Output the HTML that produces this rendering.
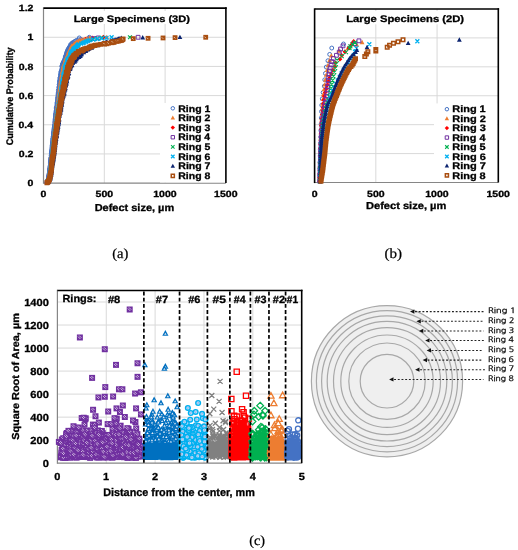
<!DOCTYPE html>
<html><head><meta charset="utf-8"><title>Large Specimens defect distributions</title>
<style>html,body{margin:0;padding:0;background:#fff;}svg{display:block;filter:blur(0.3px);}.p8{fill:#7030A0}.w8{fill:none;stroke:#fff;stroke-width:.75;opacity:.9}.p7{fill:#0070C0}.w7{fill:#e4ecf8}.p6{fill:#b8e6fa;stroke:#00B0F0;stroke-width:1.4}.w6{fill:none;stroke:#7070d8;stroke-width:.45}.p8a{fill:#A94E10}.w8a{fill:none;stroke:#fff;stroke-width:.7;opacity:.9}text{white-space:pre;text-rendering:geometricPrecision;}</style>
</head><body>
<svg width="518" height="550" viewBox="0 0 518 550"><line x1="43.5" y1="153.93" x2="225.9" y2="153.93" stroke="#d9d9d9" stroke-width="1"/>
<line x1="43.5" y1="124.77" x2="225.9" y2="124.77" stroke="#d9d9d9" stroke-width="1"/>
<line x1="43.5" y1="95.6" x2="225.9" y2="95.6" stroke="#d9d9d9" stroke-width="1"/>
<line x1="43.5" y1="66.43" x2="225.9" y2="66.43" stroke="#d9d9d9" stroke-width="1"/>
<line x1="43.5" y1="37.27" x2="225.9" y2="37.27" stroke="#d9d9d9" stroke-width="1"/>
<line x1="104.3" y1="183.1" x2="104.3" y2="8.1" stroke="#d9d9d9" stroke-width="1"/>
<line x1="165.1" y1="183.1" x2="165.1" y2="8.1" stroke="#d9d9d9" stroke-width="1"/>
<line x1="314.6" y1="153.58" x2="498.3" y2="153.58" stroke="#d9d9d9" stroke-width="1"/>
<line x1="314.6" y1="124.67" x2="498.3" y2="124.67" stroke="#d9d9d9" stroke-width="1"/>
<line x1="314.6" y1="95.75" x2="498.3" y2="95.75" stroke="#d9d9d9" stroke-width="1"/>
<line x1="314.6" y1="66.83" x2="498.3" y2="66.83" stroke="#d9d9d9" stroke-width="1"/>
<line x1="314.6" y1="37.92" x2="498.3" y2="37.92" stroke="#d9d9d9" stroke-width="1"/>
<line x1="375.83" y1="182.5" x2="375.83" y2="9" stroke="#d9d9d9" stroke-width="1"/>
<line x1="437.07" y1="182.5" x2="437.07" y2="9" stroke="#d9d9d9" stroke-width="1"/>
<line x1="57.4" y1="440.17" x2="301.7" y2="440.17" stroke="#d9d9d9" stroke-width="1"/>
<line x1="57.4" y1="417.15" x2="301.7" y2="417.15" stroke="#d9d9d9" stroke-width="1"/>
<line x1="57.4" y1="394.12" x2="301.7" y2="394.12" stroke="#d9d9d9" stroke-width="1"/>
<line x1="57.4" y1="371.09" x2="301.7" y2="371.09" stroke="#d9d9d9" stroke-width="1"/>
<line x1="57.4" y1="348.07" x2="301.7" y2="348.07" stroke="#d9d9d9" stroke-width="1"/>
<line x1="57.4" y1="325.04" x2="301.7" y2="325.04" stroke="#d9d9d9" stroke-width="1"/>
<line x1="57.4" y1="302.01" x2="301.7" y2="302.01" stroke="#d9d9d9" stroke-width="1"/>
<line x1="106.26" y1="463.2" x2="106.26" y2="290.5" stroke="#d9d9d9" stroke-width="1"/>
<line x1="155.12" y1="463.2" x2="155.12" y2="290.5" stroke="#d9d9d9" stroke-width="1"/>
<line x1="203.98" y1="463.2" x2="203.98" y2="290.5" stroke="#d9d9d9" stroke-width="1"/>
<line x1="252.84" y1="463.2" x2="252.84" y2="290.5" stroke="#d9d9d9" stroke-width="1"/>
<line x1="43.5" y1="183.1" x2="225.9" y2="183.1" stroke="#868686" stroke-width="1.2"/>
<line x1="43.5" y1="7.45" x2="43.5" y2="183.7" stroke="#868686" stroke-width="1.2"/>
<line x1="314.6" y1="182.5" x2="498.3" y2="182.5" stroke="#868686" stroke-width="1.2"/>
<line x1="314.6" y1="8.35" x2="314.6" y2="183.1" stroke="#000" stroke-width="1.6"/>
<line x1="57.4" y1="463.2" x2="301.7" y2="463.2" stroke="#868686" stroke-width="1.2"/>
<line x1="57.4" y1="289.85" x2="57.4" y2="463.8" stroke="#868686" stroke-width="1.2"/>
<path d="M47.11 180.04l2.4 2.4l-2.4 2.4l-2.4 -2.4ZM47.84 179.38l2.4 2.4l-2.4 2.4l-2.4 -2.4ZM47.94 178.72l2.4 2.4l-2.4 2.4l-2.4 -2.4ZM48.39 178.06l2.4 2.4l-2.4 2.4l-2.4 -2.4ZM48.43 177.4l2.4 2.4l-2.4 2.4l-2.4 -2.4ZM48.71 176.74l2.4 2.4l-2.4 2.4l-2.4 -2.4ZM49.03 176.08l2.4 2.4l-2.4 2.4l-2.4 -2.4ZM48.97 175.42l2.4 2.4l-2.4 2.4l-2.4 -2.4ZM49.1 174.76l2.4 2.4l-2.4 2.4l-2.4 -2.4ZM49.01 174.1l2.4 2.4l-2.4 2.4l-2.4 -2.4ZM49.35 173.44l2.4 2.4l-2.4 2.4l-2.4 -2.4ZM49.36 172.78l2.4 2.4l-2.4 2.4l-2.4 -2.4ZM49.37 172.12l2.4 2.4l-2.4 2.4l-2.4 -2.4ZM49.63 171.46l2.4 2.4l-2.4 2.4l-2.4 -2.4ZM49.55 170.8l2.4 2.4l-2.4 2.4l-2.4 -2.4ZM49.69 170.14l2.4 2.4l-2.4 2.4l-2.4 -2.4ZM49.67 169.48l2.4 2.4l-2.4 2.4l-2.4 -2.4ZM49.86 168.82l2.4 2.4l-2.4 2.4l-2.4 -2.4ZM49.88 168.16l2.4 2.4l-2.4 2.4l-2.4 -2.4ZM50 167.5l2.4 2.4l-2.4 2.4l-2.4 -2.4ZM50.3 166.84l2.4 2.4l-2.4 2.4l-2.4 -2.4ZM50.21 166.18l2.4 2.4l-2.4 2.4l-2.4 -2.4ZM50.36 165.52l2.4 2.4l-2.4 2.4l-2.4 -2.4ZM50.64 164.86l2.4 2.4l-2.4 2.4l-2.4 -2.4ZM50.7 164.2l2.4 2.4l-2.4 2.4l-2.4 -2.4ZM50.67 163.54l2.4 2.4l-2.4 2.4l-2.4 -2.4ZM50.66 162.88l2.4 2.4l-2.4 2.4l-2.4 -2.4ZM50.62 162.22l2.4 2.4l-2.4 2.4l-2.4 -2.4ZM50.64 161.56l2.4 2.4l-2.4 2.4l-2.4 -2.4ZM51.07 160.9l2.4 2.4l-2.4 2.4l-2.4 -2.4ZM50.94 160.24l2.4 2.4l-2.4 2.4l-2.4 -2.4ZM50.84 159.58l2.4 2.4l-2.4 2.4l-2.4 -2.4ZM51.14 158.92l2.4 2.4l-2.4 2.4l-2.4 -2.4ZM51.29 158.26l2.4 2.4l-2.4 2.4l-2.4 -2.4ZM51.29 157.6l2.4 2.4l-2.4 2.4l-2.4 -2.4ZM51.52 156.94l2.4 2.4l-2.4 2.4l-2.4 -2.4ZM51.18 156.28l2.4 2.4l-2.4 2.4l-2.4 -2.4ZM51.49 155.62l2.4 2.4l-2.4 2.4l-2.4 -2.4ZM51.54 154.96l2.4 2.4l-2.4 2.4l-2.4 -2.4ZM51.43 154.3l2.4 2.4l-2.4 2.4l-2.4 -2.4ZM51.79 153.64l2.4 2.4l-2.4 2.4l-2.4 -2.4ZM51.98 152.99l2.4 2.4l-2.4 2.4l-2.4 -2.4ZM51.93 152.33l2.4 2.4l-2.4 2.4l-2.4 -2.4ZM51.85 151.67l2.4 2.4l-2.4 2.4l-2.4 -2.4ZM52.21 151.01l2.4 2.4l-2.4 2.4l-2.4 -2.4ZM52.1 150.35l2.4 2.4l-2.4 2.4l-2.4 -2.4ZM52.17 149.69l2.4 2.4l-2.4 2.4l-2.4 -2.4ZM52.36 149.03l2.4 2.4l-2.4 2.4l-2.4 -2.4ZM52.11 148.37l2.4 2.4l-2.4 2.4l-2.4 -2.4ZM52.53 147.71l2.4 2.4l-2.4 2.4l-2.4 -2.4ZM52.53 147.05l2.4 2.4l-2.4 2.4l-2.4 -2.4ZM52.65 146.39l2.4 2.4l-2.4 2.4l-2.4 -2.4ZM52.4 145.73l2.4 2.4l-2.4 2.4l-2.4 -2.4ZM52.8 145.07l2.4 2.4l-2.4 2.4l-2.4 -2.4ZM52.53 144.41l2.4 2.4l-2.4 2.4l-2.4 -2.4ZM52.54 143.75l2.4 2.4l-2.4 2.4l-2.4 -2.4ZM53.04 143.09l2.4 2.4l-2.4 2.4l-2.4 -2.4ZM53.12 142.43l2.4 2.4l-2.4 2.4l-2.4 -2.4ZM53.2 141.77l2.4 2.4l-2.4 2.4l-2.4 -2.4ZM53.04 141.11l2.4 2.4l-2.4 2.4l-2.4 -2.4ZM53 140.45l2.4 2.4l-2.4 2.4l-2.4 -2.4ZM52.92 139.79l2.4 2.4l-2.4 2.4l-2.4 -2.4ZM53.36 139.13l2.4 2.4l-2.4 2.4l-2.4 -2.4ZM53.48 138.47l2.4 2.4l-2.4 2.4l-2.4 -2.4ZM53.62 137.81l2.4 2.4l-2.4 2.4l-2.4 -2.4ZM53.37 137.15l2.4 2.4l-2.4 2.4l-2.4 -2.4ZM53.4 136.49l2.4 2.4l-2.4 2.4l-2.4 -2.4ZM53.73 135.83l2.4 2.4l-2.4 2.4l-2.4 -2.4ZM53.91 135.17l2.4 2.4l-2.4 2.4l-2.4 -2.4ZM54.09 134.51l2.4 2.4l-2.4 2.4l-2.4 -2.4ZM53.67 133.85l2.4 2.4l-2.4 2.4l-2.4 -2.4ZM53.95 133.19l2.4 2.4l-2.4 2.4l-2.4 -2.4ZM54.29 132.53l2.4 2.4l-2.4 2.4l-2.4 -2.4ZM54.07 131.87l2.4 2.4l-2.4 2.4l-2.4 -2.4ZM54.26 131.21l2.4 2.4l-2.4 2.4l-2.4 -2.4ZM53.98 130.55l2.4 2.4l-2.4 2.4l-2.4 -2.4ZM54.48 129.89l2.4 2.4l-2.4 2.4l-2.4 -2.4ZM54.72 129.23l2.4 2.4l-2.4 2.4l-2.4 -2.4ZM54.75 128.57l2.4 2.4l-2.4 2.4l-2.4 -2.4ZM54.87 127.91l2.4 2.4l-2.4 2.4l-2.4 -2.4ZM54.8 127.25l2.4 2.4l-2.4 2.4l-2.4 -2.4ZM54.61 126.59l2.4 2.4l-2.4 2.4l-2.4 -2.4ZM55.05 125.93l2.4 2.4l-2.4 2.4l-2.4 -2.4ZM54.76 125.27l2.4 2.4l-2.4 2.4l-2.4 -2.4ZM55.27 124.61l2.4 2.4l-2.4 2.4l-2.4 -2.4ZM54.82 123.95l2.4 2.4l-2.4 2.4l-2.4 -2.4ZM55.44 123.29l2.4 2.4l-2.4 2.4l-2.4 -2.4ZM55.07 122.63l2.4 2.4l-2.4 2.4l-2.4 -2.4ZM55.29 121.97l2.4 2.4l-2.4 2.4l-2.4 -2.4ZM55.32 121.31l2.4 2.4l-2.4 2.4l-2.4 -2.4ZM55.66 120.65l2.4 2.4l-2.4 2.4l-2.4 -2.4ZM55.37 119.99l2.4 2.4l-2.4 2.4l-2.4 -2.4ZM55.6 119.33l2.4 2.4l-2.4 2.4l-2.4 -2.4ZM55.39 118.67l2.4 2.4l-2.4 2.4l-2.4 -2.4ZM55.65 118.01l2.4 2.4l-2.4 2.4l-2.4 -2.4ZM55.84 117.35l2.4 2.4l-2.4 2.4l-2.4 -2.4ZM55.69 116.69l2.4 2.4l-2.4 2.4l-2.4 -2.4ZM56.16 116.03l2.4 2.4l-2.4 2.4l-2.4 -2.4ZM56.04 115.37l2.4 2.4l-2.4 2.4l-2.4 -2.4ZM56.39 114.71l2.4 2.4l-2.4 2.4l-2.4 -2.4ZM56.41 114.05l2.4 2.4l-2.4 2.4l-2.4 -2.4ZM56.32 113.39l2.4 2.4l-2.4 2.4l-2.4 -2.4ZM56.74 112.73l2.4 2.4l-2.4 2.4l-2.4 -2.4ZM56.64 112.07l2.4 2.4l-2.4 2.4l-2.4 -2.4ZM56.86 111.41l2.4 2.4l-2.4 2.4l-2.4 -2.4ZM56.57 110.75l2.4 2.4l-2.4 2.4l-2.4 -2.4ZM56.81 110.09l2.4 2.4l-2.4 2.4l-2.4 -2.4ZM56.62 109.43l2.4 2.4l-2.4 2.4l-2.4 -2.4ZM57.35 108.77l2.4 2.4l-2.4 2.4l-2.4 -2.4ZM56.82 108.11l2.4 2.4l-2.4 2.4l-2.4 -2.4ZM56.91 107.45l2.4 2.4l-2.4 2.4l-2.4 -2.4ZM56.85 106.79l2.4 2.4l-2.4 2.4l-2.4 -2.4ZM57.08 106.13l2.4 2.4l-2.4 2.4l-2.4 -2.4ZM57.59 105.47l2.4 2.4l-2.4 2.4l-2.4 -2.4ZM57.62 104.81l2.4 2.4l-2.4 2.4l-2.4 -2.4ZM57.23 104.15l2.4 2.4l-2.4 2.4l-2.4 -2.4ZM57.52 103.49l2.4 2.4l-2.4 2.4l-2.4 -2.4ZM57.65 102.83l2.4 2.4l-2.4 2.4l-2.4 -2.4ZM57.94 102.17l2.4 2.4l-2.4 2.4l-2.4 -2.4ZM57.85 101.51l2.4 2.4l-2.4 2.4l-2.4 -2.4ZM58.06 100.85l2.4 2.4l-2.4 2.4l-2.4 -2.4ZM58.37 100.19l2.4 2.4l-2.4 2.4l-2.4 -2.4ZM58.36 99.53l2.4 2.4l-2.4 2.4l-2.4 -2.4ZM58.13 98.87l2.4 2.4l-2.4 2.4l-2.4 -2.4ZM58.3 98.22l2.4 2.4l-2.4 2.4l-2.4 -2.4ZM58.31 97.56l2.4 2.4l-2.4 2.4l-2.4 -2.4ZM58.16 96.9l2.4 2.4l-2.4 2.4l-2.4 -2.4ZM58.32 96.24l2.4 2.4l-2.4 2.4l-2.4 -2.4ZM58.47 95.58l2.4 2.4l-2.4 2.4l-2.4 -2.4ZM58.58 94.92l2.4 2.4l-2.4 2.4l-2.4 -2.4ZM58.66 94.26l2.4 2.4l-2.4 2.4l-2.4 -2.4ZM58.98 93.6l2.4 2.4l-2.4 2.4l-2.4 -2.4ZM59.44 92.94l2.4 2.4l-2.4 2.4l-2.4 -2.4ZM59.33 92.28l2.4 2.4l-2.4 2.4l-2.4 -2.4ZM59.43 91.62l2.4 2.4l-2.4 2.4l-2.4 -2.4ZM59.49 90.96l2.4 2.4l-2.4 2.4l-2.4 -2.4ZM59.42 90.3l2.4 2.4l-2.4 2.4l-2.4 -2.4ZM59.81 89.64l2.4 2.4l-2.4 2.4l-2.4 -2.4ZM59.68 88.98l2.4 2.4l-2.4 2.4l-2.4 -2.4ZM59.58 88.32l2.4 2.4l-2.4 2.4l-2.4 -2.4ZM59.26 87.66l2.4 2.4l-2.4 2.4l-2.4 -2.4ZM59.74 87l2.4 2.4l-2.4 2.4l-2.4 -2.4ZM59.56 86.34l2.4 2.4l-2.4 2.4l-2.4 -2.4ZM59.57 85.68l2.4 2.4l-2.4 2.4l-2.4 -2.4ZM60.02 85.02l2.4 2.4l-2.4 2.4l-2.4 -2.4ZM60.39 84.36l2.4 2.4l-2.4 2.4l-2.4 -2.4ZM59.98 83.7l2.4 2.4l-2.4 2.4l-2.4 -2.4ZM60.55 83.04l2.4 2.4l-2.4 2.4l-2.4 -2.4ZM60.39 82.38l2.4 2.4l-2.4 2.4l-2.4 -2.4ZM60.1 81.72l2.4 2.4l-2.4 2.4l-2.4 -2.4ZM61.03 81.06l2.4 2.4l-2.4 2.4l-2.4 -2.4ZM60.54 80.4l2.4 2.4l-2.4 2.4l-2.4 -2.4ZM60.52 79.74l2.4 2.4l-2.4 2.4l-2.4 -2.4ZM61.18 79.08l2.4 2.4l-2.4 2.4l-2.4 -2.4ZM60.52 78.42l2.4 2.4l-2.4 2.4l-2.4 -2.4ZM61.25 77.76l2.4 2.4l-2.4 2.4l-2.4 -2.4ZM60.77 77.1l2.4 2.4l-2.4 2.4l-2.4 -2.4ZM61.08 76.44l2.4 2.4l-2.4 2.4l-2.4 -2.4ZM61.01 75.78l2.4 2.4l-2.4 2.4l-2.4 -2.4ZM61.76 75.12l2.4 2.4l-2.4 2.4l-2.4 -2.4ZM61.37 74.46l2.4 2.4l-2.4 2.4l-2.4 -2.4ZM62.1 73.8l2.4 2.4l-2.4 2.4l-2.4 -2.4ZM61.82 73.14l2.4 2.4l-2.4 2.4l-2.4 -2.4ZM61.99 72.48l2.4 2.4l-2.4 2.4l-2.4 -2.4ZM61.9 71.82l2.4 2.4l-2.4 2.4l-2.4 -2.4ZM61.77 71.16l2.4 2.4l-2.4 2.4l-2.4 -2.4ZM61.96 70.5l2.4 2.4l-2.4 2.4l-2.4 -2.4ZM62.68 69.84l2.4 2.4l-2.4 2.4l-2.4 -2.4ZM61.94 69.18l2.4 2.4l-2.4 2.4l-2.4 -2.4ZM62.94 68.52l2.4 2.4l-2.4 2.4l-2.4 -2.4ZM62.78 67.86l2.4 2.4l-2.4 2.4l-2.4 -2.4ZM62.42 67.2l2.4 2.4l-2.4 2.4l-2.4 -2.4ZM62.85 66.54l2.4 2.4l-2.4 2.4l-2.4 -2.4ZM62.65 65.88l2.4 2.4l-2.4 2.4l-2.4 -2.4ZM62.76 65.22l2.4 2.4l-2.4 2.4l-2.4 -2.4ZM63 64.56l2.4 2.4l-2.4 2.4l-2.4 -2.4ZM62.66 63.9l2.4 2.4l-2.4 2.4l-2.4 -2.4ZM63.44 63.24l2.4 2.4l-2.4 2.4l-2.4 -2.4ZM64.25 62.58l2.4 2.4l-2.4 2.4l-2.4 -2.4ZM63.64 61.92l2.4 2.4l-2.4 2.4l-2.4 -2.4ZM64.44 61.26l2.4 2.4l-2.4 2.4l-2.4 -2.4ZM64.29 60.6l2.4 2.4l-2.4 2.4l-2.4 -2.4ZM64.23 59.94l2.4 2.4l-2.4 2.4l-2.4 -2.4ZM65.36 59.28l2.4 2.4l-2.4 2.4l-2.4 -2.4ZM64.46 58.62l2.4 2.4l-2.4 2.4l-2.4 -2.4ZM65.06 57.96l2.4 2.4l-2.4 2.4l-2.4 -2.4ZM66.24 57.3l2.4 2.4l-2.4 2.4l-2.4 -2.4ZM65.51 56.64l2.4 2.4l-2.4 2.4l-2.4 -2.4ZM66.58 55.98l2.4 2.4l-2.4 2.4l-2.4 -2.4ZM66.51 55.32l2.4 2.4l-2.4 2.4l-2.4 -2.4ZM67.07 54.66l2.4 2.4l-2.4 2.4l-2.4 -2.4ZM67.1 54l2.4 2.4l-2.4 2.4l-2.4 -2.4ZM67 53.34l2.4 2.4l-2.4 2.4l-2.4 -2.4ZM67.86 52.68l2.4 2.4l-2.4 2.4l-2.4 -2.4ZM67.09 52.02l2.4 2.4l-2.4 2.4l-2.4 -2.4ZM67.98 51.36l2.4 2.4l-2.4 2.4l-2.4 -2.4ZM68.13 50.7l2.4 2.4l-2.4 2.4l-2.4 -2.4ZM68.53 50.04l2.4 2.4l-2.4 2.4l-2.4 -2.4ZM68.25 49.38l2.4 2.4l-2.4 2.4l-2.4 -2.4ZM68.63 48.72l2.4 2.4l-2.4 2.4l-2.4 -2.4ZM69.4 48.06l2.4 2.4l-2.4 2.4l-2.4 -2.4ZM69.39 47.4l2.4 2.4l-2.4 2.4l-2.4 -2.4ZM70.28 46.74l2.4 2.4l-2.4 2.4l-2.4 -2.4ZM70.24 46.08l2.4 2.4l-2.4 2.4l-2.4 -2.4ZM70.93 45.42l2.4 2.4l-2.4 2.4l-2.4 -2.4ZM70.98 44.76l2.4 2.4l-2.4 2.4l-2.4 -2.4ZM71.43 44.1l2.4 2.4l-2.4 2.4l-2.4 -2.4ZM71.79 43.45l2.4 2.4l-2.4 2.4l-2.4 -2.4ZM73.58 42.79l2.4 2.4l-2.4 2.4l-2.4 -2.4ZM73.58 42.13l2.4 2.4l-2.4 2.4l-2.4 -2.4ZM74.23 41.47l2.4 2.4l-2.4 2.4l-2.4 -2.4ZM76.95 40.81l2.4 2.4l-2.4 2.4l-2.4 -2.4ZM77.17 40.15l2.4 2.4l-2.4 2.4l-2.4 -2.4ZM78.75 39.49l2.4 2.4l-2.4 2.4l-2.4 -2.4ZM79.29 38.83l2.4 2.4l-2.4 2.4l-2.4 -2.4ZM80.82 38.17l2.4 2.4l-2.4 2.4l-2.4 -2.4ZM83 37.51l2.4 2.4l-2.4 2.4l-2.4 -2.4ZM85.46 36.85l2.4 2.4l-2.4 2.4l-2.4 -2.4ZM88.68 36.19l2.4 2.4l-2.4 2.4l-2.4 -2.4ZM92.14 35.53l2.4 2.4l-2.4 2.4l-2.4 -2.4ZM103.33 34.87l2.4 2.4l-2.4 2.4l-2.4 -2.4Z" fill="#FF0000" stroke="none" stroke-width="1"/>
<path d="M45.18 180.54h3.8v3.8h-3.8ZM46 179.88h3.8v3.8h-3.8ZM46.1 179.22h3.8v3.8h-3.8ZM46.43 178.56h3.8v3.8h-3.8ZM46.55 177.9h3.8v3.8h-3.8ZM46.98 177.24h3.8v3.8h-3.8ZM47.02 176.58h3.8v3.8h-3.8ZM47.06 175.92h3.8v3.8h-3.8ZM47.11 175.26h3.8v3.8h-3.8ZM47.24 174.6h3.8v3.8h-3.8ZM47.33 173.94h3.8v3.8h-3.8ZM47.54 173.28h3.8v3.8h-3.8ZM47.6 172.62h3.8v3.8h-3.8ZM47.88 171.96h3.8v3.8h-3.8ZM47.98 171.3h3.8v3.8h-3.8ZM48.01 170.64h3.8v3.8h-3.8ZM48.06 169.98h3.8v3.8h-3.8ZM48.23 169.32h3.8v3.8h-3.8ZM48.37 168.66h3.8v3.8h-3.8ZM48.1 168h3.8v3.8h-3.8ZM48.24 167.34h3.8v3.8h-3.8ZM48.44 166.68h3.8v3.8h-3.8ZM48.4 166.02h3.8v3.8h-3.8ZM48.68 165.36h3.8v3.8h-3.8ZM48.6 164.7h3.8v3.8h-3.8ZM48.68 164.04h3.8v3.8h-3.8ZM48.76 163.38h3.8v3.8h-3.8ZM48.75 162.72h3.8v3.8h-3.8ZM49.1 162.06h3.8v3.8h-3.8ZM49.14 161.4h3.8v3.8h-3.8ZM49.19 160.74h3.8v3.8h-3.8ZM49.01 160.08h3.8v3.8h-3.8ZM49.26 159.42h3.8v3.8h-3.8ZM49.46 158.76h3.8v3.8h-3.8ZM49.29 158.1h3.8v3.8h-3.8ZM49.47 157.44h3.8v3.8h-3.8ZM49.38 156.78h3.8v3.8h-3.8ZM49.49 156.12h3.8v3.8h-3.8ZM49.63 155.46h3.8v3.8h-3.8ZM49.81 154.8h3.8v3.8h-3.8ZM49.92 154.14h3.8v3.8h-3.8ZM50.21 153.49h3.8v3.8h-3.8ZM50.01 152.83h3.8v3.8h-3.8ZM49.94 152.17h3.8v3.8h-3.8ZM50.42 151.51h3.8v3.8h-3.8ZM50.09 150.85h3.8v3.8h-3.8ZM50.17 150.19h3.8v3.8h-3.8ZM50.7 149.53h3.8v3.8h-3.8ZM50.65 148.87h3.8v3.8h-3.8ZM50.5 148.21h3.8v3.8h-3.8ZM50.46 147.55h3.8v3.8h-3.8ZM50.66 146.89h3.8v3.8h-3.8ZM50.7 146.23h3.8v3.8h-3.8ZM51.07 145.57h3.8v3.8h-3.8ZM50.89 144.91h3.8v3.8h-3.8ZM50.77 144.25h3.8v3.8h-3.8ZM51.32 143.59h3.8v3.8h-3.8ZM51.21 142.93h3.8v3.8h-3.8ZM51 142.27h3.8v3.8h-3.8ZM51.07 141.61h3.8v3.8h-3.8ZM51.34 140.95h3.8v3.8h-3.8ZM51.2 140.29h3.8v3.8h-3.8ZM51.59 139.63h3.8v3.8h-3.8ZM51.66 138.97h3.8v3.8h-3.8ZM51.38 138.31h3.8v3.8h-3.8ZM51.93 137.65h3.8v3.8h-3.8ZM51.99 136.99h3.8v3.8h-3.8ZM52.15 136.33h3.8v3.8h-3.8ZM52.08 135.67h3.8v3.8h-3.8ZM52.17 135.01h3.8v3.8h-3.8ZM51.92 134.35h3.8v3.8h-3.8ZM51.91 133.69h3.8v3.8h-3.8ZM52.01 133.03h3.8v3.8h-3.8ZM52.67 132.37h3.8v3.8h-3.8ZM52.55 131.71h3.8v3.8h-3.8ZM52.83 131.05h3.8v3.8h-3.8ZM52.52 130.39h3.8v3.8h-3.8ZM52.87 129.73h3.8v3.8h-3.8ZM52.5 129.07h3.8v3.8h-3.8ZM52.65 128.41h3.8v3.8h-3.8ZM52.8 127.75h3.8v3.8h-3.8ZM53.07 127.09h3.8v3.8h-3.8ZM53.17 126.43h3.8v3.8h-3.8ZM53.21 125.77h3.8v3.8h-3.8ZM53.25 125.11h3.8v3.8h-3.8ZM53.44 124.45h3.8v3.8h-3.8ZM53.82 123.79h3.8v3.8h-3.8ZM53.54 123.13h3.8v3.8h-3.8ZM53.89 122.47h3.8v3.8h-3.8ZM53.4 121.81h3.8v3.8h-3.8ZM53.71 121.15h3.8v3.8h-3.8ZM53.92 120.49h3.8v3.8h-3.8ZM54.04 119.83h3.8v3.8h-3.8ZM53.84 119.17h3.8v3.8h-3.8ZM54.03 118.51h3.8v3.8h-3.8ZM54.52 117.85h3.8v3.8h-3.8ZM54.37 117.19h3.8v3.8h-3.8ZM54.4 116.53h3.8v3.8h-3.8ZM54.08 115.87h3.8v3.8h-3.8ZM54.15 115.21h3.8v3.8h-3.8ZM54.35 114.55h3.8v3.8h-3.8ZM54.37 113.89h3.8v3.8h-3.8ZM55.12 113.23h3.8v3.8h-3.8ZM54.43 112.57h3.8v3.8h-3.8ZM54.79 111.91h3.8v3.8h-3.8ZM54.63 111.25h3.8v3.8h-3.8ZM55.18 110.59h3.8v3.8h-3.8ZM54.79 109.93h3.8v3.8h-3.8ZM54.89 109.27h3.8v3.8h-3.8ZM54.98 108.61h3.8v3.8h-3.8ZM55.22 107.95h3.8v3.8h-3.8ZM55.55 107.29h3.8v3.8h-3.8ZM55.83 106.63h3.8v3.8h-3.8ZM55.47 105.97h3.8v3.8h-3.8ZM55.57 105.31h3.8v3.8h-3.8ZM56.12 104.65h3.8v3.8h-3.8ZM56.14 103.99h3.8v3.8h-3.8ZM55.7 103.33h3.8v3.8h-3.8ZM56.38 102.67h3.8v3.8h-3.8ZM56.49 102.01h3.8v3.8h-3.8ZM56.01 101.35h3.8v3.8h-3.8ZM56.49 100.69h3.8v3.8h-3.8ZM56.2 100.03h3.8v3.8h-3.8ZM56.33 99.37h3.8v3.8h-3.8ZM56.65 98.72h3.8v3.8h-3.8ZM56.76 98.06h3.8v3.8h-3.8ZM56.8 97.4h3.8v3.8h-3.8ZM56.94 96.74h3.8v3.8h-3.8ZM56.72 96.08h3.8v3.8h-3.8ZM57.33 95.42h3.8v3.8h-3.8ZM56.94 94.76h3.8v3.8h-3.8ZM57.62 94.1h3.8v3.8h-3.8ZM57.33 93.44h3.8v3.8h-3.8ZM57.21 92.78h3.8v3.8h-3.8ZM57.17 92.12h3.8v3.8h-3.8ZM57.55 91.46h3.8v3.8h-3.8ZM57.53 90.8h3.8v3.8h-3.8ZM57.86 90.14h3.8v3.8h-3.8ZM57.82 89.48h3.8v3.8h-3.8ZM57.46 88.82h3.8v3.8h-3.8ZM58.33 88.16h3.8v3.8h-3.8ZM57.64 87.5h3.8v3.8h-3.8ZM58.5 86.84h3.8v3.8h-3.8ZM58.57 86.18h3.8v3.8h-3.8ZM58.78 85.52h3.8v3.8h-3.8ZM58.6 84.86h3.8v3.8h-3.8ZM58.18 84.2h3.8v3.8h-3.8ZM58.56 83.54h3.8v3.8h-3.8ZM58.64 82.88h3.8v3.8h-3.8ZM58.93 82.22h3.8v3.8h-3.8ZM58.76 81.56h3.8v3.8h-3.8ZM59.16 80.9h3.8v3.8h-3.8ZM58.76 80.24h3.8v3.8h-3.8ZM59.01 79.58h3.8v3.8h-3.8ZM59.31 78.92h3.8v3.8h-3.8ZM59.28 78.26h3.8v3.8h-3.8ZM59.05 77.6h3.8v3.8h-3.8ZM60.06 76.94h3.8v3.8h-3.8ZM59.85 76.28h3.8v3.8h-3.8ZM60.11 75.62h3.8v3.8h-3.8ZM59.69 74.96h3.8v3.8h-3.8ZM60.44 74.3h3.8v3.8h-3.8ZM60.39 73.64h3.8v3.8h-3.8ZM60.68 72.98h3.8v3.8h-3.8ZM59.9 72.32h3.8v3.8h-3.8ZM60.31 71.66h3.8v3.8h-3.8ZM60.31 71h3.8v3.8h-3.8ZM60.67 70.34h3.8v3.8h-3.8ZM60.36 69.68h3.8v3.8h-3.8ZM60.29 69.02h3.8v3.8h-3.8ZM60.82 68.36h3.8v3.8h-3.8ZM61.12 67.7h3.8v3.8h-3.8ZM60.92 67.04h3.8v3.8h-3.8ZM61.75 66.38h3.8v3.8h-3.8ZM61.16 65.72h3.8v3.8h-3.8ZM61.14 65.06h3.8v3.8h-3.8ZM61.98 64.4h3.8v3.8h-3.8ZM61.79 63.74h3.8v3.8h-3.8ZM61.78 63.08h3.8v3.8h-3.8ZM62.02 62.42h3.8v3.8h-3.8ZM63.09 61.76h3.8v3.8h-3.8ZM63.35 61.1h3.8v3.8h-3.8ZM63.18 60.44h3.8v3.8h-3.8ZM62.95 59.78h3.8v3.8h-3.8ZM63.76 59.12h3.8v3.8h-3.8ZM63.36 58.46h3.8v3.8h-3.8ZM63.74 57.8h3.8v3.8h-3.8ZM64.3 57.14h3.8v3.8h-3.8ZM64.38 56.48h3.8v3.8h-3.8ZM64.59 55.82h3.8v3.8h-3.8ZM65.75 55.16h3.8v3.8h-3.8ZM64.89 54.5h3.8v3.8h-3.8ZM65.8 53.84h3.8v3.8h-3.8ZM65.26 53.18h3.8v3.8h-3.8ZM65.62 52.52h3.8v3.8h-3.8ZM66.08 51.86h3.8v3.8h-3.8ZM67.52 51.2h3.8v3.8h-3.8ZM67.36 50.54h3.8v3.8h-3.8ZM67.84 49.88h3.8v3.8h-3.8ZM66.83 49.22h3.8v3.8h-3.8ZM68.06 48.56h3.8v3.8h-3.8ZM67.94 47.9h3.8v3.8h-3.8ZM68.16 47.24h3.8v3.8h-3.8ZM68.89 46.58h3.8v3.8h-3.8ZM68.51 45.92h3.8v3.8h-3.8ZM69.11 45.26h3.8v3.8h-3.8ZM69.51 44.6h3.8v3.8h-3.8ZM70.89 43.95h3.8v3.8h-3.8ZM72.36 43.29h3.8v3.8h-3.8ZM72.92 42.63h3.8v3.8h-3.8ZM74.45 41.97h3.8v3.8h-3.8ZM76.11 41.31h3.8v3.8h-3.8ZM77.65 40.65h3.8v3.8h-3.8ZM79.89 39.99h3.8v3.8h-3.8ZM80.76 39.33h3.8v3.8h-3.8ZM82.77 38.67h3.8v3.8h-3.8ZM85.5 38.01h3.8v3.8h-3.8ZM88.52 37.35h3.8v3.8h-3.8ZM92.27 36.69h3.8v3.8h-3.8ZM96.32 36.03h3.8v3.8h-3.8ZM136.2 35.37h3.8v3.8h-3.8Z" fill="none" stroke="#7030A0" stroke-width="1"/>
<path d="M45.16 180.49l3.9 3.9M49.06 180.49l-3.9 3.9M45.89 179.83l3.9 3.9M49.79 179.83l-3.9 3.9M46.21 179.17l3.9 3.9M50.11 179.17l-3.9 3.9M46.31 178.51l3.9 3.9M50.21 178.51l-3.9 3.9M46.72 177.85l3.9 3.9M50.62 177.85l-3.9 3.9M46.93 177.19l3.9 3.9M50.83 177.19l-3.9 3.9M47.07 176.53l3.9 3.9M50.97 176.53l-3.9 3.9M47.33 175.87l3.9 3.9M51.23 175.87l-3.9 3.9M47.39 175.21l3.9 3.9M51.29 175.21l-3.9 3.9M47.26 174.55l3.9 3.9M51.16 174.55l-3.9 3.9M47.33 173.89l3.9 3.9M51.23 173.89l-3.9 3.9M47.69 173.23l3.9 3.9M51.59 173.23l-3.9 3.9M47.5 172.57l3.9 3.9M51.4 172.57l-3.9 3.9M47.81 171.91l3.9 3.9M51.71 171.91l-3.9 3.9M47.74 171.25l3.9 3.9M51.64 171.25l-3.9 3.9M47.85 170.59l3.9 3.9M51.75 170.59l-3.9 3.9M48.02 169.93l3.9 3.9M51.92 169.93l-3.9 3.9M48.27 169.27l3.9 3.9M52.17 169.27l-3.9 3.9M48.01 168.61l3.9 3.9M51.91 168.61l-3.9 3.9M48.17 167.95l3.9 3.9M52.07 167.95l-3.9 3.9M48.5 167.29l3.9 3.9M52.4 167.29l-3.9 3.9M48.47 166.63l3.9 3.9M52.37 166.63l-3.9 3.9M48.49 165.97l3.9 3.9M52.39 165.97l-3.9 3.9M48.85 165.31l3.9 3.9M52.75 165.31l-3.9 3.9M48.62 164.65l3.9 3.9M52.52 164.65l-3.9 3.9M48.89 163.99l3.9 3.9M52.79 163.99l-3.9 3.9M49.07 163.33l3.9 3.9M52.97 163.33l-3.9 3.9M49.06 162.67l3.9 3.9M52.96 162.67l-3.9 3.9M49.11 162.01l3.9 3.9M53.01 162.01l-3.9 3.9M49.19 161.35l3.9 3.9M53.09 161.35l-3.9 3.9M49.3 160.69l3.9 3.9M53.2 160.69l-3.9 3.9M49.14 160.03l3.9 3.9M53.04 160.03l-3.9 3.9M49.38 159.37l3.9 3.9M53.28 159.37l-3.9 3.9M49.54 158.71l3.9 3.9M53.44 158.71l-3.9 3.9M49.66 158.05l3.9 3.9M53.56 158.05l-3.9 3.9M49.75 157.39l3.9 3.9M53.65 157.39l-3.9 3.9M49.83 156.73l3.9 3.9M53.73 156.73l-3.9 3.9M49.52 156.07l3.9 3.9M53.42 156.07l-3.9 3.9M49.74 155.41l3.9 3.9M53.64 155.41l-3.9 3.9M49.86 154.75l3.9 3.9M53.76 154.75l-3.9 3.9M50.16 154.09l3.9 3.9M54.06 154.09l-3.9 3.9M50.01 153.44l3.9 3.9M53.91 153.44l-3.9 3.9M50.01 152.78l3.9 3.9M53.91 152.78l-3.9 3.9M49.97 152.12l3.9 3.9M53.87 152.12l-3.9 3.9M50.17 151.46l3.9 3.9M54.07 151.46l-3.9 3.9M50.5 150.8l3.9 3.9M54.4 150.8l-3.9 3.9M50.16 150.14l3.9 3.9M54.06 150.14l-3.9 3.9M50.31 149.48l3.9 3.9M54.21 149.48l-3.9 3.9M50.45 148.82l3.9 3.9M54.35 148.82l-3.9 3.9M50.64 148.16l3.9 3.9M54.54 148.16l-3.9 3.9M50.61 147.5l3.9 3.9M54.51 147.5l-3.9 3.9M50.97 146.84l3.9 3.9M54.87 146.84l-3.9 3.9M50.67 146.18l3.9 3.9M54.57 146.18l-3.9 3.9M50.93 145.52l3.9 3.9M54.83 145.52l-3.9 3.9M51.13 144.86l3.9 3.9M55.03 144.86l-3.9 3.9M51.29 144.2l3.9 3.9M55.19 144.2l-3.9 3.9M51.33 143.54l3.9 3.9M55.23 143.54l-3.9 3.9M50.98 142.88l3.9 3.9M54.88 142.88l-3.9 3.9M51.43 142.22l3.9 3.9M55.33 142.22l-3.9 3.9M51.43 141.56l3.9 3.9M55.33 141.56l-3.9 3.9M51.36 140.9l3.9 3.9M55.26 140.9l-3.9 3.9M51.2 140.24l3.9 3.9M55.1 140.24l-3.9 3.9M51.36 139.58l3.9 3.9M55.26 139.58l-3.9 3.9M51.78 138.92l3.9 3.9M55.68 138.92l-3.9 3.9M51.46 138.26l3.9 3.9M55.36 138.26l-3.9 3.9M51.67 137.6l3.9 3.9M55.57 137.6l-3.9 3.9M51.71 136.94l3.9 3.9M55.61 136.94l-3.9 3.9M52.09 136.28l3.9 3.9M55.99 136.28l-3.9 3.9M51.93 135.62l3.9 3.9M55.83 135.62l-3.9 3.9M51.84 134.96l3.9 3.9M55.74 134.96l-3.9 3.9M52.09 134.3l3.9 3.9M55.99 134.3l-3.9 3.9M52.15 133.64l3.9 3.9M56.05 133.64l-3.9 3.9M52.48 132.98l3.9 3.9M56.38 132.98l-3.9 3.9M52.3 132.32l3.9 3.9M56.2 132.32l-3.9 3.9M52.63 131.66l3.9 3.9M56.53 131.66l-3.9 3.9M52.61 131l3.9 3.9M56.51 131l-3.9 3.9M52.93 130.34l3.9 3.9M56.83 130.34l-3.9 3.9M52.91 129.68l3.9 3.9M56.81 129.68l-3.9 3.9M52.78 129.02l3.9 3.9M56.68 129.02l-3.9 3.9M52.91 128.36l3.9 3.9M56.81 128.36l-3.9 3.9M52.99 127.7l3.9 3.9M56.89 127.7l-3.9 3.9M53.36 127.04l3.9 3.9M57.26 127.04l-3.9 3.9M52.93 126.38l3.9 3.9M56.83 126.38l-3.9 3.9M53.22 125.72l3.9 3.9M57.12 125.72l-3.9 3.9M53.39 125.06l3.9 3.9M57.29 125.06l-3.9 3.9M53.41 124.4l3.9 3.9M57.31 124.4l-3.9 3.9M53.61 123.74l3.9 3.9M57.51 123.74l-3.9 3.9M53.63 123.08l3.9 3.9M57.53 123.08l-3.9 3.9M53.64 122.42l3.9 3.9M57.54 122.42l-3.9 3.9M53.92 121.76l3.9 3.9M57.82 121.76l-3.9 3.9M53.73 121.1l3.9 3.9M57.63 121.1l-3.9 3.9M54.02 120.44l3.9 3.9M57.92 120.44l-3.9 3.9M54.18 119.78l3.9 3.9M58.08 119.78l-3.9 3.9M53.82 119.12l3.9 3.9M57.72 119.12l-3.9 3.9M54.04 118.46l3.9 3.9M57.94 118.46l-3.9 3.9M54.59 117.8l3.9 3.9M58.49 117.8l-3.9 3.9M54.69 117.14l3.9 3.9M58.59 117.14l-3.9 3.9M54.79 116.48l3.9 3.9M58.69 116.48l-3.9 3.9M54.13 115.82l3.9 3.9M58.03 115.82l-3.9 3.9M54.82 115.16l3.9 3.9M58.72 115.16l-3.9 3.9M54.99 114.5l3.9 3.9M58.89 114.5l-3.9 3.9M55.05 113.84l3.9 3.9M58.95 113.84l-3.9 3.9M54.98 113.18l3.9 3.9M58.88 113.18l-3.9 3.9M55.03 112.52l3.9 3.9M58.93 112.52l-3.9 3.9M55.15 111.86l3.9 3.9M59.05 111.86l-3.9 3.9M55.12 111.2l3.9 3.9M59.02 111.2l-3.9 3.9M55.38 110.54l3.9 3.9M59.28 110.54l-3.9 3.9M55.23 109.88l3.9 3.9M59.13 109.88l-3.9 3.9M55.09 109.22l3.9 3.9M58.99 109.22l-3.9 3.9M55.06 108.56l3.9 3.9M58.96 108.56l-3.9 3.9M55.83 107.9l3.9 3.9M59.73 107.9l-3.9 3.9M55.79 107.24l3.9 3.9M59.69 107.24l-3.9 3.9M55.39 106.58l3.9 3.9M59.29 106.58l-3.9 3.9M56.02 105.92l3.9 3.9M59.92 105.92l-3.9 3.9M55.66 105.26l3.9 3.9M59.56 105.26l-3.9 3.9M56.04 104.6l3.9 3.9M59.94 104.6l-3.9 3.9M55.89 103.94l3.9 3.9M59.79 103.94l-3.9 3.9M55.85 103.28l3.9 3.9M59.75 103.28l-3.9 3.9M55.91 102.62l3.9 3.9M59.81 102.62l-3.9 3.9M55.91 101.96l3.9 3.9M59.81 101.96l-3.9 3.9M56 101.3l3.9 3.9M59.9 101.3l-3.9 3.9M56.09 100.64l3.9 3.9M59.99 100.64l-3.9 3.9M56.19 99.98l3.9 3.9M60.09 99.98l-3.9 3.9M56.96 99.32l3.9 3.9M60.86 99.32l-3.9 3.9M56.76 98.67l3.9 3.9M60.66 98.67l-3.9 3.9M56.5 98.01l3.9 3.9M60.4 98.01l-3.9 3.9M56.94 97.35l3.9 3.9M60.84 97.35l-3.9 3.9M57.04 96.69l3.9 3.9M60.94 96.69l-3.9 3.9M57.07 96.03l3.9 3.9M60.97 96.03l-3.9 3.9M56.89 95.37l3.9 3.9M60.79 95.37l-3.9 3.9M57.18 94.71l3.9 3.9M61.08 94.71l-3.9 3.9M57.68 94.05l3.9 3.9M61.58 94.05l-3.9 3.9M57.3 93.39l3.9 3.9M61.2 93.39l-3.9 3.9M57.5 92.73l3.9 3.9M61.4 92.73l-3.9 3.9M58 92.07l3.9 3.9M61.9 92.07l-3.9 3.9M57.41 91.41l3.9 3.9M61.31 91.41l-3.9 3.9M57.97 90.75l3.9 3.9M61.87 90.75l-3.9 3.9M57.82 90.09l3.9 3.9M61.72 90.09l-3.9 3.9M58.21 89.43l3.9 3.9M62.11 89.43l-3.9 3.9M57.87 88.77l3.9 3.9M61.77 88.77l-3.9 3.9M58.14 88.11l3.9 3.9M62.04 88.11l-3.9 3.9M58.06 87.45l3.9 3.9M61.96 87.45l-3.9 3.9M58.65 86.79l3.9 3.9M62.55 86.79l-3.9 3.9M58.79 86.13l3.9 3.9M62.69 86.13l-3.9 3.9M58.59 85.47l3.9 3.9M62.49 85.47l-3.9 3.9M59.04 84.81l3.9 3.9M62.94 84.81l-3.9 3.9M58.87 84.15l3.9 3.9M62.77 84.15l-3.9 3.9M59.07 83.49l3.9 3.9M62.97 83.49l-3.9 3.9M59.23 82.83l3.9 3.9M63.13 82.83l-3.9 3.9M58.67 82.17l3.9 3.9M62.57 82.17l-3.9 3.9M59.52 81.51l3.9 3.9M63.42 81.51l-3.9 3.9M58.98 80.85l3.9 3.9M62.88 80.85l-3.9 3.9M59.18 80.19l3.9 3.9M63.08 80.19l-3.9 3.9M58.94 79.53l3.9 3.9M62.84 79.53l-3.9 3.9M59.72 78.87l3.9 3.9M63.62 78.87l-3.9 3.9M59.3 78.21l3.9 3.9M63.2 78.21l-3.9 3.9M59.77 77.55l3.9 3.9M63.67 77.55l-3.9 3.9M59.36 76.89l3.9 3.9M63.26 76.89l-3.9 3.9M59.6 76.23l3.9 3.9M63.5 76.23l-3.9 3.9M59.74 75.57l3.9 3.9M63.64 75.57l-3.9 3.9M59.67 74.91l3.9 3.9M63.57 74.91l-3.9 3.9M59.55 74.25l3.9 3.9M63.45 74.25l-3.9 3.9M60.46 73.59l3.9 3.9M64.36 73.59l-3.9 3.9M60.77 72.93l3.9 3.9M64.67 72.93l-3.9 3.9M60.06 72.27l3.9 3.9M63.96 72.27l-3.9 3.9M60.09 71.61l3.9 3.9M63.99 71.61l-3.9 3.9M60.39 70.95l3.9 3.9M64.29 70.95l-3.9 3.9M60.2 70.29l3.9 3.9M64.1 70.29l-3.9 3.9M60.95 69.63l3.9 3.9M64.85 69.63l-3.9 3.9M60.72 68.97l3.9 3.9M64.62 68.97l-3.9 3.9M61.05 68.31l3.9 3.9M64.95 68.31l-3.9 3.9M61.57 67.65l3.9 3.9M65.47 67.65l-3.9 3.9M61.62 66.99l3.9 3.9M65.52 66.99l-3.9 3.9M61.8 66.33l3.9 3.9M65.7 66.33l-3.9 3.9M61.93 65.67l3.9 3.9M65.83 65.67l-3.9 3.9M61.62 65.01l3.9 3.9M65.52 65.01l-3.9 3.9M61.74 64.35l3.9 3.9M65.64 64.35l-3.9 3.9M61.41 63.69l3.9 3.9M65.31 63.69l-3.9 3.9M61.71 63.03l3.9 3.9M65.61 63.03l-3.9 3.9M62.46 62.37l3.9 3.9M66.36 62.37l-3.9 3.9M63.12 61.71l3.9 3.9M67.02 61.71l-3.9 3.9M62.82 61.05l3.9 3.9M66.72 61.05l-3.9 3.9M62.51 60.39l3.9 3.9M66.41 60.39l-3.9 3.9M63.02 59.73l3.9 3.9M66.92 59.73l-3.9 3.9M63.98 59.07l3.9 3.9M67.88 59.07l-3.9 3.9M63.43 58.41l3.9 3.9M67.33 58.41l-3.9 3.9M63.73 57.75l3.9 3.9M67.63 57.75l-3.9 3.9M64.12 57.09l3.9 3.9M68.02 57.09l-3.9 3.9M64.83 56.43l3.9 3.9M68.73 56.43l-3.9 3.9M65.44 55.77l3.9 3.9M69.34 55.77l-3.9 3.9M64.84 55.11l3.9 3.9M68.74 55.11l-3.9 3.9M65.67 54.45l3.9 3.9M69.57 54.45l-3.9 3.9M65.85 53.79l3.9 3.9M69.75 53.79l-3.9 3.9M66.02 53.13l3.9 3.9M69.92 53.13l-3.9 3.9M66.52 52.47l3.9 3.9M70.42 52.47l-3.9 3.9M67.17 51.81l3.9 3.9M71.07 51.81l-3.9 3.9M66.53 51.15l3.9 3.9M70.43 51.15l-3.9 3.9M67.2 50.49l3.9 3.9M71.1 50.49l-3.9 3.9M66.84 49.83l3.9 3.9M70.74 49.83l-3.9 3.9M67.73 49.17l3.9 3.9M71.63 49.17l-3.9 3.9M68.43 48.51l3.9 3.9M72.33 48.51l-3.9 3.9M69.04 47.85l3.9 3.9M72.94 47.85l-3.9 3.9M68.45 47.19l3.9 3.9M72.35 47.19l-3.9 3.9M68.43 46.53l3.9 3.9M72.33 46.53l-3.9 3.9M69.15 45.87l3.9 3.9M73.05 45.87l-3.9 3.9M69.08 45.21l3.9 3.9M72.98 45.21l-3.9 3.9M69.51 44.55l3.9 3.9M73.41 44.55l-3.9 3.9M71.46 43.9l3.9 3.9M75.36 43.9l-3.9 3.9M73.29 43.24l3.9 3.9M77.19 43.24l-3.9 3.9M74.86 42.58l3.9 3.9M78.76 42.58l-3.9 3.9M76.49 41.92l3.9 3.9M80.39 41.92l-3.9 3.9M76.71 41.26l3.9 3.9M80.61 41.26l-3.9 3.9M77.99 40.6l3.9 3.9M81.89 40.6l-3.9 3.9M79.27 39.94l3.9 3.9M83.17 39.94l-3.9 3.9M81.85 39.28l3.9 3.9M85.75 39.28l-3.9 3.9M84.13 38.62l3.9 3.9M88.03 38.62l-3.9 3.9M87.4 37.96l3.9 3.9M91.3 37.96l-3.9 3.9M91 37.3l3.9 3.9M94.9 37.3l-3.9 3.9M95.28 36.64l3.9 3.9M99.18 36.64l-3.9 3.9M99.92 35.98l3.9 3.9M103.82 35.98l-3.9 3.9M128.01 35.32l3.9 3.9M131.91 35.32l-3.9 3.9" fill="none" stroke="#00B050" stroke-width="1.1"/>
<path d="M45 182.44a1.95 1.95 0 1 0 3.9 0a1.95 1.95 0 1 0 -3.9 0M45.63 181.79a1.95 1.95 0 1 0 3.9 0a1.95 1.95 0 1 0 -3.9 0M45.96 181.13a1.95 1.95 0 1 0 3.9 0a1.95 1.95 0 1 0 -3.9 0M45.97 180.47a1.95 1.95 0 1 0 3.9 0a1.95 1.95 0 1 0 -3.9 0M46.37 179.82a1.95 1.95 0 1 0 3.9 0a1.95 1.95 0 1 0 -3.9 0M46.59 179.16a1.95 1.95 0 1 0 3.9 0a1.95 1.95 0 1 0 -3.9 0M46.61 178.5a1.95 1.95 0 1 0 3.9 0a1.95 1.95 0 1 0 -3.9 0M46.7 177.84a1.95 1.95 0 1 0 3.9 0a1.95 1.95 0 1 0 -3.9 0M46.99 177.19a1.95 1.95 0 1 0 3.9 0a1.95 1.95 0 1 0 -3.9 0M46.88 176.53a1.95 1.95 0 1 0 3.9 0a1.95 1.95 0 1 0 -3.9 0M46.94 175.87a1.95 1.95 0 1 0 3.9 0a1.95 1.95 0 1 0 -3.9 0M47.16 175.22a1.95 1.95 0 1 0 3.9 0a1.95 1.95 0 1 0 -3.9 0M47.05 174.56a1.95 1.95 0 1 0 3.9 0a1.95 1.95 0 1 0 -3.9 0M47.26 173.9a1.95 1.95 0 1 0 3.9 0a1.95 1.95 0 1 0 -3.9 0M47.3 173.25a1.95 1.95 0 1 0 3.9 0a1.95 1.95 0 1 0 -3.9 0M47.45 172.59a1.95 1.95 0 1 0 3.9 0a1.95 1.95 0 1 0 -3.9 0M47.56 171.93a1.95 1.95 0 1 0 3.9 0a1.95 1.95 0 1 0 -3.9 0M47.67 171.28a1.95 1.95 0 1 0 3.9 0a1.95 1.95 0 1 0 -3.9 0M47.68 170.62a1.95 1.95 0 1 0 3.9 0a1.95 1.95 0 1 0 -3.9 0M47.95 169.96a1.95 1.95 0 1 0 3.9 0a1.95 1.95 0 1 0 -3.9 0M48.03 169.3a1.95 1.95 0 1 0 3.9 0a1.95 1.95 0 1 0 -3.9 0M48.16 168.65a1.95 1.95 0 1 0 3.9 0a1.95 1.95 0 1 0 -3.9 0M48.04 167.99a1.95 1.95 0 1 0 3.9 0a1.95 1.95 0 1 0 -3.9 0M48.22 167.33a1.95 1.95 0 1 0 3.9 0a1.95 1.95 0 1 0 -3.9 0M48.16 166.68a1.95 1.95 0 1 0 3.9 0a1.95 1.95 0 1 0 -3.9 0M48.17 166.02a1.95 1.95 0 1 0 3.9 0a1.95 1.95 0 1 0 -3.9 0M48.39 165.36a1.95 1.95 0 1 0 3.9 0a1.95 1.95 0 1 0 -3.9 0M48.58 164.71a1.95 1.95 0 1 0 3.9 0a1.95 1.95 0 1 0 -3.9 0M48.59 164.05a1.95 1.95 0 1 0 3.9 0a1.95 1.95 0 1 0 -3.9 0M48.44 163.39a1.95 1.95 0 1 0 3.9 0a1.95 1.95 0 1 0 -3.9 0M48.49 162.74a1.95 1.95 0 1 0 3.9 0a1.95 1.95 0 1 0 -3.9 0M48.79 162.08a1.95 1.95 0 1 0 3.9 0a1.95 1.95 0 1 0 -3.9 0M48.83 161.42a1.95 1.95 0 1 0 3.9 0a1.95 1.95 0 1 0 -3.9 0M48.97 160.77a1.95 1.95 0 1 0 3.9 0a1.95 1.95 0 1 0 -3.9 0M48.73 160.11a1.95 1.95 0 1 0 3.9 0a1.95 1.95 0 1 0 -3.9 0M49.12 159.45a1.95 1.95 0 1 0 3.9 0a1.95 1.95 0 1 0 -3.9 0M49 158.79a1.95 1.95 0 1 0 3.9 0a1.95 1.95 0 1 0 -3.9 0M49.01 158.14a1.95 1.95 0 1 0 3.9 0a1.95 1.95 0 1 0 -3.9 0M49.11 157.48a1.95 1.95 0 1 0 3.9 0a1.95 1.95 0 1 0 -3.9 0M49.49 156.82a1.95 1.95 0 1 0 3.9 0a1.95 1.95 0 1 0 -3.9 0M49.56 156.17a1.95 1.95 0 1 0 3.9 0a1.95 1.95 0 1 0 -3.9 0M49.22 155.51a1.95 1.95 0 1 0 3.9 0a1.95 1.95 0 1 0 -3.9 0M49.41 154.85a1.95 1.95 0 1 0 3.9 0a1.95 1.95 0 1 0 -3.9 0M49.68 154.2a1.95 1.95 0 1 0 3.9 0a1.95 1.95 0 1 0 -3.9 0M49.41 153.54a1.95 1.95 0 1 0 3.9 0a1.95 1.95 0 1 0 -3.9 0M49.47 152.88a1.95 1.95 0 1 0 3.9 0a1.95 1.95 0 1 0 -3.9 0M49.54 152.23a1.95 1.95 0 1 0 3.9 0a1.95 1.95 0 1 0 -3.9 0M50.01 151.57a1.95 1.95 0 1 0 3.9 0a1.95 1.95 0 1 0 -3.9 0M49.8 150.91a1.95 1.95 0 1 0 3.9 0a1.95 1.95 0 1 0 -3.9 0M49.86 150.25a1.95 1.95 0 1 0 3.9 0a1.95 1.95 0 1 0 -3.9 0M50.16 149.6a1.95 1.95 0 1 0 3.9 0a1.95 1.95 0 1 0 -3.9 0M49.98 148.94a1.95 1.95 0 1 0 3.9 0a1.95 1.95 0 1 0 -3.9 0M50.26 148.28a1.95 1.95 0 1 0 3.9 0a1.95 1.95 0 1 0 -3.9 0M50.14 147.63a1.95 1.95 0 1 0 3.9 0a1.95 1.95 0 1 0 -3.9 0M50.17 146.97a1.95 1.95 0 1 0 3.9 0a1.95 1.95 0 1 0 -3.9 0M50.28 146.31a1.95 1.95 0 1 0 3.9 0a1.95 1.95 0 1 0 -3.9 0M50.23 145.66a1.95 1.95 0 1 0 3.9 0a1.95 1.95 0 1 0 -3.9 0M50.25 145a1.95 1.95 0 1 0 3.9 0a1.95 1.95 0 1 0 -3.9 0M50.74 144.34a1.95 1.95 0 1 0 3.9 0a1.95 1.95 0 1 0 -3.9 0M50.81 143.69a1.95 1.95 0 1 0 3.9 0a1.95 1.95 0 1 0 -3.9 0M50.65 143.03a1.95 1.95 0 1 0 3.9 0a1.95 1.95 0 1 0 -3.9 0M50.85 142.37a1.95 1.95 0 1 0 3.9 0a1.95 1.95 0 1 0 -3.9 0M51.02 141.71a1.95 1.95 0 1 0 3.9 0a1.95 1.95 0 1 0 -3.9 0M50.82 141.06a1.95 1.95 0 1 0 3.9 0a1.95 1.95 0 1 0 -3.9 0M51.07 140.4a1.95 1.95 0 1 0 3.9 0a1.95 1.95 0 1 0 -3.9 0M51.17 139.74a1.95 1.95 0 1 0 3.9 0a1.95 1.95 0 1 0 -3.9 0M50.86 139.09a1.95 1.95 0 1 0 3.9 0a1.95 1.95 0 1 0 -3.9 0M50.96 138.43a1.95 1.95 0 1 0 3.9 0a1.95 1.95 0 1 0 -3.9 0M51.39 137.77a1.95 1.95 0 1 0 3.9 0a1.95 1.95 0 1 0 -3.9 0M51.44 137.12a1.95 1.95 0 1 0 3.9 0a1.95 1.95 0 1 0 -3.9 0M51.21 136.46a1.95 1.95 0 1 0 3.9 0a1.95 1.95 0 1 0 -3.9 0M51.66 135.8a1.95 1.95 0 1 0 3.9 0a1.95 1.95 0 1 0 -3.9 0M51.72 135.15a1.95 1.95 0 1 0 3.9 0a1.95 1.95 0 1 0 -3.9 0M51.51 134.49a1.95 1.95 0 1 0 3.9 0a1.95 1.95 0 1 0 -3.9 0M51.59 133.83a1.95 1.95 0 1 0 3.9 0a1.95 1.95 0 1 0 -3.9 0M51.53 133.18a1.95 1.95 0 1 0 3.9 0a1.95 1.95 0 1 0 -3.9 0M51.81 132.52a1.95 1.95 0 1 0 3.9 0a1.95 1.95 0 1 0 -3.9 0M51.68 131.86a1.95 1.95 0 1 0 3.9 0a1.95 1.95 0 1 0 -3.9 0M52.03 131.2a1.95 1.95 0 1 0 3.9 0a1.95 1.95 0 1 0 -3.9 0M52.16 130.55a1.95 1.95 0 1 0 3.9 0a1.95 1.95 0 1 0 -3.9 0M52.21 129.89a1.95 1.95 0 1 0 3.9 0a1.95 1.95 0 1 0 -3.9 0M51.97 129.23a1.95 1.95 0 1 0 3.9 0a1.95 1.95 0 1 0 -3.9 0M52.4 128.58a1.95 1.95 0 1 0 3.9 0a1.95 1.95 0 1 0 -3.9 0M52.57 127.92a1.95 1.95 0 1 0 3.9 0a1.95 1.95 0 1 0 -3.9 0M52.25 127.26a1.95 1.95 0 1 0 3.9 0a1.95 1.95 0 1 0 -3.9 0M52.63 126.61a1.95 1.95 0 1 0 3.9 0a1.95 1.95 0 1 0 -3.9 0M52.87 125.95a1.95 1.95 0 1 0 3.9 0a1.95 1.95 0 1 0 -3.9 0M52.53 125.29a1.95 1.95 0 1 0 3.9 0a1.95 1.95 0 1 0 -3.9 0M53.09 124.64a1.95 1.95 0 1 0 3.9 0a1.95 1.95 0 1 0 -3.9 0M53.2 123.98a1.95 1.95 0 1 0 3.9 0a1.95 1.95 0 1 0 -3.9 0M53.09 123.32a1.95 1.95 0 1 0 3.9 0a1.95 1.95 0 1 0 -3.9 0M53.28 122.66a1.95 1.95 0 1 0 3.9 0a1.95 1.95 0 1 0 -3.9 0M52.93 122.01a1.95 1.95 0 1 0 3.9 0a1.95 1.95 0 1 0 -3.9 0M53.28 121.35a1.95 1.95 0 1 0 3.9 0a1.95 1.95 0 1 0 -3.9 0M53.54 120.69a1.95 1.95 0 1 0 3.9 0a1.95 1.95 0 1 0 -3.9 0M52.99 120.04a1.95 1.95 0 1 0 3.9 0a1.95 1.95 0 1 0 -3.9 0M53.61 119.38a1.95 1.95 0 1 0 3.9 0a1.95 1.95 0 1 0 -3.9 0M53.27 118.72a1.95 1.95 0 1 0 3.9 0a1.95 1.95 0 1 0 -3.9 0M53.74 118.07a1.95 1.95 0 1 0 3.9 0a1.95 1.95 0 1 0 -3.9 0M53.7 117.41a1.95 1.95 0 1 0 3.9 0a1.95 1.95 0 1 0 -3.9 0M53.9 116.75a1.95 1.95 0 1 0 3.9 0a1.95 1.95 0 1 0 -3.9 0M53.68 116.1a1.95 1.95 0 1 0 3.9 0a1.95 1.95 0 1 0 -3.9 0M53.79 115.44a1.95 1.95 0 1 0 3.9 0a1.95 1.95 0 1 0 -3.9 0M54.22 114.78a1.95 1.95 0 1 0 3.9 0a1.95 1.95 0 1 0 -3.9 0M53.66 114.12a1.95 1.95 0 1 0 3.9 0a1.95 1.95 0 1 0 -3.9 0M53.8 113.47a1.95 1.95 0 1 0 3.9 0a1.95 1.95 0 1 0 -3.9 0M54.5 112.81a1.95 1.95 0 1 0 3.9 0a1.95 1.95 0 1 0 -3.9 0M54.53 112.15a1.95 1.95 0 1 0 3.9 0a1.95 1.95 0 1 0 -3.9 0M54.03 111.5a1.95 1.95 0 1 0 3.9 0a1.95 1.95 0 1 0 -3.9 0M54.74 110.84a1.95 1.95 0 1 0 3.9 0a1.95 1.95 0 1 0 -3.9 0M54.27 110.18a1.95 1.95 0 1 0 3.9 0a1.95 1.95 0 1 0 -3.9 0M54.84 109.53a1.95 1.95 0 1 0 3.9 0a1.95 1.95 0 1 0 -3.9 0M54.93 108.87a1.95 1.95 0 1 0 3.9 0a1.95 1.95 0 1 0 -3.9 0M54.32 108.21a1.95 1.95 0 1 0 3.9 0a1.95 1.95 0 1 0 -3.9 0M54.39 107.56a1.95 1.95 0 1 0 3.9 0a1.95 1.95 0 1 0 -3.9 0M54.72 106.9a1.95 1.95 0 1 0 3.9 0a1.95 1.95 0 1 0 -3.9 0M55.29 106.24a1.95 1.95 0 1 0 3.9 0a1.95 1.95 0 1 0 -3.9 0M55.26 105.58a1.95 1.95 0 1 0 3.9 0a1.95 1.95 0 1 0 -3.9 0M55.02 104.93a1.95 1.95 0 1 0 3.9 0a1.95 1.95 0 1 0 -3.9 0M55.49 104.27a1.95 1.95 0 1 0 3.9 0a1.95 1.95 0 1 0 -3.9 0M55.12 103.61a1.95 1.95 0 1 0 3.9 0a1.95 1.95 0 1 0 -3.9 0M55.24 102.96a1.95 1.95 0 1 0 3.9 0a1.95 1.95 0 1 0 -3.9 0M55.19 102.3a1.95 1.95 0 1 0 3.9 0a1.95 1.95 0 1 0 -3.9 0M55.92 101.64a1.95 1.95 0 1 0 3.9 0a1.95 1.95 0 1 0 -3.9 0M55.88 100.99a1.95 1.95 0 1 0 3.9 0a1.95 1.95 0 1 0 -3.9 0M55.67 100.33a1.95 1.95 0 1 0 3.9 0a1.95 1.95 0 1 0 -3.9 0M55.58 99.67a1.95 1.95 0 1 0 3.9 0a1.95 1.95 0 1 0 -3.9 0M56.26 99.02a1.95 1.95 0 1 0 3.9 0a1.95 1.95 0 1 0 -3.9 0M55.84 98.36a1.95 1.95 0 1 0 3.9 0a1.95 1.95 0 1 0 -3.9 0M55.76 97.7a1.95 1.95 0 1 0 3.9 0a1.95 1.95 0 1 0 -3.9 0M56.02 97.05a1.95 1.95 0 1 0 3.9 0a1.95 1.95 0 1 0 -3.9 0M56.35 96.39a1.95 1.95 0 1 0 3.9 0a1.95 1.95 0 1 0 -3.9 0M56.48 95.73a1.95 1.95 0 1 0 3.9 0a1.95 1.95 0 1 0 -3.9 0M55.97 95.07a1.95 1.95 0 1 0 3.9 0a1.95 1.95 0 1 0 -3.9 0M56.79 94.42a1.95 1.95 0 1 0 3.9 0a1.95 1.95 0 1 0 -3.9 0M56.63 93.76a1.95 1.95 0 1 0 3.9 0a1.95 1.95 0 1 0 -3.9 0M56.16 93.1a1.95 1.95 0 1 0 3.9 0a1.95 1.95 0 1 0 -3.9 0M56.94 92.45a1.95 1.95 0 1 0 3.9 0a1.95 1.95 0 1 0 -3.9 0M57.15 91.79a1.95 1.95 0 1 0 3.9 0a1.95 1.95 0 1 0 -3.9 0M57.1 91.13a1.95 1.95 0 1 0 3.9 0a1.95 1.95 0 1 0 -3.9 0M56.43 90.48a1.95 1.95 0 1 0 3.9 0a1.95 1.95 0 1 0 -3.9 0M56.93 89.82a1.95 1.95 0 1 0 3.9 0a1.95 1.95 0 1 0 -3.9 0M57.12 89.16a1.95 1.95 0 1 0 3.9 0a1.95 1.95 0 1 0 -3.9 0M57.48 88.51a1.95 1.95 0 1 0 3.9 0a1.95 1.95 0 1 0 -3.9 0M57.2 87.85a1.95 1.95 0 1 0 3.9 0a1.95 1.95 0 1 0 -3.9 0M56.89 87.19a1.95 1.95 0 1 0 3.9 0a1.95 1.95 0 1 0 -3.9 0M57.78 86.53a1.95 1.95 0 1 0 3.9 0a1.95 1.95 0 1 0 -3.9 0M57.89 85.88a1.95 1.95 0 1 0 3.9 0a1.95 1.95 0 1 0 -3.9 0M57.52 85.22a1.95 1.95 0 1 0 3.9 0a1.95 1.95 0 1 0 -3.9 0M57.2 84.56a1.95 1.95 0 1 0 3.9 0a1.95 1.95 0 1 0 -3.9 0M58.04 83.91a1.95 1.95 0 1 0 3.9 0a1.95 1.95 0 1 0 -3.9 0M58.03 83.25a1.95 1.95 0 1 0 3.9 0a1.95 1.95 0 1 0 -3.9 0M58.35 82.59a1.95 1.95 0 1 0 3.9 0a1.95 1.95 0 1 0 -3.9 0M57.49 81.94a1.95 1.95 0 1 0 3.9 0a1.95 1.95 0 1 0 -3.9 0M57.99 81.28a1.95 1.95 0 1 0 3.9 0a1.95 1.95 0 1 0 -3.9 0M57.93 80.62a1.95 1.95 0 1 0 3.9 0a1.95 1.95 0 1 0 -3.9 0M57.85 79.97a1.95 1.95 0 1 0 3.9 0a1.95 1.95 0 1 0 -3.9 0M58.56 79.31a1.95 1.95 0 1 0 3.9 0a1.95 1.95 0 1 0 -3.9 0M58.25 78.65a1.95 1.95 0 1 0 3.9 0a1.95 1.95 0 1 0 -3.9 0M58.04 77.99a1.95 1.95 0 1 0 3.9 0a1.95 1.95 0 1 0 -3.9 0M58.23 77.34a1.95 1.95 0 1 0 3.9 0a1.95 1.95 0 1 0 -3.9 0M59.01 76.68a1.95 1.95 0 1 0 3.9 0a1.95 1.95 0 1 0 -3.9 0M58.89 76.02a1.95 1.95 0 1 0 3.9 0a1.95 1.95 0 1 0 -3.9 0M58.58 75.37a1.95 1.95 0 1 0 3.9 0a1.95 1.95 0 1 0 -3.9 0M59.18 74.71a1.95 1.95 0 1 0 3.9 0a1.95 1.95 0 1 0 -3.9 0M58.68 74.05a1.95 1.95 0 1 0 3.9 0a1.95 1.95 0 1 0 -3.9 0M59.34 73.4a1.95 1.95 0 1 0 3.9 0a1.95 1.95 0 1 0 -3.9 0M59.42 72.74a1.95 1.95 0 1 0 3.9 0a1.95 1.95 0 1 0 -3.9 0M58.83 72.08a1.95 1.95 0 1 0 3.9 0a1.95 1.95 0 1 0 -3.9 0M59.46 71.43a1.95 1.95 0 1 0 3.9 0a1.95 1.95 0 1 0 -3.9 0M59.79 70.77a1.95 1.95 0 1 0 3.9 0a1.95 1.95 0 1 0 -3.9 0M59.92 70.11a1.95 1.95 0 1 0 3.9 0a1.95 1.95 0 1 0 -3.9 0M59.96 69.46a1.95 1.95 0 1 0 3.9 0a1.95 1.95 0 1 0 -3.9 0M60.26 68.8a1.95 1.95 0 1 0 3.9 0a1.95 1.95 0 1 0 -3.9 0M60.22 68.14a1.95 1.95 0 1 0 3.9 0a1.95 1.95 0 1 0 -3.9 0M60.51 67.48a1.95 1.95 0 1 0 3.9 0a1.95 1.95 0 1 0 -3.9 0M60.15 66.83a1.95 1.95 0 1 0 3.9 0a1.95 1.95 0 1 0 -3.9 0M59.93 66.17a1.95 1.95 0 1 0 3.9 0a1.95 1.95 0 1 0 -3.9 0M60.3 65.51a1.95 1.95 0 1 0 3.9 0a1.95 1.95 0 1 0 -3.9 0M60.64 64.86a1.95 1.95 0 1 0 3.9 0a1.95 1.95 0 1 0 -3.9 0M60.57 64.2a1.95 1.95 0 1 0 3.9 0a1.95 1.95 0 1 0 -3.9 0M60.86 63.54a1.95 1.95 0 1 0 3.9 0a1.95 1.95 0 1 0 -3.9 0M61.57 62.89a1.95 1.95 0 1 0 3.9 0a1.95 1.95 0 1 0 -3.9 0M61.47 62.23a1.95 1.95 0 1 0 3.9 0a1.95 1.95 0 1 0 -3.9 0M61.74 61.57a1.95 1.95 0 1 0 3.9 0a1.95 1.95 0 1 0 -3.9 0M62.53 60.92a1.95 1.95 0 1 0 3.9 0a1.95 1.95 0 1 0 -3.9 0M62.92 60.26a1.95 1.95 0 1 0 3.9 0a1.95 1.95 0 1 0 -3.9 0M63.18 59.6a1.95 1.95 0 1 0 3.9 0a1.95 1.95 0 1 0 -3.9 0M62.8 58.94a1.95 1.95 0 1 0 3.9 0a1.95 1.95 0 1 0 -3.9 0M63.5 58.29a1.95 1.95 0 1 0 3.9 0a1.95 1.95 0 1 0 -3.9 0M63.95 57.63a1.95 1.95 0 1 0 3.9 0a1.95 1.95 0 1 0 -3.9 0M63.29 56.97a1.95 1.95 0 1 0 3.9 0a1.95 1.95 0 1 0 -3.9 0M63.61 56.32a1.95 1.95 0 1 0 3.9 0a1.95 1.95 0 1 0 -3.9 0M64.49 55.66a1.95 1.95 0 1 0 3.9 0a1.95 1.95 0 1 0 -3.9 0M64.23 55a1.95 1.95 0 1 0 3.9 0a1.95 1.95 0 1 0 -3.9 0M64.41 54.35a1.95 1.95 0 1 0 3.9 0a1.95 1.95 0 1 0 -3.9 0M64.89 53.69a1.95 1.95 0 1 0 3.9 0a1.95 1.95 0 1 0 -3.9 0M64.62 53.03a1.95 1.95 0 1 0 3.9 0a1.95 1.95 0 1 0 -3.9 0M65.45 52.38a1.95 1.95 0 1 0 3.9 0a1.95 1.95 0 1 0 -3.9 0M65.12 51.72a1.95 1.95 0 1 0 3.9 0a1.95 1.95 0 1 0 -3.9 0M65.64 51.06a1.95 1.95 0 1 0 3.9 0a1.95 1.95 0 1 0 -3.9 0M65.84 50.4a1.95 1.95 0 1 0 3.9 0a1.95 1.95 0 1 0 -3.9 0M66.24 49.75a1.95 1.95 0 1 0 3.9 0a1.95 1.95 0 1 0 -3.9 0M66.18 49.09a1.95 1.95 0 1 0 3.9 0a1.95 1.95 0 1 0 -3.9 0M66.94 48.43a1.95 1.95 0 1 0 3.9 0a1.95 1.95 0 1 0 -3.9 0M67.53 47.78a1.95 1.95 0 1 0 3.9 0a1.95 1.95 0 1 0 -3.9 0M67.37 47.12a1.95 1.95 0 1 0 3.9 0a1.95 1.95 0 1 0 -3.9 0M68.77 46.46a1.95 1.95 0 1 0 3.9 0a1.95 1.95 0 1 0 -3.9 0M69.15 45.81a1.95 1.95 0 1 0 3.9 0a1.95 1.95 0 1 0 -3.9 0M68.72 45.15a1.95 1.95 0 1 0 3.9 0a1.95 1.95 0 1 0 -3.9 0M68.76 44.49a1.95 1.95 0 1 0 3.9 0a1.95 1.95 0 1 0 -3.9 0M70.48 43.84a1.95 1.95 0 1 0 3.9 0a1.95 1.95 0 1 0 -3.9 0M70.08 43.18a1.95 1.95 0 1 0 3.9 0a1.95 1.95 0 1 0 -3.9 0M70.99 42.52a1.95 1.95 0 1 0 3.9 0a1.95 1.95 0 1 0 -3.9 0M72.38 41.87a1.95 1.95 0 1 0 3.9 0a1.95 1.95 0 1 0 -3.9 0M73.21 41.21a1.95 1.95 0 1 0 3.9 0a1.95 1.95 0 1 0 -3.9 0M74.29 40.55a1.95 1.95 0 1 0 3.9 0a1.95 1.95 0 1 0 -3.9 0M76.21 39.89a1.95 1.95 0 1 0 3.9 0a1.95 1.95 0 1 0 -3.9 0M78.8 39.24a1.95 1.95 0 1 0 3.9 0a1.95 1.95 0 1 0 -3.9 0M87.39 38.58a1.95 1.95 0 1 0 3.9 0a1.95 1.95 0 1 0 -3.9 0M77.3 37.92a1.95 1.95 0 1 0 3.9 0a1.95 1.95 0 1 0 -3.9 0M87.39 37.27a1.95 1.95 0 1 0 3.9 0a1.95 1.95 0 1 0 -3.9 0" fill="none" stroke="#4472C4" stroke-width="1"/>
<path d="M47.1 179.85L49.5 184.17L44.7 184.17ZM47.78 179.19L50.18 183.51L45.38 183.51ZM48.08 178.53L50.48 182.85L45.68 182.85ZM48.33 177.87L50.73 182.19L45.93 182.19ZM48.46 177.21L50.86 181.53L46.06 181.53ZM48.71 176.55L51.11 180.87L46.31 180.87ZM49.08 175.89L51.48 180.21L46.68 180.21ZM49.13 175.23L51.53 179.55L46.73 179.55ZM49.21 174.57L51.61 178.89L46.81 178.89ZM49.33 173.91L51.73 178.23L46.93 178.23ZM49.42 173.25L51.82 177.57L47.02 177.57ZM49.38 172.59L51.78 176.91L46.98 176.91ZM49.55 171.93L51.95 176.25L47.15 176.25ZM49.62 171.27L52.02 175.59L47.22 175.59ZM49.69 170.61L52.09 174.93L47.29 174.93ZM49.81 169.95L52.21 174.27L47.41 174.27ZM49.82 169.29L52.22 173.61L47.42 173.61ZM50.06 168.63L52.46 172.95L47.66 172.95ZM50.04 167.97L52.44 172.29L47.64 172.29ZM50.07 167.31L52.47 171.63L47.67 171.63ZM50.13 166.65L52.53 170.97L47.73 170.97ZM50.4 165.99L52.8 170.31L48 170.31ZM50.36 165.33L52.76 169.65L47.96 169.65ZM50.63 164.67L53.03 168.99L48.23 168.99ZM50.49 164.01L52.89 168.33L48.09 168.33ZM50.59 163.35L52.99 167.67L48.19 167.67ZM50.86 162.69L53.26 167.01L48.46 167.01ZM50.79 162.03L53.19 166.35L48.39 166.35ZM50.99 161.37L53.39 165.69L48.59 165.69ZM51.02 160.71L53.42 165.03L48.62 165.03ZM50.89 160.05L53.29 164.37L48.49 164.37ZM51 159.39L53.4 163.71L48.6 163.71ZM51.12 158.73L53.52 163.05L48.72 163.05ZM51.35 158.07L53.75 162.39L48.95 162.39ZM51.26 157.41L53.66 161.73L48.86 161.73ZM51.38 156.75L53.78 161.07L48.98 161.07ZM51.46 156.09L53.86 160.41L49.06 160.41ZM51.49 155.43L53.89 159.75L49.09 159.75ZM51.73 154.77L54.13 159.09L49.33 159.09ZM51.57 154.11L53.97 158.43L49.17 158.43ZM51.7 153.45L54.1 157.77L49.3 157.77ZM51.99 152.79L54.39 157.11L49.59 157.11ZM52 152.13L54.4 156.45L49.6 156.45ZM52.05 151.47L54.45 155.79L49.65 155.79ZM52.07 150.81L54.47 155.13L49.67 155.13ZM52.05 150.15L54.45 154.47L49.65 154.47ZM52.23 149.49L54.63 153.81L49.83 153.81ZM52.48 148.83L54.88 153.15L50.08 153.15ZM52.41 148.17L54.81 152.49L50.01 152.49ZM52.47 147.51L54.87 151.83L50.07 151.83ZM52.69 146.85L55.09 151.17L50.29 151.17ZM52.72 146.19L55.12 150.51L50.32 150.51ZM52.83 145.53L55.23 149.85L50.43 149.85ZM52.89 144.87L55.29 149.19L50.49 149.19ZM52.85 144.21L55.25 148.53L50.45 148.53ZM52.79 143.55L55.19 147.87L50.39 147.87ZM52.98 142.89L55.38 147.21L50.58 147.21ZM52.94 142.23L55.34 146.55L50.54 146.55ZM53.19 141.58L55.59 145.9L50.79 145.9ZM53.01 140.92L55.41 145.24L50.61 145.24ZM53.2 140.26L55.6 144.58L50.8 144.58ZM53.43 139.6L55.83 143.92L51.03 143.92ZM53.35 138.94L55.75 143.26L50.95 143.26ZM53.48 138.28L55.88 142.6L51.08 142.6ZM53.36 137.62L55.76 141.94L50.96 141.94ZM53.5 136.96L55.9 141.28L51.1 141.28ZM53.85 136.3L56.25 140.62L51.45 140.62ZM53.81 135.64L56.21 139.96L51.41 139.96ZM53.77 134.98L56.17 139.3L51.37 139.3ZM53.91 134.32L56.31 138.64L51.51 138.64ZM54.1 133.66L56.5 137.98L51.7 137.98ZM54.18 133L56.58 137.32L51.78 137.32ZM54.28 132.34L56.68 136.66L51.88 136.66ZM54.13 131.68L56.53 136L51.73 136ZM54.19 131.02L56.59 135.34L51.79 135.34ZM54.44 130.36L56.84 134.68L52.04 134.68ZM54.48 129.7L56.88 134.02L52.08 134.02ZM54.58 129.04L56.98 133.36L52.18 133.36ZM54.51 128.38L56.91 132.7L52.11 132.7ZM54.64 127.72L57.04 132.04L52.24 132.04ZM54.92 127.06L57.32 131.38L52.52 131.38ZM54.82 126.4L57.22 130.72L52.42 130.72ZM55.09 125.74L57.49 130.06L52.69 130.06ZM54.85 125.08L57.25 129.4L52.45 129.4ZM55.36 124.42L57.76 128.74L52.96 128.74ZM55.1 123.76L57.5 128.08L52.7 128.08ZM55.31 123.1L57.71 127.42L52.91 127.42ZM55.62 122.44L58.02 126.76L53.22 126.76ZM55.37 121.78L57.77 126.1L52.97 126.1ZM55.43 121.12L57.83 125.44L53.03 125.44ZM55.88 120.46L58.28 124.78L53.48 124.78ZM55.91 119.8L58.31 124.12L53.51 124.12ZM55.81 119.14L58.21 123.46L53.41 123.46ZM55.65 118.48L58.05 122.8L53.25 122.8ZM55.99 117.82L58.39 122.14L53.59 122.14ZM55.9 117.16L58.3 121.48L53.5 121.48ZM55.95 116.5L58.35 120.82L53.55 120.82ZM56.4 115.84L58.8 120.16L54 120.16ZM56.32 115.18L58.72 119.5L53.92 119.5ZM56.31 114.52L58.71 118.84L53.91 118.84ZM56.19 113.86L58.59 118.18L53.79 118.18ZM56.43 113.2L58.83 117.52L54.03 117.52ZM56.77 112.54L59.17 116.86L54.37 116.86ZM56.55 111.88L58.95 116.2L54.15 116.2ZM56.64 111.22L59.04 115.54L54.24 115.54ZM56.88 110.56L59.28 114.88L54.48 114.88ZM56.77 109.9L59.17 114.22L54.37 114.22ZM57.02 109.24L59.42 113.56L54.62 113.56ZM57.22 108.58L59.62 112.9L54.82 112.9ZM57.04 107.92L59.44 112.24L54.64 112.24ZM57.22 107.26L59.62 111.58L54.82 111.58ZM57.37 106.6L59.77 110.92L54.97 110.92ZM57.34 105.94L59.74 110.26L54.94 110.26ZM57.34 105.28L59.74 109.6L54.94 109.6ZM57.37 104.62L59.77 108.94L54.97 108.94ZM57.71 103.96L60.11 108.28L55.31 108.28ZM58.01 103.3L60.41 107.62L55.61 107.62ZM57.58 102.64L59.98 106.96L55.18 106.96ZM58.15 101.98L60.55 106.3L55.75 106.3ZM58.3 101.32L60.7 105.64L55.9 105.64ZM58.14 100.66L60.54 104.98L55.74 104.98ZM58.49 100L60.89 104.32L56.09 104.32ZM58.42 99.34L60.82 103.66L56.02 103.66ZM58.42 98.68L60.82 103L56.02 103ZM58.46 98.02L60.86 102.34L56.06 102.34ZM58.55 97.36L60.95 101.68L56.15 101.68ZM58.76 96.7L61.16 101.02L56.36 101.02ZM58.57 96.04L60.97 100.36L56.17 100.36ZM58.94 95.38L61.34 99.7L56.54 99.7ZM58.89 94.72L61.29 99.04L56.49 99.04ZM59.08 94.06L61.48 98.38L56.68 98.38ZM59.33 93.4L61.73 97.72L56.93 97.72ZM58.97 92.74L61.37 97.06L56.57 97.06ZM59.16 92.08L61.56 96.4L56.76 96.4ZM59.17 91.42L61.57 95.74L56.77 95.74ZM59.11 90.76L61.51 95.08L56.71 95.08ZM59.55 90.1L61.95 94.42L57.15 94.42ZM59.64 89.44L62.04 93.76L57.24 93.76ZM59.97 88.78L62.37 93.1L57.57 93.1ZM59.8 88.12L62.2 92.44L57.4 92.44ZM59.75 87.47L62.15 91.79L57.35 91.79ZM60.17 86.81L62.57 91.13L57.77 91.13ZM59.68 86.15L62.08 90.47L57.28 90.47ZM59.95 85.49L62.35 89.81L57.55 89.81ZM60.34 84.83L62.74 89.15L57.94 89.15ZM60.03 84.17L62.43 88.49L57.63 88.49ZM60.25 83.51L62.65 87.83L57.85 87.83ZM60.67 82.85L63.07 87.17L58.27 87.17ZM60.42 82.19L62.82 86.51L58.02 86.51ZM60.44 81.53L62.84 85.85L58.04 85.85ZM60.98 80.87L63.38 85.19L58.58 85.19ZM60.51 80.21L62.91 84.53L58.11 84.53ZM61.14 79.55L63.54 83.87L58.74 83.87ZM60.85 78.89L63.25 83.21L58.45 83.21ZM60.87 78.23L63.27 82.55L58.47 82.55ZM61.16 77.57L63.56 81.89L58.76 81.89ZM61.26 76.91L63.66 81.23L58.86 81.23ZM61.7 76.25L64.1 80.57L59.3 80.57ZM61.64 75.59L64.04 79.91L59.24 79.91ZM61.53 74.93L63.93 79.25L59.13 79.25ZM61.7 74.27L64.1 78.59L59.3 78.59ZM61.62 73.61L64.02 77.93L59.22 77.93ZM62.21 72.95L64.61 77.27L59.81 77.27ZM61.87 72.29L64.27 76.61L59.47 76.61ZM62.34 71.63L64.74 75.95L59.94 75.95ZM62.27 70.97L64.67 75.29L59.87 75.29ZM62.57 70.31L64.97 74.63L60.17 74.63ZM62.24 69.65L64.64 73.97L59.84 73.97ZM62.39 68.99L64.79 73.31L59.99 73.31ZM62.46 68.33L64.86 72.65L60.06 72.65ZM62.91 67.67L65.31 71.99L60.51 71.99ZM63.12 67.01L65.52 71.33L60.72 71.33ZM63.12 66.35L65.52 70.67L60.72 70.67ZM62.94 65.69L65.34 70.01L60.54 70.01ZM63.34 65.03L65.74 69.35L60.94 69.35ZM63.37 64.37L65.77 68.69L60.97 68.69ZM63.42 63.71L65.82 68.03L61.02 68.03ZM63.38 63.05L65.78 67.37L60.98 67.37ZM63.65 62.39L66.05 66.71L61.25 66.71ZM64.26 61.73L66.66 66.05L61.86 66.05ZM64.07 61.07L66.47 65.39L61.67 65.39ZM64.61 60.41L67.01 64.73L62.21 64.73ZM65.06 59.75L67.46 64.07L62.66 64.07ZM65.17 59.09L67.57 63.41L62.77 63.41ZM65.38 58.43L67.78 62.75L62.98 62.75ZM65.31 57.77L67.71 62.09L62.91 62.09ZM65.44 57.11L67.84 61.43L63.04 61.43ZM65.63 56.45L68.03 60.77L63.23 60.77ZM65.9 55.79L68.3 60.11L63.5 60.11ZM66.34 55.13L68.74 59.45L63.94 59.45ZM66.92 54.47L69.32 58.79L64.52 58.79ZM67.07 53.81L69.47 58.13L64.67 58.13ZM67.14 53.15L69.54 57.47L64.74 57.47ZM67.52 52.49L69.92 56.81L65.12 56.81ZM67.96 51.83L70.36 56.15L65.56 56.15ZM68.59 51.17L70.99 55.49L66.19 55.49ZM68.71 50.51L71.11 54.83L66.31 54.83ZM68.34 49.85L70.74 54.17L65.94 54.17ZM69.03 49.19L71.43 53.51L66.63 53.51ZM68.98 48.53L71.38 52.85L66.58 52.85ZM69.92 47.87L72.32 52.19L67.52 52.19ZM70.22 47.21L72.62 51.53L67.82 51.53ZM70.12 46.55L72.52 50.87L67.72 50.87ZM70.58 45.89L72.98 50.21L68.18 50.21ZM70.79 45.23L73.19 49.55L68.39 49.55ZM71.21 44.57L73.61 48.89L68.81 48.89ZM71.19 43.91L73.59 48.23L68.79 48.23ZM71.89 43.25L74.29 47.57L69.49 47.57ZM73.28 42.59L75.68 46.91L70.88 46.91ZM74.36 41.93L76.76 46.25L71.96 46.25ZM74.3 41.27L76.7 45.59L71.9 45.59ZM75.57 40.61L77.97 44.93L73.17 44.93ZM76.42 39.95L78.82 44.27L74.02 44.27ZM77.1 39.29L79.5 43.61L74.7 43.61ZM78.2 38.63L80.6 42.95L75.8 42.95ZM79.6 37.97L82 42.29L77.2 42.29ZM81.79 37.31L84.19 41.63L79.39 41.63ZM84.15 36.65L86.55 40.97L81.75 40.97ZM86.84 35.99L89.24 40.31L84.44 40.31ZM89.71 35.33L92.11 39.65L87.31 39.65ZM106.73 34.67L109.13 38.99L104.33 38.99Z" fill="#ED7D31" stroke="none" stroke-width="1"/>
<path d="M45.25 180.57l3.9 3.9M49.15 180.57l-3.9 3.9M45.58 179.98l3.9 3.9M49.48 179.98l-3.9 3.9M45.72 179.4l3.9 3.9M49.62 179.4l-3.9 3.9M46.11 178.82l3.9 3.9M50.01 178.82l-3.9 3.9M46.33 178.23l3.9 3.9M50.23 178.23l-3.9 3.9M46.7 177.65l3.9 3.9M50.6 177.65l-3.9 3.9M47.24 177.07l3.9 3.9M51.14 177.07l-3.9 3.9M47.52 176.48l3.9 3.9M51.42 176.48l-3.9 3.9M47.54 175.9l3.9 3.9M51.44 175.9l-3.9 3.9M47.6 175.32l3.9 3.9M51.5 175.32l-3.9 3.9M47.74 174.73l3.9 3.9M51.64 174.73l-3.9 3.9M47.87 174.15l3.9 3.9M51.77 174.15l-3.9 3.9M47.95 173.57l3.9 3.9M51.85 173.57l-3.9 3.9M47.99 172.98l3.9 3.9M51.89 172.98l-3.9 3.9M47.95 172.4l3.9 3.9M51.85 172.4l-3.9 3.9M48.14 171.82l3.9 3.9M52.04 171.82l-3.9 3.9M48.05 171.23l3.9 3.9M51.95 171.23l-3.9 3.9M48.36 170.65l3.9 3.9M52.26 170.65l-3.9 3.9M48.23 170.07l3.9 3.9M52.13 170.07l-3.9 3.9M48.56 169.48l3.9 3.9M52.46 169.48l-3.9 3.9M48.41 168.9l3.9 3.9M52.31 168.9l-3.9 3.9M48.49 168.32l3.9 3.9M52.39 168.32l-3.9 3.9M48.6 167.73l3.9 3.9M52.5 167.73l-3.9 3.9M48.75 167.15l3.9 3.9M52.65 167.15l-3.9 3.9M48.74 166.57l3.9 3.9M52.64 166.57l-3.9 3.9M48.82 165.98l3.9 3.9M52.72 165.98l-3.9 3.9M49.11 165.4l3.9 3.9M53.01 165.4l-3.9 3.9M49.2 164.82l3.9 3.9M53.1 164.82l-3.9 3.9M48.97 164.23l3.9 3.9M52.87 164.23l-3.9 3.9M49.14 163.65l3.9 3.9M53.04 163.65l-3.9 3.9M49.19 163.07l3.9 3.9M53.09 163.07l-3.9 3.9M49.42 162.48l3.9 3.9M53.32 162.48l-3.9 3.9M49.42 161.9l3.9 3.9M53.32 161.9l-3.9 3.9M49.38 161.32l3.9 3.9M53.28 161.32l-3.9 3.9M49.6 160.73l3.9 3.9M53.5 160.73l-3.9 3.9M49.59 160.15l3.9 3.9M53.49 160.15l-3.9 3.9M49.5 159.57l3.9 3.9M53.4 159.57l-3.9 3.9M49.81 158.98l3.9 3.9M53.71 158.98l-3.9 3.9M49.74 158.4l3.9 3.9M53.64 158.4l-3.9 3.9M49.99 157.82l3.9 3.9M53.89 157.82l-3.9 3.9M49.96 157.23l3.9 3.9M53.86 157.23l-3.9 3.9M49.82 156.65l3.9 3.9M53.72 156.65l-3.9 3.9M50.14 156.07l3.9 3.9M54.04 156.07l-3.9 3.9M50.14 155.48l3.9 3.9M54.04 155.48l-3.9 3.9M50.2 154.9l3.9 3.9M54.1 154.9l-3.9 3.9M50.22 154.32l3.9 3.9M54.12 154.32l-3.9 3.9M50.4 153.73l3.9 3.9M54.3 153.73l-3.9 3.9M50.21 153.15l3.9 3.9M54.11 153.15l-3.9 3.9M50.47 152.57l3.9 3.9M54.37 152.57l-3.9 3.9M50.75 151.98l3.9 3.9M54.65 151.98l-3.9 3.9M50.48 151.4l3.9 3.9M54.38 151.4l-3.9 3.9M50.5 150.82l3.9 3.9M54.4 150.82l-3.9 3.9M50.69 150.23l3.9 3.9M54.59 150.23l-3.9 3.9M50.8 149.65l3.9 3.9M54.7 149.65l-3.9 3.9M50.79 149.07l3.9 3.9M54.69 149.07l-3.9 3.9M50.91 148.48l3.9 3.9M54.81 148.48l-3.9 3.9M51.06 147.9l3.9 3.9M54.96 147.9l-3.9 3.9M51.18 147.32l3.9 3.9M55.08 147.32l-3.9 3.9M50.89 146.73l3.9 3.9M54.79 146.73l-3.9 3.9M51.11 146.15l3.9 3.9M55.01 146.15l-3.9 3.9M51.29 145.57l3.9 3.9M55.19 145.57l-3.9 3.9M51.06 144.98l3.9 3.9M54.96 144.98l-3.9 3.9M51.58 144.4l3.9 3.9M55.48 144.4l-3.9 3.9M51.49 143.82l3.9 3.9M55.39 143.82l-3.9 3.9M51.48 143.23l3.9 3.9M55.38 143.23l-3.9 3.9M51.53 142.65l3.9 3.9M55.43 142.65l-3.9 3.9M51.44 142.07l3.9 3.9M55.34 142.07l-3.9 3.9M51.47 141.48l3.9 3.9M55.37 141.48l-3.9 3.9M51.85 140.9l3.9 3.9M55.75 140.9l-3.9 3.9M52.04 140.32l3.9 3.9M55.94 140.32l-3.9 3.9M52.04 139.73l3.9 3.9M55.94 139.73l-3.9 3.9M51.71 139.15l3.9 3.9M55.61 139.15l-3.9 3.9M51.79 138.57l3.9 3.9M55.69 138.57l-3.9 3.9M52.1 137.98l3.9 3.9M56 137.98l-3.9 3.9M52.21 137.4l3.9 3.9M56.11 137.4l-3.9 3.9M52.29 136.82l3.9 3.9M56.19 136.82l-3.9 3.9M52.51 136.23l3.9 3.9M56.41 136.23l-3.9 3.9M52.6 135.65l3.9 3.9M56.5 135.65l-3.9 3.9M52.72 135.07l3.9 3.9M56.62 135.07l-3.9 3.9M52.43 134.48l3.9 3.9M56.33 134.48l-3.9 3.9M52.58 133.9l3.9 3.9M56.48 133.9l-3.9 3.9M52.95 133.32l3.9 3.9M56.85 133.32l-3.9 3.9M52.86 132.73l3.9 3.9M56.76 132.73l-3.9 3.9M52.57 132.15l3.9 3.9M56.47 132.15l-3.9 3.9M53.13 131.57l3.9 3.9M57.03 131.57l-3.9 3.9M53.03 130.98l3.9 3.9M56.93 130.98l-3.9 3.9M52.87 130.4l3.9 3.9M56.77 130.4l-3.9 3.9M53.03 129.82l3.9 3.9M56.93 129.82l-3.9 3.9M53.24 129.23l3.9 3.9M57.14 129.23l-3.9 3.9M53.36 128.65l3.9 3.9M57.26 128.65l-3.9 3.9M53.3 128.07l3.9 3.9M57.2 128.07l-3.9 3.9M53.58 127.48l3.9 3.9M57.48 127.48l-3.9 3.9M53.53 126.9l3.9 3.9M57.43 126.9l-3.9 3.9M53.88 126.32l3.9 3.9M57.78 126.32l-3.9 3.9M53.88 125.73l3.9 3.9M57.78 125.73l-3.9 3.9M53.54 125.15l3.9 3.9M57.44 125.15l-3.9 3.9M53.59 124.57l3.9 3.9M57.49 124.57l-3.9 3.9M54.13 123.98l3.9 3.9M58.03 123.98l-3.9 3.9M54.06 123.4l3.9 3.9M57.96 123.4l-3.9 3.9M54.38 122.82l3.9 3.9M58.28 122.82l-3.9 3.9M54.11 122.23l3.9 3.9M58.01 122.23l-3.9 3.9M54.03 121.65l3.9 3.9M57.93 121.65l-3.9 3.9M54.02 121.07l3.9 3.9M57.92 121.07l-3.9 3.9M54.56 120.48l3.9 3.9M58.46 120.48l-3.9 3.9M54.2 119.9l3.9 3.9M58.1 119.9l-3.9 3.9M54.64 119.32l3.9 3.9M58.54 119.32l-3.9 3.9M54.67 118.73l3.9 3.9M58.57 118.73l-3.9 3.9M54.86 118.15l3.9 3.9M58.76 118.15l-3.9 3.9M55.08 117.57l3.9 3.9M58.98 117.57l-3.9 3.9M54.69 116.98l3.9 3.9M58.59 116.98l-3.9 3.9M54.94 116.4l3.9 3.9M58.84 116.4l-3.9 3.9M55.2 115.82l3.9 3.9M59.1 115.82l-3.9 3.9M54.91 115.23l3.9 3.9M58.81 115.23l-3.9 3.9M54.92 114.65l3.9 3.9M58.82 114.65l-3.9 3.9M55.04 114.07l3.9 3.9M58.94 114.07l-3.9 3.9M55.67 113.48l3.9 3.9M59.57 113.48l-3.9 3.9M55.66 112.9l3.9 3.9M59.56 112.9l-3.9 3.9M55.33 112.32l3.9 3.9M59.23 112.32l-3.9 3.9M55.29 111.73l3.9 3.9M59.19 111.73l-3.9 3.9M55.81 111.15l3.9 3.9M59.71 111.15l-3.9 3.9M55.67 110.57l3.9 3.9M59.57 110.57l-3.9 3.9M55.69 109.98l3.9 3.9M59.59 109.98l-3.9 3.9M55.76 109.4l3.9 3.9M59.66 109.4l-3.9 3.9M56.04 108.82l3.9 3.9M59.94 108.82l-3.9 3.9M56.04 108.23l3.9 3.9M59.94 108.23l-3.9 3.9M56.57 107.65l3.9 3.9M60.47 107.65l-3.9 3.9M56.38 107.07l3.9 3.9M60.28 107.07l-3.9 3.9M56.72 106.48l3.9 3.9M60.62 106.48l-3.9 3.9M56.84 105.9l3.9 3.9M60.74 105.9l-3.9 3.9M56.91 105.32l3.9 3.9M60.81 105.32l-3.9 3.9M56.7 104.73l3.9 3.9M60.6 104.73l-3.9 3.9M56.86 104.15l3.9 3.9M60.76 104.15l-3.9 3.9M56.91 103.57l3.9 3.9M60.81 103.57l-3.9 3.9M56.62 102.98l3.9 3.9M60.52 102.98l-3.9 3.9M57.43 102.4l3.9 3.9M61.33 102.4l-3.9 3.9M56.9 101.82l3.9 3.9M60.8 101.82l-3.9 3.9M57.31 101.23l3.9 3.9M61.21 101.23l-3.9 3.9M57.51 100.65l3.9 3.9M61.41 100.65l-3.9 3.9M57.69 100.07l3.9 3.9M61.59 100.07l-3.9 3.9M57.59 99.48l3.9 3.9M61.49 99.48l-3.9 3.9M57.77 98.9l3.9 3.9M61.67 98.9l-3.9 3.9M58.03 98.32l3.9 3.9M61.93 98.32l-3.9 3.9M57.98 97.73l3.9 3.9M61.88 97.73l-3.9 3.9M58.1 97.15l3.9 3.9M62 97.15l-3.9 3.9M58.35 96.57l3.9 3.9M62.25 96.57l-3.9 3.9M57.81 95.98l3.9 3.9M61.71 95.98l-3.9 3.9M58.28 95.4l3.9 3.9M62.18 95.4l-3.9 3.9M57.97 94.82l3.9 3.9M61.87 94.82l-3.9 3.9M58.18 94.23l3.9 3.9M62.08 94.23l-3.9 3.9M58.18 93.65l3.9 3.9M62.08 93.65l-3.9 3.9M58.98 93.07l3.9 3.9M62.88 93.07l-3.9 3.9M58.6 92.48l3.9 3.9M62.5 92.48l-3.9 3.9M58.85 91.9l3.9 3.9M62.75 91.9l-3.9 3.9M59.17 91.32l3.9 3.9M63.07 91.32l-3.9 3.9M59.17 90.73l3.9 3.9M63.07 90.73l-3.9 3.9M59.47 90.15l3.9 3.9M63.37 90.15l-3.9 3.9M59.17 89.57l3.9 3.9M63.07 89.57l-3.9 3.9M59.45 88.98l3.9 3.9M63.35 88.98l-3.9 3.9M59.69 88.4l3.9 3.9M63.59 88.4l-3.9 3.9M59.1 87.82l3.9 3.9M63 87.82l-3.9 3.9M59.51 87.23l3.9 3.9M63.41 87.23l-3.9 3.9M59.26 86.65l3.9 3.9M63.16 86.65l-3.9 3.9M59.78 86.07l3.9 3.9M63.68 86.07l-3.9 3.9M59.65 85.48l3.9 3.9M63.55 85.48l-3.9 3.9M60.22 84.9l3.9 3.9M64.12 84.9l-3.9 3.9M59.97 84.32l3.9 3.9M63.87 84.32l-3.9 3.9M59.78 83.73l3.9 3.9M63.68 83.73l-3.9 3.9M60.54 83.15l3.9 3.9M64.44 83.15l-3.9 3.9M60.21 82.57l3.9 3.9M64.11 82.57l-3.9 3.9M59.93 81.98l3.9 3.9M63.83 81.98l-3.9 3.9M60.25 81.4l3.9 3.9M64.15 81.4l-3.9 3.9M60.45 80.82l3.9 3.9M64.35 80.82l-3.9 3.9M60.21 80.23l3.9 3.9M64.11 80.23l-3.9 3.9M60.41 79.65l3.9 3.9M64.31 79.65l-3.9 3.9M60.66 79.07l3.9 3.9M64.56 79.07l-3.9 3.9M60.79 78.48l3.9 3.9M64.69 78.48l-3.9 3.9M60.99 77.9l3.9 3.9M64.89 77.9l-3.9 3.9M60.95 77.32l3.9 3.9M64.85 77.32l-3.9 3.9M61.07 76.73l3.9 3.9M64.97 76.73l-3.9 3.9M61.31 76.15l3.9 3.9M65.21 76.15l-3.9 3.9M61.3 75.57l3.9 3.9M65.2 75.57l-3.9 3.9M61.8 74.98l3.9 3.9M65.7 74.98l-3.9 3.9M61.93 74.4l3.9 3.9M65.83 74.4l-3.9 3.9M61.27 73.82l3.9 3.9M65.17 73.82l-3.9 3.9M61.51 73.23l3.9 3.9M65.41 73.23l-3.9 3.9M61.55 72.65l3.9 3.9M65.45 72.65l-3.9 3.9M61.9 72.07l3.9 3.9M65.8 72.07l-3.9 3.9M62.01 71.48l3.9 3.9M65.91 71.48l-3.9 3.9M62.52 70.9l3.9 3.9M66.42 70.9l-3.9 3.9M62.61 70.32l3.9 3.9M66.51 70.32l-3.9 3.9M62.87 69.73l3.9 3.9M66.77 69.73l-3.9 3.9M62.77 69.15l3.9 3.9M66.67 69.15l-3.9 3.9M62.78 68.57l3.9 3.9M66.68 68.57l-3.9 3.9M63.32 67.98l3.9 3.9M67.22 67.98l-3.9 3.9M63.05 67.4l3.9 3.9M66.95 67.4l-3.9 3.9M62.88 66.82l3.9 3.9M66.78 66.82l-3.9 3.9M62.9 66.23l3.9 3.9M66.8 66.23l-3.9 3.9M62.72 65.65l3.9 3.9M66.62 65.65l-3.9 3.9M63.82 65.07l3.9 3.9M67.72 65.07l-3.9 3.9M63.72 64.48l3.9 3.9M67.62 64.48l-3.9 3.9M63.53 63.9l3.9 3.9M67.43 63.9l-3.9 3.9M64.31 63.32l3.9 3.9M68.21 63.32l-3.9 3.9M64.41 62.73l3.9 3.9M68.31 62.73l-3.9 3.9M64.31 62.15l3.9 3.9M68.21 62.15l-3.9 3.9M65.11 61.57l3.9 3.9M69.01 61.57l-3.9 3.9M65.27 60.98l3.9 3.9M69.17 60.98l-3.9 3.9M64.99 60.4l3.9 3.9M68.89 60.4l-3.9 3.9M65.2 59.82l3.9 3.9M69.1 59.82l-3.9 3.9M65.12 59.23l3.9 3.9M69.02 59.23l-3.9 3.9M65.3 58.65l3.9 3.9M69.2 58.65l-3.9 3.9M65.85 58.07l3.9 3.9M69.75 58.07l-3.9 3.9M65.92 57.48l3.9 3.9M69.82 57.48l-3.9 3.9M65.99 56.9l3.9 3.9M69.89 56.9l-3.9 3.9M67.08 56.32l3.9 3.9M70.98 56.32l-3.9 3.9M67.63 55.73l3.9 3.9M71.53 55.73l-3.9 3.9M67.54 55.15l3.9 3.9M71.44 55.15l-3.9 3.9M68.1 54.57l3.9 3.9M72 54.57l-3.9 3.9M68.32 53.98l3.9 3.9M72.22 53.98l-3.9 3.9M68.29 53.4l3.9 3.9M72.19 53.4l-3.9 3.9M68.4 52.82l3.9 3.9M72.3 52.82l-3.9 3.9M68.45 52.23l3.9 3.9M72.35 52.23l-3.9 3.9M68.91 51.65l3.9 3.9M72.81 51.65l-3.9 3.9M68.95 51.07l3.9 3.9M72.85 51.07l-3.9 3.9M69.02 50.48l3.9 3.9M72.92 50.48l-3.9 3.9M69.75 49.9l3.9 3.9M73.65 49.9l-3.9 3.9M70.5 49.32l3.9 3.9M74.4 49.32l-3.9 3.9M70.91 48.73l3.9 3.9M74.81 48.73l-3.9 3.9M71.67 48.15l3.9 3.9M75.57 48.15l-3.9 3.9M71.6 47.57l3.9 3.9M75.5 47.57l-3.9 3.9M71.63 46.98l3.9 3.9M75.53 46.98l-3.9 3.9M72.5 46.4l3.9 3.9M76.4 46.4l-3.9 3.9M73.18 45.82l3.9 3.9M77.08 45.82l-3.9 3.9M74.18 45.23l3.9 3.9M78.08 45.23l-3.9 3.9M74.5 44.65l3.9 3.9M78.4 44.65l-3.9 3.9M75.54 44.07l3.9 3.9M79.44 44.07l-3.9 3.9M75.41 43.48l3.9 3.9M79.31 43.48l-3.9 3.9M76.44 42.9l3.9 3.9M80.34 42.9l-3.9 3.9M76.57 42.32l3.9 3.9M80.47 42.32l-3.9 3.9M79.12 41.73l3.9 3.9M83.02 41.73l-3.9 3.9M80.85 41.15l3.9 3.9M84.75 41.15l-3.9 3.9M82.28 40.57l3.9 3.9M86.18 40.57l-3.9 3.9M83.81 39.98l3.9 3.9M87.71 39.98l-3.9 3.9M84.54 39.4l3.9 3.9M88.44 39.4l-3.9 3.9M86.12 38.82l3.9 3.9M90.02 38.82l-3.9 3.9M87.76 38.23l3.9 3.9M91.66 38.23l-3.9 3.9M91.48 37.65l3.9 3.9M95.38 37.65l-3.9 3.9M95.51 37.07l3.9 3.9M99.41 37.07l-3.9 3.9M99.86 36.48l3.9 3.9M103.76 36.48l-3.9 3.9M104.56 35.9l3.9 3.9M108.46 35.9l-3.9 3.9M109.65 35.32l3.9 3.9M113.55 35.32l-3.9 3.9" fill="none" stroke="#00B0F0" stroke-width="1.3"/>
<path d="M47.61 180.09L50.01 184.41L45.21 184.41ZM47.98 179.68L50.38 184L45.58 184ZM48.38 179.27L50.78 183.59L45.98 183.59ZM48.56 178.85L50.96 183.17L46.16 183.17ZM48.99 178.44L51.39 182.76L46.59 182.76ZM48.87 178.02L51.27 182.34L46.47 182.34ZM49.37 177.61L51.77 181.93L46.97 181.93ZM49.34 177.19L51.74 181.51L46.94 181.51ZM49.55 176.78L51.95 181.1L47.15 181.1ZM50.16 176.37L52.56 180.69L47.76 180.69ZM50.34 175.95L52.74 180.27L47.94 180.27ZM50.32 175.54L52.72 179.86L47.92 179.86ZM50.14 175.12L52.54 179.44L47.74 179.44ZM50.36 174.71L52.76 179.03L47.96 179.03ZM50.38 174.29L52.78 178.61L47.98 178.61ZM50.35 173.88L52.75 178.2L47.95 178.2ZM50.5 173.46L52.9 177.78L48.1 177.78ZM50.5 173.05L52.9 177.37L48.1 177.37ZM51.13 172.64L53.53 176.96L48.73 176.96ZM50.79 172.22L53.19 176.54L48.39 176.54ZM50.97 171.81L53.37 176.13L48.57 176.13ZM50.94 171.39L53.34 175.71L48.54 175.71ZM51.23 170.98L53.63 175.3L48.83 175.3ZM51.23 170.56L53.63 174.88L48.83 174.88ZM51.41 170.15L53.81 174.47L49.01 174.47ZM50.99 169.74L53.39 174.06L48.59 174.06ZM51.16 169.32L53.56 173.64L48.76 173.64ZM51.46 168.91L53.86 173.23L49.06 173.23ZM51.5 168.49L53.9 172.81L49.1 172.81ZM51.71 168.08L54.11 172.4L49.31 172.4ZM51.29 167.66L53.69 171.98L48.89 171.98ZM51.52 167.25L53.92 171.57L49.12 171.57ZM51.6 166.84L54 171.16L49.2 171.16ZM51.72 166.42L54.12 170.74L49.32 170.74ZM51.67 166.01L54.07 170.33L49.27 170.33ZM51.98 165.59L54.38 169.91L49.58 169.91ZM51.62 165.18L54.02 169.5L49.22 169.5ZM51.65 164.76L54.05 169.08L49.25 169.08ZM51.87 164.35L54.27 168.67L49.47 168.67ZM51.77 163.94L54.17 168.26L49.37 168.26ZM52.03 163.52L54.43 167.84L49.63 167.84ZM52.22 163.11L54.62 167.43L49.82 167.43ZM51.94 162.69L54.34 167.01L49.54 167.01ZM52.26 162.28L54.66 166.6L49.86 166.6ZM52.38 161.86L54.78 166.18L49.98 166.18ZM52.45 161.45L54.85 165.77L50.05 165.77ZM52.13 161.04L54.53 165.36L49.73 165.36ZM52.72 160.62L55.12 164.94L50.32 164.94ZM52.75 160.21L55.15 164.53L50.35 164.53ZM52.5 159.79L54.9 164.11L50.1 164.11ZM52.68 159.38L55.08 163.7L50.28 163.7ZM52.95 158.96L55.35 163.28L50.55 163.28ZM53.08 158.55L55.48 162.87L50.68 162.87ZM52.71 158.14L55.11 162.46L50.31 162.46ZM53.16 157.72L55.56 162.04L50.76 162.04ZM52.96 157.31L55.36 161.63L50.56 161.63ZM53.44 156.89L55.84 161.21L51.04 161.21ZM53.45 156.48L55.85 160.8L51.05 160.8ZM53.1 156.06L55.5 160.38L50.7 160.38ZM53.17 155.65L55.57 159.97L50.77 159.97ZM53.33 155.24L55.73 159.56L50.93 159.56ZM53.78 154.82L56.18 159.14L51.38 159.14ZM53.2 154.41L55.6 158.73L50.8 158.73ZM53.58 153.99L55.98 158.31L51.18 158.31ZM53.73 153.58L56.13 157.9L51.33 157.9ZM53.86 153.16L56.26 157.48L51.46 157.48ZM53.4 152.75L55.8 157.07L51 157.07ZM53.9 152.34L56.3 156.66L51.5 156.66ZM53.85 151.92L56.25 156.24L51.45 156.24ZM53.82 151.51L56.22 155.83L51.42 155.83ZM54.41 151.09L56.81 155.41L52.01 155.41ZM53.73 150.68L56.13 155L51.33 155ZM54.28 150.26L56.68 154.58L51.88 154.58ZM53.9 149.85L56.3 154.17L51.5 154.17ZM54.59 149.44L56.99 153.76L52.19 153.76ZM54.25 149.02L56.65 153.34L51.85 153.34ZM54.25 148.61L56.65 152.93L51.85 152.93ZM54.13 148.19L56.53 152.51L51.73 152.51ZM54.42 147.78L56.82 152.1L52.02 152.1ZM54.76 147.36L57.16 151.68L52.36 151.68ZM54.12 146.95L56.52 151.27L51.72 151.27ZM54.68 146.54L57.08 150.86L52.28 150.86ZM54.28 146.12L56.68 150.44L51.88 150.44ZM54.4 145.71L56.8 150.03L52 150.03ZM55.01 145.29L57.41 149.61L52.61 149.61ZM54.36 144.88L56.76 149.2L51.96 149.2ZM55 144.46L57.4 148.78L52.6 148.78ZM54.45 144.05L56.85 148.37L52.05 148.37ZM54.9 143.64L57.3 147.96L52.5 147.96ZM55.06 143.22L57.46 147.54L52.66 147.54ZM54.68 142.81L57.08 147.13L52.28 147.13ZM55.33 142.39L57.73 146.71L52.93 146.71ZM54.85 141.98L57.25 146.3L52.45 146.3ZM55.13 141.56L57.53 145.88L52.73 145.88ZM54.97 141.15L57.37 145.47L52.57 145.47ZM55.51 140.74L57.91 145.06L53.11 145.06ZM55.08 140.32L57.48 144.64L52.68 144.64ZM55.14 139.91L57.54 144.23L52.74 144.23ZM54.97 139.49L57.37 143.81L52.57 143.81ZM55.87 139.08L58.27 143.4L53.47 143.4ZM55.09 138.66L57.49 142.98L52.69 142.98ZM55.41 138.25L57.81 142.57L53.01 142.57ZM55.78 137.84L58.18 142.16L53.38 142.16ZM55.53 137.42L57.93 141.74L53.13 141.74ZM55.85 137.01L58.25 141.33L53.45 141.33ZM55.67 136.59L58.07 140.91L53.27 140.91ZM56.24 136.18L58.64 140.5L53.84 140.5ZM55.58 135.76L57.98 140.08L53.18 140.08ZM55.5 135.35L57.9 139.67L53.1 139.67ZM55.63 134.94L58.03 139.26L53.23 139.26ZM56.11 134.52L58.51 138.84L53.71 138.84ZM56.24 134.11L58.64 138.43L53.84 138.43ZM56.54 133.69L58.94 138.01L54.14 138.01ZM56.73 133.28L59.13 137.6L54.33 137.6ZM56.22 132.86L58.62 137.18L53.82 137.18ZM56.71 132.45L59.11 136.77L54.31 136.77ZM56.33 132.03L58.73 136.35L53.93 136.35ZM56.36 131.62L58.76 135.94L53.96 135.94ZM56.17 131.21L58.57 135.53L53.77 135.53ZM57 130.79L59.4 135.11L54.6 135.11ZM56.5 130.38L58.9 134.7L54.1 134.7ZM56.88 129.96L59.28 134.28L54.48 134.28ZM56.81 129.55L59.21 133.87L54.41 133.87ZM57.39 129.13L59.79 133.45L54.99 133.45ZM56.65 128.72L59.05 133.04L54.25 133.04ZM57.02 128.31L59.42 132.63L54.62 132.63ZM57.35 127.89L59.75 132.21L54.95 132.21ZM56.76 127.48L59.16 131.8L54.36 131.8ZM57.51 127.06L59.91 131.38L55.11 131.38ZM57.28 126.65L59.68 130.97L54.88 130.97ZM56.85 126.23L59.25 130.55L54.45 130.55ZM57.87 125.82L60.27 130.14L55.47 130.14ZM57.3 125.41L59.7 129.73L54.9 129.73ZM57.44 124.99L59.84 129.31L55.04 129.31ZM57.85 124.58L60.25 128.9L55.45 128.9ZM58.13 124.16L60.53 128.48L55.73 128.48ZM57.37 123.75L59.77 128.07L54.97 128.07ZM57.31 123.33L59.71 127.65L54.91 127.65ZM58.07 122.92L60.47 127.24L55.67 127.24ZM58.05 122.51L60.45 126.83L55.65 126.83ZM57.85 122.09L60.25 126.41L55.45 126.41ZM58.15 121.68L60.55 126L55.75 126ZM58.56 121.26L60.96 125.58L56.16 125.58ZM58.51 120.85L60.91 125.17L56.11 125.17ZM58.24 120.43L60.64 124.75L55.84 124.75ZM58.72 120.02L61.12 124.34L56.32 124.34ZM58.79 119.61L61.19 123.93L56.39 123.93ZM58.68 119.19L61.08 123.51L56.28 123.51ZM57.97 118.78L60.37 123.1L55.57 123.1ZM58.56 118.36L60.96 122.68L56.16 122.68ZM58.68 117.95L61.08 122.27L56.28 122.27ZM59.08 117.53L61.48 121.85L56.68 121.85ZM58.7 117.12L61.1 121.44L56.3 121.44ZM58.89 116.71L61.29 121.03L56.49 121.03ZM59.08 116.29L61.48 120.61L56.68 120.61ZM58.38 115.88L60.78 120.2L55.98 120.2ZM58.41 115.46L60.81 119.78L56.01 119.78ZM58.45 115.05L60.85 119.37L56.05 119.37ZM58.6 114.63L61 118.95L56.2 118.95ZM58.85 114.22L61.25 118.54L56.45 118.54ZM58.66 113.81L61.06 118.13L56.26 118.13ZM59.41 113.39L61.81 117.71L57.01 117.71ZM59.45 112.98L61.85 117.3L57.05 117.3ZM59.37 112.56L61.77 116.88L56.97 116.88ZM58.88 112.15L61.28 116.47L56.48 116.47ZM59.59 111.73L61.99 116.05L57.19 116.05ZM59.16 111.32L61.56 115.64L56.76 115.64ZM59.08 110.91L61.48 115.23L56.68 115.23ZM60.17 110.49L62.57 114.81L57.77 114.81ZM60.39 110.08L62.79 114.4L57.99 114.4ZM59.37 109.66L61.77 113.98L56.97 113.98ZM60.2 109.25L62.6 113.57L57.8 113.57ZM59.48 108.83L61.88 113.15L57.08 113.15ZM60.25 108.42L62.65 112.74L57.85 112.74ZM60.37 108.01L62.77 112.33L57.97 112.33ZM60.4 107.59L62.8 111.91L58 111.91ZM61.03 107.18L63.43 111.5L58.63 111.5ZM60.58 106.76L62.98 111.08L58.18 111.08ZM60.05 106.35L62.45 110.67L57.65 110.67ZM61.18 105.93L63.58 110.25L58.78 110.25ZM60.38 105.52L62.78 109.84L57.98 109.84ZM60.78 105.11L63.18 109.43L58.38 109.43ZM60.71 104.69L63.11 109.01L58.31 109.01ZM61.31 104.28L63.71 108.6L58.91 108.6ZM60.38 103.86L62.78 108.18L57.98 108.18ZM60.84 103.45L63.24 107.77L58.44 107.77ZM61.02 103.03L63.42 107.35L58.62 107.35ZM61.32 102.62L63.72 106.94L58.92 106.94ZM61.85 102.21L64.25 106.53L59.45 106.53ZM61.05 101.79L63.45 106.11L58.65 106.11ZM61.19 101.38L63.59 105.7L58.79 105.7ZM61.74 100.96L64.14 105.28L59.34 105.28ZM61.15 100.55L63.55 104.87L58.75 104.87ZM61.66 100.13L64.06 104.45L59.26 104.45ZM61.47 99.72L63.87 104.04L59.07 104.04ZM61.99 99.31L64.39 103.63L59.59 103.63ZM62.01 98.89L64.41 103.21L59.61 103.21ZM62.24 98.48L64.64 102.8L59.84 102.8ZM61.94 98.06L64.34 102.38L59.54 102.38ZM61.74 97.65L64.14 101.97L59.34 101.97ZM61.5 97.23L63.9 101.55L59.1 101.55ZM62.44 96.82L64.84 101.14L60.04 101.14ZM61.96 96.41L64.36 100.73L59.56 100.73ZM61.72 95.99L64.12 100.31L59.32 100.31ZM62.35 95.58L64.75 99.9L59.95 99.9ZM62.28 95.16L64.68 99.48L59.88 99.48ZM62.99 94.75L65.39 99.07L60.59 99.07ZM62.48 94.33L64.88 98.65L60.08 98.65ZM62.67 93.92L65.07 98.24L60.27 98.24ZM63.31 93.51L65.71 97.83L60.91 97.83ZM63.31 93.09L65.71 97.41L60.91 97.41ZM62.6 92.68L65 97L60.2 97ZM63.35 92.26L65.75 96.58L60.95 96.58ZM63.99 91.85L66.39 96.17L61.59 96.17ZM64.04 91.43L66.44 95.75L61.64 95.75ZM64.03 91.02L66.43 95.34L61.63 95.34ZM63.2 90.61L65.6 94.93L60.8 94.93ZM64.39 90.19L66.79 94.51L61.99 94.51ZM63.24 89.78L65.64 94.1L60.84 94.1ZM63.65 89.36L66.05 93.68L61.25 93.68ZM63.28 88.95L65.68 93.27L60.88 93.27ZM64.09 88.53L66.49 92.85L61.69 92.85ZM64.44 88.12L66.84 92.44L62.04 92.44ZM64.47 87.7L66.87 92.02L62.07 92.02ZM63.45 87.29L65.85 91.61L61.05 91.61ZM65.16 86.88L67.56 91.2L62.76 91.2ZM64.11 86.46L66.51 90.78L61.71 90.78ZM64.93 86.05L67.33 90.37L62.53 90.37ZM65.34 85.63L67.74 89.95L62.94 89.95ZM65.18 85.22L67.58 89.54L62.78 89.54ZM64.83 84.8L67.23 89.12L62.43 89.12ZM64.95 84.39L67.35 88.71L62.55 88.71ZM64.37 83.98L66.77 88.3L61.97 88.3ZM64.86 83.56L67.26 87.88L62.46 87.88ZM65.72 83.15L68.12 87.47L63.32 87.47ZM65.57 82.73L67.97 87.05L63.17 87.05ZM65.63 82.32L68.03 86.64L63.23 86.64ZM65.76 81.9L68.16 86.22L63.36 86.22ZM65.27 81.49L67.67 85.81L62.87 85.81ZM66.49 81.08L68.89 85.4L64.09 85.4ZM65.43 80.66L67.83 84.98L63.03 84.98ZM65.27 80.25L67.67 84.57L62.87 84.57ZM66.22 79.83L68.62 84.15L63.82 84.15ZM65.42 79.42L67.82 83.74L63.02 83.74ZM66.98 79L69.38 83.32L64.58 83.32ZM66.34 78.59L68.74 82.91L63.94 82.91ZM65.62 78.18L68.02 82.5L63.22 82.5ZM65.54 77.76L67.94 82.08L63.14 82.08ZM66.68 77.35L69.08 81.67L64.28 81.67ZM65.76 76.93L68.16 81.25L63.36 81.25ZM65.88 76.52L68.28 80.84L63.48 80.84ZM66.63 76.1L69.03 80.42L64.23 80.42ZM66.8 75.69L69.2 80.01L64.4 80.01ZM67.62 75.28L70.02 79.6L65.22 79.6ZM66.41 74.86L68.81 79.18L64.01 79.18ZM67.91 74.45L70.31 78.77L65.51 78.77ZM67.12 74.03L69.52 78.35L64.72 78.35ZM68.09 73.62L70.49 77.94L65.69 77.94ZM66.84 73.2L69.24 77.52L64.44 77.52ZM66.75 72.79L69.15 77.11L64.35 77.11ZM67.59 72.38L69.99 76.7L65.19 76.7ZM67.27 71.96L69.67 76.28L64.87 76.28ZM67.88 71.55L70.28 75.87L65.48 75.87ZM68.66 71.13L71.06 75.45L66.26 75.45ZM68.9 70.72L71.3 75.04L66.5 75.04ZM67.43 70.3L69.83 74.62L65.03 74.62ZM67.86 69.89L70.26 74.21L65.46 74.21ZM68.06 69.48L70.46 73.8L65.66 73.8ZM67.91 69.06L70.31 73.38L65.51 73.38ZM68.6 68.65L71 72.97L66.2 72.97ZM67.88 68.23L70.28 72.55L65.48 72.55ZM68.27 67.82L70.67 72.14L65.87 72.14ZM68.12 67.4L70.52 71.72L65.72 71.72ZM69.01 66.99L71.41 71.31L66.61 71.31ZM70.13 66.58L72.53 70.9L67.73 70.9ZM68.61 66.16L71.01 70.48L66.21 70.48ZM70.25 65.75L72.65 70.07L67.85 70.07ZM69.16 65.33L71.56 69.65L66.76 69.65ZM70.18 64.92L72.58 69.24L67.78 69.24ZM70.5 64.5L72.9 68.82L68.1 68.82ZM70.29 64.09L72.69 68.41L67.89 68.41ZM70.84 63.68L73.24 68L68.44 68ZM70.95 63.26L73.35 67.58L68.55 67.58ZM71.94 62.85L74.34 67.17L69.54 67.17ZM71.91 62.43L74.31 66.75L69.51 66.75ZM71.42 62.02L73.82 66.34L69.02 66.34ZM71.44 61.6L73.84 65.92L69.04 65.92ZM71.46 61.19L73.86 65.51L69.06 65.51ZM72.59 60.78L74.99 65.1L70.19 65.1ZM72.26 60.36L74.66 64.68L69.86 64.68ZM72.6 59.95L75 64.27L70.2 64.27ZM74.49 59.53L76.89 63.85L72.09 63.85ZM74.38 59.12L76.78 63.44L71.98 63.44ZM74.33 58.7L76.73 63.02L71.93 63.02ZM75.45 58.29L77.85 62.61L73.05 62.61ZM75 57.88L77.4 62.2L72.6 62.2ZM75.02 57.46L77.42 61.78L72.62 61.78ZM76.13 57.05L78.53 61.37L73.73 61.37ZM76.3 56.63L78.7 60.95L73.9 60.95ZM75.62 56.22L78.02 60.54L73.22 60.54ZM76.27 55.8L78.67 60.12L73.87 60.12ZM77.29 55.39L79.69 59.71L74.89 59.71ZM76.75 54.98L79.15 59.3L74.35 59.3ZM79.06 54.56L81.46 58.88L76.66 58.88ZM77.03 54.15L79.43 58.47L74.63 58.47ZM79.75 53.73L82.15 58.05L77.35 58.05ZM80.46 53.32L82.86 57.64L78.06 57.64ZM79.8 52.9L82.2 57.22L77.4 57.22ZM79.05 52.49L81.45 56.81L76.65 56.81ZM81.21 52.08L83.61 56.4L78.81 56.4ZM80.53 51.66L82.93 55.98L78.13 55.98ZM81.77 51.25L84.17 55.57L79.37 55.57ZM81.01 50.83L83.41 55.15L78.61 55.15ZM81.13 50.42L83.53 54.74L78.73 54.74ZM83.85 50L86.25 54.32L81.45 54.32ZM81.72 49.59L84.12 53.91L79.32 53.91ZM82.28 49.18L84.68 53.5L79.88 53.5ZM85.25 48.76L87.65 53.08L82.85 53.08ZM85.9 48.35L88.3 52.67L83.5 52.67ZM85.01 47.93L87.41 52.25L82.61 52.25ZM85.89 47.52L88.29 51.84L83.49 51.84ZM87.66 47.1L90.06 51.42L85.26 51.42ZM88.06 46.69L90.46 51.01L85.66 51.01ZM88.95 46.28L91.35 50.6L86.55 50.6ZM88.9 45.86L91.3 50.18L86.5 50.18ZM91.69 45.45L94.09 49.77L89.29 49.77ZM89.31 45.03L91.71 49.35L86.91 49.35ZM91.88 44.62L94.28 48.94L89.48 48.94ZM91.01 44.2L93.41 48.52L88.61 48.52ZM92.77 43.79L95.17 48.11L90.37 48.11ZM93.92 43.37L96.32 47.69L91.52 47.69ZM97.48 42.96L99.88 47.28L95.08 47.28ZM97.83 42.55L100.23 46.87L95.43 46.87ZM98.16 42.13L100.56 46.45L95.76 46.45ZM100.53 41.72L102.93 46.04L98.13 46.04ZM101.69 41.3L104.09 45.62L99.29 45.62ZM103.4 40.89L105.8 45.21L101 45.21ZM103.28 40.47L105.68 44.79L100.88 44.79ZM105.31 40.06L107.71 44.38L102.91 44.38ZM107.14 39.65L109.54 43.97L104.74 43.97ZM106.66 39.23L109.06 43.55L104.26 43.55ZM110.16 38.82L112.56 43.14L107.76 43.14ZM111.51 38.4L113.91 42.72L109.11 42.72ZM112.89 37.99L115.29 42.31L110.49 42.31ZM114.3 37.57L116.7 41.89L111.9 41.89ZM115.73 37.16L118.13 41.48L113.33 41.48ZM117.14 36.75L119.54 41.07L114.74 41.07ZM118.51 36.33L120.91 40.65L116.11 40.65ZM119.9 35.92L122.3 40.24L117.5 40.24ZM121.32 35.5L123.72 39.82L118.92 39.82ZM142.73 35.09L145.13 39.41L140.33 39.41ZM179.94 34.67L182.34 38.99L177.54 38.99Z" fill="#0C2470" stroke="none" stroke-width="1"/>
<path d="M44.51 180.36h4.8v4.8h-4.8ZM44.82 180.01h4.8v4.8h-4.8ZM45.16 179.67h4.8v4.8h-4.8ZM45.81 179.33h4.8v4.8h-4.8ZM45.78 178.98h4.8v4.8h-4.8ZM45.85 178.64h4.8v4.8h-4.8ZM46.33 178.3h4.8v4.8h-4.8ZM46.19 177.95h4.8v4.8h-4.8ZM46.61 177.61h4.8v4.8h-4.8ZM46.76 177.27h4.8v4.8h-4.8ZM46.97 176.93h4.8v4.8h-4.8ZM47.19 176.58h4.8v4.8h-4.8ZM47.05 176.24h4.8v4.8h-4.8ZM47.06 175.9h4.8v4.8h-4.8ZM47.32 175.55h4.8v4.8h-4.8ZM47.4 175.21h4.8v4.8h-4.8ZM47.37 174.87h4.8v4.8h-4.8ZM47.74 174.52h4.8v4.8h-4.8ZM47.45 174.18h4.8v4.8h-4.8ZM47.73 173.84h4.8v4.8h-4.8ZM47.83 173.49h4.8v4.8h-4.8ZM47.63 173.15h4.8v4.8h-4.8ZM48.15 172.81h4.8v4.8h-4.8ZM47.98 172.46h4.8v4.8h-4.8ZM48.11 172.12h4.8v4.8h-4.8ZM48 171.78h4.8v4.8h-4.8ZM48.17 171.44h4.8v4.8h-4.8ZM48.24 171.09h4.8v4.8h-4.8ZM48.37 170.75h4.8v4.8h-4.8ZM48.09 170.41h4.8v4.8h-4.8ZM48.35 170.06h4.8v4.8h-4.8ZM48.43 169.72h4.8v4.8h-4.8ZM48.75 169.38h4.8v4.8h-4.8ZM48.58 169.03h4.8v4.8h-4.8ZM48.68 168.69h4.8v4.8h-4.8ZM48.58 168.35h4.8v4.8h-4.8ZM48.65 168h4.8v4.8h-4.8ZM49 167.66h4.8v4.8h-4.8ZM48.7 167.32h4.8v4.8h-4.8ZM49.1 166.97h4.8v4.8h-4.8ZM48.9 166.63h4.8v4.8h-4.8ZM49.15 166.29h4.8v4.8h-4.8ZM48.96 165.95h4.8v4.8h-4.8ZM49.15 165.6h4.8v4.8h-4.8ZM49.18 165.26h4.8v4.8h-4.8ZM48.94 164.92h4.8v4.8h-4.8ZM48.94 164.57h4.8v4.8h-4.8ZM49.36 164.23h4.8v4.8h-4.8ZM49 163.89h4.8v4.8h-4.8ZM49.33 163.54h4.8v4.8h-4.8ZM48.97 163.2h4.8v4.8h-4.8ZM49.2 162.86h4.8v4.8h-4.8ZM49.16 162.51h4.8v4.8h-4.8ZM49.13 162.17h4.8v4.8h-4.8ZM49.14 161.83h4.8v4.8h-4.8ZM49.66 161.48h4.8v4.8h-4.8ZM49.49 161.14h4.8v4.8h-4.8ZM49.39 160.8h4.8v4.8h-4.8ZM49.5 160.45h4.8v4.8h-4.8ZM49.72 160.11h4.8v4.8h-4.8ZM49.64 159.77h4.8v4.8h-4.8ZM49.3 159.43h4.8v4.8h-4.8ZM49.39 159.08h4.8v4.8h-4.8ZM49.89 158.74h4.8v4.8h-4.8ZM49.7 158.4h4.8v4.8h-4.8ZM49.75 158.05h4.8v4.8h-4.8ZM49.5 157.71h4.8v4.8h-4.8ZM49.53 157.37h4.8v4.8h-4.8ZM49.65 157.02h4.8v4.8h-4.8ZM49.78 156.68h4.8v4.8h-4.8ZM50.01 156.34h4.8v4.8h-4.8ZM49.94 155.99h4.8v4.8h-4.8ZM50.23 155.65h4.8v4.8h-4.8ZM50.11 155.31h4.8v4.8h-4.8ZM50.24 154.96h4.8v4.8h-4.8ZM50.63 154.62h4.8v4.8h-4.8ZM50.02 154.28h4.8v4.8h-4.8ZM50.52 153.94h4.8v4.8h-4.8ZM50.67 153.59h4.8v4.8h-4.8ZM50.32 153.25h4.8v4.8h-4.8ZM50.9 152.91h4.8v4.8h-4.8ZM50.41 152.56h4.8v4.8h-4.8ZM51 152.22h4.8v4.8h-4.8ZM50.59 151.88h4.8v4.8h-4.8ZM50.81 151.53h4.8v4.8h-4.8ZM50.82 151.19h4.8v4.8h-4.8ZM51 150.85h4.8v4.8h-4.8ZM51.08 150.5h4.8v4.8h-4.8ZM50.66 150.16h4.8v4.8h-4.8ZM51.31 149.82h4.8v4.8h-4.8ZM51.11 149.47h4.8v4.8h-4.8ZM51.47 149.13h4.8v4.8h-4.8ZM50.9 148.79h4.8v4.8h-4.8ZM51.16 148.45h4.8v4.8h-4.8ZM51.62 148.1h4.8v4.8h-4.8ZM51.39 147.76h4.8v4.8h-4.8ZM51.33 147.42h4.8v4.8h-4.8ZM51.33 147.07h4.8v4.8h-4.8ZM51.74 146.73h4.8v4.8h-4.8ZM51.04 146.39h4.8v4.8h-4.8ZM51.89 146.04h4.8v4.8h-4.8ZM51.49 145.7h4.8v4.8h-4.8ZM51.83 145.36h4.8v4.8h-4.8ZM51.58 145.01h4.8v4.8h-4.8ZM51.91 144.67h4.8v4.8h-4.8ZM51.34 144.33h4.8v4.8h-4.8ZM51.65 143.98h4.8v4.8h-4.8ZM51.99 143.64h4.8v4.8h-4.8ZM52.23 143.3h4.8v4.8h-4.8ZM51.85 142.95h4.8v4.8h-4.8ZM51.52 142.61h4.8v4.8h-4.8ZM52.13 142.27h4.8v4.8h-4.8ZM52.09 141.93h4.8v4.8h-4.8ZM51.7 141.58h4.8v4.8h-4.8ZM51.79 141.24h4.8v4.8h-4.8ZM52.08 140.9h4.8v4.8h-4.8ZM51.83 140.55h4.8v4.8h-4.8ZM52.54 140.21h4.8v4.8h-4.8ZM52.65 139.87h4.8v4.8h-4.8ZM52.48 139.52h4.8v4.8h-4.8ZM52.61 139.18h4.8v4.8h-4.8ZM52.18 138.84h4.8v4.8h-4.8ZM52.03 138.49h4.8v4.8h-4.8ZM52.63 138.15h4.8v4.8h-4.8ZM52.73 137.81h4.8v4.8h-4.8ZM52.69 137.46h4.8v4.8h-4.8ZM52.26 137.12h4.8v4.8h-4.8ZM52.17 136.78h4.8v4.8h-4.8ZM52.69 136.44h4.8v4.8h-4.8ZM52.36 136.09h4.8v4.8h-4.8ZM52.54 135.75h4.8v4.8h-4.8ZM52.75 135.41h4.8v4.8h-4.8ZM52.58 135.06h4.8v4.8h-4.8ZM53.27 134.72h4.8v4.8h-4.8ZM52.74 134.38h4.8v4.8h-4.8ZM53.01 134.03h4.8v4.8h-4.8ZM53.45 133.69h4.8v4.8h-4.8ZM53.2 133.35h4.8v4.8h-4.8ZM52.97 133h4.8v4.8h-4.8ZM53.37 132.66h4.8v4.8h-4.8ZM52.88 132.32h4.8v4.8h-4.8ZM52.84 131.97h4.8v4.8h-4.8ZM52.83 131.63h4.8v4.8h-4.8ZM53.48 131.29h4.8v4.8h-4.8ZM53.52 130.95h4.8v4.8h-4.8ZM53.58 130.6h4.8v4.8h-4.8ZM53.62 130.26h4.8v4.8h-4.8ZM53.58 129.92h4.8v4.8h-4.8ZM53.99 129.57h4.8v4.8h-4.8ZM53.55 129.23h4.8v4.8h-4.8ZM53.27 128.89h4.8v4.8h-4.8ZM53.44 128.54h4.8v4.8h-4.8ZM53.64 128.2h4.8v4.8h-4.8ZM53.9 127.86h4.8v4.8h-4.8ZM53.69 127.51h4.8v4.8h-4.8ZM53.82 127.17h4.8v4.8h-4.8ZM53.72 126.83h4.8v4.8h-4.8ZM54.22 126.48h4.8v4.8h-4.8ZM54.39 126.14h4.8v4.8h-4.8ZM53.91 125.8h4.8v4.8h-4.8ZM54.44 125.45h4.8v4.8h-4.8ZM53.86 125.11h4.8v4.8h-4.8ZM54.73 124.77h4.8v4.8h-4.8ZM54.12 124.43h4.8v4.8h-4.8ZM54.5 124.08h4.8v4.8h-4.8ZM54.48 123.74h4.8v4.8h-4.8ZM53.99 123.4h4.8v4.8h-4.8ZM54.57 123.05h4.8v4.8h-4.8ZM54.05 122.71h4.8v4.8h-4.8ZM54.56 122.37h4.8v4.8h-4.8ZM54.67 122.02h4.8v4.8h-4.8ZM55.17 121.68h4.8v4.8h-4.8ZM54.38 121.34h4.8v4.8h-4.8ZM54.29 120.99h4.8v4.8h-4.8ZM54.97 120.65h4.8v4.8h-4.8ZM54.67 120.31h4.8v4.8h-4.8ZM54.98 119.96h4.8v4.8h-4.8ZM54.71 119.62h4.8v4.8h-4.8ZM55.24 119.28h4.8v4.8h-4.8ZM54.67 118.94h4.8v4.8h-4.8ZM55.15 118.59h4.8v4.8h-4.8ZM55.49 118.25h4.8v4.8h-4.8ZM55.69 117.91h4.8v4.8h-4.8ZM55.1 117.56h4.8v4.8h-4.8ZM55.4 117.22h4.8v4.8h-4.8ZM55.92 116.88h4.8v4.8h-4.8ZM55.04 116.53h4.8v4.8h-4.8ZM55.89 116.19h4.8v4.8h-4.8ZM55.83 115.85h4.8v4.8h-4.8ZM56.16 115.5h4.8v4.8h-4.8ZM55.65 115.16h4.8v4.8h-4.8ZM55.66 114.82h4.8v4.8h-4.8ZM55.82 114.47h4.8v4.8h-4.8ZM55.66 114.13h4.8v4.8h-4.8ZM55.37 113.79h4.8v4.8h-4.8ZM56.01 113.45h4.8v4.8h-4.8ZM55.86 113.1h4.8v4.8h-4.8ZM56.05 112.76h4.8v4.8h-4.8ZM56.34 112.42h4.8v4.8h-4.8ZM56.03 112.07h4.8v4.8h-4.8ZM55.81 111.73h4.8v4.8h-4.8ZM56.67 111.39h4.8v4.8h-4.8ZM56.87 111.04h4.8v4.8h-4.8ZM56.06 110.7h4.8v4.8h-4.8ZM56.57 110.36h4.8v4.8h-4.8ZM56.34 110.01h4.8v4.8h-4.8ZM56.8 109.67h4.8v4.8h-4.8ZM56.06 109.33h4.8v4.8h-4.8ZM57.19 108.98h4.8v4.8h-4.8ZM57.17 108.64h4.8v4.8h-4.8ZM56.33 108.3h4.8v4.8h-4.8ZM57.01 107.95h4.8v4.8h-4.8ZM56.68 107.61h4.8v4.8h-4.8ZM56.59 107.27h4.8v4.8h-4.8ZM57.46 106.93h4.8v4.8h-4.8ZM57.4 106.58h4.8v4.8h-4.8ZM57.23 106.24h4.8v4.8h-4.8ZM57.34 105.9h4.8v4.8h-4.8ZM57.73 105.55h4.8v4.8h-4.8ZM57.1 105.21h4.8v4.8h-4.8ZM57.36 104.87h4.8v4.8h-4.8ZM57.08 104.52h4.8v4.8h-4.8ZM57.43 104.18h4.8v4.8h-4.8ZM57.12 103.84h4.8v4.8h-4.8ZM57.41 103.49h4.8v4.8h-4.8ZM57.86 103.15h4.8v4.8h-4.8ZM57.44 102.81h4.8v4.8h-4.8ZM58 102.46h4.8v4.8h-4.8ZM58.26 102.12h4.8v4.8h-4.8ZM58.09 101.78h4.8v4.8h-4.8ZM57.94 101.44h4.8v4.8h-4.8ZM57.89 101.09h4.8v4.8h-4.8ZM57.53 100.75h4.8v4.8h-4.8ZM58.53 100.41h4.8v4.8h-4.8ZM58.87 100.06h4.8v4.8h-4.8ZM57.94 99.72h4.8v4.8h-4.8ZM58.63 99.38h4.8v4.8h-4.8ZM58.56 99.03h4.8v4.8h-4.8ZM58.93 98.69h4.8v4.8h-4.8ZM58.81 98.35h4.8v4.8h-4.8ZM58.19 98h4.8v4.8h-4.8ZM58.17 97.66h4.8v4.8h-4.8ZM58.51 97.32h4.8v4.8h-4.8ZM58.37 96.97h4.8v4.8h-4.8ZM59.02 96.63h4.8v4.8h-4.8ZM58.36 96.29h4.8v4.8h-4.8ZM59.26 95.95h4.8v4.8h-4.8ZM59.49 95.6h4.8v4.8h-4.8ZM58.49 95.26h4.8v4.8h-4.8ZM59.78 94.92h4.8v4.8h-4.8ZM59.74 94.57h4.8v4.8h-4.8ZM58.68 94.23h4.8v4.8h-4.8ZM59.48 93.89h4.8v4.8h-4.8ZM58.79 93.54h4.8v4.8h-4.8ZM59.5 93.2h4.8v4.8h-4.8ZM58.99 92.86h4.8v4.8h-4.8ZM59.78 92.51h4.8v4.8h-4.8ZM59.12 92.17h4.8v4.8h-4.8ZM59.2 91.83h4.8v4.8h-4.8ZM60.59 91.48h4.8v4.8h-4.8ZM60.41 91.14h4.8v4.8h-4.8ZM60.27 90.8h4.8v4.8h-4.8ZM60.52 90.45h4.8v4.8h-4.8ZM59.71 90.11h4.8v4.8h-4.8ZM59.62 89.77h4.8v4.8h-4.8ZM60.01 89.43h4.8v4.8h-4.8ZM60.76 89.08h4.8v4.8h-4.8ZM60.82 88.74h4.8v4.8h-4.8ZM60.83 88.4h4.8v4.8h-4.8ZM60.43 88.05h4.8v4.8h-4.8ZM60.65 87.71h4.8v4.8h-4.8ZM61.08 87.37h4.8v4.8h-4.8ZM60.91 87.02h4.8v4.8h-4.8ZM60.41 86.68h4.8v4.8h-4.8ZM60.87 86.34h4.8v4.8h-4.8ZM61.69 85.99h4.8v4.8h-4.8ZM61.81 85.65h4.8v4.8h-4.8ZM60.46 85.31h4.8v4.8h-4.8ZM60.6 84.96h4.8v4.8h-4.8ZM60.57 84.62h4.8v4.8h-4.8ZM61.36 84.28h4.8v4.8h-4.8ZM62.08 83.94h4.8v4.8h-4.8ZM61.52 83.59h4.8v4.8h-4.8ZM61.3 83.25h4.8v4.8h-4.8ZM62.28 82.91h4.8v4.8h-4.8ZM61.29 82.56h4.8v4.8h-4.8ZM61.87 82.22h4.8v4.8h-4.8ZM62.52 81.88h4.8v4.8h-4.8ZM62.57 81.53h4.8v4.8h-4.8ZM61.41 81.19h4.8v4.8h-4.8ZM61.77 80.85h4.8v4.8h-4.8ZM62.01 80.5h4.8v4.8h-4.8ZM62.71 80.16h4.8v4.8h-4.8ZM62.64 79.82h4.8v4.8h-4.8ZM62.46 79.47h4.8v4.8h-4.8ZM62.26 79.13h4.8v4.8h-4.8ZM62.19 78.79h4.8v4.8h-4.8ZM62.77 78.45h4.8v4.8h-4.8ZM63.24 78.1h4.8v4.8h-4.8ZM62.53 77.76h4.8v4.8h-4.8ZM62.49 77.42h4.8v4.8h-4.8ZM62.1 77.07h4.8v4.8h-4.8ZM62.35 76.73h4.8v4.8h-4.8ZM62.46 76.39h4.8v4.8h-4.8ZM63.06 76.04h4.8v4.8h-4.8ZM63.75 75.7h4.8v4.8h-4.8ZM63.17 75.36h4.8v4.8h-4.8ZM62.79 75.01h4.8v4.8h-4.8ZM62.91 74.67h4.8v4.8h-4.8ZM64.41 74.33h4.8v4.8h-4.8ZM63.88 73.98h4.8v4.8h-4.8ZM63.37 73.64h4.8v4.8h-4.8ZM64.46 73.3h4.8v4.8h-4.8ZM64.74 72.95h4.8v4.8h-4.8ZM64.07 72.61h4.8v4.8h-4.8ZM63.98 72.27h4.8v4.8h-4.8ZM63.94 71.93h4.8v4.8h-4.8ZM64.01 71.58h4.8v4.8h-4.8ZM65 71.24h4.8v4.8h-4.8ZM64.8 70.9h4.8v4.8h-4.8ZM65.27 70.55h4.8v4.8h-4.8ZM63.71 70.21h4.8v4.8h-4.8ZM63.97 69.87h4.8v4.8h-4.8ZM64.79 69.52h4.8v4.8h-4.8ZM64.99 69.18h4.8v4.8h-4.8ZM64.78 68.84h4.8v4.8h-4.8ZM65.03 68.49h4.8v4.8h-4.8ZM65.87 68.15h4.8v4.8h-4.8ZM65.29 67.81h4.8v4.8h-4.8ZM64.8 67.46h4.8v4.8h-4.8ZM65.34 67.12h4.8v4.8h-4.8ZM65.04 66.78h4.8v4.8h-4.8ZM65.78 66.44h4.8v4.8h-4.8ZM65.78 66.09h4.8v4.8h-4.8ZM66.11 65.75h4.8v4.8h-4.8ZM66.74 65.41h4.8v4.8h-4.8ZM65.92 65.06h4.8v4.8h-4.8ZM65.16 64.72h4.8v4.8h-4.8ZM66.19 64.38h4.8v4.8h-4.8ZM66.36 64.03h4.8v4.8h-4.8ZM67.09 63.69h4.8v4.8h-4.8ZM67.52 63.35h4.8v4.8h-4.8ZM66.09 63h4.8v4.8h-4.8ZM67.73 62.66h4.8v4.8h-4.8ZM66.39 62.32h4.8v4.8h-4.8ZM67.4 61.97h4.8v4.8h-4.8ZM66.34 61.63h4.8v4.8h-4.8ZM68.25 61.29h4.8v4.8h-4.8ZM67.47 60.95h4.8v4.8h-4.8ZM67.21 60.6h4.8v4.8h-4.8ZM68.93 60.26h4.8v4.8h-4.8ZM67.23 59.92h4.8v4.8h-4.8ZM67.94 59.57h4.8v4.8h-4.8ZM68.34 59.23h4.8v4.8h-4.8ZM68.05 58.89h4.8v4.8h-4.8ZM68.41 58.54h4.8v4.8h-4.8ZM69.65 58.2h4.8v4.8h-4.8ZM68.36 57.86h4.8v4.8h-4.8ZM69.32 57.51h4.8v4.8h-4.8ZM68.71 57.17h4.8v4.8h-4.8ZM69.78 56.83h4.8v4.8h-4.8ZM69.1 56.48h4.8v4.8h-4.8ZM69.52 56.14h4.8v4.8h-4.8ZM70.3 55.8h4.8v4.8h-4.8ZM69.94 55.45h4.8v4.8h-4.8ZM71.36 55.11h4.8v4.8h-4.8ZM70.45 54.77h4.8v4.8h-4.8ZM72.23 54.43h4.8v4.8h-4.8ZM72.2 54.08h4.8v4.8h-4.8ZM71.1 53.74h4.8v4.8h-4.8ZM72.36 53.4h4.8v4.8h-4.8ZM71.55 53.05h4.8v4.8h-4.8ZM72.11 52.71h4.8v4.8h-4.8ZM72.77 52.37h4.8v4.8h-4.8ZM74.11 52.02h4.8v4.8h-4.8ZM74.2 51.68h4.8v4.8h-4.8ZM74.3 51.34h4.8v4.8h-4.8ZM73.7 50.99h4.8v4.8h-4.8ZM74.49 50.65h4.8v4.8h-4.8ZM76.06 50.31h4.8v4.8h-4.8ZM76.02 49.96h4.8v4.8h-4.8ZM76.07 49.62h4.8v4.8h-4.8ZM75.87 49.28h4.8v4.8h-4.8ZM76.32 48.94h4.8v4.8h-4.8ZM79.44 48.59h4.8v4.8h-4.8ZM78.46 48.25h4.8v4.8h-4.8ZM80.49 47.91h4.8v4.8h-4.8ZM79.2 47.56h4.8v4.8h-4.8ZM81.08 47.22h4.8v4.8h-4.8ZM80.81 46.88h4.8v4.8h-4.8ZM83.71 46.53h4.8v4.8h-4.8ZM82.34 46.19h4.8v4.8h-4.8ZM84.28 45.85h4.8v4.8h-4.8ZM86.67 45.5h4.8v4.8h-4.8ZM86.72 45.16h4.8v4.8h-4.8ZM87.2 44.82h4.8v4.8h-4.8ZM87.68 44.47h4.8v4.8h-4.8ZM89.52 44.13h4.8v4.8h-4.8ZM88.73 43.79h4.8v4.8h-4.8ZM90.46 43.45h4.8v4.8h-4.8ZM92.34 43.1h4.8v4.8h-4.8ZM93.03 42.76h4.8v4.8h-4.8ZM95.58 42.42h4.8v4.8h-4.8ZM98.22 42.07h4.8v4.8h-4.8ZM102.21 41.73h4.8v4.8h-4.8Z" fill="#A94E10" stroke="none" stroke-width="1"/>
<path class="p8a" d="M104.53 41.39h4.8v4.8h-4.8z"/><path class="w8a" d="M105.73 43.19l1.4 1.4"/>
<path class="p8a" d="M102.01 41.04h4.8v4.8h-4.8z"/><path class="w8a" d="M103.21 42.84l1.4 1.4"/>
<path class="p8a" d="M106.2 40.7h4.8v4.8h-4.8z"/><path class="w8a" d="M107.4 42.5l1.4 1.4"/>
<path class="p8a" d="M109.49 40.36h4.8v4.8h-4.8z"/><path class="w8a" d="M110.69 42.16l1.4 1.4"/>
<path class="p8a" d="M111.67 40.01h4.8v4.8h-4.8z"/><path class="w8a" d="M112.87 41.81l1.4 1.4"/>
<path class="p8a" d="M109.78 39.67h4.8v4.8h-4.8z"/><path class="w8a" d="M110.98 41.47l1.4 1.4"/>
<path class="p8a" d="M110.35 39.33h4.8v4.8h-4.8z"/><path class="w8a" d="M111.55 41.13l1.4 1.4"/>
<path class="p8a" d="M114.61 38.98h4.8v4.8h-4.8z"/><path class="w8a" d="M115.81 40.78l1.4 1.4"/>
<path class="p8a" d="M116.13 38.64h4.8v4.8h-4.8z"/><path class="w8a" d="M117.33 40.44l1.4 1.4"/>
<path class="p8a" d="M117.67 38.3h4.8v4.8h-4.8z"/><path class="w8a" d="M118.87 40.1l1.4 1.4"/>
<path class="p8a" d="M119.01 37.95h4.8v4.8h-4.8z"/><path class="w8a" d="M120.21 39.75l1.4 1.4"/>
<path class="p8a" d="M119.44 37.61h4.8v4.8h-4.8z"/><path class="w8a" d="M120.64 39.41l1.4 1.4"/>
<path class="p8a" d="M119.87 37.27h4.8v4.8h-4.8z"/><path class="w8a" d="M121.07 39.07l1.4 1.4"/>
<path class="p8a" d="M120.31 36.93h4.8v4.8h-4.8z"/><path class="w8a" d="M121.51 38.73l1.4 1.4"/>
<path class="p8a" d="M120.75 36.58h4.8v4.8h-4.8z"/><path class="w8a" d="M121.95 38.38l1.4 1.4"/>
<path class="p8a" d="M130.84 36.24h4.8v4.8h-4.8z"/><path class="w8a" d="M132.04 38.04l1.4 1.4"/>
<path class="p8a" d="M145.68 35.9h4.8v4.8h-4.8z"/><path class="w8a" d="M146.88 37.7l1.4 1.4"/>
<path class="p8a" d="M160.63 35.55h4.8v4.8h-4.8z"/><path class="w8a" d="M161.83 37.35l1.4 1.4"/>
<path class="p8a" d="M172.67 35.21h4.8v4.8h-4.8z"/><path class="w8a" d="M173.87 37.01l1.4 1.4"/>
<path class="p8a" d="M203.31 34.87h4.8v4.8h-4.8z"/><path class="w8a" d="M204.51 36.67l1.4 1.4"/>
<rect x="160" y="103" width="65.5" height="79.5" fill="#fff"/>
<path d="M171.05 108.3a1.75 1.75 0 1 0 3.5 0a1.75 1.75 0 1 0 -3.5 0" fill="none" stroke="#4472C4" stroke-width="1"/>
<text transform="translate(178.3 111.5) scale(1.1081 1.0000)" style="font-family:'Liberation Sans', Arial, sans-serif;font-weight:bold;font-size:9.45px" fill="#000" stroke="#000" stroke-width="0.3">Ring 1</text>
<path d="M172.8 115.57L175 119.53L170.6 119.53Z" fill="#ED7D31" stroke="none" stroke-width="1"/>
<text transform="translate(178.3 121.15) scale(1.1127 1.0000)" style="font-family:'Liberation Sans', Arial, sans-serif;font-weight:bold;font-size:9.45px" fill="#000" stroke="#000" stroke-width="0.3">Ring 2</text>
<path d="M172.8 125.4l2.2 2.2l-2.2 2.2l-2.2 -2.2Z" fill="#FF0000" stroke="none" stroke-width="1"/>
<text transform="translate(178.3 130.8) scale(1.1112 1.0000)" style="font-family:'Liberation Sans', Arial, sans-serif;font-weight:bold;font-size:9.45px" fill="#000" stroke="#000" stroke-width="0.3">Ring 3</text>
<path d="M171.1 135.55h3.4v3.4h-3.4Z" fill="none" stroke="#7030A0" stroke-width="1"/>
<text transform="translate(178.3 140.45) scale(1.0996 1.0000)" style="font-family:'Liberation Sans', Arial, sans-serif;font-weight:bold;font-size:9.45px" fill="#000" stroke="#000" stroke-width="0.3">Ring 4</text>
<path d="M171.05 145.15l3.5 3.5M174.55 145.15l-3.5 3.5" fill="none" stroke="#00B050" stroke-width="1.1"/>
<text transform="translate(178.3 150.1) scale(1.1081 1.0000)" style="font-family:'Liberation Sans', Arial, sans-serif;font-weight:bold;font-size:9.45px" fill="#000" stroke="#000" stroke-width="0.3">Ring 5</text>
<path d="M171.05 154.8l3.5 3.5M174.55 154.8l-3.5 3.5" fill="none" stroke="#00B0F0" stroke-width="1.3"/>
<text transform="translate(178.3 159.75) scale(1.1112 1.0000)" style="font-family:'Liberation Sans', Arial, sans-serif;font-weight:bold;font-size:9.45px" fill="#000" stroke="#000" stroke-width="0.3">Ring 6</text>
<path d="M172.8 163.82L175 167.78L170.6 167.78Z" fill="#0C2470" stroke="none" stroke-width="1"/>
<text transform="translate(178.29 169.4) scale(1.1142 1.0000)" style="font-family:'Liberation Sans', Arial, sans-serif;font-weight:bold;font-size:9.45px" fill="#000" stroke="#000" stroke-width="0.3">Ring 7</text>
<path d="M171.25 174.3h3.1v3.1h-3.1Z" fill="none" stroke="#A94E10" stroke-width="1.5"/>
<text transform="translate(178.3 179.05) scale(1.1093 1.0000)" style="font-family:'Liberation Sans', Arial, sans-serif;font-weight:bold;font-size:9.45px" fill="#000" stroke="#000" stroke-width="0.3">Ring 8</text>
<path d="M317.58 181.34a1.95 1.95 0 1 0 3.9 0a1.95 1.95 0 1 0 -3.9 0M317.74 175a1.95 1.95 0 1 0 3.9 0a1.95 1.95 0 1 0 -3.9 0M317.9 168.65a1.95 1.95 0 1 0 3.9 0a1.95 1.95 0 1 0 -3.9 0M318.06 162.3a1.95 1.95 0 1 0 3.9 0a1.95 1.95 0 1 0 -3.9 0M318.22 155.95a1.95 1.95 0 1 0 3.9 0a1.95 1.95 0 1 0 -3.9 0M318.39 149.6a1.95 1.95 0 1 0 3.9 0a1.95 1.95 0 1 0 -3.9 0M318.58 143.26a1.95 1.95 0 1 0 3.9 0a1.95 1.95 0 1 0 -3.9 0M318.76 136.91a1.95 1.95 0 1 0 3.9 0a1.95 1.95 0 1 0 -3.9 0M318.96 130.56a1.95 1.95 0 1 0 3.9 0a1.95 1.95 0 1 0 -3.9 0M319.15 124.21a1.95 1.95 0 1 0 3.9 0a1.95 1.95 0 1 0 -3.9 0M319.36 117.86a1.95 1.95 0 1 0 3.9 0a1.95 1.95 0 1 0 -3.9 0M319.56 111.52a1.95 1.95 0 1 0 3.9 0a1.95 1.95 0 1 0 -3.9 0M319.81 105.17a1.95 1.95 0 1 0 3.9 0a1.95 1.95 0 1 0 -3.9 0M320.34 98.82a1.95 1.95 0 1 0 3.9 0a1.95 1.95 0 1 0 -3.9 0M321.17 92.47a1.95 1.95 0 1 0 3.9 0a1.95 1.95 0 1 0 -3.9 0M322.34 86.12a1.95 1.95 0 1 0 3.9 0a1.95 1.95 0 1 0 -3.9 0M322.82 79.78a1.95 1.95 0 1 0 3.9 0a1.95 1.95 0 1 0 -3.9 0M323.49 73.43a1.95 1.95 0 1 0 3.9 0a1.95 1.95 0 1 0 -3.9 0M324.33 67.08a1.95 1.95 0 1 0 3.9 0a1.95 1.95 0 1 0 -3.9 0M326.01 60.73a1.95 1.95 0 1 0 3.9 0a1.95 1.95 0 1 0 -3.9 0M327.74 54.39a1.95 1.95 0 1 0 3.9 0a1.95 1.95 0 1 0 -3.9 0M329.8 48.04a1.95 1.95 0 1 0 3.9 0a1.95 1.95 0 1 0 -3.9 0M341.55 43.99a1.95 1.95 0 1 0 3.9 0a1.95 1.95 0 1 0 -3.9 0" fill="none" stroke="#4472C4" stroke-width="1"/>
<path d="M319.53 178.75L321.93 183.07L317.13 183.07ZM319.64 173.92L322.04 178.24L317.24 178.24ZM319.76 169.09L322.16 173.41L317.36 173.41ZM319.88 164.26L322.28 168.58L317.48 168.58ZM320.01 159.43L322.41 163.75L317.61 163.75ZM320.14 154.6L322.54 158.92L317.74 158.92ZM320.27 149.77L322.67 154.09L317.87 154.09ZM320.43 144.94L322.83 149.26L318.03 149.26ZM320.58 140.11L322.98 144.43L318.18 144.43ZM320.75 135.28L323.15 139.6L318.35 139.6ZM320.91 130.45L323.31 134.77L318.51 134.77ZM321.08 125.62L323.48 129.94L318.68 129.94ZM321.29 120.79L323.69 125.11L318.89 125.11ZM321.59 115.96L323.99 120.28L319.19 120.28ZM321.9 111.13L324.3 115.45L319.5 115.45ZM322.22 106.3L324.62 110.62L319.82 110.62ZM322.56 101.47L324.96 105.79L320.16 105.79ZM322.91 96.64L325.31 100.96L320.51 100.96ZM323.34 91.81L325.74 96.13L320.94 96.13ZM323.99 86.98L326.39 91.3L321.59 91.3ZM324.68 82.15L327.08 86.47L322.28 86.47ZM325.42 77.32L327.82 81.64L323.02 81.64ZM326.22 72.49L328.62 76.81L323.82 76.81ZM327.08 67.66L329.48 71.98L324.68 71.98ZM328.03 62.83L330.43 67.15L325.63 67.15ZM329.57 58L331.97 62.32L327.17 62.32ZM331.29 53.17L333.69 57.49L328.89 57.49ZM339.09 48.34L341.49 52.66L336.69 52.66ZM348.03 45.59L350.43 49.91L345.63 49.91ZM356.85 42.55L359.25 46.87L354.45 46.87ZM362.12 39.81L364.52 44.13L359.72 44.13Z" fill="#ED7D31" stroke="none" stroke-width="1"/>
<path d="M319.65 178.94l2.4 2.4l-2.4 2.4l-2.4 -2.4ZM319.74 175.24l2.4 2.4l-2.4 2.4l-2.4 -2.4ZM319.83 171.54l2.4 2.4l-2.4 2.4l-2.4 -2.4ZM319.92 167.83l2.4 2.4l-2.4 2.4l-2.4 -2.4ZM320.01 164.13l2.4 2.4l-2.4 2.4l-2.4 -2.4ZM320.11 160.43l2.4 2.4l-2.4 2.4l-2.4 -2.4ZM320.21 156.73l2.4 2.4l-2.4 2.4l-2.4 -2.4ZM320.31 153.02l2.4 2.4l-2.4 2.4l-2.4 -2.4ZM320.41 149.32l2.4 2.4l-2.4 2.4l-2.4 -2.4ZM320.53 145.62l2.4 2.4l-2.4 2.4l-2.4 -2.4ZM320.65 141.91l2.4 2.4l-2.4 2.4l-2.4 -2.4ZM320.78 138.21l2.4 2.4l-2.4 2.4l-2.4 -2.4ZM320.9 134.51l2.4 2.4l-2.4 2.4l-2.4 -2.4ZM321.03 130.81l2.4 2.4l-2.4 2.4l-2.4 -2.4ZM321.16 127.1l2.4 2.4l-2.4 2.4l-2.4 -2.4ZM321.29 123.4l2.4 2.4l-2.4 2.4l-2.4 -2.4ZM321.56 119.7l2.4 2.4l-2.4 2.4l-2.4 -2.4ZM321.91 115.99l2.4 2.4l-2.4 2.4l-2.4 -2.4ZM322.27 112.29l2.4 2.4l-2.4 2.4l-2.4 -2.4ZM322.64 108.59l2.4 2.4l-2.4 2.4l-2.4 -2.4ZM323.04 104.88l2.4 2.4l-2.4 2.4l-2.4 -2.4ZM323.45 101.18l2.4 2.4l-2.4 2.4l-2.4 -2.4ZM323.89 97.48l2.4 2.4l-2.4 2.4l-2.4 -2.4ZM324.34 93.78l2.4 2.4l-2.4 2.4l-2.4 -2.4ZM325.22 90.07l2.4 2.4l-2.4 2.4l-2.4 -2.4ZM326.24 86.37l2.4 2.4l-2.4 2.4l-2.4 -2.4ZM327.35 82.67l2.4 2.4l-2.4 2.4l-2.4 -2.4ZM328.57 78.96l2.4 2.4l-2.4 2.4l-2.4 -2.4ZM329.91 75.26l2.4 2.4l-2.4 2.4l-2.4 -2.4ZM331.37 71.56l2.4 2.4l-2.4 2.4l-2.4 -2.4ZM332.97 67.86l2.4 2.4l-2.4 2.4l-2.4 -2.4ZM334.73 64.15l2.4 2.4l-2.4 2.4l-2.4 -2.4ZM335.27 60.45l2.4 2.4l-2.4 2.4l-2.4 -2.4ZM339.94 56.75l2.4 2.4l-2.4 2.4l-2.4 -2.4ZM341.67 53.04l2.4 2.4l-2.4 2.4l-2.4 -2.4ZM344.98 49.34l2.4 2.4l-2.4 2.4l-2.4 -2.4ZM348.89 45.64l2.4 2.4l-2.4 2.4l-2.4 -2.4ZM351.34 42.75l2.4 2.4l-2.4 2.4l-2.4 -2.4ZM352.69 40.58l2.4 2.4l-2.4 2.4l-2.4 -2.4ZM353.67 38.99l2.4 2.4l-2.4 2.4l-2.4 -2.4Z" fill="#FF0000" stroke="none" stroke-width="1"/>
<path d="M317.88 179.44h3.8v3.8h-3.8ZM317.96 176.29h3.8v3.8h-3.8ZM318.05 173.14h3.8v3.8h-3.8ZM318.14 169.99h3.8v3.8h-3.8ZM318.24 166.84h3.8v3.8h-3.8ZM318.33 163.69h3.8v3.8h-3.8ZM318.42 160.54h3.8v3.8h-3.8ZM318.52 157.39h3.8v3.8h-3.8ZM318.62 154.24h3.8v3.8h-3.8ZM318.73 151.09h3.8v3.8h-3.8ZM318.89 147.94h3.8v3.8h-3.8ZM319.05 144.79h3.8v3.8h-3.8ZM319.21 141.64h3.8v3.8h-3.8ZM319.38 138.49h3.8v3.8h-3.8ZM319.55 135.34h3.8v3.8h-3.8ZM319.73 132.18h3.8v3.8h-3.8ZM319.92 129.03h3.8v3.8h-3.8ZM320.1 125.88h3.8v3.8h-3.8ZM320.3 122.73h3.8v3.8h-3.8ZM320.68 119.58h3.8v3.8h-3.8ZM321.08 116.43h3.8v3.8h-3.8ZM321.5 113.28h3.8v3.8h-3.8ZM321.94 110.13h3.8v3.8h-3.8ZM322.4 106.98h3.8v3.8h-3.8ZM322.89 103.83h3.8v3.8h-3.8ZM323.46 100.68h3.8v3.8h-3.8ZM324.07 97.53h3.8v3.8h-3.8ZM324.71 94.38h3.8v3.8h-3.8ZM325.09 91.23h3.8v3.8h-3.8ZM325.41 88.08h3.8v3.8h-3.8ZM325.74 84.93h3.8v3.8h-3.8ZM326.08 81.78h3.8v3.8h-3.8ZM326.43 78.63h3.8v3.8h-3.8ZM326.79 75.47h3.8v3.8h-3.8ZM327.15 72.32h3.8v3.8h-3.8ZM327.54 69.17h3.8v3.8h-3.8ZM328.24 66.02h3.8v3.8h-3.8ZM329.2 62.87h3.8v3.8h-3.8ZM329.85 59.72h3.8v3.8h-3.8ZM331.44 56.57h3.8v3.8h-3.8ZM334.53 53.42h3.8v3.8h-3.8ZM337.3 50.27h3.8v3.8h-3.8ZM338.68 47.12h3.8v3.8h-3.8ZM341.11 43.97h3.8v3.8h-3.8ZM352.99 41.8h3.8v3.8h-3.8ZM357.03 38.91h3.8v3.8h-3.8Z" fill="none" stroke="#7030A0" stroke-width="1"/>
<path d="M317.95 179.39l3.9 3.9M321.85 179.39l-3.9 3.9M318.08 175.35l3.9 3.9M321.98 175.35l-3.9 3.9M318.21 171.31l3.9 3.9M322.11 171.31l-3.9 3.9M318.35 167.27l3.9 3.9M322.25 167.27l-3.9 3.9M318.48 163.24l3.9 3.9M322.38 163.24l-3.9 3.9M318.62 159.2l3.9 3.9M322.52 159.2l-3.9 3.9M318.77 155.16l3.9 3.9M322.67 155.16l-3.9 3.9M318.93 151.12l3.9 3.9M322.83 151.12l-3.9 3.9M319.19 147.08l3.9 3.9M323.09 147.08l-3.9 3.9M319.45 143.04l3.9 3.9M323.35 143.04l-3.9 3.9M319.73 139l3.9 3.9M323.63 139l-3.9 3.9M320.02 134.96l3.9 3.9M323.92 134.96l-3.9 3.9M320.33 130.92l3.9 3.9M324.23 130.92l-3.9 3.9M320.64 126.88l3.9 3.9M324.54 126.88l-3.9 3.9M320.97 122.84l3.9 3.9M324.87 122.84l-3.9 3.9M321.62 118.8l3.9 3.9M325.52 118.8l-3.9 3.9M322.33 114.76l3.9 3.9M326.23 114.76l-3.9 3.9M323.1 110.72l3.9 3.9M327 110.72l-3.9 3.9M323.93 106.68l3.9 3.9M327.83 106.68l-3.9 3.9M324.9 102.64l3.9 3.9M328.8 102.64l-3.9 3.9M326.17 98.6l3.9 3.9M330.07 98.6l-3.9 3.9M327.56 94.56l3.9 3.9M331.46 94.56l-3.9 3.9M328.4 90.52l3.9 3.9M332.3 90.52l-3.9 3.9M329.11 86.48l3.9 3.9M333.01 86.48l-3.9 3.9M329.86 82.44l3.9 3.9M333.76 82.44l-3.9 3.9M330.65 78.4l3.9 3.9M334.55 78.4l-3.9 3.9M331.47 74.36l3.9 3.9M335.37 74.36l-3.9 3.9M332.33 70.32l3.9 3.9M336.23 70.32l-3.9 3.9M333.23 66.29l3.9 3.9M337.13 66.29l-3.9 3.9M333.97 62.25l3.9 3.9M337.87 62.25l-3.9 3.9M335.16 58.21l3.9 3.9M339.06 58.21l-3.9 3.9M339.76 54.17l3.9 3.9M343.66 54.17l-3.9 3.9M344.06 50.13l3.9 3.9M347.96 50.13l-3.9 3.9M347.55 46.09l3.9 3.9M351.45 46.09l-3.9 3.9M348.41 44.35l3.9 3.9M352.31 44.35l-3.9 3.9M350.61 42.47l3.9 3.9M354.51 42.47l-3.9 3.9M353.06 40.59l3.9 3.9M356.96 40.59l-3.9 3.9" fill="none" stroke="#00B050" stroke-width="1.1"/>
<path d="M318.19 179.39l3.9 3.9M322.09 179.39l-3.9 3.9M318.29 175.79l3.9 3.9M322.19 175.79l-3.9 3.9M318.4 172.19l3.9 3.9M322.3 172.19l-3.9 3.9M318.5 168.58l3.9 3.9M322.4 168.58l-3.9 3.9M318.61 164.98l3.9 3.9M322.51 164.98l-3.9 3.9M318.72 161.38l3.9 3.9M322.62 161.38l-3.9 3.9M318.83 157.78l3.9 3.9M322.73 157.78l-3.9 3.9M318.94 154.17l3.9 3.9M322.84 154.17l-3.9 3.9M319.09 150.57l3.9 3.9M322.99 150.57l-3.9 3.9M319.36 146.97l3.9 3.9M323.26 146.97l-3.9 3.9M319.64 143.36l3.9 3.9M323.54 143.36l-3.9 3.9M319.93 139.76l3.9 3.9M323.83 139.76l-3.9 3.9M320.23 136.16l3.9 3.9M324.13 136.16l-3.9 3.9M320.54 132.56l3.9 3.9M324.44 132.56l-3.9 3.9M320.87 128.95l3.9 3.9M324.77 128.95l-3.9 3.9M321.21 125.35l3.9 3.9M325.11 125.35l-3.9 3.9M321.66 121.75l3.9 3.9M325.56 121.75l-3.9 3.9M322.39 118.14l3.9 3.9M326.29 118.14l-3.9 3.9M323.18 114.54l3.9 3.9M327.08 114.54l-3.9 3.9M324.04 110.94l3.9 3.9M327.94 110.94l-3.9 3.9M324.97 107.34l3.9 3.9M328.87 107.34l-3.9 3.9M325.97 103.73l3.9 3.9M329.87 103.73l-3.9 3.9M327.06 100.13l3.9 3.9M330.96 100.13l-3.9 3.9M328.23 96.53l3.9 3.9M332.13 96.53l-3.9 3.9M329.51 92.92l3.9 3.9M333.41 92.92l-3.9 3.9M330.91 89.32l3.9 3.9M334.81 89.32l-3.9 3.9M332.44 85.72l3.9 3.9M336.34 85.72l-3.9 3.9M334.09 82.12l3.9 3.9M337.99 82.12l-3.9 3.9M335.87 78.51l3.9 3.9M339.77 78.51l-3.9 3.9M337.8 74.91l3.9 3.9M341.7 74.91l-3.9 3.9M339.74 71.31l3.9 3.9M343.64 71.31l-3.9 3.9M341.82 67.7l3.9 3.9M345.72 67.7l-3.9 3.9M344.05 64.1l3.9 3.9M347.95 64.1l-3.9 3.9M346.47 60.5l3.9 3.9M350.37 60.5l-3.9 3.9M349.06 56.9l3.9 3.9M352.96 56.9l-3.9 3.9M351.85 53.29l3.9 3.9M355.75 53.29l-3.9 3.9M353.05 49.69l3.9 3.9M356.95 49.69l-3.9 3.9M354.29 46.09l3.9 3.9M358.19 46.09l-3.9 3.9M367.39 42.33l3.9 3.9M371.29 42.33l-3.9 3.9M415.4 39.29l3.9 3.9M419.3 39.29l-3.9 3.9" fill="none" stroke="#00B0F0" stroke-width="1.3"/>
<path d="M320.14 178.75L322.54 183.07L317.74 183.07ZM320.2 176.67L322.6 180.99L317.8 180.99ZM320.26 174.59L322.66 178.91L317.86 178.91ZM320.32 172.51L322.72 176.83L317.92 176.83ZM320.38 170.43L322.78 174.75L317.98 174.75ZM320.44 168.34L322.84 172.66L318.04 172.66ZM320.5 166.26L322.9 170.58L318.1 170.58ZM320.56 164.18L322.96 168.5L318.16 168.5ZM320.62 162.1L323.02 166.42L318.22 166.42ZM320.69 160.02L323.09 164.34L318.29 164.34ZM320.75 157.94L323.15 162.26L318.35 162.26ZM320.82 155.85L323.22 160.17L318.42 160.17ZM320.88 153.77L323.28 158.09L318.48 158.09ZM320.95 151.69L323.35 156.01L318.55 156.01ZM321.03 149.61L323.43 153.93L318.63 153.93ZM321.13 147.53L323.53 151.85L318.73 151.85ZM321.22 145.45L323.62 149.77L318.82 149.77ZM321.32 143.37L323.72 147.69L318.92 147.69ZM321.42 141.28L323.82 145.6L319.02 145.6ZM321.52 139.2L323.92 143.52L319.12 143.52ZM321.67 137.12L324.07 141.44L319.27 141.44ZM321.91 135.04L324.31 139.36L319.51 139.36ZM322.15 132.96L324.55 137.28L319.75 137.28ZM322.4 130.88L324.8 135.2L320 135.2ZM322.65 128.79L325.05 133.11L320.25 133.11ZM322.92 126.71L325.32 131.03L320.52 131.03ZM323.19 124.63L325.59 128.95L320.79 128.95ZM323.47 122.55L325.87 126.87L321.07 126.87ZM323.8 120.47L326.2 124.79L321.4 124.79ZM324.15 118.39L326.55 122.71L321.75 122.71ZM324.52 116.31L326.92 120.63L322.12 120.63ZM324.89 114.22L327.29 118.54L322.49 118.54ZM325.29 112.14L327.69 116.46L322.89 116.46ZM325.69 110.06L328.09 114.38L323.29 114.38ZM326.12 107.98L328.52 112.3L323.72 112.3ZM326.55 105.9L328.95 110.22L324.15 110.22ZM327.01 103.82L329.41 108.14L324.61 108.14ZM327.5 101.73L329.9 106.05L325.1 106.05ZM328.5 99.65L330.9 103.97L326.1 103.97ZM329.57 97.57L331.97 101.89L327.17 101.89ZM330.72 95.49L333.12 99.81L328.32 99.81ZM331.96 93.41L334.36 97.73L329.56 97.73ZM332.7 91.33L335.1 95.65L330.3 95.65ZM333.4 89.25L335.8 93.57L331 93.57ZM334.12 87.16L336.52 91.48L331.72 91.48ZM334.87 85.08L337.27 89.4L332.47 89.4ZM335.64 83L338.04 87.32L333.24 87.32ZM336.45 80.92L338.85 85.24L334.05 85.24ZM337.29 78.84L339.69 83.16L334.89 83.16ZM338.16 76.76L340.56 81.08L335.76 81.08ZM339.07 74.67L341.47 78.99L336.67 78.99ZM340 72.59L342.4 76.91L337.6 76.91ZM340.98 70.51L343.38 74.83L338.58 74.83ZM341.99 68.43L344.39 72.75L339.59 72.75ZM343.04 66.35L345.44 70.67L340.64 70.67ZM344.16 64.27L346.56 68.59L341.76 68.59ZM345.51 62.19L347.91 66.51L343.11 66.51ZM346.92 60.1L349.32 64.42L344.52 64.42ZM348.22 58.02L350.62 62.34L345.82 62.34ZM349.56 55.94L351.96 60.26L347.16 60.26ZM351.34 53.86L353.74 58.18L348.94 58.18ZM353.41 51.78L355.81 56.1L351.01 56.1ZM355.56 49.7L357.96 54.02L353.16 54.02ZM356.85 47.61L359.25 51.93L354.45 51.93ZM367.02 44.87L369.42 49.19L364.62 49.19ZM408.16 40.67L410.56 44.99L405.76 44.99ZM459.36 37.35L461.76 41.67L456.96 41.67Z" fill="#0C2470" stroke="none" stroke-width="1"/>
<path d="M319.13 179.59h3.5v3.5h-3.5ZM319.36 178.06h3.5v3.5h-3.5ZM319.58 176.53h3.5v3.5h-3.5ZM319.82 175h3.5v3.5h-3.5ZM320.06 173.47h3.5v3.5h-3.5ZM320.32 171.93h3.5v3.5h-3.5ZM320.58 170.4h3.5v3.5h-3.5ZM320.85 168.87h3.5v3.5h-3.5ZM321.1 167.34h3.5v3.5h-3.5ZM321.27 165.81h3.5v3.5h-3.5ZM321.45 164.27h3.5v3.5h-3.5ZM321.63 162.74h3.5v3.5h-3.5ZM321.81 161.21h3.5v3.5h-3.5ZM322 159.68h3.5v3.5h-3.5ZM322.19 158.15h3.5v3.5h-3.5ZM322.38 156.62h3.5v3.5h-3.5ZM322.58 155.08h3.5v3.5h-3.5ZM322.78 153.55h3.5v3.5h-3.5ZM322.99 152.02h3.5v3.5h-3.5ZM323.13 150.49h3.5v3.5h-3.5ZM323.27 148.96h3.5v3.5h-3.5ZM323.41 147.42h3.5v3.5h-3.5ZM323.56 145.89h3.5v3.5h-3.5ZM323.7 144.36h3.5v3.5h-3.5ZM323.85 142.83h3.5v3.5h-3.5ZM324 141.3h3.5v3.5h-3.5ZM324.15 139.77h3.5v3.5h-3.5ZM324.31 138.23h3.5v3.5h-3.5ZM324.51 136.7h3.5v3.5h-3.5ZM324.71 135.17h3.5v3.5h-3.5ZM324.92 133.64h3.5v3.5h-3.5ZM325.12 132.11h3.5v3.5h-3.5ZM325.33 130.57h3.5v3.5h-3.5ZM325.55 129.04h3.5v3.5h-3.5ZM325.77 127.51h3.5v3.5h-3.5ZM325.99 125.98h3.5v3.5h-3.5ZM326.21 124.45h3.5v3.5h-3.5ZM326.44 122.91h3.5v3.5h-3.5ZM326.76 121.38h3.5v3.5h-3.5ZM327.08 119.85h3.5v3.5h-3.5ZM327.41 118.32h3.5v3.5h-3.5ZM327.74 116.79h3.5v3.5h-3.5ZM328.08 115.26h3.5v3.5h-3.5ZM328.44 113.72h3.5v3.5h-3.5ZM328.8 112.19h3.5v3.5h-3.5ZM329.16 110.66h3.5v3.5h-3.5ZM329.54 109.13h3.5v3.5h-3.5ZM329.92 107.6h3.5v3.5h-3.5ZM330.32 106.06h3.5v3.5h-3.5ZM330.72 104.53h3.5v3.5h-3.5ZM331.13 103h3.5v3.5h-3.5ZM331.66 101.47h3.5v3.5h-3.5ZM332.24 99.94h3.5v3.5h-3.5ZM332.83 98.41h3.5v3.5h-3.5ZM333.45 96.87h3.5v3.5h-3.5ZM334.08 95.34h3.5v3.5h-3.5ZM334.72 93.81h3.5v3.5h-3.5ZM335.29 92.28h3.5v3.5h-3.5ZM335.88 90.75h3.5v3.5h-3.5ZM336.48 89.21h3.5v3.5h-3.5ZM337.09 87.68h3.5v3.5h-3.5ZM337.73 86.15h3.5v3.5h-3.5ZM338.38 84.62h3.5v3.5h-3.5ZM339.04 83.09h3.5v3.5h-3.5ZM339.73 81.55h3.5v3.5h-3.5ZM340.43 80.02h3.5v3.5h-3.5ZM341.15 78.49h3.5v3.5h-3.5ZM341.89 76.96h3.5v3.5h-3.5ZM342.65 75.43h3.5v3.5h-3.5ZM343.43 73.9h3.5v3.5h-3.5ZM344.22 72.36h3.5v3.5h-3.5ZM345.04 70.83h3.5v3.5h-3.5ZM345.88 69.3h3.5v3.5h-3.5ZM346.75 67.77h3.5v3.5h-3.5ZM347.63 66.24h3.5v3.5h-3.5ZM349.16 64.7h3.5v3.5h-3.5ZM350.43 63.17h3.5v3.5h-3.5ZM351.41 61.64h3.5v3.5h-3.5ZM352.21 60.11h3.5v3.5h-3.5ZM353.02 58.58h3.5v3.5h-3.5ZM353.75 56.99h3.5v3.5h-3.5ZM363.06 54.67h3.5v3.5h-3.5ZM364.65 52.36h3.5v3.5h-3.5ZM366.12 49.9h3.5v3.5h-3.5ZM374.08 49.18h3.5v3.5h-3.5ZM374.08 47.73h3.5v3.5h-3.5ZM385.47 45.42h3.5v3.5h-3.5ZM387.8 43.4h3.5v3.5h-3.5ZM391.72 41.52h3.5v3.5h-3.5ZM396.25 39.93h3.5v3.5h-3.5ZM401.27 37.9h3.5v3.5h-3.5Z" fill="none" stroke="#A94E10" stroke-width="1.5"/>
<rect x="434" y="103.4" width="63.6" height="78.6" fill="#fff"/>
<path d="M445.15 109.2a1.75 1.75 0 1 0 3.5 0a1.75 1.75 0 1 0 -3.5 0" fill="none" stroke="#4472C4" stroke-width="1"/>
<text transform="translate(452.27 112.4) scale(1.1582 1.0000)" style="font-family:'Liberation Sans', Arial, sans-serif;font-weight:bold;font-size:9.45px" fill="#000" stroke="#000" stroke-width="0.3">Ring 1</text>
<path d="M446.9 116.27L449.1 120.23L444.7 120.23Z" fill="#ED7D31" stroke="none" stroke-width="1"/>
<text transform="translate(452.26 121.85) scale(1.1629 1.0000)" style="font-family:'Liberation Sans', Arial, sans-serif;font-weight:bold;font-size:9.45px" fill="#000" stroke="#000" stroke-width="0.3">Ring 2</text>
<path d="M446.9 125.9l2.2 2.2l-2.2 2.2l-2.2 -2.2Z" fill="#FF0000" stroke="none" stroke-width="1"/>
<text transform="translate(452.26 131.3) scale(1.1613 1.0000)" style="font-family:'Liberation Sans', Arial, sans-serif;font-weight:bold;font-size:9.45px" fill="#000" stroke="#000" stroke-width="0.3">Ring 3</text>
<path d="M445.2 135.85h3.4v3.4h-3.4Z" fill="none" stroke="#7030A0" stroke-width="1"/>
<text transform="translate(452.27 140.75) scale(1.1493 1.0000)" style="font-family:'Liberation Sans', Arial, sans-serif;font-weight:bold;font-size:9.45px" fill="#000" stroke="#000" stroke-width="0.3">Ring 4</text>
<path d="M445.15 145.25l3.5 3.5M448.65 145.25l-3.5 3.5" fill="none" stroke="#00B050" stroke-width="1.1"/>
<text transform="translate(452.27 150.2) scale(1.1582 1.0000)" style="font-family:'Liberation Sans', Arial, sans-serif;font-weight:bold;font-size:9.45px" fill="#000" stroke="#000" stroke-width="0.3">Ring 5</text>
<path d="M445.15 154.7l3.5 3.5M448.65 154.7l-3.5 3.5" fill="none" stroke="#00B0F0" stroke-width="1.3"/>
<text transform="translate(452.26 159.65) scale(1.1613 1.0000)" style="font-family:'Liberation Sans', Arial, sans-serif;font-weight:bold;font-size:9.45px" fill="#000" stroke="#000" stroke-width="0.3">Ring 6</text>
<path d="M446.9 163.52L449.1 167.48L444.7 167.48Z" fill="#0C2470" stroke="none" stroke-width="1"/>
<text transform="translate(452.26 169.1) scale(1.1645 1.0000)" style="font-family:'Liberation Sans', Arial, sans-serif;font-weight:bold;font-size:9.45px" fill="#000" stroke="#000" stroke-width="0.3">Ring 7</text>
<path d="M445.35 173.8h3.1v3.1h-3.1Z" fill="none" stroke="#A94E10" stroke-width="1.5"/>
<text transform="translate(452.27 178.55) scale(1.1594 1.0000)" style="font-family:'Liberation Sans', Arial, sans-serif;font-weight:bold;font-size:9.45px" fill="#000" stroke="#000" stroke-width="0.3">Ring 8</text>
<path d="" fill="#7030A0" stroke="none" stroke-width="1"/>
<path class="p8" d="M95.73 440.84h6v6h-6z"/><path class="w8" d="M96.83 442.94l2.4 2.4M98.03 441.94l2.2 2.2"/>
<path class="p8" d="M129.06 443.86h6v6h-6z"/><path class="w8" d="M130.16 445.96l2.4 2.4M131.36 444.96l2.2 2.2"/>
<path class="p8" d="M95.7 444.72h6v6h-6z"/><path class="w8" d="M96.8 446.82l2.4 2.4M98 445.82l2.2 2.2"/>
<path class="p8" d="M104.24 445.47h6v6h-6z"/><path class="w8" d="M105.34 447.57l2.4 2.4M106.54 446.57l2.2 2.2"/>
<path class="p8" d="M71.73 427.01h6v6h-6z"/><path class="w8" d="M72.83 429.11l2.4 2.4M74.03 428.11l2.2 2.2"/>
<path class="p8" d="M124.79 453.89h6v6h-6z"/><path class="w8" d="M125.89 455.99l2.4 2.4M127.09 454.99l2.2 2.2"/>
<path class="p8" d="M94.79 454.16h6v6h-6z"/><path class="w8" d="M95.89 456.26l2.4 2.4M97.09 455.26l2.2 2.2"/>
<path class="p8" d="M110.1 443.81h6v6h-6z"/><path class="w8" d="M111.2 445.91l2.4 2.4M112.4 444.91l2.2 2.2"/>
<path class="p8" d="M132.82 454.39h6v6h-6z"/><path class="w8" d="M133.92 456.49l2.4 2.4M135.12 455.49l2.2 2.2"/>
<path class="p8" d="M68.52 454.25h6v6h-6z"/><path class="w8" d="M69.62 456.35l2.4 2.4M70.82 455.35l2.2 2.2"/>
<path class="p8" d="M110.1 393.54h6v6h-6z"/><path class="w8" d="M111.2 395.64l2.4 2.4M112.4 394.64l2.2 2.2"/>
<path class="p8" d="M115.65 442.86h6v6h-6z"/><path class="w8" d="M116.75 444.96l2.4 2.4M117.95 443.96l2.2 2.2"/>
<path class="p8" d="M58.84 451.42h6v6h-6z"/><path class="w8" d="M59.94 453.52l2.4 2.4M61.14 452.52l2.2 2.2"/>
<path class="p8" d="M62.22 441.51h6v6h-6z"/><path class="w8" d="M63.32 443.61l2.4 2.4M64.52 442.61l2.2 2.2"/>
<path class="p8" d="M104.99 443.23h6v6h-6z"/><path class="w8" d="M106.09 445.33l2.4 2.4M107.29 444.33l2.2 2.2"/>
<path class="p8" d="M134.53 373.85h6v6h-6z"/><path class="w8" d="M135.63 375.95l2.4 2.4M136.83 374.95l2.2 2.2"/>
<path class="p8" d="M138.51 448.66h6v6h-6z"/><path class="w8" d="M139.61 450.76l2.4 2.4M140.81 449.76l2.2 2.2"/>
<path class="p8" d="M122.81 445.92h6v6h-6z"/><path class="w8" d="M123.91 448.02l2.4 2.4M125.11 447.02l2.2 2.2"/>
<path class="p8" d="M105.8 454h6v6h-6z"/><path class="w8" d="M106.9 456.1l2.4 2.4M108.1 455.1l2.2 2.2"/>
<path class="p8" d="M121.12 454.23h6v6h-6z"/><path class="w8" d="M122.22 456.33l2.4 2.4M123.42 455.33l2.2 2.2"/>
<path class="p8" d="M65.06 450.23h6v6h-6z"/><path class="w8" d="M66.16 452.33l2.4 2.4M67.36 451.33l2.2 2.2"/>
<path class="p8" d="M115.9 450.71h6v6h-6z"/><path class="w8" d="M117 452.81l2.4 2.4M118.2 451.81l2.2 2.2"/>
<path class="p8" d="M118.04 446.99h6v6h-6z"/><path class="w8" d="M119.14 449.09l2.4 2.4M120.34 448.09l2.2 2.2"/>
<path class="p8" d="M104.2 450.21h6v6h-6z"/><path class="w8" d="M105.3 452.31l2.4 2.4M106.5 451.31l2.2 2.2"/>
<path class="p8" d="M112.55 445.4h6v6h-6z"/><path class="w8" d="M113.65 447.5l2.4 2.4M114.85 446.5l2.2 2.2"/>
<path class="p8" d="M82.1 445.04h6v6h-6z"/><path class="w8" d="M83.2 447.14l2.4 2.4M84.4 446.14l2.2 2.2"/>
<path class="p8" d="M94.1 438.37h6v6h-6z"/><path class="w8" d="M95.2 440.47l2.4 2.4M96.4 439.47l2.2 2.2"/>
<path class="p8" d="M103.71 439.73h6v6h-6z"/><path class="w8" d="M104.81 441.83l2.4 2.4M106.01 440.83l2.2 2.2"/>
<path class="p8" d="M137.95 446.16h6v6h-6z"/><path class="w8" d="M139.05 448.26l2.4 2.4M140.25 447.26l2.2 2.2"/>
<path class="p8" d="M133.52 452.64h6v6h-6z"/><path class="w8" d="M134.62 454.74l2.4 2.4M135.82 453.74l2.2 2.2"/>
<path class="p8" d="M75.08 449.61h6v6h-6z"/><path class="w8" d="M76.18 451.71l2.4 2.4M77.38 450.71l2.2 2.2"/>
<path class="p8" d="M139.15 443.16h6v6h-6z"/><path class="w8" d="M140.25 445.26l2.4 2.4M141.45 444.26l2.2 2.2"/>
<path class="p8" d="M68.87 446.2h6v6h-6z"/><path class="w8" d="M69.97 448.3l2.4 2.4M71.17 447.3l2.2 2.2"/>
<path class="p8" d="M116.26 447.67h6v6h-6z"/><path class="w8" d="M117.36 449.77l2.4 2.4M118.56 448.77l2.2 2.2"/>
<path class="p8" d="M75.15 454.05h6v6h-6z"/><path class="w8" d="M76.25 456.15l2.4 2.4M77.45 455.15l2.2 2.2"/>
<path class="p8" d="M129.29 445.99h6v6h-6z"/><path class="w8" d="M130.39 448.09l2.4 2.4M131.59 447.09l2.2 2.2"/>
<path class="p8" d="M116.94 408.97h6v6h-6z"/><path class="w8" d="M118.04 411.07l2.4 2.4M119.24 410.07l2.2 2.2"/>
<path class="p8" d="M99.77 430.18h6v6h-6z"/><path class="w8" d="M100.87 432.28l2.4 2.4M102.07 431.28l2.2 2.2"/>
<path class="p8" d="M124.28 448.06h6v6h-6z"/><path class="w8" d="M125.38 450.16l2.4 2.4M126.58 449.16l2.2 2.2"/>
<path class="p8" d="M118.17 447.71h6v6h-6z"/><path class="w8" d="M119.27 449.81l2.4 2.4M120.47 448.81l2.2 2.2"/>
<path class="p8" d="M105.16 443.81h6v6h-6z"/><path class="w8" d="M106.26 445.91l2.4 2.4M107.46 444.91l2.2 2.2"/>
<path class="p8" d="M97.75 444.89h6v6h-6z"/><path class="w8" d="M98.85 446.99l2.4 2.4M100.05 445.99l2.2 2.2"/>
<path class="p8" d="M110.84 434.7h6v6h-6z"/><path class="w8" d="M111.94 436.8l2.4 2.4M113.14 435.8l2.2 2.2"/>
<path class="p8" d="M132.57 447.34h6v6h-6z"/><path class="w8" d="M133.67 449.44l2.4 2.4M134.87 448.44l2.2 2.2"/>
<path class="p8" d="M95.44 394.46h6v6h-6z"/><path class="w8" d="M96.54 396.56l2.4 2.4M97.74 395.56l2.2 2.2"/>
<path class="p8" d="M62.69 451.61h6v6h-6z"/><path class="w8" d="M63.79 453.71l2.4 2.4M64.99 452.71l2.2 2.2"/>
<path class="p8" d="M120.77 433.53h6v6h-6z"/><path class="w8" d="M121.87 435.63l2.4 2.4M123.07 434.63l2.2 2.2"/>
<path class="p8" d="M78.26 445.15h6v6h-6z"/><path class="w8" d="M79.36 447.25l2.4 2.4M80.56 446.25l2.2 2.2"/>
<path class="p8" d="M95.7 454.41h6v6h-6z"/><path class="w8" d="M96.8 456.51l2.4 2.4M98 455.51l2.2 2.2"/>
<path class="p8" d="M58.81 436.47h6v6h-6z"/><path class="w8" d="M59.91 438.57l2.4 2.4M61.11 437.57l2.2 2.2"/>
<path class="p8" d="M116.58 452.93h6v6h-6z"/><path class="w8" d="M117.68 455.03l2.4 2.4M118.88 454.03l2.2 2.2"/>
<path class="p8" d="M104.05 448.04h6v6h-6z"/><path class="w8" d="M105.15 450.14l2.4 2.4M106.35 449.14l2.2 2.2"/>
<path class="p8" d="M132.51 454.63h6v6h-6z"/><path class="w8" d="M133.61 456.73l2.4 2.4M134.81 455.73l2.2 2.2"/>
<path class="p8" d="M101.73 434.41h6v6h-6z"/><path class="w8" d="M102.83 436.51l2.4 2.4M104.03 435.51l2.2 2.2"/>
<path class="p8" d="M92.77 451.2h6v6h-6z"/><path class="w8" d="M93.87 453.3l2.4 2.4M95.07 452.3l2.2 2.2"/>
<path class="p8" d="M136.78 444.85h6v6h-6z"/><path class="w8" d="M137.88 446.95l2.4 2.4M139.08 445.95l2.2 2.2"/>
<path class="p8" d="M79.33 442.69h6v6h-6z"/><path class="w8" d="M80.43 444.79l2.4 2.4M81.63 443.79l2.2 2.2"/>
<path class="p8" d="M83.25 448.6h6v6h-6z"/><path class="w8" d="M84.35 450.7l2.4 2.4M85.55 449.7l2.2 2.2"/>
<path class="p8" d="M100.52 452.43h6v6h-6z"/><path class="w8" d="M101.62 454.53l2.4 2.4M102.82 453.53l2.2 2.2"/>
<path class="p8" d="M121.06 446.51h6v6h-6z"/><path class="w8" d="M122.16 448.61l2.4 2.4M123.36 447.61l2.2 2.2"/>
<path class="p8" d="M114.37 440.74h6v6h-6z"/><path class="w8" d="M115.47 442.84l2.4 2.4M116.67 441.84l2.2 2.2"/>
<path class="p8" d="M73.72 437.33h6v6h-6z"/><path class="w8" d="M74.82 439.43l2.4 2.4M76.02 438.43l2.2 2.2"/>
<path class="p8" d="M82.38 416.27h6v6h-6z"/><path class="w8" d="M83.48 418.37l2.4 2.4M84.68 417.37l2.2 2.2"/>
<path class="p8" d="M118.82 451.79h6v6h-6z"/><path class="w8" d="M119.92 453.89l2.4 2.4M121.12 452.89l2.2 2.2"/>
<path class="p8" d="M126.86 452.93h6v6h-6z"/><path class="w8" d="M127.96 455.03l2.4 2.4M129.16 454.03l2.2 2.2"/>
<path class="p8" d="M102.43 450.57h6v6h-6z"/><path class="w8" d="M103.53 452.67l2.4 2.4M104.73 451.67l2.2 2.2"/>
<path class="p8" d="M78.7 415.05h6v6h-6z"/><path class="w8" d="M79.8 417.15l2.4 2.4M81 416.15l2.2 2.2"/>
<path class="p8" d="M80.36 430.09h6v6h-6z"/><path class="w8" d="M81.46 432.19l2.4 2.4M82.66 431.19l2.2 2.2"/>
<path class="p8" d="M120.16 440.36h6v6h-6z"/><path class="w8" d="M121.26 442.46l2.4 2.4M122.46 441.46l2.2 2.2"/>
<path class="p8" d="M101.64 446.42h6v6h-6z"/><path class="w8" d="M102.74 448.52l2.4 2.4M103.94 447.52l2.2 2.2"/>
<path class="p8" d="M125.31 446.67h6v6h-6z"/><path class="w8" d="M126.41 448.77l2.4 2.4M127.61 447.77l2.2 2.2"/>
<path class="p8" d="M62.83 452.62h6v6h-6z"/><path class="w8" d="M63.93 454.72l2.4 2.4M65.13 453.72l2.2 2.2"/>
<path class="p8" d="M115.96 386.28h6v6h-6z"/><path class="w8" d="M117.06 388.38l2.4 2.4M118.26 387.38l2.2 2.2"/>
<path class="p8" d="M99.55 448.61h6v6h-6z"/><path class="w8" d="M100.65 450.71l2.4 2.4M101.85 449.71l2.2 2.2"/>
<path class="p8" d="M61.39 443.56h6v6h-6z"/><path class="w8" d="M62.49 445.66l2.4 2.4M63.69 444.66l2.2 2.2"/>
<path class="p8" d="M135.17 442.91h6v6h-6z"/><path class="w8" d="M136.27 445.01l2.4 2.4M137.47 444.01l2.2 2.2"/>
<path class="p8" d="M63.92 447.25h6v6h-6z"/><path class="w8" d="M65.02 449.35l2.4 2.4M66.22 448.35l2.2 2.2"/>
<path class="p8" d="M82.14 446.25h6v6h-6z"/><path class="w8" d="M83.24 448.35l2.4 2.4M84.44 447.35l2.2 2.2"/>
<path class="p8" d="M61.17 448.3h6v6h-6z"/><path class="w8" d="M62.27 450.4l2.4 2.4M63.47 449.4l2.2 2.2"/>
<path class="p8" d="M59.69 437.3h6v6h-6z"/><path class="w8" d="M60.79 439.4l2.4 2.4M61.99 438.4l2.2 2.2"/>
<path class="p8" d="M120.42 448.34h6v6h-6z"/><path class="w8" d="M121.52 450.44l2.4 2.4M122.72 449.44l2.2 2.2"/>
<path class="p8" d="M136.01 441.82h6v6h-6z"/><path class="w8" d="M137.11 443.92l2.4 2.4M138.31 442.92l2.2 2.2"/>
<path class="p8" d="M115.92 454.05h6v6h-6z"/><path class="w8" d="M117.02 456.15l2.4 2.4M118.22 455.15l2.2 2.2"/>
<path class="p8" d="M60.06 454.21h6v6h-6z"/><path class="w8" d="M61.16 456.31l2.4 2.4M62.36 455.31l2.2 2.2"/>
<path class="p8" d="M99.81 452.74h6v6h-6z"/><path class="w8" d="M100.91 454.84l2.4 2.4M102.11 453.84l2.2 2.2"/>
<path class="p8" d="M61.62 450.06h6v6h-6z"/><path class="w8" d="M62.72 452.16l2.4 2.4M63.92 451.16l2.2 2.2"/>
<path class="p8" d="M70.75 444.76h6v6h-6z"/><path class="w8" d="M71.85 446.86l2.4 2.4M73.05 445.86l2.2 2.2"/>
<path class="p8" d="M117.78 450h6v6h-6z"/><path class="w8" d="M118.88 452.1l2.4 2.4M120.08 451.1l2.2 2.2"/>
<path class="p8" d="M106.53 448.26h6v6h-6z"/><path class="w8" d="M107.63 450.36l2.4 2.4M108.83 449.36l2.2 2.2"/>
<path class="p8" d="M75.2 446.33h6v6h-6z"/><path class="w8" d="M76.3 448.43l2.4 2.4M77.5 447.43l2.2 2.2"/>
<path class="p8" d="M133.06 405.4h6v6h-6z"/><path class="w8" d="M134.16 407.5l2.4 2.4M135.36 406.5l2.2 2.2"/>
<path class="p8" d="M72.67 445.15h6v6h-6z"/><path class="w8" d="M73.77 447.25l2.4 2.4M74.97 446.25l2.2 2.2"/>
<path class="p8" d="M119.87 402.52h6v6h-6z"/><path class="w8" d="M120.97 404.62l2.4 2.4M122.17 403.62l2.2 2.2"/>
<path class="p8" d="M133.13 446.64h6v6h-6z"/><path class="w8" d="M134.23 448.74l2.4 2.4M135.43 447.74l2.2 2.2"/>
<path class="p8" d="M79.47 450.01h6v6h-6z"/><path class="w8" d="M80.57 452.11l2.4 2.4M81.77 451.11l2.2 2.2"/>
<path class="p8" d="M117.55 442.77h6v6h-6z"/><path class="w8" d="M118.65 444.87l2.4 2.4M119.85 443.87l2.2 2.2"/>
<path class="p8" d="M121.83 414.03h6v6h-6z"/><path class="w8" d="M122.93 416.13l2.4 2.4M124.13 415.13l2.2 2.2"/>
<path class="p8" d="M129.49 448.06h6v6h-6z"/><path class="w8" d="M130.59 450.16l2.4 2.4M131.79 449.16l2.2 2.2"/>
<path class="p8" d="M124.44 450.67h6v6h-6z"/><path class="w8" d="M125.54 452.77l2.4 2.4M126.74 451.77l2.2 2.2"/>
<path class="p8" d="M101.86 449.94h6v6h-6z"/><path class="w8" d="M102.96 452.04l2.4 2.4M104.16 451.04l2.2 2.2"/>
<path class="p8" d="M73.77 443.95h6v6h-6z"/><path class="w8" d="M74.87 446.05l2.4 2.4M76.07 445.05l2.2 2.2"/>
<path class="p8" d="M117.1 447.73h6v6h-6z"/><path class="w8" d="M118.2 449.83l2.4 2.4M119.4 448.83l2.2 2.2"/>
<path class="p8" d="M63.02 439.39h6v6h-6z"/><path class="w8" d="M64.12 441.49l2.4 2.4M65.32 440.49l2.2 2.2"/>
<path class="p8" d="M111.43 448.19h6v6h-6z"/><path class="w8" d="M112.53 450.29l2.4 2.4M113.73 449.29l2.2 2.2"/>
<path class="p8" d="M78.43 438.89h6v6h-6z"/><path class="w8" d="M79.53 440.99l2.4 2.4M80.73 439.99l2.2 2.2"/>
<path class="p8" d="M111.77 442.27h6v6h-6z"/><path class="w8" d="M112.87 444.37l2.4 2.4M114.07 443.37l2.2 2.2"/>
<path class="p8" d="M127.07 444.88h6v6h-6z"/><path class="w8" d="M128.17 446.98l2.4 2.4M129.37 445.98l2.2 2.2"/>
<path class="p8" d="M134.53 360.26h6v6h-6z"/><path class="w8" d="M135.63 362.36l2.4 2.4M136.83 361.36l2.2 2.2"/>
<path class="p8" d="M116.48 453.65h6v6h-6z"/><path class="w8" d="M117.58 455.75l2.4 2.4M118.78 454.75l2.2 2.2"/>
<path class="p8" d="M128.89 451.16h6v6h-6z"/><path class="w8" d="M129.99 453.26l2.4 2.4M131.19 452.26l2.2 2.2"/>
<path class="p8" d="M135.49 447.69h6v6h-6z"/><path class="w8" d="M136.59 449.79l2.4 2.4M137.79 448.79l2.2 2.2"/>
<path class="p8" d="M63.57 433.36h6v6h-6z"/><path class="w8" d="M64.67 435.46l2.4 2.4M65.87 434.46l2.2 2.2"/>
<path class="p8" d="M59.1 446.29h6v6h-6z"/><path class="w8" d="M60.2 448.39l2.4 2.4M61.4 447.39l2.2 2.2"/>
<path class="p8" d="M106.41 450.27h6v6h-6z"/><path class="w8" d="M107.51 452.37l2.4 2.4M108.71 451.37l2.2 2.2"/>
<path class="p8" d="M131.98 437.77h6v6h-6z"/><path class="w8" d="M133.08 439.87l2.4 2.4M134.28 438.87l2.2 2.2"/>
<path class="p8" d="M59.74 454.04h6v6h-6z"/><path class="w8" d="M60.84 456.14l2.4 2.4M62.04 455.14l2.2 2.2"/>
<path class="p8" d="M119.2 439.76h6v6h-6z"/><path class="w8" d="M120.3 441.86l2.4 2.4M121.5 440.86l2.2 2.2"/>
<path class="p8" d="M85.72 449.59h6v6h-6z"/><path class="w8" d="M86.82 451.69l2.4 2.4M88.02 450.69l2.2 2.2"/>
<path class="p8" d="M112.08 428.16h6v6h-6z"/><path class="w8" d="M113.18 430.26l2.4 2.4M114.38 429.26l2.2 2.2"/>
<path class="p8" d="M132.33 438.53h6v6h-6z"/><path class="w8" d="M133.43 440.63l2.4 2.4M134.63 439.63l2.2 2.2"/>
<path class="p8" d="M60.82 447.66h6v6h-6z"/><path class="w8" d="M61.92 449.76l2.4 2.4M63.12 448.76l2.2 2.2"/>
<path class="p8" d="M115.4 443.88h6v6h-6z"/><path class="w8" d="M116.5 445.98l2.4 2.4M117.7 444.98l2.2 2.2"/>
<path class="p8" d="M71.16 442.87h6v6h-6z"/><path class="w8" d="M72.26 444.97l2.4 2.4M73.46 443.97l2.2 2.2"/>
<path class="p8" d="M78.26 447.35h6v6h-6z"/><path class="w8" d="M79.36 449.45l2.4 2.4M80.56 448.45l2.2 2.2"/>
<path class="p8" d="M114.22 449.66h6v6h-6z"/><path class="w8" d="M115.32 451.76l2.4 2.4M116.52 450.76l2.2 2.2"/>
<path class="p8" d="M113.77 426.88h6v6h-6z"/><path class="w8" d="M114.87 428.98l2.4 2.4M116.07 427.98l2.2 2.2"/>
<path class="p8" d="M108.35 446.78h6v6h-6z"/><path class="w8" d="M109.45 448.88l2.4 2.4M110.65 447.88l2.2 2.2"/>
<path class="p8" d="M99.82 446.96h6v6h-6z"/><path class="w8" d="M100.92 449.06l2.4 2.4M102.12 448.06l2.2 2.2"/>
<path class="p8" d="M113.35 448.97h6v6h-6z"/><path class="w8" d="M114.45 451.07l2.4 2.4M115.65 450.07l2.2 2.2"/>
<path class="p8" d="M88.53 438.34h6v6h-6z"/><path class="w8" d="M89.63 440.44l2.4 2.4M90.83 439.44l2.2 2.2"/>
<path class="p8" d="M96.34 443.02h6v6h-6z"/><path class="w8" d="M97.44 445.12l2.4 2.4M98.64 444.12l2.2 2.2"/>
<path class="p8" d="M73.33 424.76h6v6h-6z"/><path class="w8" d="M74.43 426.86l2.4 2.4M75.63 425.86l2.2 2.2"/>
<path class="p8" d="M80.65 445.66h6v6h-6z"/><path class="w8" d="M81.75 447.76l2.4 2.4M82.95 446.76l2.2 2.2"/>
<path class="p8" d="M116.84 431.06h6v6h-6z"/><path class="w8" d="M117.94 433.16l2.4 2.4M119.14 432.16l2.2 2.2"/>
<path class="p8" d="M64.25 450.69h6v6h-6z"/><path class="w8" d="M65.35 452.79l2.4 2.4M66.55 451.79l2.2 2.2"/>
<path class="p8" d="M101.91 453.39h6v6h-6z"/><path class="w8" d="M103.01 455.49l2.4 2.4M104.21 454.49l2.2 2.2"/>
<path class="p8" d="M72.89 436.28h6v6h-6z"/><path class="w8" d="M73.99 438.38l2.4 2.4M75.19 437.38l2.2 2.2"/>
<path class="p8" d="M96.79 433.12h6v6h-6z"/><path class="w8" d="M97.89 435.22l2.4 2.4M99.09 434.22l2.2 2.2"/>
<path class="p8" d="M97.52 446.09h6v6h-6z"/><path class="w8" d="M98.62 448.19l2.4 2.4M99.82 447.19l2.2 2.2"/>
<path class="p8" d="M104.58 448.61h6v6h-6z"/><path class="w8" d="M105.68 450.71l2.4 2.4M106.88 449.71l2.2 2.2"/>
<path class="p8" d="M124.51 452.38h6v6h-6z"/><path class="w8" d="M125.61 454.48l2.4 2.4M126.81 453.48l2.2 2.2"/>
<path class="p8" d="M119.49 433h6v6h-6z"/><path class="w8" d="M120.59 435.1l2.4 2.4M121.79 434.1l2.2 2.2"/>
<path class="p8" d="M63.1 448.22h6v6h-6z"/><path class="w8" d="M64.2 450.32l2.4 2.4M65.4 449.32l2.2 2.2"/>
<path class="p8" d="M88.53 446.03h6v6h-6z"/><path class="w8" d="M89.63 448.13l2.4 2.4M90.83 447.13l2.2 2.2"/>
<path class="p8" d="M100.7 450.01h6v6h-6z"/><path class="w8" d="M101.8 452.11l2.4 2.4M103 451.11l2.2 2.2"/>
<path class="p8" d="M82.65 415.24h6v6h-6z"/><path class="w8" d="M83.75 417.34l2.4 2.4M84.95 416.34l2.2 2.2"/>
<path class="p8" d="M118.99 449.75h6v6h-6z"/><path class="w8" d="M120.09 451.85l2.4 2.4M121.29 450.85l2.2 2.2"/>
<path class="p8" d="M63.68 430.61h6v6h-6z"/><path class="w8" d="M64.78 432.71l2.4 2.4M65.98 431.71l2.2 2.2"/>
<path class="p8" d="M95.06 436.31h6v6h-6z"/><path class="w8" d="M96.16 438.41l2.4 2.4M97.36 437.41l2.2 2.2"/>
<path class="p8" d="M104.5 431.93h6v6h-6z"/><path class="w8" d="M105.6 434.03l2.4 2.4M106.8 433.03l2.2 2.2"/>
<path class="p8" d="M124.47 454.9h6v6h-6z"/><path class="w8" d="M125.57 457l2.4 2.4M126.77 456l2.2 2.2"/>
<path class="p8" d="M123.62 446.31h6v6h-6z"/><path class="w8" d="M124.72 448.41l2.4 2.4M125.92 447.41l2.2 2.2"/>
<path class="p8" d="M109.01 432.74h6v6h-6z"/><path class="w8" d="M110.11 434.84l2.4 2.4M111.31 433.84l2.2 2.2"/>
<path class="p8" d="M107.66 453.06h6v6h-6z"/><path class="w8" d="M108.76 455.16l2.4 2.4M109.96 454.16l2.2 2.2"/>
<path class="p8" d="M60.39 453.65h6v6h-6z"/><path class="w8" d="M61.49 455.75l2.4 2.4M62.69 454.75l2.2 2.2"/>
<path class="p8" d="M125.56 444.74h6v6h-6z"/><path class="w8" d="M126.66 446.84l2.4 2.4M127.86 445.84l2.2 2.2"/>
<path class="p8" d="M100.23 442.99h6v6h-6z"/><path class="w8" d="M101.33 445.09l2.4 2.4M102.53 444.09l2.2 2.2"/>
<path class="p8" d="M135.15 453.41h6v6h-6z"/><path class="w8" d="M136.25 455.51l2.4 2.4M137.45 454.51l2.2 2.2"/>
<path class="p8" d="M73.19 443.69h6v6h-6z"/><path class="w8" d="M74.29 445.79l2.4 2.4M75.49 444.79l2.2 2.2"/>
<path class="p8" d="M132.41 419.03h6v6h-6z"/><path class="w8" d="M133.51 421.13l2.4 2.4M134.71 420.13l2.2 2.2"/>
<path class="p8" d="M84.57 440.4h6v6h-6z"/><path class="w8" d="M85.67 442.5l2.4 2.4M86.87 441.5l2.2 2.2"/>
<path class="p8" d="M85.05 436.68h6v6h-6z"/><path class="w8" d="M86.15 438.78l2.4 2.4M87.35 437.78l2.2 2.2"/>
<path class="p8" d="M95.76 433.08h6v6h-6z"/><path class="w8" d="M96.86 435.18l2.4 2.4M98.06 434.18l2.2 2.2"/>
<path class="p8" d="M74.96 453.34h6v6h-6z"/><path class="w8" d="M76.06 455.44l2.4 2.4M77.26 454.44l2.2 2.2"/>
<path class="p8" d="M102.59 443.1h6v6h-6z"/><path class="w8" d="M103.69 445.2l2.4 2.4M104.89 444.2l2.2 2.2"/>
<path class="p8" d="M120.1 428.57h6v6h-6z"/><path class="w8" d="M121.2 430.67l2.4 2.4M122.4 429.67l2.2 2.2"/>
<path class="p8" d="M78 444.32h6v6h-6z"/><path class="w8" d="M79.1 446.42l2.4 2.4M80.3 445.42l2.2 2.2"/>
<path class="p8" d="M57.84 454.05h6v6h-6z"/><path class="w8" d="M58.94 456.15l2.4 2.4M60.14 455.15l2.2 2.2"/>
<path class="p8" d="M80.36 445.21h6v6h-6z"/><path class="w8" d="M81.46 447.31l2.4 2.4M82.66 446.31l2.2 2.2"/>
<path class="p8" d="M114.74 454.04h6v6h-6z"/><path class="w8" d="M115.84 456.14l2.4 2.4M117.04 455.14l2.2 2.2"/>
<path class="p8" d="M119.57 447.28h6v6h-6z"/><path class="w8" d="M120.67 449.38l2.4 2.4M121.87 448.38l2.2 2.2"/>
<path class="p8" d="M85.75 453.17h6v6h-6z"/><path class="w8" d="M86.85 455.27l2.4 2.4M88.05 454.27l2.2 2.2"/>
<path class="p8" d="M63.88 430.09h6v6h-6z"/><path class="w8" d="M64.98 432.19l2.4 2.4M66.18 431.19l2.2 2.2"/>
<path class="p8" d="M133.1 444.45h6v6h-6z"/><path class="w8" d="M134.2 446.55l2.4 2.4M135.4 445.55l2.2 2.2"/>
<path class="p8" d="M130.31 447.62h6v6h-6z"/><path class="w8" d="M131.41 449.72l2.4 2.4M132.61 448.72l2.2 2.2"/>
<path class="p8" d="M64.23 446.57h6v6h-6z"/><path class="w8" d="M65.33 448.67l2.4 2.4M66.53 447.67l2.2 2.2"/>
<path class="p8" d="M116.61 447.46h6v6h-6z"/><path class="w8" d="M117.71 449.56l2.4 2.4M118.91 448.56l2.2 2.2"/>
<path class="p8" d="M111.69 422.82h6v6h-6z"/><path class="w8" d="M112.79 424.92l2.4 2.4M113.99 423.92l2.2 2.2"/>
<path class="p8" d="M118.36 451.93h6v6h-6z"/><path class="w8" d="M119.46 454.03l2.4 2.4M120.66 453.03l2.2 2.2"/>
<path class="p8" d="M91.05 448.98h6v6h-6z"/><path class="w8" d="M92.15 451.08l2.4 2.4M93.35 450.08l2.2 2.2"/>
<path class="p8" d="M113.47 451.44h6v6h-6z"/><path class="w8" d="M114.57 453.54l2.4 2.4M115.77 452.54l2.2 2.2"/>
<path class="p8" d="M78.55 451.18h6v6h-6z"/><path class="w8" d="M79.65 453.28l2.4 2.4M80.85 452.28l2.2 2.2"/>
<path class="p8" d="M72.26 449.45h6v6h-6z"/><path class="w8" d="M73.36 451.55l2.4 2.4M74.56 450.55l2.2 2.2"/>
<path class="p8" d="M96.58 448.75h6v6h-6z"/><path class="w8" d="M97.68 450.85l2.4 2.4M98.88 449.85l2.2 2.2"/>
<path class="p8" d="M91.25 446.07h6v6h-6z"/><path class="w8" d="M92.35 448.17l2.4 2.4M93.55 447.17l2.2 2.2"/>
<path class="p8" d="M95.64 446.64h6v6h-6z"/><path class="w8" d="M96.74 448.74l2.4 2.4M97.94 447.74l2.2 2.2"/>
<path class="p8" d="M77.83 443.43h6v6h-6z"/><path class="w8" d="M78.93 445.53l2.4 2.4M80.13 444.53l2.2 2.2"/>
<path class="p8" d="M100.06 454.14h6v6h-6z"/><path class="w8" d="M101.16 456.24l2.4 2.4M102.36 455.24l2.2 2.2"/>
<path class="p8" d="M106.25 441.11h6v6h-6z"/><path class="w8" d="M107.35 443.21l2.4 2.4M108.55 442.21l2.2 2.2"/>
<path class="p8" d="M122.84 449.4h6v6h-6z"/><path class="w8" d="M123.94 451.5l2.4 2.4M125.14 450.5l2.2 2.2"/>
<path class="p8" d="M122.45 447.76h6v6h-6z"/><path class="w8" d="M123.55 449.86l2.4 2.4M124.75 448.86l2.2 2.2"/>
<path class="p8" d="M119.59 440.29h6v6h-6z"/><path class="w8" d="M120.69 442.39l2.4 2.4M121.89 441.39l2.2 2.2"/>
<path class="p8" d="M120.4 431.01h6v6h-6z"/><path class="w8" d="M121.5 433.11l2.4 2.4M122.7 432.11l2.2 2.2"/>
<path class="p8" d="M137.81 444.82h6v6h-6z"/><path class="w8" d="M138.91 446.92l2.4 2.4M140.11 445.92l2.2 2.2"/>
<path class="p8" d="M72.64 444.74h6v6h-6z"/><path class="w8" d="M73.74 446.84l2.4 2.4M74.94 445.84l2.2 2.2"/>
<path class="p8" d="M59.3 453.09h6v6h-6z"/><path class="w8" d="M60.4 455.19l2.4 2.4M61.6 454.19l2.2 2.2"/>
<path class="p8" d="M139.04 451.95h6v6h-6z"/><path class="w8" d="M140.14 454.05l2.4 2.4M141.34 453.05l2.2 2.2"/>
<path class="p8" d="M60.26 435.22h6v6h-6z"/><path class="w8" d="M61.36 437.32l2.4 2.4M62.56 436.32l2.2 2.2"/>
<path class="p8" d="M124.29 444.16h6v6h-6z"/><path class="w8" d="M125.39 446.26l2.4 2.4M126.59 445.26l2.2 2.2"/>
<path class="p8" d="M128.54 436.32h6v6h-6z"/><path class="w8" d="M129.64 438.42l2.4 2.4M130.84 437.42l2.2 2.2"/>
<path class="p8" d="M104.97 446.88h6v6h-6z"/><path class="w8" d="M106.07 448.98l2.4 2.4M107.27 447.98l2.2 2.2"/>
<path class="p8" d="M99.05 451.47h6v6h-6z"/><path class="w8" d="M100.15 453.57l2.4 2.4M101.35 452.57l2.2 2.2"/>
<path class="p8" d="M77.92 434.57h6v6h-6z"/><path class="w8" d="M79.02 436.67l2.4 2.4M80.22 435.67l2.2 2.2"/>
<path class="p8" d="M100.03 450.19h6v6h-6z"/><path class="w8" d="M101.13 452.29l2.4 2.4M102.33 451.29l2.2 2.2"/>
<path class="p8" d="M109.94 434.23h6v6h-6z"/><path class="w8" d="M111.04 436.33l2.4 2.4M112.24 435.33l2.2 2.2"/>
<path class="p8" d="M109.6 454.32h6v6h-6z"/><path class="w8" d="M110.7 456.42l2.4 2.4M111.9 455.42l2.2 2.2"/>
<path class="p8" d="M104.52 450.73h6v6h-6z"/><path class="w8" d="M105.62 452.83l2.4 2.4M106.82 451.83l2.2 2.2"/>
<path class="p8" d="M75.12 452.32h6v6h-6z"/><path class="w8" d="M76.22 454.42l2.4 2.4M77.42 453.42l2.2 2.2"/>
<path class="p8" d="M85 445.28h6v6h-6z"/><path class="w8" d="M86.1 447.38l2.4 2.4M87.3 446.38l2.2 2.2"/>
<path class="p8" d="M103.98 450.15h6v6h-6z"/><path class="w8" d="M105.08 452.25l2.4 2.4M106.28 451.25l2.2 2.2"/>
<path class="p8" d="M102.87 445.73h6v6h-6z"/><path class="w8" d="M103.97 447.83l2.4 2.4M105.17 446.83l2.2 2.2"/>
<path class="p8" d="M89.95 450.88h6v6h-6z"/><path class="w8" d="M91.05 452.98l2.4 2.4M92.25 451.98l2.2 2.2"/>
<path class="p8" d="M84.35 437.88h6v6h-6z"/><path class="w8" d="M85.45 439.98l2.4 2.4M86.65 438.98l2.2 2.2"/>
<path class="p8" d="M136.59 450.43h6v6h-6z"/><path class="w8" d="M137.69 452.53l2.4 2.4M138.89 451.53l2.2 2.2"/>
<path class="p8" d="M106.99 451.76h6v6h-6z"/><path class="w8" d="M108.09 453.86l2.4 2.4M109.29 452.86l2.2 2.2"/>
<path class="p8" d="M68.68 430.86h6v6h-6z"/><path class="w8" d="M69.78 432.96l2.4 2.4M70.98 431.96l2.2 2.2"/>
<path class="p8" d="M88.42 434.77h6v6h-6z"/><path class="w8" d="M89.52 436.87l2.4 2.4M90.72 435.87l2.2 2.2"/>
<path class="p8" d="M121.98 452.84h6v6h-6z"/><path class="w8" d="M123.08 454.94l2.4 2.4M124.28 453.94l2.2 2.2"/>
<path class="p8" d="M87.99 430.37h6v6h-6z"/><path class="w8" d="M89.09 432.47l2.4 2.4M90.29 431.47l2.2 2.2"/>
<path class="p8" d="M88.13 448.2h6v6h-6z"/><path class="w8" d="M89.23 450.3l2.4 2.4M90.43 449.3l2.2 2.2"/>
<path class="p8" d="M122.43 445.02h6v6h-6z"/><path class="w8" d="M123.53 447.12l2.4 2.4M124.73 446.12l2.2 2.2"/>
<path class="p8" d="M65.87 453.08h6v6h-6z"/><path class="w8" d="M66.97 455.18l2.4 2.4M68.17 454.18l2.2 2.2"/>
<path class="p8" d="M70.22 450.78h6v6h-6z"/><path class="w8" d="M71.32 452.88l2.4 2.4M72.52 451.88l2.2 2.2"/>
<path class="p8" d="M138.42 451.99h6v6h-6z"/><path class="w8" d="M139.52 454.09l2.4 2.4M140.72 453.09l2.2 2.2"/>
<path class="p8" d="M120.52 452.12h6v6h-6z"/><path class="w8" d="M121.62 454.22l2.4 2.4M122.82 453.22l2.2 2.2"/>
<path class="p8" d="M65.85 452.67h6v6h-6z"/><path class="w8" d="M66.95 454.77l2.4 2.4M68.15 453.77l2.2 2.2"/>
<path class="p8" d="M74.18 436.76h6v6h-6z"/><path class="w8" d="M75.28 438.86l2.4 2.4M76.48 437.86l2.2 2.2"/>
<path class="p8" d="M93.16 449.92h6v6h-6z"/><path class="w8" d="M94.26 452.02l2.4 2.4M95.46 451.02l2.2 2.2"/>
<path class="p8" d="M67.2 453.26h6v6h-6z"/><path class="w8" d="M68.3 455.36l2.4 2.4M69.5 454.36l2.2 2.2"/>
<path class="p8" d="M96.32 432.76h6v6h-6z"/><path class="w8" d="M97.42 434.86l2.4 2.4M98.62 433.86l2.2 2.2"/>
<path class="p8" d="M109.56 425.95h6v6h-6z"/><path class="w8" d="M110.66 428.05l2.4 2.4M111.86 427.05l2.2 2.2"/>
<path class="p8" d="M100.4 453.77h6v6h-6z"/><path class="w8" d="M101.5 455.87l2.4 2.4M102.7 454.87l2.2 2.2"/>
<path class="p8" d="M94.18 448.25h6v6h-6z"/><path class="w8" d="M95.28 450.35l2.4 2.4M96.48 449.35l2.2 2.2"/>
<path class="p8" d="M117.39 444.48h6v6h-6z"/><path class="w8" d="M118.49 446.58l2.4 2.4M119.69 445.58l2.2 2.2"/>
<path class="p8" d="M109.3 454.6h6v6h-6z"/><path class="w8" d="M110.4 456.7l2.4 2.4M111.6 455.7l2.2 2.2"/>
<path class="p8" d="M90.83 445.94h6v6h-6z"/><path class="w8" d="M91.93 448.04l2.4 2.4M93.13 447.04l2.2 2.2"/>
<path class="p8" d="M125.16 447.32h6v6h-6z"/><path class="w8" d="M126.26 449.42l2.4 2.4M127.46 448.42l2.2 2.2"/>
<path class="p8" d="M130.66 441.64h6v6h-6z"/><path class="w8" d="M131.76 443.74l2.4 2.4M132.96 442.74l2.2 2.2"/>
<path class="p8" d="M69.17 432.39h6v6h-6z"/><path class="w8" d="M70.27 434.49l2.4 2.4M71.47 433.49l2.2 2.2"/>
<path class="p8" d="M68.14 439.91h6v6h-6z"/><path class="w8" d="M69.24 442.01l2.4 2.4M70.44 441.01l2.2 2.2"/>
<path class="p8" d="M107.56 436.04h6v6h-6z"/><path class="w8" d="M108.66 438.14l2.4 2.4M109.86 437.14l2.2 2.2"/>
<path class="p8" d="M108.5 444.96h6v6h-6z"/><path class="w8" d="M109.6 447.06l2.4 2.4M110.8 446.06l2.2 2.2"/>
<path class="p8" d="M74.2 441.94h6v6h-6z"/><path class="w8" d="M75.3 444.04l2.4 2.4M76.5 443.04l2.2 2.2"/>
<path class="p8" d="M128.15 447.9h6v6h-6z"/><path class="w8" d="M129.25 450l2.4 2.4M130.45 449l2.2 2.2"/>
<path class="p8" d="M109.85 437.64h6v6h-6z"/><path class="w8" d="M110.95 439.74l2.4 2.4M112.15 438.74l2.2 2.2"/>
<path class="p8" d="M110.05 444.1h6v6h-6z"/><path class="w8" d="M111.15 446.2l2.4 2.4M112.35 445.2l2.2 2.2"/>
<path class="p8" d="M101.46 443.13h6v6h-6z"/><path class="w8" d="M102.56 445.23l2.4 2.4M103.76 444.23l2.2 2.2"/>
<path class="p8" d="M119.38 386.28h6v6h-6z"/><path class="w8" d="M120.48 388.38l2.4 2.4M121.68 387.38l2.2 2.2"/>
<path class="p8" d="M123.43 446.04h6v6h-6z"/><path class="w8" d="M124.53 448.14l2.4 2.4M125.73 447.14l2.2 2.2"/>
<path class="p8" d="M72.63 452.94h6v6h-6z"/><path class="w8" d="M73.73 455.04l2.4 2.4M74.93 454.04l2.2 2.2"/>
<path class="p8" d="M135.37 444.57h6v6h-6z"/><path class="w8" d="M136.47 446.67l2.4 2.4M137.67 445.67l2.2 2.2"/>
<path class="p8" d="M102.87 446.12h6v6h-6z"/><path class="w8" d="M103.97 448.22l2.4 2.4M105.17 447.22l2.2 2.2"/>
<path class="p8" d="M126.57 446.15h6v6h-6z"/><path class="w8" d="M127.67 448.25l2.4 2.4M128.87 447.25l2.2 2.2"/>
<path class="p8" d="M110.08 446.37h6v6h-6z"/><path class="w8" d="M111.18 448.47l2.4 2.4M112.38 447.47l2.2 2.2"/>
<path class="p8" d="M119.85 438.25h6v6h-6z"/><path class="w8" d="M120.95 440.35l2.4 2.4M122.15 439.35l2.2 2.2"/>
<path class="p8" d="M87.82 449.15h6v6h-6z"/><path class="w8" d="M88.92 451.25l2.4 2.4M90.12 450.25l2.2 2.2"/>
<path class="p8" d="M113.1 420.46h6v6h-6z"/><path class="w8" d="M114.2 422.56l2.4 2.4M115.4 421.56l2.2 2.2"/>
<path class="p8" d="M72.61 451.1h6v6h-6z"/><path class="w8" d="M73.71 453.2l2.4 2.4M74.91 452.2l2.2 2.2"/>
<path class="p8" d="M102.25 451.19h6v6h-6z"/><path class="w8" d="M103.35 453.29l2.4 2.4M104.55 452.29l2.2 2.2"/>
<path class="p8" d="M116.98 449.6h6v6h-6z"/><path class="w8" d="M118.08 451.7l2.4 2.4M119.28 450.7l2.2 2.2"/>
<path class="p8" d="M72.05 450.52h6v6h-6z"/><path class="w8" d="M73.15 452.62l2.4 2.4M74.35 451.62l2.2 2.2"/>
<path class="p8" d="M103.23 446.3h6v6h-6z"/><path class="w8" d="M104.33 448.4l2.4 2.4M105.53 447.4l2.2 2.2"/>
<path class="p8" d="M86.52 440.86h6v6h-6z"/><path class="w8" d="M87.62 442.96l2.4 2.4M88.82 441.96l2.2 2.2"/>
<path class="p8" d="M102.28 384.1h6v6h-6z"/><path class="w8" d="M103.38 386.2l2.4 2.4M104.58 385.2l2.2 2.2"/>
<path class="p8" d="M88.75 452.91h6v6h-6z"/><path class="w8" d="M89.85 455.01l2.4 2.4M91.05 454.01l2.2 2.2"/>
<path class="p8" d="M118.98 442.88h6v6h-6z"/><path class="w8" d="M120.08 444.98l2.4 2.4M121.28 443.98l2.2 2.2"/>
<path class="p8" d="M73.33 444.08h6v6h-6z"/><path class="w8" d="M74.43 446.18l2.4 2.4M75.63 445.18l2.2 2.2"/>
<path class="p8" d="M73.32 426.35h6v6h-6z"/><path class="w8" d="M74.42 428.45l2.4 2.4M75.62 427.45l2.2 2.2"/>
<path class="p8" d="M122.48 448.92h6v6h-6z"/><path class="w8" d="M123.58 451.02l2.4 2.4M124.78 450.02l2.2 2.2"/>
<path class="p8" d="M109.07 451.98h6v6h-6z"/><path class="w8" d="M110.17 454.08l2.4 2.4M111.37 453.08l2.2 2.2"/>
<path class="p8" d="M129.11 441.95h6v6h-6z"/><path class="w8" d="M130.21 444.05l2.4 2.4M131.41 443.05l2.2 2.2"/>
<path class="p8" d="M139.34 450.9h6v6h-6z"/><path class="w8" d="M140.44 453l2.4 2.4M141.64 452l2.2 2.2"/>
<path class="p8" d="M58.54 450.18h6v6h-6z"/><path class="w8" d="M59.64 452.28l2.4 2.4M60.84 451.28l2.2 2.2"/>
<path class="p8" d="M64.51 445.09h6v6h-6z"/><path class="w8" d="M65.61 447.19l2.4 2.4M66.81 446.19l2.2 2.2"/>
<path class="p8" d="M117.39 451.19h6v6h-6z"/><path class="w8" d="M118.49 453.29l2.4 2.4M119.69 452.29l2.2 2.2"/>
<path class="p8" d="M100.09 446.52h6v6h-6z"/><path class="w8" d="M101.19 448.62l2.4 2.4M102.39 447.62l2.2 2.2"/>
<path class="p8" d="M83.88 450.16h6v6h-6z"/><path class="w8" d="M84.98 452.26l2.4 2.4M86.18 451.26l2.2 2.2"/>
<path class="p8" d="M105.89 448.52h6v6h-6z"/><path class="w8" d="M106.99 450.62l2.4 2.4M108.19 449.62l2.2 2.2"/>
<path class="p8" d="M111.29 438.71h6v6h-6z"/><path class="w8" d="M112.39 440.81l2.4 2.4M113.59 439.81l2.2 2.2"/>
<path class="p8" d="M92 447.47h6v6h-6z"/><path class="w8" d="M93.1 449.57l2.4 2.4M94.3 448.57l2.2 2.2"/>
<path class="p8" d="M98.8 446.77h6v6h-6z"/><path class="w8" d="M99.9 448.87l2.4 2.4M101.1 447.87l2.2 2.2"/>
<path class="p8" d="M84.54 454.09h6v6h-6z"/><path class="w8" d="M85.64 456.19l2.4 2.4M86.84 455.19l2.2 2.2"/>
<path class="p8" d="M67.13 454.39h6v6h-6z"/><path class="w8" d="M68.23 456.49l2.4 2.4M69.43 455.49l2.2 2.2"/>
<path class="p8" d="M60.46 448.26h6v6h-6z"/><path class="w8" d="M61.56 450.36l2.4 2.4M62.76 449.36l2.2 2.2"/>
<path class="p8" d="M123.01 451.75h6v6h-6z"/><path class="w8" d="M124.11 453.85l2.4 2.4M125.31 452.85l2.2 2.2"/>
<path class="p8" d="M110.32 439.53h6v6h-6z"/><path class="w8" d="M111.42 441.63l2.4 2.4M112.62 440.63l2.2 2.2"/>
<path class="p8" d="M95.7 445.86h6v6h-6z"/><path class="w8" d="M96.8 447.96l2.4 2.4M98 446.96l2.2 2.2"/>
<path class="p8" d="M83.48 439.36h6v6h-6z"/><path class="w8" d="M84.58 441.46l2.4 2.4M85.78 440.46l2.2 2.2"/>
<path class="p8" d="M61.73 449.89h6v6h-6z"/><path class="w8" d="M62.83 451.99l2.4 2.4M64.03 450.99l2.2 2.2"/>
<path class="p8" d="M92.83 453.34h6v6h-6z"/><path class="w8" d="M93.93 455.44l2.4 2.4M95.13 454.44l2.2 2.2"/>
<path class="p8" d="M126.34 451.8h6v6h-6z"/><path class="w8" d="M127.44 453.9l2.4 2.4M128.64 452.9l2.2 2.2"/>
<path class="p8" d="M120.53 451.53h6v6h-6z"/><path class="w8" d="M121.63 453.63l2.4 2.4M122.83 452.63l2.2 2.2"/>
<path class="p8" d="M119.86 429.76h6v6h-6z"/><path class="w8" d="M120.96 431.86l2.4 2.4M122.16 430.86l2.2 2.2"/>
<path class="p8" d="M105.21 408.51h6v6h-6z"/><path class="w8" d="M106.31 410.61l2.4 2.4M107.51 409.61l2.2 2.2"/>
<path class="p8" d="M68.48 443.95h6v6h-6z"/><path class="w8" d="M69.58 446.05l2.4 2.4M70.78 445.05l2.2 2.2"/>
<path class="p8" d="M94.2 450.42h6v6h-6z"/><path class="w8" d="M95.3 452.52l2.4 2.4M96.5 451.52l2.2 2.2"/>
<path class="p8" d="M83.18 439.86h6v6h-6z"/><path class="w8" d="M84.28 441.96l2.4 2.4M85.48 440.96l2.2 2.2"/>
<path class="p8" d="M83.37 450.4h6v6h-6z"/><path class="w8" d="M84.47 452.5l2.4 2.4M85.67 451.5l2.2 2.2"/>
<path class="p8" d="M129.01 454.73h6v6h-6z"/><path class="w8" d="M130.11 456.83l2.4 2.4M131.31 455.83l2.2 2.2"/>
<path class="p8" d="M99.56 435.95h6v6h-6z"/><path class="w8" d="M100.66 438.05l2.4 2.4M101.86 437.05l2.2 2.2"/>
<path class="p8" d="M94.25 454.44h6v6h-6z"/><path class="w8" d="M95.35 456.54l2.4 2.4M96.55 455.54l2.2 2.2"/>
<path class="p8" d="M100.27 447.68h6v6h-6z"/><path class="w8" d="M101.37 449.78l2.4 2.4M102.57 448.78l2.2 2.2"/>
<path class="p8" d="M72.66 426.2h6v6h-6z"/><path class="w8" d="M73.76 428.3l2.4 2.4M74.96 427.3l2.2 2.2"/>
<path class="p8" d="M136.25 438.48h6v6h-6z"/><path class="w8" d="M137.35 440.58l2.4 2.4M138.55 439.58l2.2 2.2"/>
<path class="p8" d="M66.33 454h6v6h-6z"/><path class="w8" d="M67.43 456.1l2.4 2.4M68.63 455.1l2.2 2.2"/>
<path class="p8" d="M104.41 444.96h6v6h-6z"/><path class="w8" d="M105.51 447.06l2.4 2.4M106.71 446.06l2.2 2.2"/>
<path class="p8" d="M130.34 439.5h6v6h-6z"/><path class="w8" d="M131.44 441.6l2.4 2.4M132.64 440.6l2.2 2.2"/>
<path class="p8" d="M68.73 450.51h6v6h-6z"/><path class="w8" d="M69.83 452.61l2.4 2.4M71.03 451.61l2.2 2.2"/>
<path class="p8" d="M81.55 442.05h6v6h-6z"/><path class="w8" d="M82.65 444.15l2.4 2.4M83.85 443.15l2.2 2.2"/>
<path class="p8" d="M123.18 438.8h6v6h-6z"/><path class="w8" d="M124.28 440.9l2.4 2.4M125.48 439.9l2.2 2.2"/>
<path class="p8" d="M65.07 454.12h6v6h-6z"/><path class="w8" d="M66.17 456.22l2.4 2.4M67.37 455.22l2.2 2.2"/>
<path class="p8" d="M113.04 450.75h6v6h-6z"/><path class="w8" d="M114.14 452.85l2.4 2.4M115.34 451.85l2.2 2.2"/>
<path class="p8" d="M79.68 448.13h6v6h-6z"/><path class="w8" d="M80.78 450.23l2.4 2.4M81.98 449.23l2.2 2.2"/>
<path class="p8" d="M135.52 447.29h6v6h-6z"/><path class="w8" d="M136.62 449.39l2.4 2.4M137.82 448.39l2.2 2.2"/>
<path class="p8" d="M89.29 438.44h6v6h-6z"/><path class="w8" d="M90.39 440.54l2.4 2.4M91.59 439.54l2.2 2.2"/>
<path class="p8" d="M96 451.06h6v6h-6z"/><path class="w8" d="M97.1 453.16l2.4 2.4M98.3 452.16l2.2 2.2"/>
<path class="p8" d="M111.86 438.08h6v6h-6z"/><path class="w8" d="M112.96 440.18l2.4 2.4M114.16 439.18l2.2 2.2"/>
<path class="p8" d="M134.64 438.43h6v6h-6z"/><path class="w8" d="M135.74 440.53l2.4 2.4M136.94 439.53l2.2 2.2"/>
<path class="p8" d="M112.27 437.24h6v6h-6z"/><path class="w8" d="M113.37 439.34l2.4 2.4M114.57 438.34l2.2 2.2"/>
<path class="p8" d="M133.97 446.29h6v6h-6z"/><path class="w8" d="M135.07 448.39l2.4 2.4M136.27 447.39l2.2 2.2"/>
<path class="p8" d="M62.22 454.9h6v6h-6z"/><path class="w8" d="M63.32 457l2.4 2.4M64.52 456l2.2 2.2"/>
<path class="p8" d="M74.68 446.16h6v6h-6z"/><path class="w8" d="M75.78 448.26l2.4 2.4M76.98 447.26l2.2 2.2"/>
<path class="p8" d="M94.19 452.3h6v6h-6z"/><path class="w8" d="M95.29 454.4l2.4 2.4M96.49 453.4l2.2 2.2"/>
<path class="p8" d="M88.72 451.13h6v6h-6z"/><path class="w8" d="M89.82 453.23l2.4 2.4M91.02 452.23l2.2 2.2"/>
<path class="p8" d="M89.48 445.85h6v6h-6z"/><path class="w8" d="M90.58 447.95l2.4 2.4M91.78 446.95l2.2 2.2"/>
<path class="p8" d="M79.42 448.2h6v6h-6z"/><path class="w8" d="M80.52 450.3l2.4 2.4M81.72 449.3l2.2 2.2"/>
<path class="p8" d="M116.67 438.53h6v6h-6z"/><path class="w8" d="M117.77 440.63l2.4 2.4M118.97 439.63l2.2 2.2"/>
<path class="p8" d="M70.13 451.02h6v6h-6z"/><path class="w8" d="M71.23 453.12l2.4 2.4M72.43 452.12l2.2 2.2"/>
<path class="p8" d="M79.8 454h6v6h-6z"/><path class="w8" d="M80.9 456.1l2.4 2.4M82.1 455.1l2.2 2.2"/>
<path class="p8" d="M70.52 428.77h6v6h-6z"/><path class="w8" d="M71.62 430.87l2.4 2.4M72.82 429.87l2.2 2.2"/>
<path class="p8" d="M101.79 346.22h6v6h-6z"/><path class="w8" d="M102.89 348.32l2.4 2.4M104.09 347.32l2.2 2.2"/>
<path class="p8" d="M127.47 442.63h6v6h-6z"/><path class="w8" d="M128.57 444.73l2.4 2.4M129.77 443.73l2.2 2.2"/>
<path class="p8" d="M75.54 451.13h6v6h-6z"/><path class="w8" d="M76.64 453.23l2.4 2.4M77.84 452.23l2.2 2.2"/>
<path class="p8" d="M103.34 449.89h6v6h-6z"/><path class="w8" d="M104.44 451.99l2.4 2.4M105.64 450.99l2.2 2.2"/>
<path class="p8" d="M85.41 448.97h6v6h-6z"/><path class="w8" d="M86.51 451.07l2.4 2.4M87.71 450.07l2.2 2.2"/>
<path class="p8" d="M110.54 443.34h6v6h-6z"/><path class="w8" d="M111.64 445.44l2.4 2.4M112.84 444.44l2.2 2.2"/>
<path class="p8" d="M58.62 446.99h6v6h-6z"/><path class="w8" d="M59.72 449.09l2.4 2.4M60.92 448.09l2.2 2.2"/>
<path class="p8" d="M123.72 449.12h6v6h-6z"/><path class="w8" d="M124.82 451.22l2.4 2.4M126.02 450.22l2.2 2.2"/>
<path class="p8" d="M62.64 441.32h6v6h-6z"/><path class="w8" d="M63.74 443.42l2.4 2.4M64.94 442.42l2.2 2.2"/>
<path class="p8" d="M84.01 442.47h6v6h-6z"/><path class="w8" d="M85.11 444.57l2.4 2.4M86.31 443.57l2.2 2.2"/>
<path class="p8" d="M132.83 445.96h6v6h-6z"/><path class="w8" d="M133.93 448.06l2.4 2.4M135.13 447.06l2.2 2.2"/>
<path class="p8" d="M113.52 405.4h6v6h-6z"/><path class="w8" d="M114.62 407.5l2.4 2.4M115.82 406.5l2.2 2.2"/>
<path class="p8" d="M82.26 444.39h6v6h-6z"/><path class="w8" d="M83.36 446.49l2.4 2.4M84.56 445.49l2.2 2.2"/>
<path class="p8" d="M132.92 436.66h6v6h-6z"/><path class="w8" d="M134.02 438.76l2.4 2.4M135.22 437.76l2.2 2.2"/>
<path class="p8" d="M122.3 437.95h6v6h-6z"/><path class="w8" d="M123.4 440.05l2.4 2.4M124.6 439.05l2.2 2.2"/>
<path class="p8" d="M123.35 442.98h6v6h-6z"/><path class="w8" d="M124.45 445.08l2.4 2.4M125.65 444.08l2.2 2.2"/>
<path class="p8" d="M97.21 451.13h6v6h-6z"/><path class="w8" d="M98.31 453.23l2.4 2.4M99.51 452.23l2.2 2.2"/>
<path class="p8" d="M110.23 432.22h6v6h-6z"/><path class="w8" d="M111.33 434.32l2.4 2.4M112.53 433.32l2.2 2.2"/>
<path class="p8" d="M132.5 439.37h6v6h-6z"/><path class="w8" d="M133.6 441.47l2.4 2.4M134.8 440.47l2.2 2.2"/>
<path class="p8" d="M129.62 439.39h6v6h-6z"/><path class="w8" d="M130.72 441.49l2.4 2.4M131.92 440.49l2.2 2.2"/>
<path class="p8" d="M71.79 447.88h6v6h-6z"/><path class="w8" d="M72.89 449.98l2.4 2.4M74.09 448.98l2.2 2.2"/>
<path class="p8" d="M59.64 453.65h6v6h-6z"/><path class="w8" d="M60.74 455.75l2.4 2.4M61.94 454.75l2.2 2.2"/>
<path class="p8" d="M67.65 451.54h6v6h-6z"/><path class="w8" d="M68.75 453.64l2.4 2.4M69.95 452.64l2.2 2.2"/>
<path class="p8" d="M63.11 442.89h6v6h-6z"/><path class="w8" d="M64.21 444.99l2.4 2.4M65.41 443.99l2.2 2.2"/>
<path class="p8" d="M129.99 417.52h6v6h-6z"/><path class="w8" d="M131.09 419.62l2.4 2.4M132.29 418.62l2.2 2.2"/>
<path class="p8" d="M126.74 453.21h6v6h-6z"/><path class="w8" d="M127.84 455.31l2.4 2.4M129.04 454.31l2.2 2.2"/>
<path class="p8" d="M88.63 447.15h6v6h-6z"/><path class="w8" d="M89.73 449.25l2.4 2.4M90.93 448.25l2.2 2.2"/>
<path class="p8" d="M113.27 452.7h6v6h-6z"/><path class="w8" d="M114.37 454.8l2.4 2.4M115.57 453.8l2.2 2.2"/>
<path class="p8" d="M112.94 443.08h6v6h-6z"/><path class="w8" d="M114.04 445.18l2.4 2.4M115.24 444.18l2.2 2.2"/>
<path class="p8" d="M118.28 438.36h6v6h-6z"/><path class="w8" d="M119.38 440.46l2.4 2.4M120.58 439.46l2.2 2.2"/>
<path class="p8" d="M137.95 389.28h6v6h-6z"/><path class="w8" d="M139.05 391.38l2.4 2.4M140.25 390.38l2.2 2.2"/>
<path class="p8" d="M89.99 449.01h6v6h-6z"/><path class="w8" d="M91.09 451.11l2.4 2.4M92.29 450.11l2.2 2.2"/>
<path class="p8" d="M133.19 425.35h6v6h-6z"/><path class="w8" d="M134.29 427.45l2.4 2.4M135.49 426.45l2.2 2.2"/>
<path class="p8" d="M98.87 427.94h6v6h-6z"/><path class="w8" d="M99.97 430.04l2.4 2.4M101.17 429.04l2.2 2.2"/>
<path class="p8" d="M130.95 454.13h6v6h-6z"/><path class="w8" d="M132.05 456.23l2.4 2.4M133.25 455.23l2.2 2.2"/>
<path class="p8" d="M98.24 436.22h6v6h-6z"/><path class="w8" d="M99.34 438.32l2.4 2.4M100.54 437.32l2.2 2.2"/>
<path class="p8" d="M73.58 454.64h6v6h-6z"/><path class="w8" d="M74.68 456.74l2.4 2.4M75.88 455.74l2.2 2.2"/>
<path class="p8" d="M83.26 451.31h6v6h-6z"/><path class="w8" d="M84.36 453.41l2.4 2.4M85.56 452.41l2.2 2.2"/>
<path class="p8" d="M117.32 449.98h6v6h-6z"/><path class="w8" d="M118.42 452.08l2.4 2.4M119.62 451.08l2.2 2.2"/>
<path class="p8" d="M111.79 445.9h6v6h-6z"/><path class="w8" d="M112.89 448l2.4 2.4M114.09 447l2.2 2.2"/>
<path class="p8" d="M136.15 449.83h6v6h-6z"/><path class="w8" d="M137.25 451.93l2.4 2.4M138.45 450.93l2.2 2.2"/>
<path class="p8" d="M71.59 450.7h6v6h-6z"/><path class="w8" d="M72.69 452.8l2.4 2.4M73.89 451.8l2.2 2.2"/>
<path class="p8" d="M68.4 439.79h6v6h-6z"/><path class="w8" d="M69.5 441.89l2.4 2.4M70.7 440.89l2.2 2.2"/>
<path class="p8" d="M109.1 444.73h6v6h-6z"/><path class="w8" d="M110.2 446.83l2.4 2.4M111.4 445.83l2.2 2.2"/>
<path class="p8" d="M63.01 447.09h6v6h-6z"/><path class="w8" d="M64.11 449.19l2.4 2.4M65.31 448.19l2.2 2.2"/>
<path class="p8" d="M62.92 453.03h6v6h-6z"/><path class="w8" d="M64.02 455.13l2.4 2.4M65.22 454.13l2.2 2.2"/>
<path class="p8" d="M67.87 452.49h6v6h-6z"/><path class="w8" d="M68.97 454.59l2.4 2.4M70.17 453.59l2.2 2.2"/>
<path class="p8" d="M122.81 443.93h6v6h-6z"/><path class="w8" d="M123.91 446.03l2.4 2.4M125.11 445.03l2.2 2.2"/>
<path class="p8" d="M63.92 453h6v6h-6z"/><path class="w8" d="M65.02 455.1l2.4 2.4M66.22 454.1l2.2 2.2"/>
<path class="p8" d="M124.3 427.84h6v6h-6z"/><path class="w8" d="M125.4 429.94l2.4 2.4M126.6 428.94l2.2 2.2"/>
<path class="p8" d="M73.99 445.04h6v6h-6z"/><path class="w8" d="M75.09 447.14l2.4 2.4M76.29 446.14l2.2 2.2"/>
<path class="p8" d="M105.34 442.17h6v6h-6z"/><path class="w8" d="M106.44 444.27l2.4 2.4M107.64 443.27l2.2 2.2"/>
<path class="p8" d="M129.96 449.99h6v6h-6z"/><path class="w8" d="M131.06 452.09l2.4 2.4M132.26 451.09l2.2 2.2"/>
<path class="p8" d="M90.17 445.86h6v6h-6z"/><path class="w8" d="M91.27 447.96l2.4 2.4M92.47 446.96l2.2 2.2"/>
<path class="p8" d="M135.62 437.73h6v6h-6z"/><path class="w8" d="M136.72 439.83l2.4 2.4M137.92 438.83l2.2 2.2"/>
<path class="p8" d="M94.81 427.42h6v6h-6z"/><path class="w8" d="M95.91 429.52l2.4 2.4M97.11 428.52l2.2 2.2"/>
<path class="p8" d="M68.18 427.93h6v6h-6z"/><path class="w8" d="M69.28 430.03l2.4 2.4M70.48 429.03l2.2 2.2"/>
<path class="p8" d="M97.43 443.52h6v6h-6z"/><path class="w8" d="M98.53 445.62l2.4 2.4M99.73 444.62l2.2 2.2"/>
<path class="p8" d="M95.07 435.05h6v6h-6z"/><path class="w8" d="M96.17 437.15l2.4 2.4M97.37 436.15l2.2 2.2"/>
<path class="p8" d="M134.9 451.65h6v6h-6z"/><path class="w8" d="M136 453.75l2.4 2.4M137.2 452.75l2.2 2.2"/>
<path class="p8" d="M79.26 450.38h6v6h-6z"/><path class="w8" d="M80.36 452.48l2.4 2.4M81.56 451.48l2.2 2.2"/>
<path class="p8" d="M92.49 413.23h6v6h-6z"/><path class="w8" d="M93.59 415.33l2.4 2.4M94.79 414.33l2.2 2.2"/>
<path class="p8" d="M113.07 449.31h6v6h-6z"/><path class="w8" d="M114.17 451.41l2.4 2.4M115.37 450.41l2.2 2.2"/>
<path class="p8" d="M72.61 450.11h6v6h-6z"/><path class="w8" d="M73.71 452.21l2.4 2.4M74.91 451.21l2.2 2.2"/>
<path class="p8" d="M74.05 427.91h6v6h-6z"/><path class="w8" d="M75.15 430.01l2.4 2.4M76.35 429.01l2.2 2.2"/>
<path class="p8" d="M93.4 429.97h6v6h-6z"/><path class="w8" d="M94.5 432.07l2.4 2.4M95.7 431.07l2.2 2.2"/>
<path class="p8" d="M97.99 448.06h6v6h-6z"/><path class="w8" d="M99.09 450.16l2.4 2.4M100.29 449.16l2.2 2.2"/>
<path class="p8" d="M100.46 454.5h6v6h-6z"/><path class="w8" d="M101.56 456.6l2.4 2.4M102.76 455.6l2.2 2.2"/>
<path class="p8" d="M126.68 447.8h6v6h-6z"/><path class="w8" d="M127.78 449.9l2.4 2.4M128.98 448.9l2.2 2.2"/>
<path class="p8" d="M64.48 453.18h6v6h-6z"/><path class="w8" d="M65.58 455.28l2.4 2.4M66.78 454.28l2.2 2.2"/>
<path class="p8" d="M61.2 452.81h6v6h-6z"/><path class="w8" d="M62.3 454.91l2.4 2.4M63.5 453.91l2.2 2.2"/>
<path class="p8" d="M75.18 445.55h6v6h-6z"/><path class="w8" d="M76.28 447.65l2.4 2.4M77.48 446.65l2.2 2.2"/>
<path class="p8" d="M120.2 448.83h6v6h-6z"/><path class="w8" d="M121.3 450.93l2.4 2.4M122.5 449.93l2.2 2.2"/>
<path class="p8" d="M76.17 447.24h6v6h-6z"/><path class="w8" d="M77.27 449.34l2.4 2.4M78.47 448.34l2.2 2.2"/>
<path class="p8" d="M108.86 445.46h6v6h-6z"/><path class="w8" d="M109.96 447.56l2.4 2.4M111.16 446.56l2.2 2.2"/>
<path class="p8" d="M73.17 441.72h6v6h-6z"/><path class="w8" d="M74.27 443.82l2.4 2.4M75.47 442.82l2.2 2.2"/>
<path class="p8" d="M105.27 451.33h6v6h-6z"/><path class="w8" d="M106.37 453.43l2.4 2.4M107.57 452.43l2.2 2.2"/>
<path class="p8" d="M81.15 448.44h6v6h-6z"/><path class="w8" d="M82.25 450.54l2.4 2.4M83.45 449.54l2.2 2.2"/>
<path class="p8" d="M116.64 447.59h6v6h-6z"/><path class="w8" d="M117.74 449.69l2.4 2.4M118.94 448.69l2.2 2.2"/>
<path class="p8" d="M69.24 445.94h6v6h-6z"/><path class="w8" d="M70.34 448.04l2.4 2.4M71.54 447.04l2.2 2.2"/>
<path class="p8" d="M99.71 447.41h6v6h-6z"/><path class="w8" d="M100.81 449.51l2.4 2.4M102.01 448.51l2.2 2.2"/>
<path class="p8" d="M117.62 422.69h6v6h-6z"/><path class="w8" d="M118.72 424.79l2.4 2.4M119.92 423.79l2.2 2.2"/>
<path class="p8" d="M73.82 434.76h6v6h-6z"/><path class="w8" d="M74.92 436.86l2.4 2.4M76.12 435.86l2.2 2.2"/>
<path class="p8" d="M135.6 439.86h6v6h-6z"/><path class="w8" d="M136.7 441.96l2.4 2.4M137.9 440.96l2.2 2.2"/>
<path class="p8" d="M136.31 450.14h6v6h-6z"/><path class="w8" d="M137.41 452.24l2.4 2.4M138.61 451.24l2.2 2.2"/>
<path class="p8" d="M63.65 454.08h6v6h-6z"/><path class="w8" d="M64.75 456.18l2.4 2.4M65.95 455.18l2.2 2.2"/>
<path class="p8" d="M63.72 449.96h6v6h-6z"/><path class="w8" d="M64.82 452.06l2.4 2.4M66.02 451.06l2.2 2.2"/>
<path class="p8" d="M72.66 442.58h6v6h-6z"/><path class="w8" d="M73.76 444.68l2.4 2.4M74.96 443.68l2.2 2.2"/>
<path class="p8" d="M128.55 446.23h6v6h-6z"/><path class="w8" d="M129.65 448.33l2.4 2.4M130.85 447.33l2.2 2.2"/>
<path class="p8" d="M99.13 440.76h6v6h-6z"/><path class="w8" d="M100.23 442.86l2.4 2.4M101.43 441.86l2.2 2.2"/>
<path class="p8" d="M90.58 448.98h6v6h-6z"/><path class="w8" d="M91.68 451.08l2.4 2.4M92.88 450.08l2.2 2.2"/>
<path class="p8" d="M81.53 421.7h6v6h-6z"/><path class="w8" d="M82.63 423.8l2.4 2.4M83.83 422.8l2.2 2.2"/>
<path class="p8" d="M76.45 448.43h6v6h-6z"/><path class="w8" d="M77.55 450.53l2.4 2.4M78.75 449.53l2.2 2.2"/>
<path class="p8" d="M85.24 446.97h6v6h-6z"/><path class="w8" d="M86.34 449.07l2.4 2.4M87.54 448.07l2.2 2.2"/>
<path class="p8" d="M115.46 446.16h6v6h-6z"/><path class="w8" d="M116.56 448.26l2.4 2.4M117.76 447.26l2.2 2.2"/>
<path class="p8" d="M88.04 427.53h6v6h-6z"/><path class="w8" d="M89.14 429.63l2.4 2.4M90.34 428.63l2.2 2.2"/>
<path class="p8" d="M78.61 449.25h6v6h-6z"/><path class="w8" d="M79.71 451.35l2.4 2.4M80.91 450.35l2.2 2.2"/>
<path class="p8" d="M66.78 446.84h6v6h-6z"/><path class="w8" d="M67.88 448.94l2.4 2.4M69.08 447.94l2.2 2.2"/>
<path class="p8" d="M91.55 439.92h6v6h-6z"/><path class="w8" d="M92.65 442.02l2.4 2.4M93.85 441.02l2.2 2.2"/>
<path class="p8" d="M133.86 448.28h6v6h-6z"/><path class="w8" d="M134.96 450.38l2.4 2.4M136.16 449.38l2.2 2.2"/>
<path class="p8" d="M104.66 421.1h6v6h-6z"/><path class="w8" d="M105.76 423.2l2.4 2.4M106.96 422.2l2.2 2.2"/>
<path class="p8" d="M79.92 453.94h6v6h-6z"/><path class="w8" d="M81.02 456.04l2.4 2.4M82.22 455.04l2.2 2.2"/>
<path class="p8" d="M108.25 453.09h6v6h-6z"/><path class="w8" d="M109.35 455.19l2.4 2.4M110.55 454.19l2.2 2.2"/>
<path class="p8" d="M119.14 448.47h6v6h-6z"/><path class="w8" d="M120.24 450.57l2.4 2.4M121.44 449.57l2.2 2.2"/>
<path class="p8" d="M129.67 447.87h6v6h-6z"/><path class="w8" d="M130.77 449.97l2.4 2.4M131.97 448.97l2.2 2.2"/>
<path class="p8" d="M79.48 449.2h6v6h-6z"/><path class="w8" d="M80.58 451.3l2.4 2.4M81.78 450.3l2.2 2.2"/>
<path class="p8" d="M114.21 450h6v6h-6z"/><path class="w8" d="M115.31 452.1l2.4 2.4M116.51 451.1l2.2 2.2"/>
<path class="p8" d="M139.05 446.22h6v6h-6z"/><path class="w8" d="M140.15 448.32l2.4 2.4M141.35 447.32l2.2 2.2"/>
<path class="p8" d="M80.73 414.74h6v6h-6z"/><path class="w8" d="M81.83 416.84l2.4 2.4M83.03 415.84l2.2 2.2"/>
<path class="p8" d="M111.41 451.42h6v6h-6z"/><path class="w8" d="M112.51 453.52l2.4 2.4M113.71 452.52l2.2 2.2"/>
<path class="p8" d="M105.86 450.4h6v6h-6z"/><path class="w8" d="M106.96 452.5l2.4 2.4M108.16 451.5l2.2 2.2"/>
<path class="p8" d="M127.26 429.83h6v6h-6z"/><path class="w8" d="M128.36 431.93l2.4 2.4M129.56 430.93l2.2 2.2"/>
<path class="p8" d="M60.99 450.93h6v6h-6z"/><path class="w8" d="M62.09 453.03l2.4 2.4M63.29 452.03l2.2 2.2"/>
<path class="p8" d="M72.35 454.15h6v6h-6z"/><path class="w8" d="M73.45 456.25l2.4 2.4M74.65 455.25l2.2 2.2"/>
<path class="p8" d="M123.34 439.38h6v6h-6z"/><path class="w8" d="M124.44 441.48l2.4 2.4M125.64 440.48l2.2 2.2"/>
<path class="p8" d="M133 445.06h6v6h-6z"/><path class="w8" d="M134.1 447.16l2.4 2.4M135.3 446.16l2.2 2.2"/>
<path class="p8" d="M66.84 446.13h6v6h-6z"/><path class="w8" d="M67.94 448.23l2.4 2.4M69.14 447.23l2.2 2.2"/>
<path class="p8" d="M132.47 443.27h6v6h-6z"/><path class="w8" d="M133.57 445.37l2.4 2.4M134.77 444.37l2.2 2.2"/>
<path class="p8" d="M58 454.11h6v6h-6z"/><path class="w8" d="M59.1 456.21l2.4 2.4M60.3 455.21l2.2 2.2"/>
<path class="p8" d="M113.75 415.59h6v6h-6z"/><path class="w8" d="M114.85 417.69l2.4 2.4M116.05 416.69l2.2 2.2"/>
<path class="p8" d="M123.28 448.7h6v6h-6z"/><path class="w8" d="M124.38 450.8l2.4 2.4M125.58 449.8l2.2 2.2"/>
<path class="p8" d="M125.12 450.07h6v6h-6z"/><path class="w8" d="M126.22 452.17l2.4 2.4M127.42 451.17l2.2 2.2"/>
<path class="p8" d="M102.39 446.44h6v6h-6z"/><path class="w8" d="M103.49 448.54l2.4 2.4M104.69 447.54l2.2 2.2"/>
<path class="p8" d="M125 451.38h6v6h-6z"/><path class="w8" d="M126.1 453.48l2.4 2.4M127.3 452.48l2.2 2.2"/>
<path class="p8" d="M128.39 448.05h6v6h-6z"/><path class="w8" d="M129.49 450.15l2.4 2.4M130.69 449.15l2.2 2.2"/>
<path class="p8" d="M112.75 454.01h6v6h-6z"/><path class="w8" d="M113.85 456.11l2.4 2.4M115.05 455.11l2.2 2.2"/>
<path class="p8" d="M125.58 425.83h6v6h-6z"/><path class="w8" d="M126.68 427.93l2.4 2.4M127.88 426.93l2.2 2.2"/>
<path class="p8" d="M92.03 451.45h6v6h-6z"/><path class="w8" d="M93.13 453.55l2.4 2.4M94.33 452.55l2.2 2.2"/>
<path class="p8" d="M119.06 448.83h6v6h-6z"/><path class="w8" d="M120.16 450.93l2.4 2.4M121.36 449.93l2.2 2.2"/>
<path class="p8" d="M94.01 449.99h6v6h-6z"/><path class="w8" d="M95.11 452.09l2.4 2.4M96.31 451.09l2.2 2.2"/>
<path class="p8" d="M132.09 390.54h6v6h-6z"/><path class="w8" d="M133.19 392.64l2.4 2.4M134.39 391.64l2.2 2.2"/>
<path class="p8" d="M99.3 440.04h6v6h-6z"/><path class="w8" d="M100.4 442.14l2.4 2.4M101.6 441.14l2.2 2.2"/>
<path class="p8" d="M69.92 450.73h6v6h-6z"/><path class="w8" d="M71.02 452.83l2.4 2.4M72.22 451.83l2.2 2.2"/>
<path class="p8" d="M68.3 449.91h6v6h-6z"/><path class="w8" d="M69.4 452.01l2.4 2.4M70.6 451.01l2.2 2.2"/>
<path class="p8" d="M59.23 449.8h6v6h-6z"/><path class="w8" d="M60.33 451.9l2.4 2.4M61.53 450.9l2.2 2.2"/>
<path class="p8" d="M90.56 437.09h6v6h-6z"/><path class="w8" d="M91.66 439.19l2.4 2.4M92.86 438.19l2.2 2.2"/>
<path class="p8" d="M102.65 447.49h6v6h-6z"/><path class="w8" d="M103.75 449.59l2.4 2.4M104.95 448.59l2.2 2.2"/>
<path class="p8" d="M74.33 435.33h6v6h-6z"/><path class="w8" d="M75.43 437.43l2.4 2.4M76.63 436.43l2.2 2.2"/>
<path class="p8" d="M101.96 436.7h6v6h-6z"/><path class="w8" d="M103.06 438.8l2.4 2.4M104.26 437.8l2.2 2.2"/>
<path class="p8" d="M89.9 421.6h6v6h-6z"/><path class="w8" d="M91 423.7l2.4 2.4M92.2 422.7l2.2 2.2"/>
<path class="p8" d="M67.67 440.4h6v6h-6z"/><path class="w8" d="M68.77 442.5l2.4 2.4M69.97 441.5l2.2 2.2"/>
<path class="p8" d="M120.04 434.69h6v6h-6z"/><path class="w8" d="M121.14 436.79l2.4 2.4M122.34 435.79l2.2 2.2"/>
<path class="p8" d="M90.81 439.65h6v6h-6z"/><path class="w8" d="M91.91 441.75l2.4 2.4M93.11 440.75l2.2 2.2"/>
<path class="p8" d="M67.63 450.5h6v6h-6z"/><path class="w8" d="M68.73 452.6l2.4 2.4M69.93 451.6l2.2 2.2"/>
<path class="p8" d="M120.34 432.07h6v6h-6z"/><path class="w8" d="M121.44 434.17l2.4 2.4M122.64 433.17l2.2 2.2"/>
<path class="p8" d="M102.78 452.35h6v6h-6z"/><path class="w8" d="M103.88 454.45l2.4 2.4M105.08 453.45l2.2 2.2"/>
<path class="p8" d="M79.55 447.27h6v6h-6z"/><path class="w8" d="M80.65 449.37l2.4 2.4M81.85 448.37l2.2 2.2"/>
<path class="p8" d="M77.82 446.4h6v6h-6z"/><path class="w8" d="M78.92 448.5l2.4 2.4M80.12 447.5l2.2 2.2"/>
<path class="p8" d="M85.13 447.22h6v6h-6z"/><path class="w8" d="M86.23 449.32l2.4 2.4M87.43 448.32l2.2 2.2"/>
<path class="p8" d="M80.76 452.23h6v6h-6z"/><path class="w8" d="M81.86 454.33l2.4 2.4M83.06 453.33l2.2 2.2"/>
<path class="p8" d="M99.65 447.2h6v6h-6z"/><path class="w8" d="M100.75 449.3l2.4 2.4M101.95 448.3l2.2 2.2"/>
<path class="p8" d="M63.57 444.68h6v6h-6z"/><path class="w8" d="M64.67 446.78l2.4 2.4M65.87 445.78l2.2 2.2"/>
<path class="p8" d="M63.2 431.27h6v6h-6z"/><path class="w8" d="M64.3 433.37l2.4 2.4M65.5 432.37l2.2 2.2"/>
<path class="p8" d="M81.55 445.94h6v6h-6z"/><path class="w8" d="M82.65 448.04l2.4 2.4M83.85 447.04l2.2 2.2"/>
<path class="p8" d="M106.13 452.13h6v6h-6z"/><path class="w8" d="M107.23 454.23l2.4 2.4M108.43 453.23l2.2 2.2"/>
<path class="p8" d="M124.43 453.94h6v6h-6z"/><path class="w8" d="M125.53 456.04l2.4 2.4M126.73 455.04l2.2 2.2"/>
<path class="p8" d="M115.06 447.99h6v6h-6z"/><path class="w8" d="M116.16 450.09l2.4 2.4M117.36 449.09l2.2 2.2"/>
<path class="p8" d="M91.93 421.94h6v6h-6z"/><path class="w8" d="M93.03 424.04l2.4 2.4M94.23 423.04l2.2 2.2"/>
<path class="p8" d="M134.91 446.91h6v6h-6z"/><path class="w8" d="M136.01 449.01l2.4 2.4M137.21 448.01l2.2 2.2"/>
<path class="p8" d="M67.1 449.96h6v6h-6z"/><path class="w8" d="M68.2 452.06l2.4 2.4M69.4 451.06l2.2 2.2"/>
<path class="p8" d="M65.09 450.62h6v6h-6z"/><path class="w8" d="M66.19 452.72l2.4 2.4M67.39 451.72l2.2 2.2"/>
<path class="p8" d="M118.49 436.14h6v6h-6z"/><path class="w8" d="M119.59 438.24l2.4 2.4M120.79 437.24l2.2 2.2"/>
<path class="p8" d="M134.44 436.29h6v6h-6z"/><path class="w8" d="M135.54 438.39l2.4 2.4M136.74 437.39l2.2 2.2"/>
<path class="p8" d="M77.67 453.75h6v6h-6z"/><path class="w8" d="M78.77 455.85l2.4 2.4M79.97 454.85l2.2 2.2"/>
<path class="p8" d="M89.83 443.41h6v6h-6z"/><path class="w8" d="M90.93 445.51l2.4 2.4M92.13 444.51l2.2 2.2"/>
<path class="p8" d="M91.86 450.62h6v6h-6z"/><path class="w8" d="M92.96 452.72l2.4 2.4M94.16 451.72l2.2 2.2"/>
<path class="p8" d="M87.14 454.88h6v6h-6z"/><path class="w8" d="M88.24 456.98l2.4 2.4M89.44 455.98l2.2 2.2"/>
<path class="p8" d="M71.16 453.38h6v6h-6z"/><path class="w8" d="M72.26 455.48l2.4 2.4M73.46 454.48l2.2 2.2"/>
<path class="p8" d="M73.78 429.51h6v6h-6z"/><path class="w8" d="M74.88 431.61l2.4 2.4M76.08 430.61l2.2 2.2"/>
<path class="p8" d="M61.73 453.63h6v6h-6z"/><path class="w8" d="M62.83 455.73l2.4 2.4M64.03 454.73l2.2 2.2"/>
<path class="p8" d="M94 450h6v6h-6z"/><path class="w8" d="M95.1 452.1l2.4 2.4M96.3 451.1l2.2 2.2"/>
<path class="p8" d="M90.07 406.78h6v6h-6z"/><path class="w8" d="M91.17 408.88l2.4 2.4M92.37 407.88l2.2 2.2"/>
<path class="p8" d="M129.41 441.31h6v6h-6z"/><path class="w8" d="M130.51 443.41l2.4 2.4M131.71 442.41l2.2 2.2"/>
<path class="p8" d="M106.71 453.62h6v6h-6z"/><path class="w8" d="M107.81 455.72l2.4 2.4M109.01 454.72l2.2 2.2"/>
<path class="p8" d="M109.02 453.23h6v6h-6z"/><path class="w8" d="M110.12 455.33l2.4 2.4M111.32 454.33l2.2 2.2"/>
<path class="p8" d="M119.59 449.45h6v6h-6z"/><path class="w8" d="M120.69 451.55l2.4 2.4M121.89 450.55l2.2 2.2"/>
<path class="p8" d="M118.59 452.51h6v6h-6z"/><path class="w8" d="M119.69 454.61l2.4 2.4M120.89 453.61l2.2 2.2"/>
<path class="p8" d="M98.28 451.05h6v6h-6z"/><path class="w8" d="M99.38 453.15l2.4 2.4M100.58 452.15l2.2 2.2"/>
<path class="p8" d="M107.34 449.82h6v6h-6z"/><path class="w8" d="M108.44 451.92l2.4 2.4M109.64 450.92l2.2 2.2"/>
<path class="p8" d="M120.45 429h6v6h-6z"/><path class="w8" d="M121.55 431.1l2.4 2.4M122.75 430.1l2.2 2.2"/>
<path class="p8" d="M75.17 439.75h6v6h-6z"/><path class="w8" d="M76.27 441.85l2.4 2.4M77.47 440.85l2.2 2.2"/>
<path class="p8" d="M77.76 444.34h6v6h-6z"/><path class="w8" d="M78.86 446.44l2.4 2.4M80.06 445.44l2.2 2.2"/>
<path class="p8" d="M123.21 445.41h6v6h-6z"/><path class="w8" d="M124.31 447.51l2.4 2.4M125.51 446.51l2.2 2.2"/>
<path class="p8" d="M91.75 424.72h6v6h-6z"/><path class="w8" d="M92.85 426.82l2.4 2.4M94.05 425.82l2.2 2.2"/>
<path class="p8" d="M69.87 444.66h6v6h-6z"/><path class="w8" d="M70.97 446.76l2.4 2.4M72.17 445.76l2.2 2.2"/>
<path class="p8" d="M58.01 453.3h6v6h-6z"/><path class="w8" d="M59.11 455.4l2.4 2.4M60.31 454.4l2.2 2.2"/>
<path class="p8" d="M72.26 447.7h6v6h-6z"/><path class="w8" d="M73.36 449.8l2.4 2.4M74.56 448.8l2.2 2.2"/>
<path class="p8" d="M64.28 443.77h6v6h-6z"/><path class="w8" d="M65.38 445.87l2.4 2.4M66.58 444.87l2.2 2.2"/>
<path class="p8" d="M93.39 441.08h6v6h-6z"/><path class="w8" d="M94.49 443.18l2.4 2.4M95.69 442.18l2.2 2.2"/>
<path class="p8" d="M95.86 435.39h6v6h-6z"/><path class="w8" d="M96.96 437.49l2.4 2.4M98.16 436.49l2.2 2.2"/>
<path class="p8" d="M119.4 428.9h6v6h-6z"/><path class="w8" d="M120.5 431l2.4 2.4M121.7 430l2.2 2.2"/>
<path class="p8" d="M96.4 440.26h6v6h-6z"/><path class="w8" d="M97.5 442.36l2.4 2.4M98.7 441.36l2.2 2.2"/>
<path class="p8" d="M127.12 450.36h6v6h-6z"/><path class="w8" d="M128.22 452.46l2.4 2.4M129.42 451.46l2.2 2.2"/>
<path class="p8" d="M94.94 451.02h6v6h-6z"/><path class="w8" d="M96.04 453.12l2.4 2.4M97.24 452.12l2.2 2.2"/>
<path class="p8" d="M93.61 454.1h6v6h-6z"/><path class="w8" d="M94.71 456.2l2.4 2.4M95.91 455.2l2.2 2.2"/>
<path class="p8" d="M69.48 453.53h6v6h-6z"/><path class="w8" d="M70.58 455.63l2.4 2.4M71.78 454.63l2.2 2.2"/>
<path class="p8" d="M109.22 449.56h6v6h-6z"/><path class="w8" d="M110.32 451.66l2.4 2.4M111.52 450.66l2.2 2.2"/>
<path class="p8" d="M60.69 453.07h6v6h-6z"/><path class="w8" d="M61.79 455.17l2.4 2.4M62.99 454.17l2.2 2.2"/>
<path class="p8" d="M101.79 393.77h6v6h-6z"/><path class="w8" d="M102.89 395.87l2.4 2.4M104.09 394.87l2.2 2.2"/>
<path class="p8" d="M90.52 446.53h6v6h-6z"/><path class="w8" d="M91.62 448.63l2.4 2.4M92.82 447.63l2.2 2.2"/>
<path class="p8" d="M86.66 447.05h6v6h-6z"/><path class="w8" d="M87.76 449.15l2.4 2.4M88.96 448.15l2.2 2.2"/>
<path class="p8" d="M70.69 452.42h6v6h-6z"/><path class="w8" d="M71.79 454.52l2.4 2.4M72.99 453.52l2.2 2.2"/>
<path class="p8" d="M132.64 438.87h6v6h-6z"/><path class="w8" d="M133.74 440.97l2.4 2.4M134.94 439.97l2.2 2.2"/>
<path class="p8" d="M67.8 437.09h6v6h-6z"/><path class="w8" d="M68.9 439.19l2.4 2.4M70.1 438.19l2.2 2.2"/>
<path class="p8" d="M82.99 451.93h6v6h-6z"/><path class="w8" d="M84.09 454.03l2.4 2.4M85.29 453.03l2.2 2.2"/>
<path class="p8" d="M58.04 454.2h6v6h-6z"/><path class="w8" d="M59.14 456.3l2.4 2.4M60.34 455.3l2.2 2.2"/>
<path class="p8" d="M98.77 445.69h6v6h-6z"/><path class="w8" d="M99.87 447.79l2.4 2.4M101.07 446.79l2.2 2.2"/>
<path class="p8" d="M84.8 452.09h6v6h-6z"/><path class="w8" d="M85.9 454.19l2.4 2.4M87.1 453.19l2.2 2.2"/>
<path class="p8" d="M138.84 448.47h6v6h-6z"/><path class="w8" d="M139.94 450.57l2.4 2.4M141.14 449.57l2.2 2.2"/>
<path class="p8" d="M70.27 436.53h6v6h-6z"/><path class="w8" d="M71.37 438.63l2.4 2.4M72.57 437.63l2.2 2.2"/>
<path class="p8" d="M76.88 334.47h6v6h-6z"/><path class="w8" d="M77.98 336.57l2.4 2.4M79.18 335.57l2.2 2.2"/>
<path class="p8" d="M108.08 449.21h6v6h-6z"/><path class="w8" d="M109.18 451.31l2.4 2.4M110.38 450.31l2.2 2.2"/>
<path class="p8" d="M69.13 452.17h6v6h-6z"/><path class="w8" d="M70.23 454.27l2.4 2.4M71.43 453.27l2.2 2.2"/>
<path class="p8" d="M126.71 306.38h6v6h-6z"/><path class="w8" d="M127.81 308.48l2.4 2.4M129.01 307.48l2.2 2.2"/>
<path class="p8" d="M129.07 449.26h6v6h-6z"/><path class="w8" d="M130.17 451.36l2.4 2.4M131.37 450.36l2.2 2.2"/>
<path class="p8" d="M128.5 432.38h6v6h-6z"/><path class="w8" d="M129.6 434.48l2.4 2.4M130.8 433.48l2.2 2.2"/>
<path class="p8" d="M71.08 433.56h6v6h-6z"/><path class="w8" d="M72.18 435.66l2.4 2.4M73.38 434.66l2.2 2.2"/>
<path class="p8" d="M121.84 449.21h6v6h-6z"/><path class="w8" d="M122.94 451.31l2.4 2.4M124.14 450.31l2.2 2.2"/>
<path class="p8" d="M127.43 452.55h6v6h-6z"/><path class="w8" d="M128.53 454.65l2.4 2.4M129.73 453.65l2.2 2.2"/>
<path class="p8" d="M78.12 438.44h6v6h-6z"/><path class="w8" d="M79.22 440.54l2.4 2.4M80.42 439.54l2.2 2.2"/>
<path class="p8" d="M102.73 444.93h6v6h-6z"/><path class="w8" d="M103.83 447.03l2.4 2.4M105.03 446.03l2.2 2.2"/>
<path class="p8" d="M110.26 430.52h6v6h-6z"/><path class="w8" d="M111.36 432.62l2.4 2.4M112.56 431.62l2.2 2.2"/>
<path class="p8" d="M125.55 441.21h6v6h-6z"/><path class="w8" d="M126.65 443.31l2.4 2.4M127.85 442.31l2.2 2.2"/>
<path class="p8" d="M75.35 432.52h6v6h-6z"/><path class="w8" d="M76.45 434.62l2.4 2.4M77.65 433.62l2.2 2.2"/>
<path class="p8" d="M107.09 451.16h6v6h-6z"/><path class="w8" d="M108.19 453.26l2.4 2.4M109.39 452.26l2.2 2.2"/>
<path class="p8" d="M119.18 447.45h6v6h-6z"/><path class="w8" d="M120.28 449.55l2.4 2.4M121.48 448.55l2.2 2.2"/>
<path class="p8" d="M125.42 451.86h6v6h-6z"/><path class="w8" d="M126.52 453.96l2.4 2.4M127.72 452.96l2.2 2.2"/>
<path class="p8" d="M62.74 435.21h6v6h-6z"/><path class="w8" d="M63.84 437.31l2.4 2.4M65.04 436.31l2.2 2.2"/>
<path class="p8" d="M91.97 439.41h6v6h-6z"/><path class="w8" d="M93.07 441.51l2.4 2.4M94.27 440.51l2.2 2.2"/>
<path class="p8" d="M121.53 438.32h6v6h-6z"/><path class="w8" d="M122.63 440.42l2.4 2.4M123.83 439.42l2.2 2.2"/>
<path class="p8" d="M105.01 435.23h6v6h-6z"/><path class="w8" d="M106.11 437.33l2.4 2.4M107.31 436.33l2.2 2.2"/>
<path class="p8" d="M131.76 442.28h6v6h-6z"/><path class="w8" d="M132.86 444.38l2.4 2.4M134.06 443.38l2.2 2.2"/>
<path class="p8" d="M104.63 454.51h6v6h-6z"/><path class="w8" d="M105.73 456.61l2.4 2.4M106.93 455.61l2.2 2.2"/>
<path class="p8" d="M76.11 446.86h6v6h-6z"/><path class="w8" d="M77.21 448.96l2.4 2.4M78.41 447.96l2.2 2.2"/>
<path class="p8" d="M108.31 421.14h6v6h-6z"/><path class="w8" d="M109.41 423.24l2.4 2.4M110.61 422.24l2.2 2.2"/>
<path class="p8" d="M77.18 439h6v6h-6z"/><path class="w8" d="M78.28 441.1l2.4 2.4M79.48 440.1l2.2 2.2"/>
<path class="p8" d="M65.49 446.07h6v6h-6z"/><path class="w8" d="M66.59 448.17l2.4 2.4M67.79 447.17l2.2 2.2"/>
<path class="p8" d="M131 443.17h6v6h-6z"/><path class="w8" d="M132.1 445.27l2.4 2.4M133.3 444.27l2.2 2.2"/>
<path class="p8" d="M95.93 434.42h6v6h-6z"/><path class="w8" d="M97.03 436.52l2.4 2.4M98.23 435.52l2.2 2.2"/>
<path class="p8" d="M115.5 445.43h6v6h-6z"/><path class="w8" d="M116.6 447.53l2.4 2.4M117.8 446.53l2.2 2.2"/>
<path class="p8" d="M88.71 432.51h6v6h-6z"/><path class="w8" d="M89.81 434.61l2.4 2.4M91.01 433.61l2.2 2.2"/>
<path class="p8" d="M69.94 442.43h6v6h-6z"/><path class="w8" d="M71.04 444.53l2.4 2.4M72.24 443.53l2.2 2.2"/>
<path class="p8" d="M123.54 448.67h6v6h-6z"/><path class="w8" d="M124.64 450.77l2.4 2.4M125.84 449.77l2.2 2.2"/>
<path class="p8" d="M119.41 452.44h6v6h-6z"/><path class="w8" d="M120.51 454.54l2.4 2.4M121.71 453.54l2.2 2.2"/>
<path class="p8" d="M113.68 443.29h6v6h-6z"/><path class="w8" d="M114.78 445.39l2.4 2.4M115.98 444.39l2.2 2.2"/>
<path class="p8" d="M76.94 445.23h6v6h-6z"/><path class="w8" d="M78.04 447.33l2.4 2.4M79.24 446.33l2.2 2.2"/>
<path class="p8" d="M60.24 453.24h6v6h-6z"/><path class="w8" d="M61.34 455.34l2.4 2.4M62.54 454.34l2.2 2.2"/>
<path class="p8" d="M132.07 453.29h6v6h-6z"/><path class="w8" d="M133.17 455.39l2.4 2.4M134.37 454.39l2.2 2.2"/>
<path class="p8" d="M124 452.68h6v6h-6z"/><path class="w8" d="M125.1 454.78l2.4 2.4M126.3 453.78l2.2 2.2"/>
<path class="p8" d="M137.68 453.45h6v6h-6z"/><path class="w8" d="M138.78 455.55l2.4 2.4M139.98 454.55l2.2 2.2"/>
<path class="p8" d="M115.75 445.21h6v6h-6z"/><path class="w8" d="M116.85 447.31l2.4 2.4M118.05 446.31l2.2 2.2"/>
<path class="p8" d="M130.95 437.59h6v6h-6z"/><path class="w8" d="M132.05 439.69l2.4 2.4M133.25 438.69l2.2 2.2"/>
<path class="p8" d="M125.24 437.43h6v6h-6z"/><path class="w8" d="M126.34 439.53l2.4 2.4M127.54 438.53l2.2 2.2"/>
<path class="p8" d="M93.98 437.34h6v6h-6z"/><path class="w8" d="M95.08 439.44l2.4 2.4M96.28 438.44l2.2 2.2"/>
<path class="p8" d="M77.72 444.06h6v6h-6z"/><path class="w8" d="M78.82 446.16l2.4 2.4M80.02 445.16l2.2 2.2"/>
<path class="p8" d="M115.1 451.1h6v6h-6z"/><path class="w8" d="M116.2 453.2l2.4 2.4M117.4 452.2l2.2 2.2"/>
<path class="p8" d="M59.76 450.75h6v6h-6z"/><path class="w8" d="M60.86 452.85l2.4 2.4M62.06 451.85l2.2 2.2"/>
<path class="p8" d="M82.62 448.96h6v6h-6z"/><path class="w8" d="M83.72 451.06l2.4 2.4M84.92 450.06l2.2 2.2"/>
<path class="p8" d="M83.38 442.53h6v6h-6z"/><path class="w8" d="M84.48 444.63l2.4 2.4M85.68 443.63l2.2 2.2"/>
<path class="p8" d="M83.94 451.54h6v6h-6z"/><path class="w8" d="M85.04 453.64l2.4 2.4M86.24 452.64l2.2 2.2"/>
<path class="p8" d="M62.43 454.65h6v6h-6z"/><path class="w8" d="M63.53 456.75l2.4 2.4M64.73 455.75l2.2 2.2"/>
<path class="p8" d="M125.92 451.76h6v6h-6z"/><path class="w8" d="M127.02 453.86l2.4 2.4M128.22 452.86l2.2 2.2"/>
<path class="p8" d="M60.28 454.57h6v6h-6z"/><path class="w8" d="M61.38 456.67l2.4 2.4M62.58 455.67l2.2 2.2"/>
<path class="p8" d="M129.93 447.7h6v6h-6z"/><path class="w8" d="M131.03 449.8l2.4 2.4M132.23 448.8l2.2 2.2"/>
<path class="p8" d="M100.4 449.16h6v6h-6z"/><path class="w8" d="M101.5 451.26l2.4 2.4M102.7 450.26l2.2 2.2"/>
<path class="p8" d="M83.6 448.99h6v6h-6z"/><path class="w8" d="M84.7 451.09l2.4 2.4M85.9 450.09l2.2 2.2"/>
<path class="p8" d="M82.67 447.28h6v6h-6z"/><path class="w8" d="M83.77 449.38l2.4 2.4M84.97 448.38l2.2 2.2"/>
<path class="p8" d="M60.23 449.03h6v6h-6z"/><path class="w8" d="M61.33 451.13l2.4 2.4M62.53 450.13l2.2 2.2"/>
<path class="p8" d="M97.62 440.32h6v6h-6z"/><path class="w8" d="M98.72 442.42l2.4 2.4M99.92 441.42l2.2 2.2"/>
<path class="p8" d="M105.1 436.88h6v6h-6z"/><path class="w8" d="M106.2 438.98l2.4 2.4M107.4 437.98l2.2 2.2"/>
<path class="p8" d="M70.91 447.4h6v6h-6z"/><path class="w8" d="M72.01 449.5l2.4 2.4M73.21 448.5l2.2 2.2"/>
<path class="p8" d="M74.58 452.32h6v6h-6z"/><path class="w8" d="M75.68 454.42l2.4 2.4M76.88 453.42l2.2 2.2"/>
<path class="p8" d="M120.74 449.77h6v6h-6z"/><path class="w8" d="M121.84 451.87l2.4 2.4M123.04 450.87l2.2 2.2"/>
<path class="p8" d="M116.54 450.71h6v6h-6z"/><path class="w8" d="M117.64 452.81l2.4 2.4M118.84 451.81l2.2 2.2"/>
<path class="p8" d="M109.72 452.06h6v6h-6z"/><path class="w8" d="M110.82 454.16l2.4 2.4M112.02 453.16l2.2 2.2"/>
<path class="p8" d="M128.19 433.44h6v6h-6z"/><path class="w8" d="M129.29 435.54l2.4 2.4M130.49 434.54l2.2 2.2"/>
<path class="p8" d="M109.22 443.72h6v6h-6z"/><path class="w8" d="M110.32 445.82l2.4 2.4M111.52 444.82l2.2 2.2"/>
<path class="p8" d="M73.58 446.51h6v6h-6z"/><path class="w8" d="M74.68 448.61l2.4 2.4M75.88 447.61l2.2 2.2"/>
<path class="p8" d="M83.76 427.72h6v6h-6z"/><path class="w8" d="M84.86 429.82l2.4 2.4M86.06 428.82l2.2 2.2"/>
<path class="p8" d="M79.64 447.15h6v6h-6z"/><path class="w8" d="M80.74 449.25l2.4 2.4M81.94 448.25l2.2 2.2"/>
<path class="p8" d="M70.52 423.24h6v6h-6z"/><path class="w8" d="M71.62 425.34l2.4 2.4M72.82 424.34l2.2 2.2"/>
<path class="p8" d="M107.32 453.71h6v6h-6z"/><path class="w8" d="M108.42 455.81l2.4 2.4M109.62 454.81l2.2 2.2"/>
<path class="p8" d="M120.64 436.1h6v6h-6z"/><path class="w8" d="M121.74 438.2l2.4 2.4M122.94 437.2l2.2 2.2"/>
<path class="p8" d="M112.4 437.84h6v6h-6z"/><path class="w8" d="M113.5 439.94l2.4 2.4M114.7 438.94l2.2 2.2"/>
<path class="p8" d="M116.9 425.3h6v6h-6z"/><path class="w8" d="M118 427.4l2.4 2.4M119.2 426.4l2.2 2.2"/>
<path class="p8" d="M113.05 432.23h6v6h-6z"/><path class="w8" d="M114.15 434.33l2.4 2.4M115.35 433.33l2.2 2.2"/>
<path class="p8" d="M89.67 441.36h6v6h-6z"/><path class="w8" d="M90.77 443.46l2.4 2.4M91.97 442.46l2.2 2.2"/>
<path class="p8" d="M119.81 450.95h6v6h-6z"/><path class="w8" d="M120.91 453.05l2.4 2.4M122.11 452.05l2.2 2.2"/>
<path class="p8" d="M129.81 440.23h6v6h-6z"/><path class="w8" d="M130.91 442.33l2.4 2.4M132.11 441.33l2.2 2.2"/>
<path class="p8" d="M103.25 451.58h6v6h-6z"/><path class="w8" d="M104.35 453.68l2.4 2.4M105.55 452.68l2.2 2.2"/>
<path class="p8" d="M68.35 444.46h6v6h-6z"/><path class="w8" d="M69.45 446.56l2.4 2.4M70.65 445.56l2.2 2.2"/>
<path class="p8" d="M126.91 428.8h6v6h-6z"/><path class="w8" d="M128.01 430.9l2.4 2.4M129.21 429.9l2.2 2.2"/>
<path class="p8" d="M71.15 451.1h6v6h-6z"/><path class="w8" d="M72.25 453.2l2.4 2.4M73.45 452.2l2.2 2.2"/>
<path class="p8" d="M128 443.87h6v6h-6z"/><path class="w8" d="M129.1 445.97l2.4 2.4M130.3 444.97l2.2 2.2"/>
<path class="p8" d="M60.89 442.54h6v6h-6z"/><path class="w8" d="M61.99 444.64l2.4 2.4M63.19 443.64l2.2 2.2"/>
<path class="p8" d="M124.6 450.87h6v6h-6z"/><path class="w8" d="M125.7 452.97l2.4 2.4M126.9 451.97l2.2 2.2"/>
<path class="p8" d="M82.58 438.87h6v6h-6z"/><path class="w8" d="M83.68 440.97l2.4 2.4M84.88 439.97l2.2 2.2"/>
<path class="p8" d="M94.76 448.29h6v6h-6z"/><path class="w8" d="M95.86 450.39l2.4 2.4M97.06 449.39l2.2 2.2"/>
<path class="p8" d="M136.84 452.45h6v6h-6z"/><path class="w8" d="M137.94 454.55l2.4 2.4M139.14 453.55l2.2 2.2"/>
<path class="p8" d="M87.78 452.75h6v6h-6z"/><path class="w8" d="M88.88 454.85l2.4 2.4M90.08 453.85l2.2 2.2"/>
<path class="p8" d="M128.88 449.47h6v6h-6z"/><path class="w8" d="M129.98 451.57l2.4 2.4M131.18 450.57l2.2 2.2"/>
<path class="p8" d="M77.18 440.63h6v6h-6z"/><path class="w8" d="M78.28 442.73l2.4 2.4M79.48 441.73l2.2 2.2"/>
<path class="p8" d="M121.18 440.45h6v6h-6z"/><path class="w8" d="M122.28 442.55l2.4 2.4M123.48 441.55l2.2 2.2"/>
<path class="p8" d="M130.7 444.16h6v6h-6z"/><path class="w8" d="M131.8 446.26l2.4 2.4M133 445.26l2.2 2.2"/>
<path class="p8" d="M138.58 443.54h6v6h-6z"/><path class="w8" d="M139.68 445.64l2.4 2.4M140.88 444.64l2.2 2.2"/>
<path class="p8" d="M65.45 427.85h6v6h-6z"/><path class="w8" d="M66.55 429.95l2.4 2.4M67.75 428.95l2.2 2.2"/>
<path class="p8" d="M99.03 446.07h6v6h-6z"/><path class="w8" d="M100.13 448.17l2.4 2.4M101.33 447.17l2.2 2.2"/>
<path class="p8" d="M125.34 453.44h6v6h-6z"/><path class="w8" d="M126.44 455.54l2.4 2.4M127.64 454.54l2.2 2.2"/>
<path class="p8" d="M70.79 441.05h6v6h-6z"/><path class="w8" d="M71.89 443.15l2.4 2.4M73.09 442.15l2.2 2.2"/>
<path class="p8" d="M91.27 443.57h6v6h-6z"/><path class="w8" d="M92.37 445.67l2.4 2.4M93.57 444.67l2.2 2.2"/>
<path class="p8" d="M80.02 440.82h6v6h-6z"/><path class="w8" d="M81.12 442.92l2.4 2.4M82.32 441.92l2.2 2.2"/>
<path class="p8" d="M132.46 447.02h6v6h-6z"/><path class="w8" d="M133.56 449.12l2.4 2.4M134.76 448.12l2.2 2.2"/>
<path class="p8" d="M131.55 447.55h6v6h-6z"/><path class="w8" d="M132.65 449.65l2.4 2.4M133.85 448.65l2.2 2.2"/>
<path class="p8" d="M73.79 446.81h6v6h-6z"/><path class="w8" d="M74.89 448.91l2.4 2.4M76.09 447.91l2.2 2.2"/>
<path class="p8" d="M66.84 449.3h6v6h-6z"/><path class="w8" d="M67.94 451.4l2.4 2.4M69.14 450.4l2.2 2.2"/>
<path class="p8" d="M88.04 437.94h6v6h-6z"/><path class="w8" d="M89.14 440.04l2.4 2.4M90.34 439.04l2.2 2.2"/>
<path class="p8" d="M136.28 453.15h6v6h-6z"/><path class="w8" d="M137.38 455.25l2.4 2.4M138.58 454.25l2.2 2.2"/>
<path class="p8" d="M91.21 449.81h6v6h-6z"/><path class="w8" d="M92.31 451.91l2.4 2.4M93.51 450.91l2.2 2.2"/>
<path class="p8" d="M136.38 435.69h6v6h-6z"/><path class="w8" d="M137.48 437.79l2.4 2.4M138.68 436.79l2.2 2.2"/>
<path class="p8" d="M68.85 452.82h6v6h-6z"/><path class="w8" d="M69.95 454.92l2.4 2.4M71.15 453.92l2.2 2.2"/>
<path class="p8" d="M65.5 448.17h6v6h-6z"/><path class="w8" d="M66.6 450.27l2.4 2.4M67.8 449.27l2.2 2.2"/>
<path class="p8" d="M55.87 438.9h6v6h-6z"/><path class="w8" d="M56.97 441l2.4 2.4M58.17 440l2.2 2.2"/>
<path class="p8" d="M103.64 445.34h6v6h-6z"/><path class="w8" d="M104.74 447.44l2.4 2.4M105.94 446.44l2.2 2.2"/>
<path class="p8" d="M83.13 446.51h6v6h-6z"/><path class="w8" d="M84.23 448.61l2.4 2.4M85.43 447.61l2.2 2.2"/>
<path class="p8" d="M111.53 415.2h6v6h-6z"/><path class="w8" d="M112.63 417.3l2.4 2.4M113.83 416.3l2.2 2.2"/>
<path class="p8" d="M66.8 447.62h6v6h-6z"/><path class="w8" d="M67.9 449.72l2.4 2.4M69.1 448.72l2.2 2.2"/>
<path class="p8" d="M84.78 441.51h6v6h-6z"/><path class="w8" d="M85.88 443.61l2.4 2.4M87.08 442.61l2.2 2.2"/>
<path class="p8" d="M112.38 451.28h6v6h-6z"/><path class="w8" d="M113.48 453.38l2.4 2.4M114.68 452.38l2.2 2.2"/>
<path class="p8" d="M134.37 431.12h6v6h-6z"/><path class="w8" d="M135.47 433.22l2.4 2.4M136.67 432.22l2.2 2.2"/>
<path class="p8" d="M129.92 448.34h6v6h-6z"/><path class="w8" d="M131.02 450.44l2.4 2.4M132.22 449.44l2.2 2.2"/>
<path class="p8" d="M137.09 446.68h6v6h-6z"/><path class="w8" d="M138.19 448.78l2.4 2.4M139.39 447.78l2.2 2.2"/>
<path class="p8" d="M118.98 450.65h6v6h-6z"/><path class="w8" d="M120.08 452.75l2.4 2.4M121.28 451.75l2.2 2.2"/>
<path class="p8" d="M88.3 441.84h6v6h-6z"/><path class="w8" d="M89.4 443.94l2.4 2.4M90.6 442.94l2.2 2.2"/>
<path class="p8" d="M88.62 435.67h6v6h-6z"/><path class="w8" d="M89.72 437.77l2.4 2.4M90.92 436.77l2.2 2.2"/>
<path class="p8" d="M69.69 437.6h6v6h-6z"/><path class="w8" d="M70.79 439.7l2.4 2.4M71.99 438.7l2.2 2.2"/>
<path class="p8" d="M87.29 438.16h6v6h-6z"/><path class="w8" d="M88.39 440.26l2.4 2.4M89.59 439.26l2.2 2.2"/>
<path class="p8" d="M83.19 431.9h6v6h-6z"/><path class="w8" d="M84.29 434l2.4 2.4M85.49 433l2.2 2.2"/>
<path class="p8" d="M95.01 434.25h6v6h-6z"/><path class="w8" d="M96.11 436.35l2.4 2.4M97.31 435.35l2.2 2.2"/>
<path class="p8" d="M95.98 439.81h6v6h-6z"/><path class="w8" d="M97.08 441.91l2.4 2.4M98.28 440.91l2.2 2.2"/>
<path class="p8" d="M102.63 453.1h6v6h-6z"/><path class="w8" d="M103.73 455.2l2.4 2.4M104.93 454.2l2.2 2.2"/>
<path class="p8" d="M130.1 444.2h6v6h-6z"/><path class="w8" d="M131.2 446.3l2.4 2.4M132.4 445.3l2.2 2.2"/>
<path class="p8" d="M95.87 419.56h6v6h-6z"/><path class="w8" d="M96.97 421.66l2.4 2.4M98.17 420.66l2.2 2.2"/>
<path class="p8" d="M108.73 453.38h6v6h-6z"/><path class="w8" d="M109.83 455.48l2.4 2.4M111.03 454.48l2.2 2.2"/>
<path class="p8" d="M72 445.32h6v6h-6z"/><path class="w8" d="M73.1 447.42l2.4 2.4M74.3 446.42l2.2 2.2"/>
<path class="p8" d="M105.89 432.27h6v6h-6z"/><path class="w8" d="M106.99 434.37l2.4 2.4M108.19 433.37l2.2 2.2"/>
<path class="p8" d="M93.95 445.57h6v6h-6z"/><path class="w8" d="M95.05 447.67l2.4 2.4M96.25 446.67l2.2 2.2"/>
<path class="p8" d="M60.3 454.48h6v6h-6z"/><path class="w8" d="M61.4 456.58l2.4 2.4M62.6 455.58l2.2 2.2"/>
<path class="p8" d="M137.95 411.38h6v6h-6z"/><path class="w8" d="M139.05 413.48l2.4 2.4M140.25 412.48l2.2 2.2"/>
<path class="p8" d="M76.01 447.91h6v6h-6z"/><path class="w8" d="M77.11 450.01l2.4 2.4M78.31 449.01l2.2 2.2"/>
<path class="p8" d="M126.71 443.97h6v6h-6z"/><path class="w8" d="M127.81 446.07l2.4 2.4M129.01 445.07l2.2 2.2"/>
<path class="p8" d="M66.93 454.42h6v6h-6z"/><path class="w8" d="M68.03 456.52l2.4 2.4M69.23 455.52l2.2 2.2"/>
<path class="p8" d="M89.3 449.85h6v6h-6z"/><path class="w8" d="M90.4 451.95l2.4 2.4M91.6 450.95l2.2 2.2"/>
<path class="p8" d="M119.02 451.7h6v6h-6z"/><path class="w8" d="M120.12 453.8l2.4 2.4M121.32 452.8l2.2 2.2"/>
<path class="p8" d="M83.02 448.96h6v6h-6z"/><path class="w8" d="M84.12 451.06l2.4 2.4M85.32 450.06l2.2 2.2"/>
<path class="p8" d="M79.36 453.13h6v6h-6z"/><path class="w8" d="M80.46 455.23l2.4 2.4M81.66 454.23l2.2 2.2"/>
<path class="p8" d="M68.78 449.76h6v6h-6z"/><path class="w8" d="M69.88 451.86l2.4 2.4M71.08 450.86l2.2 2.2"/>
<path class="p8" d="M123.91 449.48h6v6h-6z"/><path class="w8" d="M125.01 451.58l2.4 2.4M126.21 450.58l2.2 2.2"/>
<path class="p8" d="M117.14 446.6h6v6h-6z"/><path class="w8" d="M118.24 448.7l2.4 2.4M119.44 447.7l2.2 2.2"/>
<path class="p8" d="M92.19 438.11h6v6h-6z"/><path class="w8" d="M93.29 440.21l2.4 2.4M94.49 439.21l2.2 2.2"/>
<path class="p8" d="M133.52 444.86h6v6h-6z"/><path class="w8" d="M134.62 446.96l2.4 2.4M135.82 445.96l2.2 2.2"/>
<path class="p8" d="M72.92 449.04h6v6h-6z"/><path class="w8" d="M74.02 451.14l2.4 2.4M75.22 450.14l2.2 2.2"/>
<path class="p8" d="M88.4 448.95h6v6h-6z"/><path class="w8" d="M89.5 451.05l2.4 2.4M90.7 450.05l2.2 2.2"/>
<path class="p8" d="M133.08 454.68h6v6h-6z"/><path class="w8" d="M134.18 456.78l2.4 2.4M135.38 455.78l2.2 2.2"/>
<path class="p8" d="M109.93 453.57h6v6h-6z"/><path class="w8" d="M111.03 455.67l2.4 2.4M112.23 454.67l2.2 2.2"/>
<path class="p8" d="M106.26 450.51h6v6h-6z"/><path class="w8" d="M107.36 452.61l2.4 2.4M108.56 451.61l2.2 2.2"/>
<path class="p8" d="M88.44 431.12h6v6h-6z"/><path class="w8" d="M89.54 433.22l2.4 2.4M90.74 432.22l2.2 2.2"/>
<path class="p8" d="M129.45 438.08h6v6h-6z"/><path class="w8" d="M130.55 440.18l2.4 2.4M131.75 439.18l2.2 2.2"/>
<path class="p8" d="M58.74 449.59h6v6h-6z"/><path class="w8" d="M59.84 451.69l2.4 2.4M61.04 450.69l2.2 2.2"/>
<path class="p8" d="M79.61 448.57h6v6h-6z"/><path class="w8" d="M80.71 450.67l2.4 2.4M81.91 449.67l2.2 2.2"/>
<path class="p8" d="M111.98 447.08h6v6h-6z"/><path class="w8" d="M113.08 449.18l2.4 2.4M114.28 448.18l2.2 2.2"/>
<path class="p8" d="M79.76 427.48h6v6h-6z"/><path class="w8" d="M80.86 429.58l2.4 2.4M82.06 428.58l2.2 2.2"/>
<path class="p8" d="M63.32 433.4h6v6h-6z"/><path class="w8" d="M64.42 435.5l2.4 2.4M65.62 434.5l2.2 2.2"/>
<path class="p8" d="M125.51 454.14h6v6h-6z"/><path class="w8" d="M126.61 456.24l2.4 2.4M127.81 455.24l2.2 2.2"/>
<path class="p8" d="M60.77 450.95h6v6h-6z"/><path class="w8" d="M61.87 453.05l2.4 2.4M63.07 452.05l2.2 2.2"/>
<path class="p8" d="M98.05 432.33h6v6h-6z"/><path class="w8" d="M99.15 434.43l2.4 2.4M100.35 433.43l2.2 2.2"/>
<path class="p8" d="M119.78 444.75h6v6h-6z"/><path class="w8" d="M120.88 446.85l2.4 2.4M122.08 445.85l2.2 2.2"/>
<path class="p8" d="M88 446.74h6v6h-6z"/><path class="w8" d="M89.1 448.84l2.4 2.4M90.3 447.84l2.2 2.2"/>
<path class="p8" d="M133.18 451.1h6v6h-6z"/><path class="w8" d="M134.28 453.2l2.4 2.4M135.48 452.2l2.2 2.2"/>
<path class="p8" d="M127.95 450.19h6v6h-6z"/><path class="w8" d="M129.05 452.29l2.4 2.4M130.25 451.29l2.2 2.2"/>
<path class="p8" d="M68.63 452.26h6v6h-6z"/><path class="w8" d="M69.73 454.36l2.4 2.4M70.93 453.36l2.2 2.2"/>
<path class="p8" d="M107.44 447.93h6v6h-6z"/><path class="w8" d="M108.54 450.03l2.4 2.4M109.74 449.03l2.2 2.2"/>
<path class="p8" d="M57.88 440.01h6v6h-6z"/><path class="w8" d="M58.98 442.11l2.4 2.4M60.18 441.11l2.2 2.2"/>
<path class="p8" d="M113.03 361.88h6v6h-6z"/><path class="w8" d="M114.13 363.98l2.4 2.4M115.33 362.98l2.2 2.2"/>
<path class="p8" d="M60.82 449.86h6v6h-6z"/><path class="w8" d="M61.92 451.96l2.4 2.4M63.12 450.96l2.2 2.2"/>
<path class="p8" d="M60.05 445.94h6v6h-6z"/><path class="w8" d="M61.15 448.04l2.4 2.4M62.35 447.04l2.2 2.2"/>
<path class="p8" d="M113.53 444.49h6v6h-6z"/><path class="w8" d="M114.63 446.59l2.4 2.4M115.83 445.59l2.2 2.2"/>
<path class="p8" d="M124.08 443.82h6v6h-6z"/><path class="w8" d="M125.18 445.92l2.4 2.4M126.38 444.92l2.2 2.2"/>
<path class="p8" d="M119.73 451.4h6v6h-6z"/><path class="w8" d="M120.83 453.5l2.4 2.4M122.03 452.5l2.2 2.2"/>
<path class="p8" d="M86.43 453.21h6v6h-6z"/><path class="w8" d="M87.53 455.31l2.4 2.4M88.73 454.31l2.2 2.2"/>
<path class="p8" d="M93.69 442.01h6v6h-6z"/><path class="w8" d="M94.79 444.11l2.4 2.4M95.99 443.11l2.2 2.2"/>
<path class="p8" d="M115.98 431.55h6v6h-6z"/><path class="w8" d="M117.08 433.65l2.4 2.4M118.28 432.65l2.2 2.2"/>
<path class="p8" d="M71.3 450.77h6v6h-6z"/><path class="w8" d="M72.4 452.87l2.4 2.4M73.6 451.87l2.2 2.2"/>
<path class="p8" d="M123.2 434.29h6v6h-6z"/><path class="w8" d="M124.3 436.39l2.4 2.4M125.5 435.39l2.2 2.2"/>
<path class="p8" d="M109.79 452.38h6v6h-6z"/><path class="w8" d="M110.89 454.48l2.4 2.4M112.09 453.48l2.2 2.2"/>
<path class="p8" d="M85.29 449.24h6v6h-6z"/><path class="w8" d="M86.39 451.34l2.4 2.4M87.59 450.34l2.2 2.2"/>
<path class="p8" d="M80.38 452.16h6v6h-6z"/><path class="w8" d="M81.48 454.26l2.4 2.4M82.68 453.26l2.2 2.2"/>
<path class="p8" d="M71.79 453.59h6v6h-6z"/><path class="w8" d="M72.89 455.69l2.4 2.4M74.09 454.69l2.2 2.2"/>
<path class="p8" d="M60.5 450.48h6v6h-6z"/><path class="w8" d="M61.6 452.58l2.4 2.4M62.8 451.58l2.2 2.2"/>
<path class="p8" d="M93.05 442.64h6v6h-6z"/><path class="w8" d="M94.15 444.74l2.4 2.4M95.35 443.74l2.2 2.2"/>
<path class="p8" d="M134.23 446h6v6h-6z"/><path class="w8" d="M135.33 448.1l2.4 2.4M136.53 447.1l2.2 2.2"/>
<path class="p8" d="M123.01 442.12h6v6h-6z"/><path class="w8" d="M124.11 444.22l2.4 2.4M125.31 443.22l2.2 2.2"/>
<path class="p8" d="M137.75 449.32h6v6h-6z"/><path class="w8" d="M138.85 451.42l2.4 2.4M140.05 450.42l2.2 2.2"/>
<path class="p8" d="M89.28 432.96h6v6h-6z"/><path class="w8" d="M90.38 435.06l2.4 2.4M91.58 434.06l2.2 2.2"/>
<path class="p8" d="M108.39 436.54h6v6h-6z"/><path class="w8" d="M109.49 438.64l2.4 2.4M110.69 437.64l2.2 2.2"/>
<path class="p8" d="M131.12 450.17h6v6h-6z"/><path class="w8" d="M132.22 452.27l2.4 2.4M133.42 451.27l2.2 2.2"/>
<path class="p8" d="M68.77 453.04h6v6h-6z"/><path class="w8" d="M69.87 455.14l2.4 2.4M71.07 454.14l2.2 2.2"/>
<path class="p8" d="M124.39 425.17h6v6h-6z"/><path class="w8" d="M125.49 427.27l2.4 2.4M126.69 426.27l2.2 2.2"/>
<path class="p8" d="M81.24 437.87h6v6h-6z"/><path class="w8" d="M82.34 439.97l2.4 2.4M83.54 438.97l2.2 2.2"/>
<path class="p8" d="M89.09 374.89h6v6h-6z"/><path class="w8" d="M90.19 376.99l2.4 2.4M91.39 375.99l2.2 2.2"/>
<path class="p8" d="M94.66 452.12h6v6h-6z"/><path class="w8" d="M95.76 454.22l2.4 2.4M96.96 453.22l2.2 2.2"/>
<path class="p8" d="M106.68 441.13h6v6h-6z"/><path class="w8" d="M107.78 443.23l2.4 2.4M108.98 442.23l2.2 2.2"/>
<path class="p8" d="M101.45 454.07h6v6h-6z"/><path class="w8" d="M102.55 456.17l2.4 2.4M103.75 455.17l2.2 2.2"/>
<path class="p8" d="M94.63 441.14h6v6h-6z"/><path class="w8" d="M95.73 443.24l2.4 2.4M96.93 442.24l2.2 2.2"/>
<path class="p8" d="M88.79 452.95h6v6h-6z"/><path class="w8" d="M89.89 455.05l2.4 2.4M91.09 454.05l2.2 2.2"/>
<path class="p8" d="M125.73 442.48h6v6h-6z"/><path class="w8" d="M126.83 444.58l2.4 2.4M128.03 443.58l2.2 2.2"/>
<path class="p8" d="M108.98 444.88h6v6h-6z"/><path class="w8" d="M110.08 446.98l2.4 2.4M111.28 445.98l2.2 2.2"/>
<path class="p8" d="M82.16 431.51h6v6h-6z"/><path class="w8" d="M83.26 433.61l2.4 2.4M84.46 432.61l2.2 2.2"/>
<path class="p8" d="M72.59 440.68h6v6h-6z"/><path class="w8" d="M73.69 442.78l2.4 2.4M74.89 441.78l2.2 2.2"/>
<path class="p8" d="M75.76 424.55h6v6h-6z"/><path class="w8" d="M76.86 426.65l2.4 2.4M78.06 425.65l2.2 2.2"/>
<path class="p8" d="M92.62 451.33h6v6h-6z"/><path class="w8" d="M93.72 453.43l2.4 2.4M94.92 452.43l2.2 2.2"/>
<path class="p8" d="M111.37 442.45h6v6h-6z"/><path class="w8" d="M112.47 444.55l2.4 2.4M113.67 443.55l2.2 2.2"/>
<path class="p8" d="M136.73 445.92h6v6h-6z"/><path class="w8" d="M137.83 448.02l2.4 2.4M139.03 447.02l2.2 2.2"/>
<path class="p8" d="M103.27 436.5h6v6h-6z"/><path class="w8" d="M104.37 438.6l2.4 2.4M105.57 437.6l2.2 2.2"/>
<path class="p8" d="M112.94 441.84h6v6h-6z"/><path class="w8" d="M114.04 443.94l2.4 2.4M115.24 442.94l2.2 2.2"/>
<path class="p8" d="M96.38 430.5h6v6h-6z"/><path class="w8" d="M97.48 432.6l2.4 2.4M98.68 431.6l2.2 2.2"/>
<path class="p8" d="M104.32 449.48h6v6h-6z"/><path class="w8" d="M105.42 451.58l2.4 2.4M106.62 450.58l2.2 2.2"/>
<path class="p8" d="M96 432.11h6v6h-6z"/><path class="w8" d="M97.1 434.21l2.4 2.4M98.3 433.21l2.2 2.2"/>
<path class="p8" d="M104.2 443.98h6v6h-6z"/><path class="w8" d="M105.3 446.08l2.4 2.4M106.5 445.08l2.2 2.2"/>
<path class="p8" d="M87.92 442.47h6v6h-6z"/><path class="w8" d="M89.02 444.57l2.4 2.4M90.22 443.57l2.2 2.2"/>
<path class="p8" d="M75 447.43h6v6h-6z"/><path class="w8" d="M76.1 449.53l2.4 2.4M77.3 448.53l2.2 2.2"/>
<path class="p8" d="M85.9 446.33h6v6h-6z"/><path class="w8" d="M87 448.43l2.4 2.4M88.2 447.43l2.2 2.2"/>
<path class="p8" d="M135.4 441.59h6v6h-6z"/><path class="w8" d="M136.5 443.69l2.4 2.4M137.7 442.69l2.2 2.2"/>
<path class="p8" d="M102.17 438.41h6v6h-6z"/><path class="w8" d="M103.27 440.51l2.4 2.4M104.47 439.51l2.2 2.2"/>
<path class="p8" d="M73.23 432.7h6v6h-6z"/><path class="w8" d="M74.33 434.8l2.4 2.4M75.53 433.8l2.2 2.2"/>
<path class="p8" d="M89.29 448.14h6v6h-6z"/><path class="w8" d="M90.39 450.24l2.4 2.4M91.59 449.24l2.2 2.2"/>
<path class="p8" d="M109.05 440.41h6v6h-6z"/><path class="w8" d="M110.15 442.51l2.4 2.4M111.35 441.51l2.2 2.2"/>
<path class="p8" d="M107.71 448.28h6v6h-6z"/><path class="w8" d="M108.81 450.38l2.4 2.4M110.01 449.38l2.2 2.2"/>
<path class="p8" d="M68.27 451.87h6v6h-6z"/><path class="w8" d="M69.37 453.97l2.4 2.4M70.57 452.97l2.2 2.2"/>
<path class="p8" d="M136.95 448.69h6v6h-6z"/><path class="w8" d="M138.05 450.79l2.4 2.4M139.25 449.79l2.2 2.2"/>
<path class="p8" d="M82.45 442.32h6v6h-6z"/><path class="w8" d="M83.55 444.42l2.4 2.4M84.75 443.42l2.2 2.2"/>
<path class="p8" d="M100.44 448.89h6v6h-6z"/><path class="w8" d="M101.54 450.99l2.4 2.4M102.74 449.99l2.2 2.2"/>
<path class="p8" d="M67.8 448.41h6v6h-6z"/><path class="w8" d="M68.9 450.51l2.4 2.4M70.1 449.51l2.2 2.2"/>
<path class="p8" d="M70.86 451.7h6v6h-6z"/><path class="w8" d="M71.96 453.8l2.4 2.4M73.16 452.8l2.2 2.2"/>
<path class="p8" d="M88.37 444.96h6v6h-6z"/><path class="w8" d="M89.47 447.06l2.4 2.4M90.67 446.06l2.2 2.2"/>
<path class="p8" d="M84.06 440.02h6v6h-6z"/><path class="w8" d="M85.16 442.12l2.4 2.4M86.36 441.12l2.2 2.2"/>
<path class="p8" d="M127.99 436.61h6v6h-6z"/><path class="w8" d="M129.09 438.71l2.4 2.4M130.29 437.71l2.2 2.2"/>
<path class="p8" d="M134.44 447.94h6v6h-6z"/><path class="w8" d="M135.54 450.04l2.4 2.4M136.74 449.04l2.2 2.2"/>
<path class="p8" d="M99.68 439.57h6v6h-6z"/><path class="w8" d="M100.78 441.67l2.4 2.4M101.98 440.67l2.2 2.2"/>
<path d="M177.32 445.03l3.4 6.2h-6.8ZM154.64 441.37l3.4 6.2h-6.8ZM157.96 439.96l3.4 6.2h-6.8ZM176.75 448.85l3.4 6.2h-6.8ZM173.26 450.88l3.4 6.2h-6.8ZM160.96 446.18l3.4 6.2h-6.8ZM171.9 441.12l3.4 6.2h-6.8ZM170.55 443.86l3.4 6.2h-6.8ZM174.26 443.41l3.4 6.2h-6.8ZM151.47 448.54l3.4 6.2h-6.8ZM145.53 452.41l3.4 6.2h-6.8ZM168.32 450.05l3.4 6.2h-6.8ZM161.23 447.47l3.4 6.2h-6.8ZM166.5 449.69l3.4 6.2h-6.8ZM176.96 446.8l3.4 6.2h-6.8ZM176.54 448.03l3.4 6.2h-6.8ZM159.86 446.38l3.4 6.2h-6.8ZM170.48 448.28l3.4 6.2h-6.8ZM167.88 449.8l3.4 6.2h-6.8ZM150.63 438.73l3.4 6.2h-6.8ZM159.3 440.77l3.4 6.2h-6.8ZM166.68 445.05l3.4 6.2h-6.8ZM171.79 447.13l3.4 6.2h-6.8ZM161.64 446.48l3.4 6.2h-6.8ZM173.06 446.5l3.4 6.2h-6.8ZM161.41 447.09l3.4 6.2h-6.8ZM158.24 437.99l3.4 6.2h-6.8ZM170.51 443.46l3.4 6.2h-6.8ZM148.1 451.41l3.4 6.2h-6.8ZM164.47 444.54l3.4 6.2h-6.8ZM162.38 444.87l3.4 6.2h-6.8ZM157.72 438.75l3.4 6.2h-6.8ZM151.37 439.36l3.4 6.2h-6.8ZM167.38 445.86l3.4 6.2h-6.8ZM162.51 440.57l3.4 6.2h-6.8ZM153.94 442.17l3.4 6.2h-6.8ZM158.11 439.91l3.4 6.2h-6.8ZM157.43 447.64l3.4 6.2h-6.8ZM173.62 439.07l3.4 6.2h-6.8ZM159.72 445.16l3.4 6.2h-6.8ZM173.91 442.57l3.4 6.2h-6.8ZM148.87 443.83l3.4 6.2h-6.8ZM166.04 446.45l3.4 6.2h-6.8ZM175.22 440.51l3.4 6.2h-6.8ZM164.4 442.24l3.4 6.2h-6.8ZM157.33 449.89l3.4 6.2h-6.8ZM150.1 452.18l3.4 6.2h-6.8ZM162.79 450.18l3.4 6.2h-6.8ZM145.55 450.36l3.4 6.2h-6.8ZM175.89 440.63l3.4 6.2h-6.8ZM146.64 440.01l3.4 6.2h-6.8ZM176.28 446.77l3.4 6.2h-6.8ZM163.99 448.85l3.4 6.2h-6.8ZM172.28 437.8l3.4 6.2h-6.8ZM148.36 440.96l3.4 6.2h-6.8ZM153.32 453.44l3.4 6.2h-6.8ZM152.37 445.04l3.4 6.2h-6.8ZM165.97 452.22l3.4 6.2h-6.8ZM177.4 448.37l3.4 6.2h-6.8ZM165.96 451.68l3.4 6.2h-6.8ZM152.1 444.53l3.4 6.2h-6.8ZM171.16 447.28l3.4 6.2h-6.8ZM164.43 440.41l3.4 6.2h-6.8ZM154.5 445.8l3.4 6.2h-6.8ZM166.86 444.87l3.4 6.2h-6.8ZM176.48 445.57l3.4 6.2h-6.8ZM175.33 439.13l3.4 6.2h-6.8ZM159.24 439.9l3.4 6.2h-6.8ZM168.6 453.47l3.4 6.2h-6.8ZM156.02 447.19l3.4 6.2h-6.8ZM176.29 446.52l3.4 6.2h-6.8ZM157.44 439.19l3.4 6.2h-6.8ZM176.39 444.29l3.4 6.2h-6.8ZM162.79 449.64l3.4 6.2h-6.8ZM161.38 440.67l3.4 6.2h-6.8ZM151.18 438.7l3.4 6.2h-6.8ZM165.6 445.38l3.4 6.2h-6.8ZM159.1 448.26l3.4 6.2h-6.8ZM172.73 444.96l3.4 6.2h-6.8ZM167.44 450.51l3.4 6.2h-6.8ZM177.53 452.33l3.4 6.2h-6.8ZM161.76 446.82l3.4 6.2h-6.8ZM160.85 445.76l3.4 6.2h-6.8ZM154.31 445.78l3.4 6.2h-6.8ZM146.4 444.1l3.4 6.2h-6.8ZM169.13 447.91l3.4 6.2h-6.8ZM163.91 441.16l3.4 6.2h-6.8ZM153.78 439.3l3.4 6.2h-6.8ZM162.2 448.57l3.4 6.2h-6.8ZM156.78 442.72l3.4 6.2h-6.8ZM153.12 450.61l3.4 6.2h-6.8ZM146.65 438.04l3.4 6.2h-6.8ZM162.97 443.72l3.4 6.2h-6.8ZM145.72 439.01l3.4 6.2h-6.8ZM158.45 442.73l3.4 6.2h-6.8ZM157.15 444.03l3.4 6.2h-6.8ZM157.81 443.29l3.4 6.2h-6.8ZM171.26 444.79l3.4 6.2h-6.8ZM159.23 447.75l3.4 6.2h-6.8ZM151.87 451.08l3.4 6.2h-6.8ZM169.98 447.74l3.4 6.2h-6.8ZM174.87 444.5l3.4 6.2h-6.8ZM159.18 439.8l3.4 6.2h-6.8ZM145.42 446.76l3.4 6.2h-6.8ZM168.68 440.47l3.4 6.2h-6.8ZM161.53 444.03l3.4 6.2h-6.8ZM177.65 443.62l3.4 6.2h-6.8ZM172.23 447.91l3.4 6.2h-6.8ZM161.9 448.24l3.4 6.2h-6.8ZM154.94 453.71l3.4 6.2h-6.8ZM148.56 448.77l3.4 6.2h-6.8ZM148.48 451.42l3.4 6.2h-6.8ZM158.03 441.98l3.4 6.2h-6.8ZM152.74 440.21l3.4 6.2h-6.8ZM162.04 445.56l3.4 6.2h-6.8ZM173.56 448.88l3.4 6.2h-6.8ZM166.23 453.19l3.4 6.2h-6.8ZM151.93 453.08l3.4 6.2h-6.8ZM161.86 447.75l3.4 6.2h-6.8ZM153.16 445.19l3.4 6.2h-6.8ZM172.46 451.72l3.4 6.2h-6.8ZM148.37 446.24l3.4 6.2h-6.8ZM161.85 446.4l3.4 6.2h-6.8ZM170.08 439.2l3.4 6.2h-6.8ZM174.7 442.14l3.4 6.2h-6.8ZM165.91 441.76l3.4 6.2h-6.8ZM168.72 443.38l3.4 6.2h-6.8ZM163.23 447.63l3.4 6.2h-6.8ZM161.32 452.85l3.4 6.2h-6.8ZM149.66 448.33l3.4 6.2h-6.8ZM168.46 450.03l3.4 6.2h-6.8ZM155.21 440.23l3.4 6.2h-6.8ZM168.21 449.47l3.4 6.2h-6.8ZM155.03 450.03l3.4 6.2h-6.8ZM167.32 453.16l3.4 6.2h-6.8ZM147.04 453.85l3.4 6.2h-6.8ZM175.23 444.16l3.4 6.2h-6.8ZM146.78 451.01l3.4 6.2h-6.8ZM155.85 442.44l3.4 6.2h-6.8ZM145.62 448.66l3.4 6.2h-6.8ZM152.11 452.44l3.4 6.2h-6.8ZM171.85 441.02l3.4 6.2h-6.8ZM156.77 443.81l3.4 6.2h-6.8ZM155.42 452.22l3.4 6.2h-6.8ZM169.6 443.08l3.4 6.2h-6.8ZM149.06 442.42l3.4 6.2h-6.8ZM154.16 451.77l3.4 6.2h-6.8ZM153.69 451.78l3.4 6.2h-6.8ZM157.18 448.79l3.4 6.2h-6.8ZM166.74 453.53l3.4 6.2h-6.8ZM174.14 439.42l3.4 6.2h-6.8ZM166.57 441.81l3.4 6.2h-6.8ZM165.22 449.44l3.4 6.2h-6.8ZM169.32 441.01l3.4 6.2h-6.8ZM152.8 447.59l3.4 6.2h-6.8ZM174.79 451.43l3.4 6.2h-6.8ZM159.3 445.13l3.4 6.2h-6.8ZM147.03 441.62l3.4 6.2h-6.8ZM151.06 447.47l3.4 6.2h-6.8ZM157.57 448.91l3.4 6.2h-6.8ZM167.35 443.73l3.4 6.2h-6.8ZM160.96 443.95l3.4 6.2h-6.8ZM165.76 445.22l3.4 6.2h-6.8ZM165.03 442.14l3.4 6.2h-6.8ZM146.72 452.8l3.4 6.2h-6.8ZM152.7 448.06l3.4 6.2h-6.8ZM147.23 440.22l3.4 6.2h-6.8ZM154.36 449.64l3.4 6.2h-6.8ZM148.15 440.65l3.4 6.2h-6.8ZM162 440.68l3.4 6.2h-6.8ZM163.74 454.08l3.4 6.2h-6.8ZM161.03 440.63l3.4 6.2h-6.8ZM150.86 442.12l3.4 6.2h-6.8ZM167.63 446.55l3.4 6.2h-6.8ZM171.35 441l3.4 6.2h-6.8ZM172.41 449.37l3.4 6.2h-6.8ZM171.77 447.89l3.4 6.2h-6.8ZM163.65 440.68l3.4 6.2h-6.8ZM161.54 448.75l3.4 6.2h-6.8ZM147.11 449.27l3.4 6.2h-6.8ZM174.79 453.71l3.4 6.2h-6.8ZM163.67 440.46l3.4 6.2h-6.8ZM171.52 445.36l3.4 6.2h-6.8ZM149.77 445.55l3.4 6.2h-6.8ZM160.54 445.06l3.4 6.2h-6.8ZM177.94 449.37l3.4 6.2h-6.8ZM155.24 449.11l3.4 6.2h-6.8ZM170.61 439.49l3.4 6.2h-6.8ZM149.85 438.57l3.4 6.2h-6.8ZM163 450.34l3.4 6.2h-6.8ZM162.49 443.2l3.4 6.2h-6.8ZM171.77 444.35l3.4 6.2h-6.8ZM157.43 448.54l3.4 6.2h-6.8ZM155.66 444.02l3.4 6.2h-6.8ZM175.32 448.18l3.4 6.2h-6.8ZM175.15 439.75l3.4 6.2h-6.8ZM169.5 445.77l3.4 6.2h-6.8ZM164.84 449.6l3.4 6.2h-6.8ZM159.34 441.71l3.4 6.2h-6.8ZM169.73 445.37l3.4 6.2h-6.8ZM168.1 444.45l3.4 6.2h-6.8ZM165.36 450.64l3.4 6.2h-6.8ZM163.09 446.72l3.4 6.2h-6.8ZM171.6 439.13l3.4 6.2h-6.8ZM153.63 439.72l3.4 6.2h-6.8ZM164.17 443.09l3.4 6.2h-6.8ZM167.98 445.79l3.4 6.2h-6.8ZM163.44 442.58l3.4 6.2h-6.8ZM165.24 438.67l3.4 6.2h-6.8ZM171.65 450.76l3.4 6.2h-6.8ZM174.58 437.72l3.4 6.2h-6.8ZM148.2 444.56l3.4 6.2h-6.8ZM161.74 453.26l3.4 6.2h-6.8ZM159.99 442.46l3.4 6.2h-6.8ZM162 438.83l3.4 6.2h-6.8ZM169.72 442.24l3.4 6.2h-6.8ZM170.14 453.99l3.4 6.2h-6.8ZM174.07 444.98l3.4 6.2h-6.8ZM158.3 441.37l3.4 6.2h-6.8ZM162.91 442.11l3.4 6.2h-6.8ZM166.76 445.27l3.4 6.2h-6.8ZM155.85 439.01l3.4 6.2h-6.8ZM172.97 450.56l3.4 6.2h-6.8ZM146.61 449.47l3.4 6.2h-6.8ZM152.47 452.92l3.4 6.2h-6.8ZM145.41 446.95l3.4 6.2h-6.8ZM153.1 451.55l3.4 6.2h-6.8ZM145.87 441.6l3.4 6.2h-6.8ZM168.05 449.08l3.4 6.2h-6.8ZM156.28 438.85l3.4 6.2h-6.8ZM157.91 453.58l3.4 6.2h-6.8ZM175.34 444l3.4 6.2h-6.8ZM150.75 451.32l3.4 6.2h-6.8ZM152.5 440.65l3.4 6.2h-6.8ZM175.55 447.5l3.4 6.2h-6.8ZM157.9 443.59l3.4 6.2h-6.8ZM154.94 446.37l3.4 6.2h-6.8ZM165.74 452.78l3.4 6.2h-6.8ZM153.46 449.98l3.4 6.2h-6.8ZM150.92 448.06l3.4 6.2h-6.8ZM166.09 450.18l3.4 6.2h-6.8ZM174.11 444.25l3.4 6.2h-6.8ZM161.04 450.82l3.4 6.2h-6.8ZM147.51 447.63l3.4 6.2h-6.8ZM154.27 447.06l3.4 6.2h-6.8ZM171.55 445.36l3.4 6.2h-6.8ZM159.13 442.72l3.4 6.2h-6.8ZM170.27 444.81l3.4 6.2h-6.8ZM157.27 452.23l3.4 6.2h-6.8ZM169.94 444.3l3.4 6.2h-6.8ZM160.28 449.32l3.4 6.2h-6.8ZM163.03 447.5l3.4 6.2h-6.8ZM170.09 443.95l3.4 6.2h-6.8ZM154.27 443.24l3.4 6.2h-6.8ZM163.22 443.62l3.4 6.2h-6.8ZM160.6 442.78l3.4 6.2h-6.8ZM157.12 437.74l3.4 6.2h-6.8ZM164.63 441.15l3.4 6.2h-6.8ZM150.03 443.07l3.4 6.2h-6.8ZM148.92 446.07l3.4 6.2h-6.8ZM163.51 449.07l3.4 6.2h-6.8ZM175.1 446.85l3.4 6.2h-6.8ZM163.45 440.16l3.4 6.2h-6.8ZM169.63 440.36l3.4 6.2h-6.8ZM173.99 441.48l3.4 6.2h-6.8ZM171.02 450.65l3.4 6.2h-6.8ZM145.74 446.67l3.4 6.2h-6.8ZM169.08 443.6l3.4 6.2h-6.8ZM151.36 444.5l3.4 6.2h-6.8ZM172.23 438.89l3.4 6.2h-6.8ZM169.05 444.05l3.4 6.2h-6.8ZM166.82 448.74l3.4 6.2h-6.8ZM167.22 444.36l3.4 6.2h-6.8ZM151.64 448.26l3.4 6.2h-6.8ZM156.04 447.14l3.4 6.2h-6.8ZM177.32 449.36l3.4 6.2h-6.8ZM167.16 439.03l3.4 6.2h-6.8ZM147.23 444.64l3.4 6.2h-6.8ZM145.39 449.38l3.4 6.2h-6.8ZM159.57 439.17l3.4 6.2h-6.8ZM146.75 441.13l3.4 6.2h-6.8ZM168.87 441.29l3.4 6.2h-6.8ZM177.96 447.57l3.4 6.2h-6.8ZM172.42 451.92l3.4 6.2h-6.8ZM171.31 450.19l3.4 6.2h-6.8ZM164.36 446.07l3.4 6.2h-6.8ZM174.93 449.5l3.4 6.2h-6.8ZM154.15 445.07l3.4 6.2h-6.8ZM176.7 440.6l3.4 6.2h-6.8ZM174.15 440.92l3.4 6.2h-6.8ZM159.77 446.26l3.4 6.2h-6.8ZM157.58 448.26l3.4 6.2h-6.8ZM164.02 451.17l3.4 6.2h-6.8ZM152.09 448.33l3.4 6.2h-6.8ZM149.28 446.86l3.4 6.2h-6.8ZM148.52 441.44l3.4 6.2h-6.8ZM165.29 445.67l3.4 6.2h-6.8ZM162.89 439.13l3.4 6.2h-6.8ZM157.73 448.98l3.4 6.2h-6.8ZM177.17 445.45l3.4 6.2h-6.8ZM162.68 444.01l3.4 6.2h-6.8ZM167.79 451.45l3.4 6.2h-6.8ZM168.42 450.34l3.4 6.2h-6.8ZM159.62 449.3l3.4 6.2h-6.8ZM174.4 447.67l3.4 6.2h-6.8ZM155.51 448.64l3.4 6.2h-6.8ZM151.2 446.93l3.4 6.2h-6.8ZM149.41 444.61l3.4 6.2h-6.8ZM177.03 448.57l3.4 6.2h-6.8ZM158.9 445.6l3.4 6.2h-6.8ZM147.67 440.15l3.4 6.2h-6.8ZM155.31 443.61l3.4 6.2h-6.8ZM146.55 443.79l3.4 6.2h-6.8ZM162.26 438.12l3.4 6.2h-6.8ZM156.89 446.41l3.4 6.2h-6.8ZM146.71 442.26l3.4 6.2h-6.8ZM159.6 444.23l3.4 6.2h-6.8ZM156.17 441.79l3.4 6.2h-6.8ZM151.94 448.67l3.4 6.2h-6.8ZM146.71 443.12l3.4 6.2h-6.8ZM157.66 445.33l3.4 6.2h-6.8ZM145.69 453.16l3.4 6.2h-6.8ZM149.89 437.77l3.4 6.2h-6.8ZM165.1 450.83l3.4 6.2h-6.8ZM177.21 448.94l3.4 6.2h-6.8ZM161.22 445l3.4 6.2h-6.8ZM156.61 444.54l3.4 6.2h-6.8ZM174.54 443.03l3.4 6.2h-6.8ZM173.2 443.2l3.4 6.2h-6.8ZM168.49 447.92l3.4 6.2h-6.8ZM165.68 443.9l3.4 6.2h-6.8ZM175.11 446.26l3.4 6.2h-6.8ZM146.87 444.68l3.4 6.2h-6.8ZM175.11 445.88l3.4 6.2h-6.8ZM160.57 445.37l3.4 6.2h-6.8ZM160.96 441.17l3.4 6.2h-6.8ZM150.79 451.74l3.4 6.2h-6.8ZM148.7 453.87l3.4 6.2h-6.8ZM163.88 451.98l3.4 6.2h-6.8ZM161.38 442.62l3.4 6.2h-6.8ZM177.1 438.55l3.4 6.2h-6.8ZM145.38 445.31l3.4 6.2h-6.8ZM159.68 441.56l3.4 6.2h-6.8ZM160.75 439.47l3.4 6.2h-6.8ZM151 439.46l3.4 6.2h-6.8ZM154.39 444.19l3.4 6.2h-6.8ZM150.8 447.53l3.4 6.2h-6.8ZM145.44 437.71l3.4 6.2h-6.8ZM172.75 451.03l3.4 6.2h-6.8ZM164.98 437.68l3.4 6.2h-6.8ZM173.05 448.4l3.4 6.2h-6.8ZM174.91 450.91l3.4 6.2h-6.8ZM152.26 444.53l3.4 6.2h-6.8ZM145.53 453.01l3.4 6.2h-6.8ZM153.24 439.71l3.4 6.2h-6.8ZM162.28 446.79l3.4 6.2h-6.8ZM147.68 443.52l3.4 6.2h-6.8ZM154.76 445.73l3.4 6.2h-6.8ZM150.74 446.05l3.4 6.2h-6.8ZM164.88 447.89l3.4 6.2h-6.8ZM167.45 447.37l3.4 6.2h-6.8ZM167.9 449.54l3.4 6.2h-6.8ZM171.93 450.19l3.4 6.2h-6.8ZM175.41 451.46l3.4 6.2h-6.8ZM146.84 450.67l3.4 6.2h-6.8ZM145.88 444.6l3.4 6.2h-6.8ZM159.23 448.76l3.4 6.2h-6.8ZM149.33 440.63l3.4 6.2h-6.8ZM165.92 441.52l3.4 6.2h-6.8ZM149.18 446.89l3.4 6.2h-6.8ZM156.71 442.94l3.4 6.2h-6.8ZM157.7 445.53l3.4 6.2h-6.8ZM175.61 448.59l3.4 6.2h-6.8ZM155.91 450.79l3.4 6.2h-6.8ZM145.68 442.6l3.4 6.2h-6.8ZM150.83 452.15l3.4 6.2h-6.8ZM168.85 444.26l3.4 6.2h-6.8ZM177.76 439.58l3.4 6.2h-6.8ZM167.57 445.46l3.4 6.2h-6.8ZM155.49 447.83l3.4 6.2h-6.8ZM175.31 453.32l3.4 6.2h-6.8Z" fill="#0070C0" stroke="none" stroke-width="1"/>
<path class="p7" d="M172.21 434.12l3.1 5.7h-6.2z"/><path class="w7" d="M172.21 436.92l1.2 1.9h-2.4z"/>
<path class="p7" d="M153.47 432.54l3.1 5.7h-6.2z"/><path class="w7" d="M153.47 435.34l1.2 1.9h-2.4z"/>
<path class="p7" d="M174.04 411.23l3.1 5.7h-6.2z"/><path class="w7" d="M174.04 414.03l1.2 1.9h-2.4z"/>
<path class="p7" d="M166.69 436.89l3.1 5.7h-6.2z"/><path class="w7" d="M166.69 439.69l1.2 1.9h-2.4z"/>
<path class="p7" d="M166.7 430.5l3.1 5.7h-6.2z"/><path class="w7" d="M166.7 433.3l1.2 1.9h-2.4z"/>
<path class="p7" d="M151.26 437.4l3.1 5.7h-6.2z"/><path class="w7" d="M151.26 440.2l1.2 1.9h-2.4z"/>
<path class="p7" d="M167.53 437.61l3.1 5.7h-6.2z"/><path class="w7" d="M167.53 440.41l1.2 1.9h-2.4z"/>
<path class="p7" d="M161.81 410.64l3.1 5.7h-6.2z"/><path class="w7" d="M161.81 413.44l1.2 1.9h-2.4z"/>
<path class="p7" d="M149.83 437.21l3.1 5.7h-6.2z"/><path class="w7" d="M149.83 440.01l1.2 1.9h-2.4z"/>
<path class="p7" d="M153.48 423.75l3.1 5.7h-6.2z"/><path class="w7" d="M153.48 426.55l1.2 1.9h-2.4z"/>
<path class="p7" d="M167.88 429.09l3.1 5.7h-6.2z"/><path class="w7" d="M167.88 431.89l1.2 1.9h-2.4z"/>
<path class="p7" d="M177.8 437.11l3.1 5.7h-6.2z"/><path class="w7" d="M177.8 439.91l1.2 1.9h-2.4z"/>
<path class="p7" d="M170.46 423.39l3.1 5.7h-6.2z"/><path class="w7" d="M170.46 426.19l1.2 1.9h-2.4z"/>
<path class="p7" d="M155.39 427.3l3.1 5.7h-6.2z"/><path class="w7" d="M155.39 430.1l1.2 1.9h-2.4z"/>
<path class="p7" d="M177.2 427.66l3.1 5.7h-6.2z"/><path class="w7" d="M177.2 430.46l1.2 1.9h-2.4z"/>
<path class="p7" d="M161.18 416.34l3.1 5.7h-6.2z"/><path class="w7" d="M161.18 419.14l1.2 1.9h-2.4z"/>
<path class="p7" d="M167.48 411.22l3.1 5.7h-6.2z"/><path class="w7" d="M167.48 414.02l1.2 1.9h-2.4z"/>
<path class="p7" d="M169.79 433.82l3.1 5.7h-6.2z"/><path class="w7" d="M169.79 436.62l1.2 1.9h-2.4z"/>
<path class="p7" d="M168.88 426.47l3.1 5.7h-6.2z"/><path class="w7" d="M168.88 429.27l1.2 1.9h-2.4z"/>
<path class="p7" d="M162.58 436.22l3.1 5.7h-6.2z"/><path class="w7" d="M162.58 439.02l1.2 1.9h-2.4z"/>
<path class="p7" d="M177.86 422l3.1 5.7h-6.2z"/><path class="w7" d="M177.86 424.8l1.2 1.9h-2.4z"/>
<path class="p7" d="M165.98 430.64l3.1 5.7h-6.2z"/><path class="w7" d="M165.98 433.44l1.2 1.9h-2.4z"/>
<path class="p7" d="M176.82 426.21l3.1 5.7h-6.2z"/><path class="w7" d="M176.82 429.01l1.2 1.9h-2.4z"/>
<path class="p7" d="M172.31 427.97l3.1 5.7h-6.2z"/><path class="w7" d="M172.31 430.77l1.2 1.9h-2.4z"/>
<path class="p7" d="M170.59 422.65l3.1 5.7h-6.2z"/><path class="w7" d="M170.59 425.45l1.2 1.9h-2.4z"/>
<path class="p7" d="M158.37 418.3l3.1 5.7h-6.2z"/><path class="w7" d="M158.37 421.1l1.2 1.9h-2.4z"/>
<path class="p7" d="M151.4 429.31l3.1 5.7h-6.2z"/><path class="w7" d="M151.4 432.11l1.2 1.9h-2.4z"/>
<path class="p7" d="M158.55 427.93l3.1 5.7h-6.2z"/><path class="w7" d="M158.55 430.73l1.2 1.9h-2.4z"/>
<path class="p7" d="M146.85 415.65l3.1 5.7h-6.2z"/><path class="w7" d="M146.85 418.45l1.2 1.9h-2.4z"/>
<path class="p7" d="M157.23 431.99l3.1 5.7h-6.2z"/><path class="w7" d="M157.23 434.79l1.2 1.9h-2.4z"/>
<path class="p7" d="M172.36 417.78l3.1 5.7h-6.2z"/><path class="w7" d="M172.36 420.58l1.2 1.9h-2.4z"/>
<path class="p7" d="M169.01 425.11l3.1 5.7h-6.2z"/><path class="w7" d="M169.01 427.91l1.2 1.9h-2.4z"/>
<path class="p7" d="M156.24 423.24l3.1 5.7h-6.2z"/><path class="w7" d="M156.24 426.04l1.2 1.9h-2.4z"/>
<path class="p7" d="M176.3 437.16l3.1 5.7h-6.2z"/><path class="w7" d="M176.3 439.96l1.2 1.9h-2.4z"/>
<path class="p7" d="M165.95 429.67l3.1 5.7h-6.2z"/><path class="w7" d="M165.95 432.47l1.2 1.9h-2.4z"/>
<path class="p7" d="M157.17 435.67l3.1 5.7h-6.2z"/><path class="w7" d="M157.17 438.47l1.2 1.9h-2.4z"/>
<path class="p7" d="M173.66 434.13l3.1 5.7h-6.2z"/><path class="w7" d="M173.66 436.93l1.2 1.9h-2.4z"/>
<path class="p7" d="M162.14 417.36l3.1 5.7h-6.2z"/><path class="w7" d="M162.14 420.16l1.2 1.9h-2.4z"/>
<path class="p7" d="M173.61 437.67l3.1 5.7h-6.2z"/><path class="w7" d="M173.61 440.47l1.2 1.9h-2.4z"/>
<path class="p7" d="M158.67 417.46l3.1 5.7h-6.2z"/><path class="w7" d="M158.67 420.26l1.2 1.9h-2.4z"/>
<path class="p7" d="M158.46 429.18l3.1 5.7h-6.2z"/><path class="w7" d="M158.46 431.98l1.2 1.9h-2.4z"/>
<path class="p7" d="M157.62 429.91l3.1 5.7h-6.2z"/><path class="w7" d="M157.62 432.71l1.2 1.9h-2.4z"/>
<path class="p7" d="M158.34 418.69l3.1 5.7h-6.2z"/><path class="w7" d="M158.34 421.49l1.2 1.9h-2.4z"/>
<path class="p7" d="M170.51 432.19l3.1 5.7h-6.2z"/><path class="w7" d="M170.51 434.99l1.2 1.9h-2.4z"/>
<path class="p7" d="M152.7 425.02l3.1 5.7h-6.2z"/><path class="w7" d="M152.7 427.82l1.2 1.9h-2.4z"/>
<path class="p7" d="M158.55 434.11l3.1 5.7h-6.2z"/><path class="w7" d="M158.55 436.91l1.2 1.9h-2.4z"/>
<path class="p7" d="M158.49 435.43l3.1 5.7h-6.2z"/><path class="w7" d="M158.49 438.23l1.2 1.9h-2.4z"/>
<path class="p7" d="M174.66 436.48l3.1 5.7h-6.2z"/><path class="w7" d="M174.66 439.28l1.2 1.9h-2.4z"/>
<path class="p7" d="M175.52 426.44l3.1 5.7h-6.2z"/><path class="w7" d="M175.52 429.24l1.2 1.9h-2.4z"/>
<path class="p7" d="M170.65 426.95l3.1 5.7h-6.2z"/><path class="w7" d="M170.65 429.75l1.2 1.9h-2.4z"/>
<path class="p7" d="M152.45 437.44l3.1 5.7h-6.2z"/><path class="w7" d="M152.45 440.24l1.2 1.9h-2.4z"/>
<path class="p7" d="M170.44 433.21l3.1 5.7h-6.2z"/><path class="w7" d="M170.44 436.01l1.2 1.9h-2.4z"/>
<path class="p7" d="M159 425.42l3.1 5.7h-6.2z"/><path class="w7" d="M159 428.22l1.2 1.9h-2.4z"/>
<path class="p7" d="M148.5 434.07l3.1 5.7h-6.2z"/><path class="w7" d="M148.5 436.87l1.2 1.9h-2.4z"/>
<path class="p7" d="M145.57 420.78l3.1 5.7h-6.2z"/><path class="w7" d="M145.57 423.58l1.2 1.9h-2.4z"/>
<path class="p7" d="M174.12 435.43l3.1 5.7h-6.2z"/><path class="w7" d="M174.12 438.23l1.2 1.9h-2.4z"/>
<path class="p7" d="M168.13 406.02l3.1 5.7h-6.2z"/><path class="w7" d="M168.13 408.82l1.2 1.9h-2.4z"/>
<path class="p7" d="M163.55 426.12l3.1 5.7h-6.2z"/><path class="w7" d="M163.55 428.92l1.2 1.9h-2.4z"/>
<path class="p7" d="M174.22 428.67l3.1 5.7h-6.2z"/><path class="w7" d="M174.22 431.47l1.2 1.9h-2.4z"/>
<path class="p7" d="M150.8 423.87l3.1 5.7h-6.2z"/><path class="w7" d="M150.8 426.67l1.2 1.9h-2.4z"/>
<path class="p7" d="M171.38 435.82l3.1 5.7h-6.2z"/><path class="w7" d="M171.38 438.62l1.2 1.9h-2.4z"/>
<path class="p7" d="M151.18 434.87l3.1 5.7h-6.2z"/><path class="w7" d="M151.18 437.67l1.2 1.9h-2.4z"/>
<path class="p7" d="M165.38 363.09l3.1 5.7h-6.2z"/><path class="w7" d="M165.38 365.89l1.2 1.9h-2.4z"/>
<path class="p7" d="M176.22 434.55l3.1 5.7h-6.2z"/><path class="w7" d="M176.22 437.35l1.2 1.9h-2.4z"/>
<path class="p7" d="M157.3 431.74l3.1 5.7h-6.2z"/><path class="w7" d="M157.3 434.54l1.2 1.9h-2.4z"/>
<path class="p7" d="M151.06 426.55l3.1 5.7h-6.2z"/><path class="w7" d="M151.06 429.35l1.2 1.9h-2.4z"/>
<path class="p7" d="M164.68 430.89l3.1 5.7h-6.2z"/><path class="w7" d="M164.68 433.69l1.2 1.9h-2.4z"/>
<path class="p7" d="M153.26 424.33l3.1 5.7h-6.2z"/><path class="w7" d="M153.26 427.13l1.2 1.9h-2.4z"/>
<path class="p7" d="M157.29 413.81l3.1 5.7h-6.2z"/><path class="w7" d="M157.29 416.61l1.2 1.9h-2.4z"/>
<path class="p7" d="M155.39 435.47l3.1 5.7h-6.2z"/><path class="w7" d="M155.39 438.27l1.2 1.9h-2.4z"/>
<path class="p7" d="M175.07 435.2l3.1 5.7h-6.2z"/><path class="w7" d="M175.07 438l1.2 1.9h-2.4z"/>
<path class="p7" d="M172.36 409.21l3.1 5.7h-6.2z"/><path class="w7" d="M172.36 412.01l1.2 1.9h-2.4z"/>
<path class="p7" d="M172.02 437.64l3.1 5.7h-6.2z"/><path class="w7" d="M172.02 440.44l1.2 1.9h-2.4z"/>
<path class="p7" d="M154.23 429.24l3.1 5.7h-6.2z"/><path class="w7" d="M154.23 432.04l1.2 1.9h-2.4z"/>
<path class="p7" d="M174.29 423.96l3.1 5.7h-6.2z"/><path class="w7" d="M174.29 426.76l1.2 1.9h-2.4z"/>
<path class="p7" d="M168.39 433.48l3.1 5.7h-6.2z"/><path class="w7" d="M168.39 436.28l1.2 1.9h-2.4z"/>
<path class="p7" d="M174.57 433.93l3.1 5.7h-6.2z"/><path class="w7" d="M174.57 436.73l1.2 1.9h-2.4z"/>
<path class="p7" d="M177.99 437.19l3.1 5.7h-6.2z"/><path class="w7" d="M177.99 439.99l1.2 1.9h-2.4z"/>
<path class="p7" d="M146.99 428.91l3.1 5.7h-6.2z"/><path class="w7" d="M146.99 431.71l1.2 1.9h-2.4z"/>
<path class="p7" d="M146.49 418.3l3.1 5.7h-6.2z"/><path class="w7" d="M146.49 421.1l1.2 1.9h-2.4z"/>
<path class="p7" d="M169.37 435.12l3.1 5.7h-6.2z"/><path class="w7" d="M169.37 437.92l1.2 1.9h-2.4z"/>
<path class="p7" d="M167.99 437.79l3.1 5.7h-6.2z"/><path class="w7" d="M167.99 440.59l1.2 1.9h-2.4z"/>
<path class="p7" d="M175.89 432.41l3.1 5.7h-6.2z"/><path class="w7" d="M175.89 435.21l1.2 1.9h-2.4z"/>
<path class="p7" d="M149.67 434.91l3.1 5.7h-6.2z"/><path class="w7" d="M149.67 437.71l1.2 1.9h-2.4z"/>
<path class="p7" d="M153.24 418.67l3.1 5.7h-6.2z"/><path class="w7" d="M153.24 421.47l1.2 1.9h-2.4z"/>
<path class="p7" d="M175.3 419.52l3.1 5.7h-6.2z"/><path class="w7" d="M175.3 422.32l1.2 1.9h-2.4z"/>
<path class="p7" d="M154.19 433.62l3.1 5.7h-6.2z"/><path class="w7" d="M154.19 436.42l1.2 1.9h-2.4z"/>
<path class="p7" d="M158.06 433.61l3.1 5.7h-6.2z"/><path class="w7" d="M158.06 436.41l1.2 1.9h-2.4z"/>
<path class="p7" d="M172.98 428.4l3.1 5.7h-6.2z"/><path class="w7" d="M172.98 431.2l1.2 1.9h-2.4z"/>
<path class="p7" d="M175.22 431.92l3.1 5.7h-6.2z"/><path class="w7" d="M175.22 434.72l1.2 1.9h-2.4z"/>
<path class="p7" d="M175.03 430.62l3.1 5.7h-6.2z"/><path class="w7" d="M175.03 433.42l1.2 1.9h-2.4z"/>
<path class="p7" d="M148.59 431.68l3.1 5.7h-6.2z"/><path class="w7" d="M148.59 434.48l1.2 1.9h-2.4z"/>
<path class="p7" d="M170.41 434.63l3.1 5.7h-6.2z"/><path class="w7" d="M170.41 437.43l1.2 1.9h-2.4z"/>
<path class="p7" d="M171.7 436.55l3.1 5.7h-6.2z"/><path class="w7" d="M171.7 439.35l1.2 1.9h-2.4z"/>
<path class="p7" d="M169.25 412.08l3.1 5.7h-6.2z"/><path class="w7" d="M169.25 414.88l1.2 1.9h-2.4z"/>
<path class="p7" d="M172 437.3l3.1 5.7h-6.2z"/><path class="w7" d="M172 440.1l1.2 1.9h-2.4z"/>
<path class="p7" d="M167.82 392.56l3.1 5.7h-6.2z"/><path class="w7" d="M167.82 395.36l1.2 1.9h-2.4z"/>
<path class="p7" d="M169.53 431.15l3.1 5.7h-6.2z"/><path class="w7" d="M169.53 433.95l1.2 1.9h-2.4z"/>
<path class="p7" d="M164.77 428.59l3.1 5.7h-6.2z"/><path class="w7" d="M164.77 431.39l1.2 1.9h-2.4z"/>
<path class="p7" d="M171.5 419.11l3.1 5.7h-6.2z"/><path class="w7" d="M171.5 421.91l1.2 1.9h-2.4z"/>
<path class="p7" d="M167.84 427.08l3.1 5.7h-6.2z"/><path class="w7" d="M167.84 429.88l1.2 1.9h-2.4z"/>
<path class="p7" d="M165.98 435.22l3.1 5.7h-6.2z"/><path class="w7" d="M165.98 438.02l1.2 1.9h-2.4z"/>
<path class="p7" d="M146.19 436.89l3.1 5.7h-6.2z"/><path class="w7" d="M146.19 439.69l1.2 1.9h-2.4z"/>
<path class="p7" d="M153.92 433.2l3.1 5.7h-6.2z"/><path class="w7" d="M153.92 436l1.2 1.9h-2.4z"/>
<path class="p7" d="M158.61 436.55l3.1 5.7h-6.2z"/><path class="w7" d="M158.61 439.35l1.2 1.9h-2.4z"/>
<path class="p7" d="M150.72 421.64l3.1 5.7h-6.2z"/><path class="w7" d="M150.72 424.44l1.2 1.9h-2.4z"/>
<path class="p7" d="M159.42 437.45l3.1 5.7h-6.2z"/><path class="w7" d="M159.42 440.25l1.2 1.9h-2.4z"/>
<path class="p7" d="M174.38 434.36l3.1 5.7h-6.2z"/><path class="w7" d="M174.38 437.16l1.2 1.9h-2.4z"/>
<path class="p7" d="M176.33 426.47l3.1 5.7h-6.2z"/><path class="w7" d="M176.33 429.27l1.2 1.9h-2.4z"/>
<path class="p7" d="M159.7 429.08l3.1 5.7h-6.2z"/><path class="w7" d="M159.7 431.88l1.2 1.9h-2.4z"/>
<path class="p7" d="M159.43 427.68l3.1 5.7h-6.2z"/><path class="w7" d="M159.43 430.48l1.2 1.9h-2.4z"/>
<path class="p7" d="M147.49 437.79l3.1 5.7h-6.2z"/><path class="w7" d="M147.49 440.59l1.2 1.9h-2.4z"/>
<path class="p7" d="M146.81 401.54l3.1 5.7h-6.2z"/><path class="w7" d="M146.81 404.34l1.2 1.9h-2.4z"/>
<path class="p7" d="M147.8 418l3.1 5.7h-6.2z"/><path class="w7" d="M147.8 420.8l1.2 1.9h-2.4z"/>
<path class="p7" d="M151.43 416.27l3.1 5.7h-6.2z"/><path class="w7" d="M151.43 419.07l1.2 1.9h-2.4z"/>
<path class="p7" d="M172.54 412.52l3.1 5.7h-6.2z"/><path class="w7" d="M172.54 415.32l1.2 1.9h-2.4z"/>
<path class="p7" d="M177.63 433.4l3.1 5.7h-6.2z"/><path class="w7" d="M177.63 436.2l1.2 1.9h-2.4z"/>
<path class="p7" d="M157.41 432.85l3.1 5.7h-6.2z"/><path class="w7" d="M157.41 435.65l1.2 1.9h-2.4z"/>
<path class="p7" d="M146.51 413.2l3.1 5.7h-6.2z"/><path class="w7" d="M146.51 416l1.2 1.9h-2.4z"/>
<path class="p7" d="M146.01 404.74l3.1 5.7h-6.2z"/><path class="w7" d="M146.01 407.54l1.2 1.9h-2.4z"/>
<path class="p7" d="M169.25 437.44l3.1 5.7h-6.2z"/><path class="w7" d="M169.25 440.24l1.2 1.9h-2.4z"/>
<path class="p7" d="M165.35 437.92l3.1 5.7h-6.2z"/><path class="w7" d="M165.35 440.72l1.2 1.9h-2.4z"/>
<path class="p7" d="M159.68 407.94l3.1 5.7h-6.2z"/><path class="w7" d="M159.68 410.74l1.2 1.9h-2.4z"/>
<path class="p7" d="M148.27 429.63l3.1 5.7h-6.2z"/><path class="w7" d="M148.27 432.43l1.2 1.9h-2.4z"/>
<path class="p7" d="M173.04 413.78l3.1 5.7h-6.2z"/><path class="w7" d="M173.04 416.58l1.2 1.9h-2.4z"/>
<path class="p7" d="M173.51 437.3l3.1 5.7h-6.2z"/><path class="w7" d="M173.51 440.1l1.2 1.9h-2.4z"/>
<path class="p7" d="M166.47 428.47l3.1 5.7h-6.2z"/><path class="w7" d="M166.47 431.27l1.2 1.9h-2.4z"/>
<path class="p7" d="M167.58 432.73l3.1 5.7h-6.2z"/><path class="w7" d="M167.58 435.53l1.2 1.9h-2.4z"/>
<path class="p7" d="M176 419.7l3.1 5.7h-6.2z"/><path class="w7" d="M176 422.5l1.2 1.9h-2.4z"/>
<path class="p7" d="M174.15 418.22l3.1 5.7h-6.2z"/><path class="w7" d="M174.15 421.02l1.2 1.9h-2.4z"/>
<path class="p7" d="M172.09 428.27l3.1 5.7h-6.2z"/><path class="w7" d="M172.09 431.07l1.2 1.9h-2.4z"/>
<path class="p7" d="M155.86 435.72l3.1 5.7h-6.2z"/><path class="w7" d="M155.86 438.52l1.2 1.9h-2.4z"/>
<path class="p7" d="M152.81 434.07l3.1 5.7h-6.2z"/><path class="w7" d="M152.81 436.87l1.2 1.9h-2.4z"/>
<path class="p7" d="M159.79 436.88l3.1 5.7h-6.2z"/><path class="w7" d="M159.79 439.68l1.2 1.9h-2.4z"/>
<path class="p7" d="M149.84 422.47l3.1 5.7h-6.2z"/><path class="w7" d="M149.84 425.27l1.2 1.9h-2.4z"/>
<path class="p7" d="M148.57 426.28l3.1 5.7h-6.2z"/><path class="w7" d="M148.57 429.08l1.2 1.9h-2.4z"/>
<path class="p7" d="M153.67 434.39l3.1 5.7h-6.2z"/><path class="w7" d="M153.67 437.19l1.2 1.9h-2.4z"/>
<path class="p7" d="M175.01 419.65l3.1 5.7h-6.2z"/><path class="w7" d="M175.01 422.45l1.2 1.9h-2.4z"/>
<path class="p7" d="M160.98 399.59l3.1 5.7h-6.2z"/><path class="w7" d="M160.98 402.39l1.2 1.9h-2.4z"/>
<path class="p7" d="M149 427.4l3.1 5.7h-6.2z"/><path class="w7" d="M149 430.2l1.2 1.9h-2.4z"/>
<path class="p7" d="M154.04 425.31l3.1 5.7h-6.2z"/><path class="w7" d="M154.04 428.11l1.2 1.9h-2.4z"/>
<path class="p7" d="M156.88 428.32l3.1 5.7h-6.2z"/><path class="w7" d="M156.88 431.12l1.2 1.9h-2.4z"/>
<path class="p7" d="M177.03 437.51l3.1 5.7h-6.2z"/><path class="w7" d="M177.03 440.31l1.2 1.9h-2.4z"/>
<path class="p7" d="M171.13 429.34l3.1 5.7h-6.2z"/><path class="w7" d="M171.13 432.14l1.2 1.9h-2.4z"/>
<path class="p7" d="M175.89 425.36l3.1 5.7h-6.2z"/><path class="w7" d="M175.89 428.16l1.2 1.9h-2.4z"/>
<path class="p7" d="M153.01 429.41l3.1 5.7h-6.2z"/><path class="w7" d="M153.01 432.21l1.2 1.9h-2.4z"/>
<path class="p7" d="M163.65 413.55l3.1 5.7h-6.2z"/><path class="w7" d="M163.65 416.35l1.2 1.9h-2.4z"/>
<path class="p7" d="M166.41 426.52l3.1 5.7h-6.2z"/><path class="w7" d="M166.41 429.32l1.2 1.9h-2.4z"/>
<path class="p7" d="M148.49 425.26l3.1 5.7h-6.2z"/><path class="w7" d="M148.49 428.06l1.2 1.9h-2.4z"/>
<path class="p7" d="M166.46 436.42l3.1 5.7h-6.2z"/><path class="w7" d="M166.46 439.22l1.2 1.9h-2.4z"/>
<path class="p7" d="M160.68 433.61l3.1 5.7h-6.2z"/><path class="w7" d="M160.68 436.41l1.2 1.9h-2.4z"/>
<path class="p7" d="M155.78 434.12l3.1 5.7h-6.2z"/><path class="w7" d="M155.78 436.92l1.2 1.9h-2.4z"/>
<path class="p7" d="M175.16 436.85l3.1 5.7h-6.2z"/><path class="w7" d="M175.16 439.65l1.2 1.9h-2.4z"/>
<path class="p7" d="M151.84 411.12l3.1 5.7h-6.2z"/><path class="w7" d="M151.84 413.92l1.2 1.9h-2.4z"/>
<path class="p7" d="M171.44 431.66l3.1 5.7h-6.2z"/><path class="w7" d="M171.44 434.46l1.2 1.9h-2.4z"/>
<path class="p7" d="M174.39 411.53l3.1 5.7h-6.2z"/><path class="w7" d="M174.39 414.33l1.2 1.9h-2.4z"/>
<path class="p7" d="M151.32 413.6l3.1 5.7h-6.2z"/><path class="w7" d="M151.32 416.4l1.2 1.9h-2.4z"/>
<path class="p7" d="M147.16 431.59l3.1 5.7h-6.2z"/><path class="w7" d="M147.16 434.39l1.2 1.9h-2.4z"/>
<path class="p7" d="M164.82 435.16l3.1 5.7h-6.2z"/><path class="w7" d="M164.82 437.96l1.2 1.9h-2.4z"/>
<path class="p7" d="M152.62 430.44l3.1 5.7h-6.2z"/><path class="w7" d="M152.62 433.24l1.2 1.9h-2.4z"/>
<path class="p7" d="M161.37 425.96l3.1 5.7h-6.2z"/><path class="w7" d="M161.37 428.76l1.2 1.9h-2.4z"/>
<path class="p7" d="M149.22 436.75l3.1 5.7h-6.2z"/><path class="w7" d="M149.22 439.55l1.2 1.9h-2.4z"/>
<path class="p7" d="M165.91 432.95l3.1 5.7h-6.2z"/><path class="w7" d="M165.91 435.75l1.2 1.9h-2.4z"/>
<path class="p7" d="M169.21 428.97l3.1 5.7h-6.2z"/><path class="w7" d="M169.21 431.77l1.2 1.9h-2.4z"/>
<path class="p7" d="M174.36 437.17l3.1 5.7h-6.2z"/><path class="w7" d="M174.36 439.97l1.2 1.9h-2.4z"/>
<path class="p7" d="M157.99 431.87l3.1 5.7h-6.2z"/><path class="w7" d="M157.99 434.67l1.2 1.9h-2.4z"/>
<path class="p7" d="M166.38 435.63l3.1 5.7h-6.2z"/><path class="w7" d="M166.38 438.43l1.2 1.9h-2.4z"/>
<path class="p7" d="M170.11 421.14l3.1 5.7h-6.2z"/><path class="w7" d="M170.11 423.94l1.2 1.9h-2.4z"/>
<path class="p7" d="M156.42 432.27l3.1 5.7h-6.2z"/><path class="w7" d="M156.42 435.07l1.2 1.9h-2.4z"/>
<path class="p7" d="M167.31 416.54l3.1 5.7h-6.2z"/><path class="w7" d="M167.31 419.34l1.2 1.9h-2.4z"/>
<path class="p7" d="M169.19 424.74l3.1 5.7h-6.2z"/><path class="w7" d="M169.19 427.54l1.2 1.9h-2.4z"/>
<path class="p7" d="M157.91 423.82l3.1 5.7h-6.2z"/><path class="w7" d="M157.91 426.62l1.2 1.9h-2.4z"/>
<path class="p7" d="M168.85 426.54l3.1 5.7h-6.2z"/><path class="w7" d="M168.85 429.34l1.2 1.9h-2.4z"/>
<path class="p7" d="M152.96 407.96l3.1 5.7h-6.2z"/><path class="w7" d="M152.96 410.76l1.2 1.9h-2.4z"/>
<path class="p7" d="M156.15 434.76l3.1 5.7h-6.2z"/><path class="w7" d="M156.15 437.56l1.2 1.9h-2.4z"/>
<path class="p7" d="M165.84 419.25l3.1 5.7h-6.2z"/><path class="w7" d="M165.84 422.05l1.2 1.9h-2.4z"/>
<path class="p7" d="M164.4 365.16l3.1 5.7h-6.2z"/><path class="w7" d="M164.4 367.96l1.2 1.9h-2.4z"/>
<path class="p7" d="M157.19 433.77l3.1 5.7h-6.2z"/><path class="w7" d="M157.19 436.57l1.2 1.9h-2.4z"/>
<path class="p7" d="M159.56 431.64l3.1 5.7h-6.2z"/><path class="w7" d="M159.56 434.44l1.2 1.9h-2.4z"/>
<path class="p7" d="M151.97 437.7l3.1 5.7h-6.2z"/><path class="w7" d="M151.97 440.5l1.2 1.9h-2.4z"/>
<path class="p7" d="M159.14 429.86l3.1 5.7h-6.2z"/><path class="w7" d="M159.14 432.66l1.2 1.9h-2.4z"/>
<path class="p7" d="M159.1 434.79l3.1 5.7h-6.2z"/><path class="w7" d="M159.1 437.59l1.2 1.9h-2.4z"/>
<path class="p7" d="M147.03 433.34l3.1 5.7h-6.2z"/><path class="w7" d="M147.03 436.14l1.2 1.9h-2.4z"/>
<path class="p7" d="M171.74 435.49l3.1 5.7h-6.2z"/><path class="w7" d="M171.74 438.29l1.2 1.9h-2.4z"/>
<path class="p7" d="M155.07 429.84l3.1 5.7h-6.2z"/><path class="w7" d="M155.07 432.64l1.2 1.9h-2.4z"/>
<path class="p7" d="M155.39 436.08l3.1 5.7h-6.2z"/><path class="w7" d="M155.39 438.88l1.2 1.9h-2.4z"/>
<path class="p7" d="M153.32 426.33l3.1 5.7h-6.2z"/><path class="w7" d="M153.32 429.13l1.2 1.9h-2.4z"/>
<path class="p7" d="M165.38 329.93l3.1 5.7h-6.2z"/><path class="w7" d="M165.38 332.73l1.2 1.9h-2.4z"/>
<path class="p7" d="M145.95 437.45l3.1 5.7h-6.2z"/><path class="w7" d="M145.95 440.25l1.2 1.9h-2.4z"/>
<path class="p7" d="M177.75 434.79l3.1 5.7h-6.2z"/><path class="w7" d="M177.75 437.59l1.2 1.9h-2.4z"/>
<path class="p7" d="M160.34 430.42l3.1 5.7h-6.2z"/><path class="w7" d="M160.34 433.22l1.2 1.9h-2.4z"/>
<path class="p7" d="M148.24 418.11l3.1 5.7h-6.2z"/><path class="w7" d="M148.24 420.91l1.2 1.9h-2.4z"/>
<path class="p7" d="M160.45 435.93l3.1 5.7h-6.2z"/><path class="w7" d="M160.45 438.73l1.2 1.9h-2.4z"/>
<path class="p7" d="M164.01 428.05l3.1 5.7h-6.2z"/><path class="w7" d="M164.01 430.85l1.2 1.9h-2.4z"/>
<path class="p7" d="M167.38 435.76l3.1 5.7h-6.2z"/><path class="w7" d="M167.38 438.56l1.2 1.9h-2.4z"/>
<path class="p7" d="M177.11 403.5l3.1 5.7h-6.2z"/><path class="w7" d="M177.11 406.3l1.2 1.9h-2.4z"/>
<path class="p7" d="M148.99 431.81l3.1 5.7h-6.2z"/><path class="w7" d="M148.99 434.61l1.2 1.9h-2.4z"/>
<path class="p7" d="M160.03 429.83l3.1 5.7h-6.2z"/><path class="w7" d="M160.03 432.63l1.2 1.9h-2.4z"/>
<path class="p7" d="M172 422.95l3.1 5.7h-6.2z"/><path class="w7" d="M172 425.75l1.2 1.9h-2.4z"/>
<path class="p7" d="M169.83 437.33l3.1 5.7h-6.2z"/><path class="w7" d="M169.83 440.13l1.2 1.9h-2.4z"/>
<path class="p7" d="M172.64 428.1l3.1 5.7h-6.2z"/><path class="w7" d="M172.64 430.9l1.2 1.9h-2.4z"/>
<path class="p7" d="M157.63 432.59l3.1 5.7h-6.2z"/><path class="w7" d="M157.63 435.39l1.2 1.9h-2.4z"/>
<path class="p7" d="M176.55 432.54l3.1 5.7h-6.2z"/><path class="w7" d="M176.55 435.34l1.2 1.9h-2.4z"/>
<path class="p7" d="M175.15 397.63l3.1 5.7h-6.2z"/><path class="w7" d="M175.15 400.43l1.2 1.9h-2.4z"/>
<path class="p7" d="M151.3 424.92l3.1 5.7h-6.2z"/><path class="w7" d="M151.3 427.72l1.2 1.9h-2.4z"/>
<path class="p7" d="M172.44 409.7l3.1 5.7h-6.2z"/><path class="w7" d="M172.44 412.5l1.2 1.9h-2.4z"/>
<path class="p7" d="M156.68 426.14l3.1 5.7h-6.2z"/><path class="w7" d="M156.68 428.94l1.2 1.9h-2.4z"/>
<path class="p7" d="M152.02 418.71l3.1 5.7h-6.2z"/><path class="w7" d="M152.02 421.51l1.2 1.9h-2.4z"/>
<path class="p7" d="M148.44 421.22l3.1 5.7h-6.2z"/><path class="w7" d="M148.44 424.02l1.2 1.9h-2.4z"/>
<path class="p7" d="M163.44 432.98l3.1 5.7h-6.2z"/><path class="w7" d="M163.44 435.78l1.2 1.9h-2.4z"/>
<path class="p7" d="M168.75 437.51l3.1 5.7h-6.2z"/><path class="w7" d="M168.75 440.31l1.2 1.9h-2.4z"/>
<path class="p7" d="M154.36 429.34l3.1 5.7h-6.2z"/><path class="w7" d="M154.36 432.14l1.2 1.9h-2.4z"/>
<path class="p7" d="M152.02 426.94l3.1 5.7h-6.2z"/><path class="w7" d="M152.02 429.74l1.2 1.9h-2.4z"/>
<path class="p7" d="M151.72 428.83l3.1 5.7h-6.2z"/><path class="w7" d="M151.72 431.63l1.2 1.9h-2.4z"/>
<path class="p7" d="M173.83 436.52l3.1 5.7h-6.2z"/><path class="w7" d="M173.83 439.32l1.2 1.9h-2.4z"/>
<path class="p7" d="M172.72 432.7l3.1 5.7h-6.2z"/><path class="w7" d="M172.72 435.5l1.2 1.9h-2.4z"/>
<path class="p7" d="M164.56 421.97l3.1 5.7h-6.2z"/><path class="w7" d="M164.56 424.77l1.2 1.9h-2.4z"/>
<path class="p7" d="M158.24 424.05l3.1 5.7h-6.2z"/><path class="w7" d="M158.24 426.85l1.2 1.9h-2.4z"/>
<path class="p7" d="M147.53 429.3l3.1 5.7h-6.2z"/><path class="w7" d="M147.53 432.1l1.2 1.9h-2.4z"/>
<path class="p7" d="M144.86 361.48l3.1 5.7h-6.2z"/><path class="w7" d="M144.86 364.28l1.2 1.9h-2.4z"/>
<path class="p7" d="M170.9 437.87l3.1 5.7h-6.2z"/><path class="w7" d="M170.9 440.67l1.2 1.9h-2.4z"/>
<path class="p7" d="M154.14 396.48l3.1 5.7h-6.2z"/><path class="w7" d="M154.14 399.28l1.2 1.9h-2.4z"/>
<path class="p7" d="M158.86 435.56l3.1 5.7h-6.2z"/><path class="w7" d="M158.86 438.36l1.2 1.9h-2.4z"/>
<path class="p7" d="M151.94 436.43l3.1 5.7h-6.2z"/><path class="w7" d="M151.94 439.23l1.2 1.9h-2.4z"/>
<path class="p7" d="M166.31 433.3l3.1 5.7h-6.2z"/><path class="w7" d="M166.31 436.1l1.2 1.9h-2.4z"/>
<path class="p7" d="M176.91 422.45l3.1 5.7h-6.2z"/><path class="w7" d="M176.91 425.25l1.2 1.9h-2.4z"/>
<path class="p7" d="M175.83 435.16l3.1 5.7h-6.2z"/><path class="w7" d="M175.83 437.96l1.2 1.9h-2.4z"/>
<path class="p7" d="M152.45 429.19l3.1 5.7h-6.2z"/><path class="w7" d="M152.45 431.99l1.2 1.9h-2.4z"/>
<path class="p7" d="M169.35 422.03l3.1 5.7h-6.2z"/><path class="w7" d="M169.35 424.83l1.2 1.9h-2.4z"/>
<path d="" fill="#00B0F0" stroke="none" stroke-width="1"/>
<circle class="p6" cx="199.32" cy="455.02" r="2.35"/><path class="w6" d="M198.02 454.42l1.6 1.6M198.82 453.72l1.6 1.6"/>
<circle class="p6" cx="192.76" cy="443.11" r="2.35"/><path class="w6" d="M191.46 442.51l1.6 1.6M192.26 441.81l1.6 1.6"/>
<circle class="p6" cx="187.71" cy="455.17" r="2.35"/><path class="w6" d="M186.41 454.57l1.6 1.6M187.21 453.87l1.6 1.6"/>
<circle class="p6" cx="182.74" cy="454.67" r="2.35"/><path class="w6" d="M181.44 454.07l1.6 1.6M182.24 453.37l1.6 1.6"/>
<circle class="p6" cx="202" cy="450.71" r="2.35"/><path class="w6" d="M200.7 450.11l1.6 1.6M201.5 449.41l1.6 1.6"/>
<circle class="p6" cx="194.88" cy="457.77" r="2.35"/><path class="w6" d="M193.58 457.17l1.6 1.6M194.38 456.47l1.6 1.6"/>
<circle class="p6" cx="189.23" cy="427.86" r="2.35"/><path class="w6" d="M187.93 427.26l1.6 1.6M188.73 426.56l1.6 1.6"/>
<circle class="p6" cx="191.47" cy="454.97" r="2.35"/><path class="w6" d="M190.17 454.37l1.6 1.6M190.97 453.67l1.6 1.6"/>
<circle class="p6" cx="183.45" cy="457.46" r="2.35"/><path class="w6" d="M182.15 456.86l1.6 1.6M182.95 456.16l1.6 1.6"/>
<circle class="p6" cx="185.43" cy="445.84" r="2.35"/><path class="w6" d="M184.13 445.24l1.6 1.6M184.93 444.54l1.6 1.6"/>
<circle class="p6" cx="199.88" cy="452.57" r="2.35"/><path class="w6" d="M198.58 451.97l1.6 1.6M199.38 451.27l1.6 1.6"/>
<circle class="p6" cx="193.37" cy="450.08" r="2.35"/><path class="w6" d="M192.07 449.48l1.6 1.6M192.87 448.78l1.6 1.6"/>
<circle class="p6" cx="182.16" cy="456.56" r="2.35"/><path class="w6" d="M180.86 455.96l1.6 1.6M181.66 455.26l1.6 1.6"/>
<circle class="p6" cx="195.3" cy="437.48" r="2.35"/><path class="w6" d="M194 436.88l1.6 1.6M194.8 436.18l1.6 1.6"/>
<circle class="p6" cx="202.61" cy="439.78" r="2.35"/><path class="w6" d="M201.31 439.18l1.6 1.6M202.11 438.48l1.6 1.6"/>
<circle class="p6" cx="205.32" cy="446.11" r="2.35"/><path class="w6" d="M204.02 445.51l1.6 1.6M204.82 444.81l1.6 1.6"/>
<circle class="p6" cx="201.06" cy="447.91" r="2.35"/><path class="w6" d="M199.76 447.31l1.6 1.6M200.56 446.61l1.6 1.6"/>
<circle class="p6" cx="182.55" cy="449.83" r="2.35"/><path class="w6" d="M181.25 449.23l1.6 1.6M182.05 448.53l1.6 1.6"/>
<circle class="p6" cx="186.8" cy="446.82" r="2.35"/><path class="w6" d="M185.5 446.22l1.6 1.6M186.3 445.52l1.6 1.6"/>
<circle class="p6" cx="184.67" cy="441.55" r="2.35"/><path class="w6" d="M183.37 440.95l1.6 1.6M184.17 440.25l1.6 1.6"/>
<circle class="p6" cx="195.95" cy="425.23" r="2.35"/><path class="w6" d="M194.65 424.63l1.6 1.6M195.45 423.93l1.6 1.6"/>
<circle class="p6" cx="188.4" cy="454.98" r="2.35"/><path class="w6" d="M187.1 454.38l1.6 1.6M187.9 453.68l1.6 1.6"/>
<circle class="p6" cx="186.33" cy="433.05" r="2.35"/><path class="w6" d="M185.03 432.45l1.6 1.6M185.83 431.75l1.6 1.6"/>
<circle class="p6" cx="181.18" cy="440.9" r="2.35"/><path class="w6" d="M179.88 440.3l1.6 1.6M180.68 439.6l1.6 1.6"/>
<circle class="p6" cx="186.97" cy="451.34" r="2.35"/><path class="w6" d="M185.67 450.74l1.6 1.6M186.47 450.04l1.6 1.6"/>
<circle class="p6" cx="191.67" cy="449.08" r="2.35"/><path class="w6" d="M190.37 448.48l1.6 1.6M191.17 447.78l1.6 1.6"/>
<circle class="p6" cx="204.94" cy="440.9" r="2.35"/><path class="w6" d="M203.64 440.3l1.6 1.6M204.44 439.6l1.6 1.6"/>
<circle class="p6" cx="205.03" cy="454.02" r="2.35"/><path class="w6" d="M203.73 453.42l1.6 1.6M204.53 452.72l1.6 1.6"/>
<circle class="p6" cx="183.2" cy="457.74" r="2.35"/><path class="w6" d="M181.9 457.14l1.6 1.6M182.7 456.44l1.6 1.6"/>
<circle class="p6" cx="184.37" cy="446.04" r="2.35"/><path class="w6" d="M183.07 445.44l1.6 1.6M183.87 444.74l1.6 1.6"/>
<circle class="p6" cx="204.51" cy="440.82" r="2.35"/><path class="w6" d="M203.21 440.22l1.6 1.6M204.01 439.52l1.6 1.6"/>
<circle class="p6" cx="185.1" cy="447.53" r="2.35"/><path class="w6" d="M183.8 446.93l1.6 1.6M184.6 446.23l1.6 1.6"/>
<circle class="p6" cx="183.33" cy="452.87" r="2.35"/><path class="w6" d="M182.03 452.27l1.6 1.6M182.83 451.57l1.6 1.6"/>
<circle class="p6" cx="186.16" cy="447.49" r="2.35"/><path class="w6" d="M184.86 446.89l1.6 1.6M185.66 446.19l1.6 1.6"/>
<circle class="p6" cx="189.13" cy="441.2" r="2.35"/><path class="w6" d="M187.83 440.6l1.6 1.6M188.63 439.9l1.6 1.6"/>
<circle class="p6" cx="184.62" cy="445.82" r="2.35"/><path class="w6" d="M183.32 445.22l1.6 1.6M184.12 444.52l1.6 1.6"/>
<circle class="p6" cx="201.46" cy="446.32" r="2.35"/><path class="w6" d="M200.16 445.72l1.6 1.6M200.96 445.02l1.6 1.6"/>
<circle class="p6" cx="199.98" cy="445.15" r="2.35"/><path class="w6" d="M198.68 444.55l1.6 1.6M199.48 443.85l1.6 1.6"/>
<circle class="p6" cx="196.67" cy="437.33" r="2.35"/><path class="w6" d="M195.37 436.73l1.6 1.6M196.17 436.03l1.6 1.6"/>
<circle class="p6" cx="185.19" cy="451.43" r="2.35"/><path class="w6" d="M183.89 450.83l1.6 1.6M184.69 450.13l1.6 1.6"/>
<circle class="p6" cx="204.31" cy="456.72" r="2.35"/><path class="w6" d="M203.01 456.12l1.6 1.6M203.81 455.42l1.6 1.6"/>
<circle class="p6" cx="195.67" cy="411.97" r="2.35"/><path class="w6" d="M194.37 411.37l1.6 1.6M195.17 410.67l1.6 1.6"/>
<circle class="p6" cx="204.01" cy="442.7" r="2.35"/><path class="w6" d="M202.71 442.1l1.6 1.6M203.51 441.4l1.6 1.6"/>
<circle class="p6" cx="187.41" cy="444.72" r="2.35"/><path class="w6" d="M186.11 444.12l1.6 1.6M186.91 443.42l1.6 1.6"/>
<circle class="p6" cx="198.21" cy="425.86" r="2.35"/><path class="w6" d="M196.91 425.26l1.6 1.6M197.71 424.56l1.6 1.6"/>
<circle class="p6" cx="201.23" cy="448.87" r="2.35"/><path class="w6" d="M199.93 448.27l1.6 1.6M200.73 447.57l1.6 1.6"/>
<circle class="p6" cx="202.78" cy="418.25" r="2.35"/><path class="w6" d="M201.48 417.65l1.6 1.6M202.28 416.95l1.6 1.6"/>
<circle class="p6" cx="189.72" cy="456.5" r="2.35"/><path class="w6" d="M188.42 455.9l1.6 1.6M189.22 455.2l1.6 1.6"/>
<circle class="p6" cx="191.63" cy="443.5" r="2.35"/><path class="w6" d="M190.33 442.9l1.6 1.6M191.13 442.2l1.6 1.6"/>
<circle class="p6" cx="205.1" cy="454.73" r="2.35"/><path class="w6" d="M203.8 454.13l1.6 1.6M204.6 453.43l1.6 1.6"/>
<circle class="p6" cx="187.78" cy="454.33" r="2.35"/><path class="w6" d="M186.48 453.73l1.6 1.6M187.28 453.03l1.6 1.6"/>
<circle class="p6" cx="192.67" cy="450.73" r="2.35"/><path class="w6" d="M191.37 450.13l1.6 1.6M192.17 449.43l1.6 1.6"/>
<circle class="p6" cx="204.74" cy="432.35" r="2.35"/><path class="w6" d="M203.44 431.75l1.6 1.6M204.24 431.05l1.6 1.6"/>
<circle class="p6" cx="184.49" cy="451.03" r="2.35"/><path class="w6" d="M183.19 450.43l1.6 1.6M183.99 449.73l1.6 1.6"/>
<circle class="p6" cx="188.85" cy="428.08" r="2.35"/><path class="w6" d="M187.55 427.48l1.6 1.6M188.35 426.78l1.6 1.6"/>
<circle class="p6" cx="190.17" cy="446.16" r="2.35"/><path class="w6" d="M188.87 445.56l1.6 1.6M189.67 444.86l1.6 1.6"/>
<circle class="p6" cx="190.17" cy="419.68" r="2.35"/><path class="w6" d="M188.87 419.08l1.6 1.6M189.67 418.38l1.6 1.6"/>
<circle class="p6" cx="203.42" cy="453.56" r="2.35"/><path class="w6" d="M202.12 452.96l1.6 1.6M202.92 452.26l1.6 1.6"/>
<circle class="p6" cx="184.37" cy="445.49" r="2.35"/><path class="w6" d="M183.07 444.89l1.6 1.6M183.87 444.19l1.6 1.6"/>
<circle class="p6" cx="196.49" cy="440.98" r="2.35"/><path class="w6" d="M195.19 440.38l1.6 1.6M195.99 439.68l1.6 1.6"/>
<circle class="p6" cx="195.48" cy="447.55" r="2.35"/><path class="w6" d="M194.18 446.95l1.6 1.6M194.98 446.25l1.6 1.6"/>
<circle class="p6" cx="192.2" cy="451.27" r="2.35"/><path class="w6" d="M190.9 450.67l1.6 1.6M191.7 449.97l1.6 1.6"/>
<circle class="p6" cx="184.48" cy="448.93" r="2.35"/><path class="w6" d="M183.18 448.33l1.6 1.6M183.98 447.63l1.6 1.6"/>
<circle class="p6" cx="196.36" cy="450.75" r="2.35"/><path class="w6" d="M195.06 450.15l1.6 1.6M195.86 449.45l1.6 1.6"/>
<circle class="p6" cx="196.98" cy="456.98" r="2.35"/><path class="w6" d="M195.68 456.38l1.6 1.6M196.48 455.68l1.6 1.6"/>
<circle class="p6" cx="202.15" cy="447.69" r="2.35"/><path class="w6" d="M200.85 447.09l1.6 1.6M201.65 446.39l1.6 1.6"/>
<circle class="p6" cx="198.56" cy="440.69" r="2.35"/><path class="w6" d="M197.26 440.09l1.6 1.6M198.06 439.39l1.6 1.6"/>
<circle class="p6" cx="194.86" cy="445.83" r="2.35"/><path class="w6" d="M193.56 445.23l1.6 1.6M194.36 444.53l1.6 1.6"/>
<circle class="p6" cx="188.97" cy="444" r="2.35"/><path class="w6" d="M187.67 443.4l1.6 1.6M188.47 442.7l1.6 1.6"/>
<circle class="p6" cx="201.51" cy="448.6" r="2.35"/><path class="w6" d="M200.21 448l1.6 1.6M201.01 447.3l1.6 1.6"/>
<circle class="p6" cx="204.75" cy="436.32" r="2.35"/><path class="w6" d="M203.45 435.72l1.6 1.6M204.25 435.02l1.6 1.6"/>
<circle class="p6" cx="185.02" cy="452.49" r="2.35"/><path class="w6" d="M183.72 451.89l1.6 1.6M184.52 451.19l1.6 1.6"/>
<circle class="p6" cx="189.64" cy="450.75" r="2.35"/><path class="w6" d="M188.34 450.15l1.6 1.6M189.14 449.45l1.6 1.6"/>
<circle class="p6" cx="193.7" cy="454.15" r="2.35"/><path class="w6" d="M192.4 453.55l1.6 1.6M193.2 452.85l1.6 1.6"/>
<circle class="p6" cx="199.23" cy="457.13" r="2.35"/><path class="w6" d="M197.93 456.53l1.6 1.6M198.73 455.83l1.6 1.6"/>
<circle class="p6" cx="196.46" cy="441.85" r="2.35"/><path class="w6" d="M195.16 441.25l1.6 1.6M195.96 440.55l1.6 1.6"/>
<circle class="p6" cx="189.31" cy="443.88" r="2.35"/><path class="w6" d="M188.01 443.28l1.6 1.6M188.81 442.58l1.6 1.6"/>
<circle class="p6" cx="201.02" cy="431.92" r="2.35"/><path class="w6" d="M199.72 431.32l1.6 1.6M200.52 430.62l1.6 1.6"/>
<circle class="p6" cx="181.21" cy="448.01" r="2.35"/><path class="w6" d="M179.91 447.41l1.6 1.6M180.71 446.71l1.6 1.6"/>
<circle class="p6" cx="201.2" cy="446.42" r="2.35"/><path class="w6" d="M199.9 445.82l1.6 1.6M200.7 445.12l1.6 1.6"/>
<circle class="p6" cx="203.51" cy="453.13" r="2.35"/><path class="w6" d="M202.21 452.53l1.6 1.6M203.01 451.83l1.6 1.6"/>
<circle class="p6" cx="195.41" cy="441.89" r="2.35"/><path class="w6" d="M194.11 441.29l1.6 1.6M194.91 440.59l1.6 1.6"/>
<circle class="p6" cx="200.11" cy="456.26" r="2.35"/><path class="w6" d="M198.81 455.66l1.6 1.6M199.61 454.96l1.6 1.6"/>
<circle class="p6" cx="199.67" cy="446.83" r="2.35"/><path class="w6" d="M198.37 446.23l1.6 1.6M199.17 445.53l1.6 1.6"/>
<circle class="p6" cx="194.13" cy="457.25" r="2.35"/><path class="w6" d="M192.83 456.65l1.6 1.6M193.63 455.95l1.6 1.6"/>
<circle class="p6" cx="199.82" cy="447.39" r="2.35"/><path class="w6" d="M198.52 446.79l1.6 1.6M199.32 446.09l1.6 1.6"/>
<circle class="p6" cx="182.09" cy="451.19" r="2.35"/><path class="w6" d="M180.79 450.59l1.6 1.6M181.59 449.89l1.6 1.6"/>
<circle class="p6" cx="190.79" cy="413" r="2.35"/><path class="w6" d="M189.49 412.4l1.6 1.6M190.29 411.7l1.6 1.6"/>
<circle class="p6" cx="194.1" cy="449.53" r="2.35"/><path class="w6" d="M192.8 448.93l1.6 1.6M193.6 448.23l1.6 1.6"/>
<circle class="p6" cx="202.79" cy="444.7" r="2.35"/><path class="w6" d="M201.49 444.1l1.6 1.6M202.29 443.4l1.6 1.6"/>
<circle class="p6" cx="183.08" cy="442.19" r="2.35"/><path class="w6" d="M181.78 441.59l1.6 1.6M182.58 440.89l1.6 1.6"/>
<circle class="p6" cx="200.27" cy="452.45" r="2.35"/><path class="w6" d="M198.97 451.85l1.6 1.6M199.77 451.15l1.6 1.6"/>
<circle class="p6" cx="188.13" cy="444.05" r="2.35"/><path class="w6" d="M186.83 443.45l1.6 1.6M187.63 442.75l1.6 1.6"/>
<circle class="p6" cx="200.74" cy="429.13" r="2.35"/><path class="w6" d="M199.44 428.53l1.6 1.6M200.24 427.83l1.6 1.6"/>
<circle class="p6" cx="183.21" cy="445.05" r="2.35"/><path class="w6" d="M181.91 444.45l1.6 1.6M182.71 443.75l1.6 1.6"/>
<circle class="p6" cx="186.76" cy="423.19" r="2.35"/><path class="w6" d="M185.46 422.59l1.6 1.6M186.26 421.89l1.6 1.6"/>
<circle class="p6" cx="191.28" cy="451.2" r="2.35"/><path class="w6" d="M189.98 450.6l1.6 1.6M190.78 449.9l1.6 1.6"/>
<circle class="p6" cx="204.14" cy="454.02" r="2.35"/><path class="w6" d="M202.84 453.42l1.6 1.6M203.64 452.72l1.6 1.6"/>
<circle class="p6" cx="201.98" cy="450.85" r="2.35"/><path class="w6" d="M200.68 450.25l1.6 1.6M201.48 449.55l1.6 1.6"/>
<circle class="p6" cx="194.07" cy="447.75" r="2.35"/><path class="w6" d="M192.77 447.15l1.6 1.6M193.57 446.45l1.6 1.6"/>
<circle class="p6" cx="186.59" cy="440.11" r="2.35"/><path class="w6" d="M185.29 439.51l1.6 1.6M186.09 438.81l1.6 1.6"/>
<circle class="p6" cx="203.54" cy="439.22" r="2.35"/><path class="w6" d="M202.24 438.62l1.6 1.6M203.04 437.92l1.6 1.6"/>
<circle class="p6" cx="200.71" cy="436.9" r="2.35"/><path class="w6" d="M199.41 436.3l1.6 1.6M200.21 435.6l1.6 1.6"/>
<circle class="p6" cx="197.2" cy="443.22" r="2.35"/><path class="w6" d="M195.9 442.62l1.6 1.6M196.7 441.92l1.6 1.6"/>
<circle class="p6" cx="182.04" cy="442.76" r="2.35"/><path class="w6" d="M180.74 442.16l1.6 1.6M181.54 441.46l1.6 1.6"/>
<circle class="p6" cx="197.69" cy="453.33" r="2.35"/><path class="w6" d="M196.39 452.73l1.6 1.6M197.19 452.03l1.6 1.6"/>
<circle class="p6" cx="203.37" cy="451.11" r="2.35"/><path class="w6" d="M202.07 450.51l1.6 1.6M202.87 449.81l1.6 1.6"/>
<circle class="p6" cx="195.17" cy="448.13" r="2.35"/><path class="w6" d="M193.87 447.53l1.6 1.6M194.67 446.83l1.6 1.6"/>
<circle class="p6" cx="199.7" cy="456.09" r="2.35"/><path class="w6" d="M198.4 455.49l1.6 1.6M199.2 454.79l1.6 1.6"/>
<circle class="p6" cx="203.91" cy="454.11" r="2.35"/><path class="w6" d="M202.61 453.51l1.6 1.6M203.41 452.81l1.6 1.6"/>
<circle class="p6" cx="194.55" cy="451.52" r="2.35"/><path class="w6" d="M193.25 450.92l1.6 1.6M194.05 450.22l1.6 1.6"/>
<circle class="p6" cx="204.21" cy="447.04" r="2.35"/><path class="w6" d="M202.91 446.44l1.6 1.6M203.71 445.74l1.6 1.6"/>
<circle class="p6" cx="199.86" cy="454.93" r="2.35"/><path class="w6" d="M198.56 454.33l1.6 1.6M199.36 453.63l1.6 1.6"/>
<circle class="p6" cx="193.49" cy="430.68" r="2.35"/><path class="w6" d="M192.19 430.08l1.6 1.6M192.99 429.38l1.6 1.6"/>
<circle class="p6" cx="184.84" cy="447.36" r="2.35"/><path class="w6" d="M183.54 446.76l1.6 1.6M184.34 446.06l1.6 1.6"/>
<circle class="p6" cx="186.73" cy="449.29" r="2.35"/><path class="w6" d="M185.43 448.69l1.6 1.6M186.23 447.99l1.6 1.6"/>
<circle class="p6" cx="205.91" cy="442.34" r="2.35"/><path class="w6" d="M204.61 441.74l1.6 1.6M205.41 441.04l1.6 1.6"/>
<circle class="p6" cx="201.62" cy="456.61" r="2.35"/><path class="w6" d="M200.32 456.01l1.6 1.6M201.12 455.31l1.6 1.6"/>
<circle class="p6" cx="204.35" cy="456.02" r="2.35"/><path class="w6" d="M203.05 455.42l1.6 1.6M203.85 454.72l1.6 1.6"/>
<circle class="p6" cx="195.82" cy="448.63" r="2.35"/><path class="w6" d="M194.52 448.03l1.6 1.6M195.32 447.33l1.6 1.6"/>
<circle class="p6" cx="197.66" cy="447.5" r="2.35"/><path class="w6" d="M196.36 446.9l1.6 1.6M197.16 446.2l1.6 1.6"/>
<circle class="p6" cx="205.46" cy="454.21" r="2.35"/><path class="w6" d="M204.16 453.61l1.6 1.6M204.96 452.91l1.6 1.6"/>
<circle class="p6" cx="186.19" cy="447.91" r="2.35"/><path class="w6" d="M184.89 447.31l1.6 1.6M185.69 446.61l1.6 1.6"/>
<circle class="p6" cx="186.04" cy="454.02" r="2.35"/><path class="w6" d="M184.74 453.42l1.6 1.6M185.54 452.72l1.6 1.6"/>
<circle class="p6" cx="200.71" cy="451.07" r="2.35"/><path class="w6" d="M199.41 450.47l1.6 1.6M200.21 449.77l1.6 1.6"/>
<circle class="p6" cx="181.43" cy="444.7" r="2.35"/><path class="w6" d="M180.13 444.1l1.6 1.6M180.93 443.4l1.6 1.6"/>
<circle class="p6" cx="185.25" cy="441.82" r="2.35"/><path class="w6" d="M183.95 441.22l1.6 1.6M184.75 440.52l1.6 1.6"/>
<circle class="p6" cx="187.94" cy="437.45" r="2.35"/><path class="w6" d="M186.64 436.85l1.6 1.6M187.44 436.15l1.6 1.6"/>
<circle class="p6" cx="189.92" cy="449.59" r="2.35"/><path class="w6" d="M188.62 448.99l1.6 1.6M189.42 448.29l1.6 1.6"/>
<circle class="p6" cx="182.83" cy="444.24" r="2.35"/><path class="w6" d="M181.53 443.64l1.6 1.6M182.33 442.94l1.6 1.6"/>
<circle class="p6" cx="202.32" cy="431.17" r="2.35"/><path class="w6" d="M201.02 430.57l1.6 1.6M201.82 429.87l1.6 1.6"/>
<circle class="p6" cx="197.75" cy="445.62" r="2.35"/><path class="w6" d="M196.45 445.02l1.6 1.6M197.25 444.32l1.6 1.6"/>
<circle class="p6" cx="193.85" cy="445.8" r="2.35"/><path class="w6" d="M192.55 445.2l1.6 1.6M193.35 444.5l1.6 1.6"/>
<circle class="p6" cx="181.94" cy="453.79" r="2.35"/><path class="w6" d="M180.64 453.19l1.6 1.6M181.44 452.49l1.6 1.6"/>
<circle class="p6" cx="194.04" cy="452.5" r="2.35"/><path class="w6" d="M192.74 451.9l1.6 1.6M193.54 451.2l1.6 1.6"/>
<circle class="p6" cx="197.9" cy="453.23" r="2.35"/><path class="w6" d="M196.6 452.63l1.6 1.6M197.4 451.93l1.6 1.6"/>
<circle class="p6" cx="200.61" cy="457" r="2.35"/><path class="w6" d="M199.31 456.4l1.6 1.6M200.11 455.7l1.6 1.6"/>
<circle class="p6" cx="203.36" cy="451.13" r="2.35"/><path class="w6" d="M202.06 450.53l1.6 1.6M202.86 449.83l1.6 1.6"/>
<circle class="p6" cx="202.56" cy="456.95" r="2.35"/><path class="w6" d="M201.26 456.35l1.6 1.6M202.06 455.65l1.6 1.6"/>
<circle class="p6" cx="197.92" cy="452.66" r="2.35"/><path class="w6" d="M196.62 452.06l1.6 1.6M197.42 451.36l1.6 1.6"/>
<circle class="p6" cx="195.94" cy="444.74" r="2.35"/><path class="w6" d="M194.64 444.14l1.6 1.6M195.44 443.44l1.6 1.6"/>
<circle class="p6" cx="182.58" cy="449.1" r="2.35"/><path class="w6" d="M181.28 448.5l1.6 1.6M182.08 447.8l1.6 1.6"/>
<circle class="p6" cx="198.78" cy="444.86" r="2.35"/><path class="w6" d="M197.48 444.26l1.6 1.6M198.28 443.56l1.6 1.6"/>
<circle class="p6" cx="189.99" cy="455.88" r="2.35"/><path class="w6" d="M188.69 455.28l1.6 1.6M189.49 454.58l1.6 1.6"/>
<circle class="p6" cx="194.92" cy="433.25" r="2.35"/><path class="w6" d="M193.62 432.65l1.6 1.6M194.42 431.95l1.6 1.6"/>
<circle class="p6" cx="195.44" cy="451.35" r="2.35"/><path class="w6" d="M194.14 450.75l1.6 1.6M194.94 450.05l1.6 1.6"/>
<circle class="p6" cx="193.82" cy="455.02" r="2.35"/><path class="w6" d="M192.52 454.42l1.6 1.6M193.32 453.72l1.6 1.6"/>
<circle class="p6" cx="181.92" cy="423.81" r="2.35"/><path class="w6" d="M180.62 423.21l1.6 1.6M181.42 422.51l1.6 1.6"/>
<circle class="p6" cx="182.55" cy="457.34" r="2.35"/><path class="w6" d="M181.25 456.74l1.6 1.6M182.05 456.04l1.6 1.6"/>
<circle class="p6" cx="190.74" cy="443.51" r="2.35"/><path class="w6" d="M189.44 442.91l1.6 1.6M190.24 442.21l1.6 1.6"/>
<circle class="p6" cx="196.83" cy="448.48" r="2.35"/><path class="w6" d="M195.53 447.88l1.6 1.6M196.33 447.18l1.6 1.6"/>
<circle class="p6" cx="201.64" cy="448.15" r="2.35"/><path class="w6" d="M200.34 447.55l1.6 1.6M201.14 446.85l1.6 1.6"/>
<circle class="p6" cx="204.91" cy="439.83" r="2.35"/><path class="w6" d="M203.61 439.23l1.6 1.6M204.41 438.53l1.6 1.6"/>
<circle class="p6" cx="201.57" cy="447.7" r="2.35"/><path class="w6" d="M200.27 447.1l1.6 1.6M201.07 446.4l1.6 1.6"/>
<circle class="p6" cx="205.4" cy="441.34" r="2.35"/><path class="w6" d="M204.1 440.74l1.6 1.6M204.9 440.04l1.6 1.6"/>
<circle class="p6" cx="196.33" cy="446.84" r="2.35"/><path class="w6" d="M195.03 446.24l1.6 1.6M195.83 445.54l1.6 1.6"/>
<circle class="p6" cx="189.61" cy="452.29" r="2.35"/><path class="w6" d="M188.31 451.69l1.6 1.6M189.11 450.99l1.6 1.6"/>
<circle class="p6" cx="191" cy="449.67" r="2.35"/><path class="w6" d="M189.7 449.07l1.6 1.6M190.5 448.37l1.6 1.6"/>
<circle class="p6" cx="186.87" cy="450.89" r="2.35"/><path class="w6" d="M185.57 450.29l1.6 1.6M186.37 449.59l1.6 1.6"/>
<circle class="p6" cx="196.82" cy="454.79" r="2.35"/><path class="w6" d="M195.52 454.19l1.6 1.6M196.32 453.49l1.6 1.6"/>
<circle class="p6" cx="198.12" cy="402.99" r="2.35"/><path class="w6" d="M196.82 402.39l1.6 1.6M197.62 401.69l1.6 1.6"/>
<circle class="p6" cx="198.42" cy="436.85" r="2.35"/><path class="w6" d="M197.12 436.25l1.6 1.6M197.92 435.55l1.6 1.6"/>
<circle class="p6" cx="191.1" cy="441.8" r="2.35"/><path class="w6" d="M189.8 441.2l1.6 1.6M190.6 440.5l1.6 1.6"/>
<circle class="p6" cx="183.96" cy="444.1" r="2.35"/><path class="w6" d="M182.66 443.5l1.6 1.6M183.46 442.8l1.6 1.6"/>
<circle class="p6" cx="199.65" cy="454.38" r="2.35"/><path class="w6" d="M198.35 453.78l1.6 1.6M199.15 453.08l1.6 1.6"/>
<circle class="p6" cx="188.29" cy="450.6" r="2.35"/><path class="w6" d="M186.99 450l1.6 1.6M187.79 449.3l1.6 1.6"/>
<circle class="p6" cx="202.96" cy="448.41" r="2.35"/><path class="w6" d="M201.66 447.81l1.6 1.6M202.46 447.11l1.6 1.6"/>
<circle class="p6" cx="204.98" cy="457.55" r="2.35"/><path class="w6" d="M203.68 456.95l1.6 1.6M204.48 456.25l1.6 1.6"/>
<circle class="p6" cx="196.28" cy="451.77" r="2.35"/><path class="w6" d="M194.98 451.17l1.6 1.6M195.78 450.47l1.6 1.6"/>
<circle class="p6" cx="184.32" cy="454.46" r="2.35"/><path class="w6" d="M183.02 453.86l1.6 1.6M183.82 453.16l1.6 1.6"/>
<circle class="p6" cx="205.21" cy="442.01" r="2.35"/><path class="w6" d="M203.91 441.41l1.6 1.6M204.71 440.71l1.6 1.6"/>
<circle class="p6" cx="182.53" cy="451.47" r="2.35"/><path class="w6" d="M181.23 450.87l1.6 1.6M182.03 450.17l1.6 1.6"/>
<circle class="p6" cx="187.3" cy="451.77" r="2.35"/><path class="w6" d="M186 451.17l1.6 1.6M186.8 450.47l1.6 1.6"/>
<circle class="p6" cx="189.49" cy="454.17" r="2.35"/><path class="w6" d="M188.19 453.57l1.6 1.6M188.99 452.87l1.6 1.6"/>
<circle class="p6" cx="189.33" cy="448.84" r="2.35"/><path class="w6" d="M188.03 448.24l1.6 1.6M188.83 447.54l1.6 1.6"/>
<circle class="p6" cx="201.04" cy="452.69" r="2.35"/><path class="w6" d="M199.74 452.09l1.6 1.6M200.54 451.39l1.6 1.6"/>
<circle class="p6" cx="202.07" cy="453.07" r="2.35"/><path class="w6" d="M200.77 452.47l1.6 1.6M201.57 451.77l1.6 1.6"/>
<circle class="p6" cx="202.07" cy="427.61" r="2.35"/><path class="w6" d="M200.77 427.01l1.6 1.6M201.57 426.31l1.6 1.6"/>
<circle class="p6" cx="181.34" cy="453.64" r="2.35"/><path class="w6" d="M180.04 453.04l1.6 1.6M180.84 452.34l1.6 1.6"/>
<circle class="p6" cx="195.46" cy="438.77" r="2.35"/><path class="w6" d="M194.16 438.17l1.6 1.6M194.96 437.47l1.6 1.6"/>
<circle class="p6" cx="205.01" cy="444.22" r="2.35"/><path class="w6" d="M203.71 443.62l1.6 1.6M204.51 442.92l1.6 1.6"/>
<circle class="p6" cx="182.63" cy="445.03" r="2.35"/><path class="w6" d="M181.33 444.43l1.6 1.6M182.13 443.73l1.6 1.6"/>
<circle class="p6" cx="191.41" cy="441.41" r="2.35"/><path class="w6" d="M190.11 440.81l1.6 1.6M190.91 440.11l1.6 1.6"/>
<circle class="p6" cx="187.86" cy="407.94" r="2.35"/><path class="w6" d="M186.56 407.34l1.6 1.6M187.36 406.64l1.6 1.6"/>
<circle class="p6" cx="185.28" cy="451.75" r="2.35"/><path class="w6" d="M183.98 451.15l1.6 1.6M184.78 450.45l1.6 1.6"/>
<circle class="p6" cx="193.63" cy="441.36" r="2.35"/><path class="w6" d="M192.33 440.76l1.6 1.6M193.13 440.06l1.6 1.6"/>
<circle class="p6" cx="191.01" cy="448.8" r="2.35"/><path class="w6" d="M189.71 448.2l1.6 1.6M190.51 447.5l1.6 1.6"/>
<circle class="p6" cx="203.51" cy="451.62" r="2.35"/><path class="w6" d="M202.21 451.02l1.6 1.6M203.01 450.32l1.6 1.6"/>
<circle class="p6" cx="199.63" cy="438.9" r="2.35"/><path class="w6" d="M198.33 438.3l1.6 1.6M199.13 437.6l1.6 1.6"/>
<circle class="p6" cx="182.66" cy="448.78" r="2.35"/><path class="w6" d="M181.36 448.18l1.6 1.6M182.16 447.48l1.6 1.6"/>
<circle class="p6" cx="188.21" cy="456.81" r="2.35"/><path class="w6" d="M186.91 456.21l1.6 1.6M187.71 455.51l1.6 1.6"/>
<circle class="p6" cx="205.78" cy="450.86" r="2.35"/><path class="w6" d="M204.48 450.26l1.6 1.6M205.28 449.56l1.6 1.6"/>
<circle class="p6" cx="193.64" cy="448.67" r="2.35"/><path class="w6" d="M192.34 448.07l1.6 1.6M193.14 447.37l1.6 1.6"/>
<circle class="p6" cx="196.86" cy="455.56" r="2.35"/><path class="w6" d="M195.56 454.96l1.6 1.6M196.36 454.26l1.6 1.6"/>
<circle class="p6" cx="186.97" cy="445.3" r="2.35"/><path class="w6" d="M185.67 444.7l1.6 1.6M186.47 444l1.6 1.6"/>
<circle class="p6" cx="194.09" cy="451.15" r="2.35"/><path class="w6" d="M192.79 450.55l1.6 1.6M193.59 449.85l1.6 1.6"/>
<circle class="p6" cx="187.91" cy="440.57" r="2.35"/><path class="w6" d="M186.61 439.97l1.6 1.6M187.41 439.27l1.6 1.6"/>
<circle class="p6" cx="181.05" cy="442.66" r="2.35"/><path class="w6" d="M179.75 442.06l1.6 1.6M180.55 441.36l1.6 1.6"/>
<circle class="p6" cx="200.83" cy="453.9" r="2.35"/><path class="w6" d="M199.53 453.3l1.6 1.6M200.33 452.6l1.6 1.6"/>
<circle class="p6" cx="186.3" cy="441.82" r="2.35"/><path class="w6" d="M185 441.22l1.6 1.6M185.8 440.52l1.6 1.6"/>
<circle class="p6" cx="183.38" cy="449.6" r="2.35"/><path class="w6" d="M182.08 449l1.6 1.6M182.88 448.3l1.6 1.6"/>
<circle class="p6" cx="185.55" cy="447.75" r="2.35"/><path class="w6" d="M184.25 447.15l1.6 1.6M185.05 446.45l1.6 1.6"/>
<circle class="p6" cx="199.16" cy="444.85" r="2.35"/><path class="w6" d="M197.86 444.25l1.6 1.6M198.66 443.55l1.6 1.6"/>
<circle class="p6" cx="184.44" cy="421.75" r="2.35"/><path class="w6" d="M183.14 421.15l1.6 1.6M183.94 420.45l1.6 1.6"/>
<circle class="p6" cx="196.42" cy="451.14" r="2.35"/><path class="w6" d="M195.12 450.54l1.6 1.6M195.92 449.84l1.6 1.6"/>
<circle class="p6" cx="191.92" cy="427.13" r="2.35"/><path class="w6" d="M190.62 426.53l1.6 1.6M191.42 425.83l1.6 1.6"/>
<circle class="p6" cx="184.63" cy="444.92" r="2.35"/><path class="w6" d="M183.33 444.32l1.6 1.6M184.13 443.62l1.6 1.6"/>
<circle class="p6" cx="200.91" cy="451.99" r="2.35"/><path class="w6" d="M199.61 451.39l1.6 1.6M200.41 450.69l1.6 1.6"/>
<circle class="p6" cx="182.72" cy="441.32" r="2.35"/><path class="w6" d="M181.42 440.72l1.6 1.6M182.22 440.02l1.6 1.6"/>
<circle class="p6" cx="189.39" cy="451.32" r="2.35"/><path class="w6" d="M188.09 450.72l1.6 1.6M188.89 450.02l1.6 1.6"/>
<circle class="p6" cx="199.43" cy="456.63" r="2.35"/><path class="w6" d="M198.13 456.03l1.6 1.6M198.93 455.33l1.6 1.6"/>
<circle class="p6" cx="183.03" cy="453.61" r="2.35"/><path class="w6" d="M181.73 453.01l1.6 1.6M182.53 452.31l1.6 1.6"/>
<circle class="p6" cx="188.89" cy="431.36" r="2.35"/><path class="w6" d="M187.59 430.76l1.6 1.6M188.39 430.06l1.6 1.6"/>
<circle class="p6" cx="187.08" cy="429.28" r="2.35"/><path class="w6" d="M185.78 428.68l1.6 1.6M186.58 427.98l1.6 1.6"/>
<circle class="p6" cx="186.91" cy="449.3" r="2.35"/><path class="w6" d="M185.61 448.7l1.6 1.6M186.41 448l1.6 1.6"/>
<circle class="p6" cx="200.33" cy="437.26" r="2.35"/><path class="w6" d="M199.03 436.66l1.6 1.6M199.83 435.96l1.6 1.6"/>
<circle class="p6" cx="203.57" cy="452.59" r="2.35"/><path class="w6" d="M202.27 451.99l1.6 1.6M203.07 451.29l1.6 1.6"/>
<circle class="p6" cx="191.46" cy="457.46" r="2.35"/><path class="w6" d="M190.16 456.86l1.6 1.6M190.96 456.16l1.6 1.6"/>
<circle class="p6" cx="200.1" cy="434.99" r="2.35"/><path class="w6" d="M198.8 434.39l1.6 1.6M199.6 433.69l1.6 1.6"/>
<circle class="p6" cx="191.07" cy="453.11" r="2.35"/><path class="w6" d="M189.77 452.51l1.6 1.6M190.57 451.81l1.6 1.6"/>
<circle class="p6" cx="194.54" cy="442.33" r="2.35"/><path class="w6" d="M193.24 441.73l1.6 1.6M194.04 441.03l1.6 1.6"/>
<circle class="p6" cx="182.12" cy="448.22" r="2.35"/><path class="w6" d="M180.82 447.62l1.6 1.6M181.62 446.92l1.6 1.6"/>
<circle class="p6" cx="198.41" cy="456.96" r="2.35"/><path class="w6" d="M197.11 456.36l1.6 1.6M197.91 455.66l1.6 1.6"/>
<circle class="p6" cx="196.78" cy="419.45" r="2.35"/><path class="w6" d="M195.48 418.85l1.6 1.6M196.28 418.15l1.6 1.6"/>
<circle class="p6" cx="182.87" cy="446.16" r="2.35"/><path class="w6" d="M181.57 445.56l1.6 1.6M182.37 444.86l1.6 1.6"/>
<circle class="p6" cx="194.01" cy="451.86" r="2.35"/><path class="w6" d="M192.71 451.26l1.6 1.6M193.51 450.56l1.6 1.6"/>
<circle class="p6" cx="184.51" cy="453.3" r="2.35"/><path class="w6" d="M183.21 452.7l1.6 1.6M184.01 452l1.6 1.6"/>
<circle class="p6" cx="182.82" cy="448.65" r="2.35"/><path class="w6" d="M181.52 448.05l1.6 1.6M182.32 447.35l1.6 1.6"/>
<circle class="p6" cx="201.76" cy="448.44" r="2.35"/><path class="w6" d="M200.46 447.84l1.6 1.6M201.26 447.14l1.6 1.6"/>
<circle class="p6" cx="204.45" cy="447.95" r="2.35"/><path class="w6" d="M203.15 447.35l1.6 1.6M203.95 446.65l1.6 1.6"/>
<circle class="p6" cx="204.97" cy="445.42" r="2.35"/><path class="w6" d="M203.67 444.82l1.6 1.6M204.47 444.12l1.6 1.6"/>
<circle class="p6" cx="196.73" cy="454.07" r="2.35"/><path class="w6" d="M195.43 453.47l1.6 1.6M196.23 452.77l1.6 1.6"/>
<circle class="p6" cx="197.21" cy="445.4" r="2.35"/><path class="w6" d="M195.91 444.8l1.6 1.6M196.71 444.1l1.6 1.6"/>
<circle class="p6" cx="181.29" cy="447.66" r="2.35"/><path class="w6" d="M179.99 447.06l1.6 1.6M180.79 446.36l1.6 1.6"/>
<circle class="p6" cx="197.57" cy="454.26" r="2.35"/><path class="w6" d="M196.27 453.66l1.6 1.6M197.07 452.96l1.6 1.6"/>
<circle class="p6" cx="182.66" cy="446.65" r="2.35"/><path class="w6" d="M181.36 446.05l1.6 1.6M182.16 445.35l1.6 1.6"/>
<circle class="p6" cx="204.72" cy="453.25" r="2.35"/><path class="w6" d="M203.42 452.65l1.6 1.6M204.22 451.95l1.6 1.6"/>
<circle class="p6" cx="196.77" cy="451.51" r="2.35"/><path class="w6" d="M195.47 450.91l1.6 1.6M196.27 450.21l1.6 1.6"/>
<circle class="p6" cx="190.07" cy="446.27" r="2.35"/><path class="w6" d="M188.77 445.67l1.6 1.6M189.57 444.97l1.6 1.6"/>
<circle class="p6" cx="193.3" cy="454.65" r="2.35"/><path class="w6" d="M192 454.05l1.6 1.6M192.8 453.35l1.6 1.6"/>
<circle class="p6" cx="182.62" cy="431.58" r="2.35"/><path class="w6" d="M181.32 430.98l1.6 1.6M182.12 430.28l1.6 1.6"/>
<circle class="p6" cx="201" cy="450.67" r="2.35"/><path class="w6" d="M199.7 450.07l1.6 1.6M200.5 449.37l1.6 1.6"/>
<circle class="p6" cx="188.65" cy="451.06" r="2.35"/><path class="w6" d="M187.35 450.46l1.6 1.6M188.15 449.76l1.6 1.6"/>
<circle class="p6" cx="183.14" cy="438.45" r="2.35"/><path class="w6" d="M181.84 437.85l1.6 1.6M182.64 437.15l1.6 1.6"/>
<circle class="p6" cx="195.69" cy="449.09" r="2.35"/><path class="w6" d="M194.39 448.49l1.6 1.6M195.19 447.79l1.6 1.6"/>
<circle class="p6" cx="184.8" cy="452.08" r="2.35"/><path class="w6" d="M183.5 451.48l1.6 1.6M184.3 450.78l1.6 1.6"/>
<circle class="p6" cx="203.99" cy="457.21" r="2.35"/><path class="w6" d="M202.69 456.61l1.6 1.6M203.49 455.91l1.6 1.6"/>
<circle class="p6" cx="195.82" cy="439.98" r="2.35"/><path class="w6" d="M194.52 439.38l1.6 1.6M195.32 438.68l1.6 1.6"/>
<circle class="p6" cx="181.13" cy="446.92" r="2.35"/><path class="w6" d="M179.83 446.32l1.6 1.6M180.63 445.62l1.6 1.6"/>
<circle class="p6" cx="204.53" cy="453.98" r="2.35"/><path class="w6" d="M203.23 453.38l1.6 1.6M204.03 452.68l1.6 1.6"/>
<circle class="p6" cx="186.35" cy="447.64" r="2.35"/><path class="w6" d="M185.05 447.04l1.6 1.6M185.85 446.34l1.6 1.6"/>
<circle class="p6" cx="183.28" cy="451.88" r="2.35"/><path class="w6" d="M181.98 451.28l1.6 1.6M182.78 450.58l1.6 1.6"/>
<circle class="p6" cx="205.17" cy="448.36" r="2.35"/><path class="w6" d="M203.87 447.76l1.6 1.6M204.67 447.06l1.6 1.6"/>
<circle class="p6" cx="198.03" cy="446.89" r="2.35"/><path class="w6" d="M196.73 446.29l1.6 1.6M197.53 445.59l1.6 1.6"/>
<circle class="p6" cx="201.53" cy="454.58" r="2.35"/><path class="w6" d="M200.23 453.98l1.6 1.6M201.03 453.28l1.6 1.6"/>
<circle class="p6" cx="184.39" cy="454.83" r="2.35"/><path class="w6" d="M183.09 454.23l1.6 1.6M183.89 453.53l1.6 1.6"/>
<circle class="p6" cx="191.41" cy="451.83" r="2.35"/><path class="w6" d="M190.11 451.23l1.6 1.6M190.91 450.53l1.6 1.6"/>
<circle class="p6" cx="199.93" cy="451.12" r="2.35"/><path class="w6" d="M198.63 450.52l1.6 1.6M199.43 449.82l1.6 1.6"/>
<circle class="p6" cx="203.06" cy="455.83" r="2.35"/><path class="w6" d="M201.76 455.23l1.6 1.6M202.56 454.53l1.6 1.6"/>
<circle class="p6" cx="198.61" cy="455.44" r="2.35"/><path class="w6" d="M197.31 454.84l1.6 1.6M198.11 454.14l1.6 1.6"/>
<circle class="p6" cx="199.68" cy="430.96" r="2.35"/><path class="w6" d="M198.38 430.36l1.6 1.6M199.18 429.66l1.6 1.6"/>
<circle class="p6" cx="188.97" cy="451.98" r="2.35"/><path class="w6" d="M187.67 451.38l1.6 1.6M188.47 450.68l1.6 1.6"/>
<circle class="p6" cx="205.63" cy="443.89" r="2.35"/><path class="w6" d="M204.33 443.29l1.6 1.6M205.13 442.59l1.6 1.6"/>
<circle class="p6" cx="197.76" cy="454.58" r="2.35"/><path class="w6" d="M196.46 453.98l1.6 1.6M197.26 453.28l1.6 1.6"/>
<circle class="p6" cx="200.39" cy="444.12" r="2.35"/><path class="w6" d="M199.09 443.52l1.6 1.6M199.89 442.82l1.6 1.6"/>
<circle class="p6" cx="205" cy="457.57" r="2.35"/><path class="w6" d="M203.7 456.97l1.6 1.6M204.5 456.27l1.6 1.6"/>
<circle class="p6" cx="195.52" cy="433.08" r="2.35"/><path class="w6" d="M194.22 432.48l1.6 1.6M195.02 431.78l1.6 1.6"/>
<circle class="p6" cx="189.43" cy="452.91" r="2.35"/><path class="w6" d="M188.13 452.31l1.6 1.6M188.93 451.61l1.6 1.6"/>
<circle class="p6" cx="202.3" cy="452.28" r="2.35"/><path class="w6" d="M201 451.68l1.6 1.6M201.8 450.98l1.6 1.6"/>
<circle class="p6" cx="197.46" cy="446.85" r="2.35"/><path class="w6" d="M196.16 446.25l1.6 1.6M196.96 445.55l1.6 1.6"/>
<circle class="p6" cx="192.95" cy="434.35" r="2.35"/><path class="w6" d="M191.65 433.75l1.6 1.6M192.45 433.05l1.6 1.6"/>
<circle class="p6" cx="195.74" cy="450.27" r="2.35"/><path class="w6" d="M194.44 449.67l1.6 1.6M195.24 448.97l1.6 1.6"/>
<circle class="p6" cx="204.08" cy="426.39" r="2.35"/><path class="w6" d="M202.78 425.79l1.6 1.6M203.58 425.09l1.6 1.6"/>
<circle class="p6" cx="185.97" cy="440.37" r="2.35"/><path class="w6" d="M184.67 439.77l1.6 1.6M185.47 439.07l1.6 1.6"/>
<circle class="p6" cx="198.72" cy="449.15" r="2.35"/><path class="w6" d="M197.42 448.55l1.6 1.6M198.22 447.85l1.6 1.6"/>
<circle class="p6" cx="194.44" cy="450.82" r="2.35"/><path class="w6" d="M193.14 450.22l1.6 1.6M193.94 449.52l1.6 1.6"/>
<circle class="p6" cx="200.59" cy="450.41" r="2.35"/><path class="w6" d="M199.29 449.81l1.6 1.6M200.09 449.11l1.6 1.6"/>
<circle class="p6" cx="190.55" cy="456.73" r="2.35"/><path class="w6" d="M189.25 456.13l1.6 1.6M190.05 455.43l1.6 1.6"/>
<circle class="p6" cx="202.03" cy="413.92" r="2.35"/><path class="w6" d="M200.73 413.32l1.6 1.6M201.53 412.62l1.6 1.6"/>
<circle class="p6" cx="190.33" cy="442.17" r="2.35"/><path class="w6" d="M189.03 441.57l1.6 1.6M189.83 440.87l1.6 1.6"/>
<circle class="p6" cx="187.46" cy="444.09" r="2.35"/><path class="w6" d="M186.16 443.49l1.6 1.6M186.96 442.79l1.6 1.6"/>
<circle class="p6" cx="186" cy="448.69" r="2.35"/><path class="w6" d="M184.7 448.09l1.6 1.6M185.5 447.39l1.6 1.6"/>
<circle class="p6" cx="197.72" cy="446.72" r="2.35"/><path class="w6" d="M196.42 446.12l1.6 1.6M197.22 445.42l1.6 1.6"/>
<circle class="p6" cx="181.63" cy="449.29" r="2.35"/><path class="w6" d="M180.33 448.69l1.6 1.6M181.13 447.99l1.6 1.6"/>
<circle class="p6" cx="192.62" cy="451.6" r="2.35"/><path class="w6" d="M191.32 451l1.6 1.6M192.12 450.3l1.6 1.6"/>
<circle class="p6" cx="188.5" cy="448.54" r="2.35"/><path class="w6" d="M187.2 447.94l1.6 1.6M188 447.24l1.6 1.6"/>
<circle class="p6" cx="204.88" cy="436.74" r="2.35"/><path class="w6" d="M203.58 436.14l1.6 1.6M204.38 435.44l1.6 1.6"/>
<circle class="p6" cx="198.51" cy="442.42" r="2.35"/><path class="w6" d="M197.21 441.82l1.6 1.6M198.01 441.12l1.6 1.6"/>
<circle class="p6" cx="182.14" cy="449.79" r="2.35"/><path class="w6" d="M180.84 449.19l1.6 1.6M181.64 448.49l1.6 1.6"/>
<circle class="p6" cx="184.28" cy="443.98" r="2.35"/><path class="w6" d="M182.98 443.38l1.6 1.6M183.78 442.68l1.6 1.6"/>
<circle class="p6" cx="190.21" cy="450.18" r="2.35"/><path class="w6" d="M188.91 449.58l1.6 1.6M189.71 448.88l1.6 1.6"/>
<circle class="p6" cx="205.86" cy="446.68" r="2.35"/><path class="w6" d="M204.56 446.08l1.6 1.6M205.36 445.38l1.6 1.6"/>
<circle class="p6" cx="192.66" cy="452.99" r="2.35"/><path class="w6" d="M191.36 452.39l1.6 1.6M192.16 451.69l1.6 1.6"/>
<circle class="p6" cx="186.04" cy="441.75" r="2.35"/><path class="w6" d="M184.74 441.15l1.6 1.6M185.54 440.45l1.6 1.6"/>
<circle class="p6" cx="202.16" cy="447.55" r="2.35"/><path class="w6" d="M200.86 446.95l1.6 1.6M201.66 446.25l1.6 1.6"/>
<circle class="p6" cx="200.78" cy="452.68" r="2.35"/><path class="w6" d="M199.48 452.08l1.6 1.6M200.28 451.38l1.6 1.6"/>
<circle class="p6" cx="183.88" cy="448.58" r="2.35"/><path class="w6" d="M182.58 447.98l1.6 1.6M183.38 447.28l1.6 1.6"/>
<circle class="p6" cx="187.16" cy="448.39" r="2.35"/><path class="w6" d="M185.86 447.79l1.6 1.6M186.66 447.09l1.6 1.6"/>
<circle class="p6" cx="192.84" cy="436.26" r="2.35"/><path class="w6" d="M191.54 435.66l1.6 1.6M192.34 434.96l1.6 1.6"/>
<circle class="p6" cx="192.03" cy="449.14" r="2.35"/><path class="w6" d="M190.73 448.54l1.6 1.6M191.53 447.84l1.6 1.6"/>
<circle class="p6" cx="191.77" cy="437.28" r="2.35"/><path class="w6" d="M190.47 436.68l1.6 1.6M191.27 435.98l1.6 1.6"/>
<circle class="p6" cx="191.05" cy="448.24" r="2.35"/><path class="w6" d="M189.75 447.64l1.6 1.6M190.55 446.94l1.6 1.6"/>
<circle class="p6" cx="203.12" cy="455.38" r="2.35"/><path class="w6" d="M201.82 454.78l1.6 1.6M202.62 454.08l1.6 1.6"/>
<circle class="p6" cx="187.89" cy="437.1" r="2.35"/><path class="w6" d="M186.59 436.5l1.6 1.6M187.39 435.8l1.6 1.6"/>
<circle class="p6" cx="182.24" cy="450.13" r="2.35"/><path class="w6" d="M180.94 449.53l1.6 1.6M181.74 448.83l1.6 1.6"/>
<circle class="p6" cx="200.82" cy="451.23" r="2.35"/><path class="w6" d="M199.52 450.63l1.6 1.6M200.32 449.93l1.6 1.6"/>
<circle class="p6" cx="202.88" cy="445.64" r="2.35"/><path class="w6" d="M201.58 445.04l1.6 1.6M202.38 444.34l1.6 1.6"/>
<circle class="p6" cx="182.65" cy="456.76" r="2.35"/><path class="w6" d="M181.35 456.16l1.6 1.6M182.15 455.46l1.6 1.6"/>
<circle class="p6" cx="201.79" cy="440.78" r="2.35"/><path class="w6" d="M200.49 440.18l1.6 1.6M201.29 439.48l1.6 1.6"/>
<circle class="p6" cx="189.3" cy="455.96" r="2.35"/><path class="w6" d="M188 455.36l1.6 1.6M188.8 454.66l1.6 1.6"/>
<circle class="p6" cx="199.42" cy="456.04" r="2.35"/><path class="w6" d="M198.12 455.44l1.6 1.6M198.92 454.74l1.6 1.6"/>
<circle class="p6" cx="182.76" cy="446.48" r="2.35"/><path class="w6" d="M181.46 445.88l1.6 1.6M182.26 445.18l1.6 1.6"/>
<circle class="p6" cx="183.47" cy="455.91" r="2.35"/><path class="w6" d="M182.17 455.31l1.6 1.6M182.97 454.61l1.6 1.6"/>
<circle class="p6" cx="194.18" cy="449.42" r="2.35"/><path class="w6" d="M192.88 448.82l1.6 1.6M193.68 448.12l1.6 1.6"/>
<circle class="p6" cx="198.96" cy="438.49" r="2.35"/><path class="w6" d="M197.66 437.89l1.6 1.6M198.46 437.19l1.6 1.6"/>
<circle class="p6" cx="198.16" cy="455.97" r="2.35"/><path class="w6" d="M196.86 455.37l1.6 1.6M197.66 454.67l1.6 1.6"/>
<circle class="p6" cx="194.17" cy="446.32" r="2.35"/><path class="w6" d="M192.87 445.72l1.6 1.6M193.67 445.02l1.6 1.6"/>
<circle class="p6" cx="201.81" cy="451.91" r="2.35"/><path class="w6" d="M200.51 451.31l1.6 1.6M201.31 450.61l1.6 1.6"/>
<circle class="p6" cx="201.78" cy="454.95" r="2.35"/><path class="w6" d="M200.48 454.35l1.6 1.6M201.28 453.65l1.6 1.6"/>
<circle class="p6" cx="188.67" cy="429.96" r="2.35"/><path class="w6" d="M187.37 429.36l1.6 1.6M188.17 428.66l1.6 1.6"/>
<circle class="p6" cx="181.13" cy="455.8" r="2.35"/><path class="w6" d="M179.83 455.2l1.6 1.6M180.63 454.5l1.6 1.6"/>
<circle class="p6" cx="198.3" cy="434.57" r="2.35"/><path class="w6" d="M197 433.97l1.6 1.6M197.8 433.27l1.6 1.6"/>
<circle class="p6" cx="197.15" cy="455.77" r="2.35"/><path class="w6" d="M195.85 455.17l1.6 1.6M196.65 454.47l1.6 1.6"/>
<circle class="p6" cx="201.68" cy="444.17" r="2.35"/><path class="w6" d="M200.38 443.57l1.6 1.6M201.18 442.87l1.6 1.6"/>
<circle class="p6" cx="187.1" cy="438.2" r="2.35"/><path class="w6" d="M185.8 437.6l1.6 1.6M186.6 436.9l1.6 1.6"/>
<circle class="p6" cx="189.92" cy="427.11" r="2.35"/><path class="w6" d="M188.62 426.51l1.6 1.6M189.42 425.81l1.6 1.6"/>
<circle class="p6" cx="181.69" cy="454.19" r="2.35"/><path class="w6" d="M180.39 453.59l1.6 1.6M181.19 452.89l1.6 1.6"/>
<circle class="p6" cx="205.53" cy="452.18" r="2.35"/><path class="w6" d="M204.23 451.58l1.6 1.6M205.03 450.88l1.6 1.6"/>
<circle class="p6" cx="186.54" cy="454.8" r="2.35"/><path class="w6" d="M185.24 454.2l1.6 1.6M186.04 453.5l1.6 1.6"/>
<circle class="p6" cx="202.76" cy="449.48" r="2.35"/><path class="w6" d="M201.46 448.88l1.6 1.6M202.26 448.18l1.6 1.6"/>
<circle class="p6" cx="202.16" cy="447.79" r="2.35"/><path class="w6" d="M200.86 447.19l1.6 1.6M201.66 446.49l1.6 1.6"/>
<circle class="p6" cx="193.2" cy="455.33" r="2.35"/><path class="w6" d="M191.9 454.73l1.6 1.6M192.7 454.03l1.6 1.6"/>
<circle class="p6" cx="188.25" cy="449.41" r="2.35"/><path class="w6" d="M186.95 448.81l1.6 1.6M187.75 448.11l1.6 1.6"/>
<circle class="p6" cx="191.94" cy="443.42" r="2.35"/><path class="w6" d="M190.64 442.82l1.6 1.6M191.44 442.12l1.6 1.6"/>
<circle class="p6" cx="195.27" cy="452.79" r="2.35"/><path class="w6" d="M193.97 452.19l1.6 1.6M194.77 451.49l1.6 1.6"/>
<circle class="p6" cx="202.04" cy="442.26" r="2.35"/><path class="w6" d="M200.74 441.66l1.6 1.6M201.54 440.96l1.6 1.6"/>
<circle class="p6" cx="203.67" cy="450.71" r="2.35"/><path class="w6" d="M202.37 450.11l1.6 1.6M203.17 449.41l1.6 1.6"/>
<circle class="p6" cx="184.89" cy="443.28" r="2.35"/><path class="w6" d="M183.59 442.68l1.6 1.6M184.39 441.98l1.6 1.6"/>
<circle class="p6" cx="182.55" cy="439.59" r="2.35"/><path class="w6" d="M181.25 438.99l1.6 1.6M182.05 438.29l1.6 1.6"/>
<circle class="p6" cx="189.84" cy="451.34" r="2.35"/><path class="w6" d="M188.54 450.74l1.6 1.6M189.34 450.04l1.6 1.6"/>
<circle class="p6" cx="198.51" cy="451.6" r="2.35"/><path class="w6" d="M197.21 451l1.6 1.6M198.01 450.3l1.6 1.6"/>
<circle class="p6" cx="190.45" cy="446.1" r="2.35"/><path class="w6" d="M189.15 445.5l1.6 1.6M189.95 444.8l1.6 1.6"/>
<circle class="p6" cx="182.66" cy="443.08" r="2.35"/><path class="w6" d="M181.36 442.48l1.6 1.6M182.16 441.78l1.6 1.6"/>
<circle class="p6" cx="181.15" cy="444.99" r="2.35"/><path class="w6" d="M179.85 444.39l1.6 1.6M180.65 443.69l1.6 1.6"/>
<circle class="p6" cx="181.98" cy="426.12" r="2.35"/><path class="w6" d="M180.68 425.52l1.6 1.6M181.48 424.82l1.6 1.6"/>
<circle class="p6" cx="199.21" cy="453.22" r="2.35"/><path class="w6" d="M197.91 452.62l1.6 1.6M198.71 451.92l1.6 1.6"/>
<circle class="p6" cx="201.21" cy="444.48" r="2.35"/><path class="w6" d="M199.91 443.88l1.6 1.6M200.71 443.18l1.6 1.6"/>
<circle class="p6" cx="204.46" cy="430.21" r="2.35"/><path class="w6" d="M203.16 429.61l1.6 1.6M203.96 428.91l1.6 1.6"/>
<circle class="p6" cx="199.72" cy="440.99" r="2.35"/><path class="w6" d="M198.42 440.39l1.6 1.6M199.22 439.69l1.6 1.6"/>
<circle class="p6" cx="188.93" cy="428.11" r="2.35"/><path class="w6" d="M187.63 427.51l1.6 1.6M188.43 426.81l1.6 1.6"/>
<circle class="p6" cx="189.38" cy="440.46" r="2.35"/><path class="w6" d="M188.08 439.86l1.6 1.6M188.88 439.16l1.6 1.6"/>
<circle class="p6" cx="197.8" cy="455.93" r="2.35"/><path class="w6" d="M196.5 455.33l1.6 1.6M197.3 454.63l1.6 1.6"/>
<circle class="p6" cx="197.65" cy="446.79" r="2.35"/><path class="w6" d="M196.35 446.19l1.6 1.6M197.15 445.49l1.6 1.6"/>
<circle class="p6" cx="183.56" cy="446.21" r="2.35"/><path class="w6" d="M182.26 445.61l1.6 1.6M183.06 444.91l1.6 1.6"/>
<circle class="p6" cx="189.3" cy="444.03" r="2.35"/><path class="w6" d="M188 443.43l1.6 1.6M188.8 442.73l1.6 1.6"/>
<circle class="p6" cx="186.99" cy="450.27" r="2.35"/><path class="w6" d="M185.69 449.67l1.6 1.6M186.49 448.97l1.6 1.6"/>
<circle class="p6" cx="181.49" cy="435.26" r="2.35"/><path class="w6" d="M180.19 434.66l1.6 1.6M180.99 433.96l1.6 1.6"/>
<circle class="p6" cx="191.88" cy="457.43" r="2.35"/><path class="w6" d="M190.58 456.83l1.6 1.6M191.38 456.13l1.6 1.6"/>
<circle class="p6" cx="204.56" cy="441.65" r="2.35"/><path class="w6" d="M203.26 441.05l1.6 1.6M204.06 440.35l1.6 1.6"/>
<circle class="p6" cx="205.53" cy="419.42" r="2.35"/><path class="w6" d="M204.23 418.82l1.6 1.6M205.03 418.12l1.6 1.6"/>
<circle class="p6" cx="182.45" cy="439.39" r="2.35"/><path class="w6" d="M181.15 438.79l1.6 1.6M181.95 438.09l1.6 1.6"/>
<circle class="p6" cx="189.46" cy="443.21" r="2.35"/><path class="w6" d="M188.16 442.61l1.6 1.6M188.96 441.91l1.6 1.6"/>
<circle class="p6" cx="187.17" cy="436.88" r="2.35"/><path class="w6" d="M185.87 436.28l1.6 1.6M186.67 435.58l1.6 1.6"/>
<circle class="p6" cx="201.79" cy="448.97" r="2.35"/><path class="w6" d="M200.49 448.37l1.6 1.6M201.29 447.67l1.6 1.6"/>
<circle class="p6" cx="185.76" cy="448.59" r="2.35"/><path class="w6" d="M184.46 447.99l1.6 1.6M185.26 447.29l1.6 1.6"/>
<circle class="p6" cx="202.14" cy="456.7" r="2.35"/><path class="w6" d="M200.84 456.1l1.6 1.6M201.64 455.4l1.6 1.6"/>
<path d="M219.02 452.56l5 5M224.02 452.56l-5 5M222.56 451.3l5 5M227.56 451.3l-5 5M219.15 452.84l5 5M224.15 452.84l-5 5M221.65 440.66l5 5M226.65 440.66l-5 5M216.79 451.58l5 5M221.79 451.58l-5 5M225.44 444.19l5 5M230.44 444.19l-5 5M223.13 451.19l5 5M228.13 451.19l-5 5M222.73 448.5l5 5M227.73 448.5l-5 5M210.74 443.73l5 5M215.74 443.73l-5 5M223.16 449.75l5 5M228.16 449.75l-5 5M219.01 452.35l5 5M224.01 452.35l-5 5M217.25 446.88l5 5M222.25 446.88l-5 5M216.97 439.43l5 5M221.97 439.43l-5 5M216.7 441.84l5 5M221.7 441.84l-5 5M222.99 445.79l5 5M227.99 445.79l-5 5M214.68 446.08l5 5M219.68 446.08l-5 5M214.79 451.28l5 5M219.79 451.28l-5 5M224.4 451.94l5 5M229.4 451.94l-5 5M212.97 440.97l5 5M217.97 440.97l-5 5M224.41 450.73l5 5M229.41 450.73l-5 5M209.92 427.06l5 5M214.92 427.06l-5 5M220.66 446.43l5 5M225.66 446.43l-5 5M217.21 439.18l5 5M222.21 439.18l-5 5M213.7 444.06l5 5M218.7 444.06l-5 5M225.31 445.35l5 5M230.31 445.35l-5 5M207.08 451.45l5 5M212.08 451.45l-5 5M224.38 442.03l5 5M229.38 442.03l-5 5M211.72 444.63l5 5M216.72 444.63l-5 5M224.3 444.73l5 5M229.3 444.73l-5 5M211.38 451.27l5 5M216.38 451.27l-5 5M221.38 446.9l5 5M226.38 446.9l-5 5M219.32 449.4l5 5M224.32 449.4l-5 5M214.24 442.29l5 5M219.24 442.29l-5 5M219.48 450.41l5 5M224.48 450.41l-5 5M225.6 434.04l5 5M230.6 434.04l-5 5M222.99 442.44l5 5M227.99 442.44l-5 5M215.26 449.77l5 5M220.26 449.77l-5 5M212.14 452.44l5 5M217.14 452.44l-5 5M220.44 435.12l5 5M225.44 435.12l-5 5M221.54 443.23l5 5M226.54 443.23l-5 5M224.81 447.81l5 5M229.81 447.81l-5 5M216.64 451.39l5 5M221.64 451.39l-5 5M220.07 444.8l5 5M225.07 444.8l-5 5M224.85 450.74l5 5M229.85 450.74l-5 5M217.46 443.54l5 5M222.46 443.54l-5 5M221.64 451.17l5 5M226.64 451.17l-5 5M224.57 451.22l5 5M229.57 451.22l-5 5M223.6 445.16l5 5M228.6 445.16l-5 5M219.45 451.28l5 5M224.45 451.28l-5 5M218.74 443.88l5 5M223.74 443.88l-5 5M221.21 443.28l5 5M226.21 443.28l-5 5M212.39 433.75l5 5M217.39 433.75l-5 5M212.14 446.07l5 5M217.14 446.07l-5 5M209.51 449.45l5 5M214.51 449.45l-5 5M209.17 448.96l5 5M214.17 448.96l-5 5M209.84 445.32l5 5M214.84 445.32l-5 5M216.58 432.31l5 5M221.58 432.31l-5 5M215.91 452.52l5 5M220.91 452.52l-5 5M217.37 433.68l5 5M222.37 433.68l-5 5M213.56 441.98l5 5M218.56 441.98l-5 5M208.06 453.72l5 5M213.06 453.72l-5 5M214.58 450.99l5 5M219.58 450.99l-5 5M210.68 442.13l5 5M215.68 442.13l-5 5M216.15 450.77l5 5M221.15 450.77l-5 5M219.62 448.94l5 5M224.62 448.94l-5 5M220.36 451.93l5 5M225.36 451.93l-5 5M211.61 442.2l5 5M216.61 442.2l-5 5M208.21 444.49l5 5M213.21 444.49l-5 5M224.05 447.8l5 5M229.05 447.8l-5 5M219.5 447.28l5 5M224.5 447.28l-5 5M210.19 454.14l5 5M215.19 454.14l-5 5M221.1 451.35l5 5M226.1 451.35l-5 5M207.99 441.35l5 5M212.99 441.35l-5 5M214.97 452.48l5 5M219.97 452.48l-5 5M218.49 438.04l5 5M223.49 438.04l-5 5M208.91 452.41l5 5M213.91 452.41l-5 5M219.28 443.85l5 5M224.28 443.85l-5 5M219.89 448.95l5 5M224.89 448.95l-5 5M215.4 446.08l5 5M220.4 446.08l-5 5M217.28 454.86l5 5M222.28 454.86l-5 5M220.32 447.34l5 5M225.32 447.34l-5 5M214.93 448.72l5 5M219.93 448.72l-5 5M217.6 378.84l5 5M222.6 378.84l-5 5M218.85 449.69l5 5M223.85 449.69l-5 5M221.92 441.17l5 5M226.92 441.17l-5 5M223.53 446.36l5 5M228.53 446.36l-5 5M207.94 444.96l5 5M212.94 444.96l-5 5M209.3 393l5 5M214.3 393l-5 5M222.23 447.84l5 5M227.23 447.84l-5 5M211.25 406.59l5 5M216.25 406.59l-5 5M217.26 440.91l5 5M222.26 440.91l-5 5M208.33 446.02l5 5M213.33 446.02l-5 5M216.53 448.71l5 5M221.53 448.71l-5 5M219.83 451.48l5 5M224.83 451.48l-5 5M217.83 446.4l5 5M222.83 446.4l-5 5M219.66 452.89l5 5M224.66 452.89l-5 5M214.29 449.48l5 5M219.29 449.48l-5 5M213.27 454.48l5 5M218.27 454.48l-5 5M211.47 442.75l5 5M216.47 442.75l-5 5M219.45 434.58l5 5M224.45 434.58l-5 5M207.05 446.52l5 5M212.05 446.52l-5 5M217.93 449.69l5 5M222.93 449.69l-5 5M224.18 447.82l5 5M229.18 447.82l-5 5M212.04 440.7l5 5M217.04 440.7l-5 5M219.07 448.94l5 5M224.07 448.94l-5 5M225.08 444.19l5 5M230.08 444.19l-5 5M222.32 449.07l5 5M227.32 449.07l-5 5M210.47 447.82l5 5M215.47 447.82l-5 5M207.62 422.91l5 5M212.62 422.91l-5 5M209.35 450.29l5 5M214.35 450.29l-5 5M224.74 439.04l5 5M229.74 439.04l-5 5M207.02 446.57l5 5M212.02 446.57l-5 5M213.88 447.16l5 5M218.88 447.16l-5 5M211.6 445.22l5 5M216.6 445.22l-5 5M220.67 439.27l5 5M225.67 439.27l-5 5M219.69 449.37l5 5M224.69 449.37l-5 5M206.56 447.34l5 5M211.56 447.34l-5 5M210.57 435.78l5 5M215.57 435.78l-5 5M209.67 442.8l5 5M214.67 442.8l-5 5M216.19 451.01l5 5M221.19 451.01l-5 5M216.7 449.26l5 5M221.7 449.26l-5 5M219.44 434.05l5 5M224.44 434.05l-5 5M217.15 450.29l5 5M222.15 450.29l-5 5M217.29 448.56l5 5M222.29 448.56l-5 5M218.06 437.61l5 5M223.06 437.61l-5 5M220.44 444.09l5 5M225.44 444.09l-5 5M211.66 450.27l5 5M216.66 450.27l-5 5M221.64 438.7l5 5M226.64 438.7l-5 5M206.57 436.67l5 5M211.57 436.67l-5 5M208.14 435.55l5 5M213.14 435.55l-5 5M210.33 433.77l5 5M215.33 433.77l-5 5M219.63 445.25l5 5M224.63 445.25l-5 5M214.93 442.4l5 5M219.93 442.4l-5 5M211.59 444.57l5 5M216.59 444.57l-5 5M214.92 444.54l5 5M219.92 444.54l-5 5M214.32 448.85l5 5M219.32 448.85l-5 5M222.98 447.87l5 5M227.98 447.87l-5 5M222.65 450.96l5 5M227.65 450.96l-5 5M207.33 444.52l5 5M212.33 444.52l-5 5M214.28 445.09l5 5M219.28 445.09l-5 5M217.95 454.59l5 5M222.95 454.59l-5 5M206.95 426.22l5 5M211.95 426.22l-5 5M224.38 453.97l5 5M229.38 453.97l-5 5M224.04 442.23l5 5M229.04 442.23l-5 5M215.99 451.3l5 5M220.99 451.3l-5 5M210.26 454.59l5 5M215.26 454.59l-5 5M219.06 437.11l5 5M224.06 437.11l-5 5M216.99 433.15l5 5M221.99 433.15l-5 5M217.17 444.41l5 5M222.17 444.41l-5 5M216.25 448.5l5 5M221.25 448.5l-5 5M215.58 434.81l5 5M220.58 434.81l-5 5M213.56 445.56l5 5M218.56 445.56l-5 5M225.3 440.54l5 5M230.3 440.54l-5 5M216.09 437.42l5 5M221.09 437.42l-5 5M210.66 447.35l5 5M215.66 447.35l-5 5M220.33 438.38l5 5M225.33 438.38l-5 5M207.93 445.65l5 5M212.93 445.65l-5 5M219.7 446.12l5 5M224.7 446.12l-5 5M221.06 427.06l5 5M226.06 427.06l-5 5M217.45 450.3l5 5M222.45 450.3l-5 5M213.64 448.7l5 5M218.64 448.7l-5 5M219.89 440.43l5 5M224.89 440.43l-5 5M220.84 453.12l5 5M225.84 453.12l-5 5M225.37 441.14l5 5M230.37 441.14l-5 5M215.56 443.54l5 5M220.56 443.54l-5 5M220.56 418.17l5 5M225.56 418.17l-5 5M208.5 444.54l5 5M213.5 444.54l-5 5M207.3 447.74l5 5M212.3 447.74l-5 5M223.03 454.07l5 5M228.03 454.07l-5 5M219.56 410.04l5 5M224.56 410.04l-5 5M217.07 425.01l5 5M222.07 425.01l-5 5M224.74 454.67l5 5M229.74 454.67l-5 5M214.69 441.67l5 5M219.69 441.67l-5 5M224.84 448.85l5 5M229.84 448.85l-5 5M212.81 420.8l5 5M217.81 420.8l-5 5M225.32 452.3l5 5M230.32 452.3l-5 5M213.73 449.34l5 5M218.73 449.34l-5 5M223.97 436.82l5 5M228.97 436.82l-5 5M208.01 452.01l5 5M213.01 452.01l-5 5M207.45 446.34l5 5M212.45 446.34l-5 5M211.97 447.44l5 5M216.97 447.44l-5 5M223.11 419.03l5 5M228.11 419.03l-5 5M223.85 431.29l5 5M228.85 431.29l-5 5M213.75 452.75l5 5M218.75 452.75l-5 5M219.34 450.13l5 5M224.34 450.13l-5 5M224.21 449.36l5 5M229.21 449.36l-5 5M225.24 452.59l5 5M230.24 452.59l-5 5M224.55 443.08l5 5M229.55 443.08l-5 5M216.92 428.35l5 5M221.92 428.35l-5 5M209.26 452.26l5 5M214.26 452.26l-5 5M219.7 451.51l5 5M224.7 451.51l-5 5M223.12 433.94l5 5M228.12 433.94l-5 5M220.34 439.32l5 5M225.34 439.32l-5 5M210.36 432.03l5 5M215.36 432.03l-5 5M223.65 452.01l5 5M228.65 452.01l-5 5M209.09 442.31l5 5M214.09 442.31l-5 5M211.94 433.81l5 5M216.94 433.81l-5 5M208.64 447.67l5 5M213.64 447.67l-5 5M217.98 447.8l5 5M222.98 447.8l-5 5M222.24 441.29l5 5M227.24 441.29l-5 5M220.26 444.05l5 5M225.26 444.05l-5 5M221.16 445.42l5 5M226.16 445.42l-5 5M218.8 445.57l5 5M223.8 445.57l-5 5M210.31 447.29l5 5M215.31 447.29l-5 5M213.5 452.6l5 5M218.5 452.6l-5 5M221.59 445.17l5 5M226.59 445.17l-5 5M215.91 449.75l5 5M220.91 449.75l-5 5M211.57 444.72l5 5M216.57 444.72l-5 5M217.24 443.66l5 5M222.24 443.66l-5 5M211.53 446.7l5 5M216.53 446.7l-5 5M207.34 411.19l5 5M212.34 411.19l-5 5M213.18 441.02l5 5M218.18 441.02l-5 5M210.31 448.49l5 5M215.31 448.49l-5 5M216.02 450.34l5 5M221.02 450.34l-5 5M223 420.09l5 5M228 420.09l-5 5M224.5 448.34l5 5M229.5 448.34l-5 5M221.89 451.26l5 5M226.89 451.26l-5 5M217.27 441.21l5 5M222.27 441.21l-5 5M224.33 449.69l5 5M229.33 449.69l-5 5M224.75 448.21l5 5M229.75 448.21l-5 5M216.63 398.87l5 5M221.63 398.87l-5 5M225.85 446.84l5 5M230.85 446.84l-5 5M208.4 451.01l5 5M213.4 451.01l-5 5M218.56 441.07l5 5M223.56 441.07l-5 5M215.04 449.33l5 5M220.04 449.33l-5 5M224.33 439.2l5 5M229.33 439.2l-5 5M223.88 452.64l5 5M228.88 452.64l-5 5M210.43 429l5 5M215.43 429l-5 5M220.58 450.6l5 5M225.58 450.6l-5 5M225.34 446.15l5 5M230.34 446.15l-5 5M214.78 449.26l5 5M219.78 449.26l-5 5M223.2 448.17l5 5M228.2 448.17l-5 5M211.97 444.74l5 5M216.97 444.74l-5 5M206.54 453.56l5 5M211.54 453.56l-5 5M224.81 431.3l5 5M229.81 431.3l-5 5M207.19 438.69l5 5M212.19 438.69l-5 5M211.81 445.78l5 5M216.81 445.78l-5 5M217.41 443.46l5 5M222.41 443.46l-5 5M224.59 452.72l5 5M229.59 452.72l-5 5M222.78 441.32l5 5M227.78 441.32l-5 5M223.5 430.35l5 5M228.5 430.35l-5 5M210.1 446.11l5 5M215.1 446.11l-5 5M213.71 445.36l5 5M218.71 445.36l-5 5M222.31 444.17l5 5M227.31 444.17l-5 5M215.02 443.19l5 5M220.02 443.19l-5 5M222.4 441.27l5 5M227.4 441.27l-5 5M219.46 451.72l5 5M224.46 451.72l-5 5M221.68 446.6l5 5M226.68 446.6l-5 5M213.94 452.27l5 5M218.94 452.27l-5 5M218.45 434.74l5 5M223.45 434.74l-5 5M216.19 438.1l5 5M221.19 438.1l-5 5M213.29 449.44l5 5M218.29 449.44l-5 5M219.08 440.98l5 5M224.08 440.98l-5 5M215.48 445.1l5 5M220.48 445.1l-5 5M225.35 448.31l5 5M230.35 448.31l-5 5M207.83 443.08l5 5M212.83 443.08l-5 5M223.47 440.05l5 5M228.47 440.05l-5 5M224.68 449.61l5 5M229.68 449.61l-5 5M211.96 446.33l5 5M216.96 446.33l-5 5M220.58 442.49l5 5M225.58 442.49l-5 5M217.85 448.92l5 5M222.85 448.92l-5 5M215.61 447.7l5 5M220.61 447.7l-5 5M217.35 445.21l5 5M222.35 445.21l-5 5M207.66 443.2l5 5M212.66 443.2l-5 5M219.76 450.5l5 5M224.76 450.5l-5 5M217.23 436.77l5 5M222.23 436.77l-5 5" fill="none" stroke="#808080" stroke-width="1.3"/>
<path d="M236.2 435.4h5.2v5.2h-5.2ZM238.95 449.12h5.2v5.2h-5.2ZM233.99 450.85h5.2v5.2h-5.2ZM232.42 437.27h5.2v5.2h-5.2ZM242.8 449.83h5.2v5.2h-5.2ZM244.78 443.53h5.2v5.2h-5.2ZM235.65 442.76h5.2v5.2h-5.2ZM234.18 430.88h5.2v5.2h-5.2ZM240.27 448.94h5.2v5.2h-5.2ZM243.79 443.68h5.2v5.2h-5.2ZM236.94 446.6h5.2v5.2h-5.2ZM240.16 454.58h5.2v5.2h-5.2ZM245.64 451.42h5.2v5.2h-5.2ZM229.98 445.4h5.2v5.2h-5.2ZM236.13 447.42h5.2v5.2h-5.2ZM228.92 433.71h5.2v5.2h-5.2ZM242.4 434.91h5.2v5.2h-5.2ZM244.52 454.4h5.2v5.2h-5.2ZM229.55 454.1h5.2v5.2h-5.2ZM245.24 431.98h5.2v5.2h-5.2ZM245.96 434.31h5.2v5.2h-5.2ZM245.65 431.91h5.2v5.2h-5.2ZM238.64 438.25h5.2v5.2h-5.2ZM239.06 450.17h5.2v5.2h-5.2ZM239.39 434.54h5.2v5.2h-5.2ZM229.03 445.88h5.2v5.2h-5.2ZM238.08 446.06h5.2v5.2h-5.2ZM239.45 433.81h5.2v5.2h-5.2ZM229.39 448.26h5.2v5.2h-5.2ZM229.39 441.92h5.2v5.2h-5.2ZM236.56 432.04h5.2v5.2h-5.2ZM239.3 452.82h5.2v5.2h-5.2ZM245.89 445.79h5.2v5.2h-5.2ZM244.96 425.06h5.2v5.2h-5.2ZM232.81 449.03h5.2v5.2h-5.2ZM240.07 443.68h5.2v5.2h-5.2ZM237.71 435.91h5.2v5.2h-5.2ZM234.99 438.61h5.2v5.2h-5.2ZM230.39 447.57h5.2v5.2h-5.2ZM242.71 452.86h5.2v5.2h-5.2ZM229.04 438.51h5.2v5.2h-5.2ZM245.25 442.2h5.2v5.2h-5.2ZM240.91 436.02h5.2v5.2h-5.2ZM228.91 444.93h5.2v5.2h-5.2ZM236.76 445.4h5.2v5.2h-5.2ZM244.43 451.91h5.2v5.2h-5.2ZM241.27 449.02h5.2v5.2h-5.2ZM233.74 439.1h5.2v5.2h-5.2ZM233.32 449.97h5.2v5.2h-5.2ZM240.28 434.26h5.2v5.2h-5.2ZM242.93 449.63h5.2v5.2h-5.2ZM243.81 450.7h5.2v5.2h-5.2ZM234.08 444.37h5.2v5.2h-5.2ZM241.07 440.8h5.2v5.2h-5.2ZM241.18 441.09h5.2v5.2h-5.2ZM234.25 413.99h5.2v5.2h-5.2ZM231.78 450.58h5.2v5.2h-5.2ZM229.91 443.51h5.2v5.2h-5.2ZM241.87 427.05h5.2v5.2h-5.2ZM240.42 449.39h5.2v5.2h-5.2ZM233.51 433.37h5.2v5.2h-5.2ZM241 409.61h5.2v5.2h-5.2ZM229.81 433.75h5.2v5.2h-5.2ZM237.97 444.39h5.2v5.2h-5.2ZM233.61 426.57h5.2v5.2h-5.2ZM235.26 428.1h5.2v5.2h-5.2ZM244.58 447.56h5.2v5.2h-5.2ZM236.3 443.08h5.2v5.2h-5.2ZM234.82 445.11h5.2v5.2h-5.2ZM242.46 428.49h5.2v5.2h-5.2ZM235.06 430.44h5.2v5.2h-5.2ZM239.09 453.43h5.2v5.2h-5.2ZM233.06 454.69h5.2v5.2h-5.2ZM237.9 454.65h5.2v5.2h-5.2ZM242.69 444.26h5.2v5.2h-5.2ZM236.02 437.03h5.2v5.2h-5.2ZM237.48 443.07h5.2v5.2h-5.2ZM244.47 450.07h5.2v5.2h-5.2ZM230.16 439.72h5.2v5.2h-5.2ZM242.34 444.4h5.2v5.2h-5.2ZM238.04 438.64h5.2v5.2h-5.2ZM242.72 432.1h5.2v5.2h-5.2ZM239.54 451.63h5.2v5.2h-5.2ZM231.06 436.16h5.2v5.2h-5.2ZM229.07 437.12h5.2v5.2h-5.2ZM246.26 441.42h5.2v5.2h-5.2ZM229.81 452.93h5.2v5.2h-5.2ZM236.68 449.65h5.2v5.2h-5.2ZM229.49 437.84h5.2v5.2h-5.2ZM242.51 450.38h5.2v5.2h-5.2ZM239.78 439.96h5.2v5.2h-5.2ZM235.5 423.02h5.2v5.2h-5.2ZM230.15 436.5h5.2v5.2h-5.2ZM236.15 445.61h5.2v5.2h-5.2ZM245.39 449.82h5.2v5.2h-5.2ZM231.13 446.62h5.2v5.2h-5.2ZM241.78 441.78h5.2v5.2h-5.2ZM245.91 440.91h5.2v5.2h-5.2ZM230.73 432.06h5.2v5.2h-5.2ZM241.35 443.86h5.2v5.2h-5.2ZM230.38 442.43h5.2v5.2h-5.2ZM244.15 448.15h5.2v5.2h-5.2ZM240.46 428.05h5.2v5.2h-5.2ZM242.91 444.94h5.2v5.2h-5.2ZM239.4 434.76h5.2v5.2h-5.2ZM245.35 437.22h5.2v5.2h-5.2ZM230.96 442.02h5.2v5.2h-5.2ZM234.26 451.8h5.2v5.2h-5.2ZM242.29 448.44h5.2v5.2h-5.2ZM242.4 415.07h5.2v5.2h-5.2ZM230.2 446.74h5.2v5.2h-5.2ZM241.06 422h5.2v5.2h-5.2ZM241.94 438.99h5.2v5.2h-5.2ZM230.01 446.05h5.2v5.2h-5.2ZM239.85 418.82h5.2v5.2h-5.2ZM237.16 446.67h5.2v5.2h-5.2ZM233.84 452.44h5.2v5.2h-5.2ZM241.94 446.87h5.2v5.2h-5.2ZM235.25 451.2h5.2v5.2h-5.2ZM235.49 434.97h5.2v5.2h-5.2ZM234.91 437.88h5.2v5.2h-5.2ZM239.04 450.95h5.2v5.2h-5.2ZM230.85 448.47h5.2v5.2h-5.2ZM228.85 408.69h5.2v5.2h-5.2ZM238.52 439.38h5.2v5.2h-5.2ZM245.98 416.13h5.2v5.2h-5.2ZM233.79 432.99h5.2v5.2h-5.2ZM238.24 424.46h5.2v5.2h-5.2ZM230.34 450.47h5.2v5.2h-5.2ZM234.07 445.58h5.2v5.2h-5.2ZM237.8 452.3h5.2v5.2h-5.2ZM245.62 446.82h5.2v5.2h-5.2ZM239.2 441.67h5.2v5.2h-5.2ZM241.56 443.05h5.2v5.2h-5.2ZM232.41 444.5h5.2v5.2h-5.2ZM237.75 443.19h5.2v5.2h-5.2ZM238.08 425.36h5.2v5.2h-5.2ZM229.88 420.81h5.2v5.2h-5.2ZM239.42 452.39h5.2v5.2h-5.2ZM238.24 439.76h5.2v5.2h-5.2ZM235.81 444.45h5.2v5.2h-5.2ZM240.72 447.74h5.2v5.2h-5.2ZM234.79 439.69h5.2v5.2h-5.2ZM229.41 451.81h5.2v5.2h-5.2ZM239.39 428.58h5.2v5.2h-5.2ZM243.14 427.65h5.2v5.2h-5.2ZM230.38 450.84h5.2v5.2h-5.2ZM238.63 449.22h5.2v5.2h-5.2ZM241.22 413.44h5.2v5.2h-5.2ZM232.07 416.55h5.2v5.2h-5.2ZM234.33 449.17h5.2v5.2h-5.2ZM235.34 449.13h5.2v5.2h-5.2ZM238.7 438.65h5.2v5.2h-5.2ZM230.78 418.66h5.2v5.2h-5.2ZM234.12 369.18h5.2v5.2h-5.2ZM233.4 436.89h5.2v5.2h-5.2ZM230.89 437.09h5.2v5.2h-5.2ZM234.53 445.47h5.2v5.2h-5.2ZM229.81 452.18h5.2v5.2h-5.2ZM233.43 446.41h5.2v5.2h-5.2ZM232.95 447.04h5.2v5.2h-5.2ZM235.1 428.67h5.2v5.2h-5.2ZM241.06 423.34h5.2v5.2h-5.2ZM238.12 441.31h5.2v5.2h-5.2ZM238.09 452.96h5.2v5.2h-5.2ZM233.93 445.01h5.2v5.2h-5.2ZM234.24 429.27h5.2v5.2h-5.2ZM231.53 433.96h5.2v5.2h-5.2ZM232.01 446.29h5.2v5.2h-5.2ZM240.07 438.48h5.2v5.2h-5.2ZM233.49 448.55h5.2v5.2h-5.2ZM243.24 446.88h5.2v5.2h-5.2ZM230.66 432h5.2v5.2h-5.2ZM243.65 449.34h5.2v5.2h-5.2ZM245.97 451.18h5.2v5.2h-5.2ZM235.83 445.45h5.2v5.2h-5.2ZM245.5 426.63h5.2v5.2h-5.2ZM234.68 444.31h5.2v5.2h-5.2ZM237.88 433.94h5.2v5.2h-5.2ZM235.29 427.78h5.2v5.2h-5.2ZM239.95 446.25h5.2v5.2h-5.2ZM242.58 439.5h5.2v5.2h-5.2ZM229.45 444.3h5.2v5.2h-5.2ZM233.56 440.18h5.2v5.2h-5.2ZM245.55 447.07h5.2v5.2h-5.2ZM229.01 434.27h5.2v5.2h-5.2ZM230.78 431.15h5.2v5.2h-5.2ZM236.26 453.04h5.2v5.2h-5.2ZM241.15 445.59h5.2v5.2h-5.2ZM239.03 420.57h5.2v5.2h-5.2ZM240.78 427.58h5.2v5.2h-5.2ZM235.68 432.17h5.2v5.2h-5.2ZM236.55 451.99h5.2v5.2h-5.2ZM231.61 446.55h5.2v5.2h-5.2ZM235.22 451.28h5.2v5.2h-5.2ZM240.38 438.13h5.2v5.2h-5.2ZM235.49 438.11h5.2v5.2h-5.2ZM238.35 431.99h5.2v5.2h-5.2ZM228.88 452.33h5.2v5.2h-5.2ZM241.74 448.68h5.2v5.2h-5.2ZM235.75 432.07h5.2v5.2h-5.2ZM242.1 446.25h5.2v5.2h-5.2ZM238.18 431.98h5.2v5.2h-5.2ZM230.62 437.84h5.2v5.2h-5.2ZM244.17 450.94h5.2v5.2h-5.2ZM238.04 426.22h5.2v5.2h-5.2ZM240.03 425.46h5.2v5.2h-5.2ZM228.74 396.47h5.2v5.2h-5.2ZM233.68 441.32h5.2v5.2h-5.2ZM246.3 442.63h5.2v5.2h-5.2ZM243.4 393.13h5.2v5.2h-5.2ZM237.63 436.91h5.2v5.2h-5.2ZM234.41 444.2h5.2v5.2h-5.2ZM233.26 444.09h5.2v5.2h-5.2ZM230.89 449.27h5.2v5.2h-5.2ZM238.82 450.1h5.2v5.2h-5.2ZM230.22 426.56h5.2v5.2h-5.2ZM244.21 443.89h5.2v5.2h-5.2ZM229.05 447.96h5.2v5.2h-5.2ZM238.18 450.51h5.2v5.2h-5.2ZM234.8 444.23h5.2v5.2h-5.2ZM243.32 446.58h5.2v5.2h-5.2ZM242.26 441.74h5.2v5.2h-5.2ZM234.12 423h5.2v5.2h-5.2ZM237.18 451.14h5.2v5.2h-5.2ZM233.53 427.14h5.2v5.2h-5.2ZM230.32 450.1h5.2v5.2h-5.2ZM243.8 422.78h5.2v5.2h-5.2ZM242.52 444.07h5.2v5.2h-5.2ZM245.04 427.43h5.2v5.2h-5.2ZM244.88 435.7h5.2v5.2h-5.2ZM243.79 448.24h5.2v5.2h-5.2ZM241.16 452.75h5.2v5.2h-5.2ZM234.31 426.88h5.2v5.2h-5.2ZM232.92 447.37h5.2v5.2h-5.2ZM233.67 447.79h5.2v5.2h-5.2ZM231.7 429.11h5.2v5.2h-5.2ZM240.82 439.13h5.2v5.2h-5.2ZM242.17 449.31h5.2v5.2h-5.2ZM240.59 431.86h5.2v5.2h-5.2ZM232.58 448.42h5.2v5.2h-5.2ZM234.41 445.86h5.2v5.2h-5.2ZM244.37 442.05h5.2v5.2h-5.2ZM238.25 437.13h5.2v5.2h-5.2ZM239.3 429.19h5.2v5.2h-5.2ZM242.15 445.07h5.2v5.2h-5.2ZM230.21 447.82h5.2v5.2h-5.2ZM235.5 446.98h5.2v5.2h-5.2ZM234.52 445.77h5.2v5.2h-5.2ZM231.87 435.95h5.2v5.2h-5.2ZM232.88 426.23h5.2v5.2h-5.2ZM242.77 438.05h5.2v5.2h-5.2ZM238.61 418.01h5.2v5.2h-5.2ZM231.34 420.46h5.2v5.2h-5.2ZM239.2 442.67h5.2v5.2h-5.2ZM232.58 425.77h5.2v5.2h-5.2ZM235.46 442.6h5.2v5.2h-5.2ZM236.03 444.6h5.2v5.2h-5.2ZM244.07 445.21h5.2v5.2h-5.2ZM241.11 436.46h5.2v5.2h-5.2ZM232.04 424.8h5.2v5.2h-5.2ZM231.26 448.51h5.2v5.2h-5.2ZM240.98 446.07h5.2v5.2h-5.2ZM237.74 443.79h5.2v5.2h-5.2ZM235.54 444.12h5.2v5.2h-5.2ZM231.07 442.27h5.2v5.2h-5.2ZM239.75 427.38h5.2v5.2h-5.2ZM245.83 430.87h5.2v5.2h-5.2ZM241.57 450.97h5.2v5.2h-5.2ZM235.24 448.38h5.2v5.2h-5.2ZM233.01 449.28h5.2v5.2h-5.2ZM243.86 448.28h5.2v5.2h-5.2ZM233.7 448.14h5.2v5.2h-5.2ZM241.27 446.83h5.2v5.2h-5.2ZM245.79 449.54h5.2v5.2h-5.2ZM232.63 447.87h5.2v5.2h-5.2ZM239.23 442.62h5.2v5.2h-5.2ZM233.46 448.17h5.2v5.2h-5.2ZM234.82 448.72h5.2v5.2h-5.2ZM243.79 452.08h5.2v5.2h-5.2ZM229.43 434.34h5.2v5.2h-5.2ZM236.77 454.01h5.2v5.2h-5.2ZM232.62 447.46h5.2v5.2h-5.2ZM239.53 441.8h5.2v5.2h-5.2ZM243.74 427.64h5.2v5.2h-5.2ZM242.78 446.49h5.2v5.2h-5.2ZM230.14 438.65h5.2v5.2h-5.2ZM239.17 428.77h5.2v5.2h-5.2ZM243.55 453.31h5.2v5.2h-5.2ZM242.74 445.52h5.2v5.2h-5.2ZM239.49 406.6h5.2v5.2h-5.2ZM238.34 445.36h5.2v5.2h-5.2ZM229.28 447.34h5.2v5.2h-5.2ZM231.06 450.47h5.2v5.2h-5.2ZM229.74 443.27h5.2v5.2h-5.2ZM231.36 451.55h5.2v5.2h-5.2ZM242.21 435.68h5.2v5.2h-5.2ZM240.2 432.78h5.2v5.2h-5.2ZM233.35 434.06h5.2v5.2h-5.2ZM245.42 448.11h5.2v5.2h-5.2ZM231.58 454.93h5.2v5.2h-5.2ZM238.23 448.01h5.2v5.2h-5.2ZM237.7 432.84h5.2v5.2h-5.2ZM242.49 438.45h5.2v5.2h-5.2ZM233.44 450.53h5.2v5.2h-5.2ZM242.88 427.7h5.2v5.2h-5.2ZM241.81 450.76h5.2v5.2h-5.2ZM231.2 441.36h5.2v5.2h-5.2ZM240.24 448.95h5.2v5.2h-5.2ZM229.57 431.47h5.2v5.2h-5.2ZM237.82 449.95h5.2v5.2h-5.2ZM245.01 442.13h5.2v5.2h-5.2ZM235.83 454.35h5.2v5.2h-5.2ZM229.28 444.98h5.2v5.2h-5.2ZM246.08 438.77h5.2v5.2h-5.2ZM235.69 432.69h5.2v5.2h-5.2ZM231.62 413.16h5.2v5.2h-5.2ZM231.34 449.22h5.2v5.2h-5.2ZM246.33 449.21h5.2v5.2h-5.2ZM241.53 448.56h5.2v5.2h-5.2ZM244.1 441.09h5.2v5.2h-5.2ZM235.41 442.95h5.2v5.2h-5.2ZM237.6 443h5.2v5.2h-5.2ZM237.36 438.34h5.2v5.2h-5.2Z" fill="none" stroke="#FF0000" stroke-width="1.3"/>
<path d="M263.29 449.46l3.3 3.3l-3.3 3.3l-3.3 -3.3ZM265.56 441.85l3.3 3.3l-3.3 3.3l-3.3 -3.3ZM258.19 440.89l3.3 3.3l-3.3 3.3l-3.3 -3.3ZM260.17 402.33l3.3 3.3l-3.3 3.3l-3.3 -3.3ZM266.1 444.43l3.3 3.3l-3.3 3.3l-3.3 -3.3ZM258.74 426.38l3.3 3.3l-3.3 3.3l-3.3 -3.3ZM267.44 445.67l3.3 3.3l-3.3 3.3l-3.3 -3.3ZM266.32 447.7l3.3 3.3l-3.3 3.3l-3.3 -3.3ZM252.26 445.76l3.3 3.3l-3.3 3.3l-3.3 -3.3ZM259.03 449.98l3.3 3.3l-3.3 3.3l-3.3 -3.3ZM259.25 446.64l3.3 3.3l-3.3 3.3l-3.3 -3.3ZM261.85 450.04l3.3 3.3l-3.3 3.3l-3.3 -3.3ZM266.58 437.32l3.3 3.3l-3.3 3.3l-3.3 -3.3ZM261.86 445.25l3.3 3.3l-3.3 3.3l-3.3 -3.3ZM260.86 440.61l3.3 3.3l-3.3 3.3l-3.3 -3.3ZM266.72 454.31l3.3 3.3l-3.3 3.3l-3.3 -3.3ZM264.02 443.65l3.3 3.3l-3.3 3.3l-3.3 -3.3ZM257.69 447.52l3.3 3.3l-3.3 3.3l-3.3 -3.3ZM256.24 439.57l3.3 3.3l-3.3 3.3l-3.3 -3.3ZM263.49 441.28l3.3 3.3l-3.3 3.3l-3.3 -3.3ZM259.31 438.47l3.3 3.3l-3.3 3.3l-3.3 -3.3ZM260.96 437.62l3.3 3.3l-3.3 3.3l-3.3 -3.3ZM254.31 407.51l3.3 3.3l-3.3 3.3l-3.3 -3.3ZM255.68 446.46l3.3 3.3l-3.3 3.3l-3.3 -3.3ZM267.11 445.08l3.3 3.3l-3.3 3.3l-3.3 -3.3ZM261.77 452.15l3.3 3.3l-3.3 3.3l-3.3 -3.3ZM256.44 450.75l3.3 3.3l-3.3 3.3l-3.3 -3.3ZM259.54 442.75l3.3 3.3l-3.3 3.3l-3.3 -3.3ZM258.37 451.02l3.3 3.3l-3.3 3.3l-3.3 -3.3ZM264.42 446.04l3.3 3.3l-3.3 3.3l-3.3 -3.3ZM266.71 453.61l3.3 3.3l-3.3 3.3l-3.3 -3.3ZM252.37 430.6l3.3 3.3l-3.3 3.3l-3.3 -3.3ZM254.75 441.23l3.3 3.3l-3.3 3.3l-3.3 -3.3ZM253.73 450.46l3.3 3.3l-3.3 3.3l-3.3 -3.3ZM261.29 446.23l3.3 3.3l-3.3 3.3l-3.3 -3.3ZM260.92 423.4l3.3 3.3l-3.3 3.3l-3.3 -3.3ZM257.82 448.85l3.3 3.3l-3.3 3.3l-3.3 -3.3ZM260.69 434.65l3.3 3.3l-3.3 3.3l-3.3 -3.3ZM264.68 444.8l3.3 3.3l-3.3 3.3l-3.3 -3.3ZM262.62 446.58l3.3 3.3l-3.3 3.3l-3.3 -3.3ZM255.91 445.48l3.3 3.3l-3.3 3.3l-3.3 -3.3ZM260.04 442.93l3.3 3.3l-3.3 3.3l-3.3 -3.3ZM254.21 447.54l3.3 3.3l-3.3 3.3l-3.3 -3.3ZM266.28 452.74l3.3 3.3l-3.3 3.3l-3.3 -3.3ZM261.92 428.18l3.3 3.3l-3.3 3.3l-3.3 -3.3ZM266.21 433.49l3.3 3.3l-3.3 3.3l-3.3 -3.3ZM266.01 439.44l3.3 3.3l-3.3 3.3l-3.3 -3.3ZM255.44 442.38l3.3 3.3l-3.3 3.3l-3.3 -3.3ZM258.65 446.57l3.3 3.3l-3.3 3.3l-3.3 -3.3ZM262.72 441.73l3.3 3.3l-3.3 3.3l-3.3 -3.3ZM265.52 425.77l3.3 3.3l-3.3 3.3l-3.3 -3.3ZM261.06 446.08l3.3 3.3l-3.3 3.3l-3.3 -3.3ZM265.05 407.51l3.3 3.3l-3.3 3.3l-3.3 -3.3ZM253.06 452.14l3.3 3.3l-3.3 3.3l-3.3 -3.3ZM254.46 441.6l3.3 3.3l-3.3 3.3l-3.3 -3.3ZM265.66 447.18l3.3 3.3l-3.3 3.3l-3.3 -3.3ZM252.39 446.87l3.3 3.3l-3.3 3.3l-3.3 -3.3ZM258.79 436.22l3.3 3.3l-3.3 3.3l-3.3 -3.3ZM257.65 451.78l3.3 3.3l-3.3 3.3l-3.3 -3.3ZM253.75 438.25l3.3 3.3l-3.3 3.3l-3.3 -3.3ZM256.47 450.61l3.3 3.3l-3.3 3.3l-3.3 -3.3ZM256.12 442.65l3.3 3.3l-3.3 3.3l-3.3 -3.3ZM262.96 438.98l3.3 3.3l-3.3 3.3l-3.3 -3.3ZM255.94 446.39l3.3 3.3l-3.3 3.3l-3.3 -3.3ZM260.73 447.9l3.3 3.3l-3.3 3.3l-3.3 -3.3ZM260.46 446.97l3.3 3.3l-3.3 3.3l-3.3 -3.3ZM263.06 448.68l3.3 3.3l-3.3 3.3l-3.3 -3.3ZM256.99 447.93l3.3 3.3l-3.3 3.3l-3.3 -3.3ZM252.16 430.22l3.3 3.3l-3.3 3.3l-3.3 -3.3ZM263.78 451.12l3.3 3.3l-3.3 3.3l-3.3 -3.3ZM265.64 449.32l3.3 3.3l-3.3 3.3l-3.3 -3.3ZM258.37 439.19l3.3 3.3l-3.3 3.3l-3.3 -3.3ZM264.26 449.31l3.3 3.3l-3.3 3.3l-3.3 -3.3ZM252.53 451.65l3.3 3.3l-3.3 3.3l-3.3 -3.3ZM265.06 436.76l3.3 3.3l-3.3 3.3l-3.3 -3.3ZM256 443.63l3.3 3.3l-3.3 3.3l-3.3 -3.3ZM263.55 446.68l3.3 3.3l-3.3 3.3l-3.3 -3.3ZM253.08 446.16l3.3 3.3l-3.3 3.3l-3.3 -3.3ZM266.09 447.01l3.3 3.3l-3.3 3.3l-3.3 -3.3ZM253.12 442.08l3.3 3.3l-3.3 3.3l-3.3 -3.3ZM261.1 448.45l3.3 3.3l-3.3 3.3l-3.3 -3.3ZM263.98 441.26l3.3 3.3l-3.3 3.3l-3.3 -3.3ZM254.18 450.47l3.3 3.3l-3.3 3.3l-3.3 -3.3ZM265.01 435.69l3.3 3.3l-3.3 3.3l-3.3 -3.3ZM263.27 452.34l3.3 3.3l-3.3 3.3l-3.3 -3.3ZM258.35 452.36l3.3 3.3l-3.3 3.3l-3.3 -3.3ZM260.23 451.62l3.3 3.3l-3.3 3.3l-3.3 -3.3ZM258.7 413.5l3.3 3.3l-3.3 3.3l-3.3 -3.3ZM266.4 434.24l3.3 3.3l-3.3 3.3l-3.3 -3.3ZM257.62 444.99l3.3 3.3l-3.3 3.3l-3.3 -3.3ZM257.47 451.68l3.3 3.3l-3.3 3.3l-3.3 -3.3ZM265.2 443.54l3.3 3.3l-3.3 3.3l-3.3 -3.3ZM252.72 439.47l3.3 3.3l-3.3 3.3l-3.3 -3.3ZM256.06 448.86l3.3 3.3l-3.3 3.3l-3.3 -3.3ZM253.17 444.41l3.3 3.3l-3.3 3.3l-3.3 -3.3ZM265.97 449.43l3.3 3.3l-3.3 3.3l-3.3 -3.3ZM262.53 448.85l3.3 3.3l-3.3 3.3l-3.3 -3.3ZM254.67 446.79l3.3 3.3l-3.3 3.3l-3.3 -3.3ZM256.06 448.08l3.3 3.3l-3.3 3.3l-3.3 -3.3ZM265.44 453.08l3.3 3.3l-3.3 3.3l-3.3 -3.3ZM264 433.36l3.3 3.3l-3.3 3.3l-3.3 -3.3ZM260.18 444.76l3.3 3.3l-3.3 3.3l-3.3 -3.3ZM262.17 439.81l3.3 3.3l-3.3 3.3l-3.3 -3.3ZM252.99 451.51l3.3 3.3l-3.3 3.3l-3.3 -3.3ZM252.98 446.2l3.3 3.3l-3.3 3.3l-3.3 -3.3ZM254.96 448.19l3.3 3.3l-3.3 3.3l-3.3 -3.3ZM257.73 437.3l3.3 3.3l-3.3 3.3l-3.3 -3.3ZM259.2 445.06l3.3 3.3l-3.3 3.3l-3.3 -3.3ZM266.84 446.74l3.3 3.3l-3.3 3.3l-3.3 -3.3ZM253.58 449.79l3.3 3.3l-3.3 3.3l-3.3 -3.3ZM253.93 451.65l3.3 3.3l-3.3 3.3l-3.3 -3.3ZM262.32 424.26l3.3 3.3l-3.3 3.3l-3.3 -3.3ZM261.81 442.16l3.3 3.3l-3.3 3.3l-3.3 -3.3ZM252.37 448.16l3.3 3.3l-3.3 3.3l-3.3 -3.3ZM257.28 445.04l3.3 3.3l-3.3 3.3l-3.3 -3.3ZM263.97 434.56l3.3 3.3l-3.3 3.3l-3.3 -3.3ZM267.36 444.15l3.3 3.3l-3.3 3.3l-3.3 -3.3ZM260.52 452.95l3.3 3.3l-3.3 3.3l-3.3 -3.3ZM264.41 447.31l3.3 3.3l-3.3 3.3l-3.3 -3.3ZM257.14 442.83l3.3 3.3l-3.3 3.3l-3.3 -3.3ZM251.89 453.35l3.3 3.3l-3.3 3.3l-3.3 -3.3ZM262.61 411.54l3.3 3.3l-3.3 3.3l-3.3 -3.3ZM255.36 453.35l3.3 3.3l-3.3 3.3l-3.3 -3.3ZM266.75 443.39l3.3 3.3l-3.3 3.3l-3.3 -3.3ZM265.8 445.28l3.3 3.3l-3.3 3.3l-3.3 -3.3ZM262.84 442.25l3.3 3.3l-3.3 3.3l-3.3 -3.3ZM255.15 449.57l3.3 3.3l-3.3 3.3l-3.3 -3.3ZM260.86 445.37l3.3 3.3l-3.3 3.3l-3.3 -3.3ZM265.64 443.99l3.3 3.3l-3.3 3.3l-3.3 -3.3ZM256 443.42l3.3 3.3l-3.3 3.3l-3.3 -3.3ZM258.09 451.15l3.3 3.3l-3.3 3.3l-3.3 -3.3ZM255.54 448.35l3.3 3.3l-3.3 3.3l-3.3 -3.3ZM254.84 443.08l3.3 3.3l-3.3 3.3l-3.3 -3.3ZM264.13 438.64l3.3 3.3l-3.3 3.3l-3.3 -3.3ZM254.4 443.16l3.3 3.3l-3.3 3.3l-3.3 -3.3ZM264.18 433.55l3.3 3.3l-3.3 3.3l-3.3 -3.3ZM262.97 438.92l3.3 3.3l-3.3 3.3l-3.3 -3.3ZM252.95 443.45l3.3 3.3l-3.3 3.3l-3.3 -3.3ZM259.47 444.59l3.3 3.3l-3.3 3.3l-3.3 -3.3ZM261.37 450.05l3.3 3.3l-3.3 3.3l-3.3 -3.3ZM256.84 446.76l3.3 3.3l-3.3 3.3l-3.3 -3.3ZM266.19 452.45l3.3 3.3l-3.3 3.3l-3.3 -3.3ZM256.23 444.43l3.3 3.3l-3.3 3.3l-3.3 -3.3ZM264.46 433.14l3.3 3.3l-3.3 3.3l-3.3 -3.3ZM261.57 449.9l3.3 3.3l-3.3 3.3l-3.3 -3.3ZM259.07 440.65l3.3 3.3l-3.3 3.3l-3.3 -3.3ZM254.61 446.06l3.3 3.3l-3.3 3.3l-3.3 -3.3ZM257.18 430.85l3.3 3.3l-3.3 3.3l-3.3 -3.3ZM258.82 431.58l3.3 3.3l-3.3 3.3l-3.3 -3.3ZM257.14 431.29l3.3 3.3l-3.3 3.3l-3.3 -3.3ZM260.81 445.72l3.3 3.3l-3.3 3.3l-3.3 -3.3ZM256.8 444.78l3.3 3.3l-3.3 3.3l-3.3 -3.3ZM253.67 442.13l3.3 3.3l-3.3 3.3l-3.3 -3.3ZM257.92 435.47l3.3 3.3l-3.3 3.3l-3.3 -3.3ZM254.39 448.33l3.3 3.3l-3.3 3.3l-3.3 -3.3ZM259.83 437.02l3.3 3.3l-3.3 3.3l-3.3 -3.3ZM253.73 445.08l3.3 3.3l-3.3 3.3l-3.3 -3.3ZM253.99 411.16l3.3 3.3l-3.3 3.3l-3.3 -3.3ZM259.99 437.98l3.3 3.3l-3.3 3.3l-3.3 -3.3ZM254.42 438.39l3.3 3.3l-3.3 3.3l-3.3 -3.3ZM257.19 445.02l3.3 3.3l-3.3 3.3l-3.3 -3.3ZM256.35 434.52l3.3 3.3l-3.3 3.3l-3.3 -3.3ZM265.51 445.49l3.3 3.3l-3.3 3.3l-3.3 -3.3ZM260.43 445.78l3.3 3.3l-3.3 3.3l-3.3 -3.3ZM259.54 440.71l3.3 3.3l-3.3 3.3l-3.3 -3.3ZM253.99 453.23l3.3 3.3l-3.3 3.3l-3.3 -3.3ZM266.58 447.11l3.3 3.3l-3.3 3.3l-3.3 -3.3ZM265.37 449.28l3.3 3.3l-3.3 3.3l-3.3 -3.3ZM256.29 448.42l3.3 3.3l-3.3 3.3l-3.3 -3.3ZM260.77 434.83l3.3 3.3l-3.3 3.3l-3.3 -3.3ZM262.57 452.34l3.3 3.3l-3.3 3.3l-3.3 -3.3ZM252.89 442.61l3.3 3.3l-3.3 3.3l-3.3 -3.3ZM257.65 441.67l3.3 3.3l-3.3 3.3l-3.3 -3.3ZM252.56 431.82l3.3 3.3l-3.3 3.3l-3.3 -3.3ZM263.85 432.23l3.3 3.3l-3.3 3.3l-3.3 -3.3ZM256.08 449.75l3.3 3.3l-3.3 3.3l-3.3 -3.3ZM252.33 450.24l3.3 3.3l-3.3 3.3l-3.3 -3.3ZM262.02 439.73l3.3 3.3l-3.3 3.3l-3.3 -3.3ZM263.18 446.97l3.3 3.3l-3.3 3.3l-3.3 -3.3ZM265.97 447.83l3.3 3.3l-3.3 3.3l-3.3 -3.3ZM255.25 448.92l3.3 3.3l-3.3 3.3l-3.3 -3.3ZM263.02 441.99l3.3 3.3l-3.3 3.3l-3.3 -3.3ZM263 449.29l3.3 3.3l-3.3 3.3l-3.3 -3.3ZM263.18 452.22l3.3 3.3l-3.3 3.3l-3.3 -3.3ZM266.66 443.71l3.3 3.3l-3.3 3.3l-3.3 -3.3ZM252.2 437.8l3.3 3.3l-3.3 3.3l-3.3 -3.3ZM256.88 435.86l3.3 3.3l-3.3 3.3l-3.3 -3.3ZM259.88 453.16l3.3 3.3l-3.3 3.3l-3.3 -3.3ZM252.88 451.82l3.3 3.3l-3.3 3.3l-3.3 -3.3ZM254.04 444l3.3 3.3l-3.3 3.3l-3.3 -3.3ZM262.37 448.74l3.3 3.3l-3.3 3.3l-3.3 -3.3ZM262.28 446.8l3.3 3.3l-3.3 3.3l-3.3 -3.3ZM256.35 443.73l3.3 3.3l-3.3 3.3l-3.3 -3.3ZM261.18 443.82l3.3 3.3l-3.3 3.3l-3.3 -3.3ZM262.09 437.48l3.3 3.3l-3.3 3.3l-3.3 -3.3ZM253.35 439.76l3.3 3.3l-3.3 3.3l-3.3 -3.3ZM266.5 438.51l3.3 3.3l-3.3 3.3l-3.3 -3.3ZM254.4 452.37l3.3 3.3l-3.3 3.3l-3.3 -3.3ZM264.76 451.99l3.3 3.3l-3.3 3.3l-3.3 -3.3ZM260.31 429.14l3.3 3.3l-3.3 3.3l-3.3 -3.3ZM258.28 450.62l3.3 3.3l-3.3 3.3l-3.3 -3.3ZM253.17 430.63l3.3 3.3l-3.3 3.3l-3.3 -3.3ZM259.93 432.9l3.3 3.3l-3.3 3.3l-3.3 -3.3ZM256.29 450.48l3.3 3.3l-3.3 3.3l-3.3 -3.3ZM258.51 437.97l3.3 3.3l-3.3 3.3l-3.3 -3.3ZM261.04 446.52l3.3 3.3l-3.3 3.3l-3.3 -3.3ZM254.57 448.51l3.3 3.3l-3.3 3.3l-3.3 -3.3ZM260.8 446.26l3.3 3.3l-3.3 3.3l-3.3 -3.3ZM257.48 449.85l3.3 3.3l-3.3 3.3l-3.3 -3.3ZM256.03 449.84l3.3 3.3l-3.3 3.3l-3.3 -3.3ZM263.99 453.58l3.3 3.3l-3.3 3.3l-3.3 -3.3ZM257.53 436.64l3.3 3.3l-3.3 3.3l-3.3 -3.3ZM253.63 446.03l3.3 3.3l-3.3 3.3l-3.3 -3.3ZM252.68 439.98l3.3 3.3l-3.3 3.3l-3.3 -3.3ZM264.01 445.9l3.3 3.3l-3.3 3.3l-3.3 -3.3ZM264.38 445.46l3.3 3.3l-3.3 3.3l-3.3 -3.3ZM264.75 454.57l3.3 3.3l-3.3 3.3l-3.3 -3.3ZM262.67 443.92l3.3 3.3l-3.3 3.3l-3.3 -3.3ZM259.6 448.19l3.3 3.3l-3.3 3.3l-3.3 -3.3ZM266.64 453.73l3.3 3.3l-3.3 3.3l-3.3 -3.3ZM264.52 442.9l3.3 3.3l-3.3 3.3l-3.3 -3.3ZM255.21 453.08l3.3 3.3l-3.3 3.3l-3.3 -3.3ZM255.1 452.53l3.3 3.3l-3.3 3.3l-3.3 -3.3ZM266.38 452.3l3.3 3.3l-3.3 3.3l-3.3 -3.3ZM255.81 442.83l3.3 3.3l-3.3 3.3l-3.3 -3.3ZM265.69 428.94l3.3 3.3l-3.3 3.3l-3.3 -3.3ZM267.29 452.97l3.3 3.3l-3.3 3.3l-3.3 -3.3ZM265.85 441.27l3.3 3.3l-3.3 3.3l-3.3 -3.3ZM259.75 451.09l3.3 3.3l-3.3 3.3l-3.3 -3.3ZM260.27 454.11l3.3 3.3l-3.3 3.3l-3.3 -3.3ZM263.69 441.85l3.3 3.3l-3.3 3.3l-3.3 -3.3ZM266.55 452.85l3.3 3.3l-3.3 3.3l-3.3 -3.3ZM264.42 446.15l3.3 3.3l-3.3 3.3l-3.3 -3.3ZM265.7 446.59l3.3 3.3l-3.3 3.3l-3.3 -3.3ZM254.25 442.69l3.3 3.3l-3.3 3.3l-3.3 -3.3ZM264.99 450.77l3.3 3.3l-3.3 3.3l-3.3 -3.3ZM255.53 448.51l3.3 3.3l-3.3 3.3l-3.3 -3.3ZM257.57 442.47l3.3 3.3l-3.3 3.3l-3.3 -3.3ZM260.6 450.7l3.3 3.3l-3.3 3.3l-3.3 -3.3ZM265.27 447.83l3.3 3.3l-3.3 3.3l-3.3 -3.3ZM259.08 451.91l3.3 3.3l-3.3 3.3l-3.3 -3.3ZM265.4 428.8l3.3 3.3l-3.3 3.3l-3.3 -3.3ZM262.93 412.37l3.3 3.3l-3.3 3.3l-3.3 -3.3ZM259.08 449.14l3.3 3.3l-3.3 3.3l-3.3 -3.3ZM255.97 449.65l3.3 3.3l-3.3 3.3l-3.3 -3.3ZM266.47 442.25l3.3 3.3l-3.3 3.3l-3.3 -3.3ZM265.45 450.74l3.3 3.3l-3.3 3.3l-3.3 -3.3ZM262.2 441.51l3.3 3.3l-3.3 3.3l-3.3 -3.3ZM252.94 446.02l3.3 3.3l-3.3 3.3l-3.3 -3.3ZM257.25 446.25l3.3 3.3l-3.3 3.3l-3.3 -3.3ZM255.63 444.49l3.3 3.3l-3.3 3.3l-3.3 -3.3ZM260.97 454.17l3.3 3.3l-3.3 3.3l-3.3 -3.3ZM260.15 429.61l3.3 3.3l-3.3 3.3l-3.3 -3.3ZM257.31 448.34l3.3 3.3l-3.3 3.3l-3.3 -3.3ZM256.12 447.5l3.3 3.3l-3.3 3.3l-3.3 -3.3ZM266.51 429.81l3.3 3.3l-3.3 3.3l-3.3 -3.3ZM263.67 447.01l3.3 3.3l-3.3 3.3l-3.3 -3.3ZM256.81 447.89l3.3 3.3l-3.3 3.3l-3.3 -3.3ZM262.37 445.79l3.3 3.3l-3.3 3.3l-3.3 -3.3ZM257.96 448.27l3.3 3.3l-3.3 3.3l-3.3 -3.3ZM257.4 449.67l3.3 3.3l-3.3 3.3l-3.3 -3.3ZM257.18 453.22l3.3 3.3l-3.3 3.3l-3.3 -3.3ZM262.29 447.49l3.3 3.3l-3.3 3.3l-3.3 -3.3ZM260.07 446.93l3.3 3.3l-3.3 3.3l-3.3 -3.3ZM252.41 448.13l3.3 3.3l-3.3 3.3l-3.3 -3.3ZM253.33 447.07l3.3 3.3l-3.3 3.3l-3.3 -3.3ZM252.69 446.38l3.3 3.3l-3.3 3.3l-3.3 -3.3ZM261.34 450.54l3.3 3.3l-3.3 3.3l-3.3 -3.3ZM259.33 433.71l3.3 3.3l-3.3 3.3l-3.3 -3.3ZM257.01 446.16l3.3 3.3l-3.3 3.3l-3.3 -3.3ZM266.82 439.21l3.3 3.3l-3.3 3.3l-3.3 -3.3ZM258.83 446.61l3.3 3.3l-3.3 3.3l-3.3 -3.3ZM263.24 431.38l3.3 3.3l-3.3 3.3l-3.3 -3.3ZM259.63 446.07l3.3 3.3l-3.3 3.3l-3.3 -3.3ZM257.41 443.98l3.3 3.3l-3.3 3.3l-3.3 -3.3ZM263.04 428.9l3.3 3.3l-3.3 3.3l-3.3 -3.3ZM253.43 453.05l3.3 3.3l-3.3 3.3l-3.3 -3.3ZM252.52 418.25l3.3 3.3l-3.3 3.3l-3.3 -3.3ZM260.59 451.51l3.3 3.3l-3.3 3.3l-3.3 -3.3ZM263.94 445.29l3.3 3.3l-3.3 3.3l-3.3 -3.3ZM252.99 452.69l3.3 3.3l-3.3 3.3l-3.3 -3.3ZM263.23 428.45l3.3 3.3l-3.3 3.3l-3.3 -3.3ZM261.36 443.71l3.3 3.3l-3.3 3.3l-3.3 -3.3ZM252.4 454.57l3.3 3.3l-3.3 3.3l-3.3 -3.3ZM265.92 434.25l3.3 3.3l-3.3 3.3l-3.3 -3.3Z" fill="none" stroke="#00B050" stroke-width="1.3"/>
<path d="M281.56 449.85L284.66 455.43L278.46 455.43ZM271.05 447.15L274.15 452.73L267.95 452.73ZM279.25 447.89L282.35 453.47L276.15 453.47ZM276.25 446.15L279.35 451.73L273.15 451.73ZM282.64 392.15L285.74 397.73L279.54 397.73ZM279.78 447.5L282.88 453.08L276.68 453.08ZM270.78 446.74L273.88 452.32L267.68 452.32ZM272.62 445.28L275.72 450.86L269.52 450.86ZM282.94 438.48L286.04 444.06L279.84 444.06ZM279.72 441.72L282.82 447.3L276.62 447.3ZM271.24 436.17L274.34 441.75L268.14 441.75ZM274.5 421.95L277.6 427.53L271.4 427.53ZM278.51 437.1L281.61 442.68L275.41 442.68ZM275.92 446.45L279.02 452.03L272.82 452.03ZM271.21 448.44L274.31 454.02L268.11 454.02ZM276.46 447.29L279.56 452.87L273.36 452.87ZM271.63 453.94L274.73 459.52L268.53 459.52ZM284 452.17L287.1 457.75L280.9 457.75ZM273.96 445.41L277.06 450.99L270.86 450.99ZM272.85 450.75L275.95 456.33L269.75 456.33ZM274.91 439.62L278.01 445.2L271.81 445.2ZM276.99 446.46L280.09 452.04L273.89 452.04ZM281.4 445.57L284.5 451.15L278.3 451.15ZM276.8 451.3L279.9 456.88L273.7 456.88ZM279.45 451.61L282.55 457.19L276.35 457.19ZM271.52 442.87L274.62 448.45L268.42 448.45ZM271.93 450.38L275.03 455.96L268.83 455.96ZM273.33 446.27L276.43 451.85L270.23 451.85ZM273.73 437.03L276.83 442.61L270.63 442.61ZM283.08 443.9L286.18 449.48L279.98 449.48ZM275.25 445.06L278.35 450.64L272.15 450.64ZM279.39 449.21L282.49 454.79L276.29 454.79ZM281.09 426.8L284.19 432.38L277.99 432.38ZM282.64 442.3L285.74 447.88L279.54 447.88ZM281.94 451.68L285.04 457.26L278.84 457.26ZM280.1 437.39L283.2 442.97L277 442.97ZM283.85 444.49L286.95 450.07L280.75 450.07ZM273.57 448.98L276.67 454.56L270.47 454.56ZM278.04 449.75L281.14 455.33L274.94 455.33ZM279.08 453.69L282.18 459.27L275.98 459.27ZM272.24 444.36L275.34 449.94L269.14 449.94ZM283.31 448.6L286.41 454.18L280.21 454.18ZM271.98 450.77L275.08 456.35L268.88 456.35ZM282.5 450.29L285.6 455.87L279.4 455.87ZM274.03 435.35L277.13 440.93L270.93 440.93ZM283.27 445.65L286.37 451.23L280.17 451.23ZM276.51 451.22L279.61 456.8L273.41 456.8ZM279.14 450.78L282.24 456.36L276.04 456.36ZM282.02 441.2L285.12 446.78L278.92 446.78ZM281.07 451.51L284.17 457.09L277.97 457.09ZM272.06 443L275.16 448.58L268.96 448.58ZM278.05 443.11L281.15 448.69L274.95 448.69ZM272.35 452.04L275.45 457.62L269.25 457.62ZM273.24 452.35L276.34 457.93L270.14 457.93ZM278.35 443.7L281.45 449.28L275.25 449.28ZM279.56 446.27L282.66 451.85L276.46 451.85ZM279.14 445.41L282.24 450.99L276.04 450.99ZM275.5 448.23L278.6 453.81L272.4 453.81ZM273.41 446.56L276.51 452.14L270.31 452.14ZM283.33 447.29L286.43 452.87L280.23 452.87ZM277.68 450.49L280.78 456.07L274.58 456.07ZM270.43 447.17L273.53 452.75L267.33 452.75ZM273.82 443.86L276.92 449.44L270.72 449.44ZM279.22 415.76L282.32 421.34L276.12 421.34ZM281.16 452.61L284.26 458.19L278.06 458.19ZM282.05 443.79L285.15 449.37L278.95 449.37ZM272.09 450.41L275.19 455.99L268.99 455.99ZM273.23 444.8L276.33 450.38L270.13 450.38ZM283.49 444.5L286.59 450.08L280.39 450.08ZM277.8 451.95L280.9 457.53L274.7 457.53ZM282.28 442.44L285.38 448.02L279.18 448.02ZM271.08 454.12L274.18 459.7L267.98 459.7ZM283.21 448.6L286.31 454.18L280.11 454.18ZM273.79 448.95L276.89 454.53L270.69 454.53ZM271.67 444.74L274.77 450.32L268.57 450.32ZM278.63 447.96L281.73 453.54L275.53 453.54ZM283.11 449.88L286.21 455.46L280.01 455.46ZM276.7 446.9L279.8 452.48L273.6 452.48ZM279.99 443.78L283.09 449.36L276.89 449.36ZM273.06 446.25L276.16 451.83L269.96 451.83ZM272.4 446.88L275.5 452.46L269.3 452.46ZM280.28 446.56L283.38 452.14L277.18 452.14ZM270.92 412.19L274.02 417.77L267.82 417.77ZM280.42 454.46L283.52 460.04L277.32 460.04ZM276.29 447.56L279.39 453.14L273.19 453.14ZM283.76 445.32L286.86 450.9L280.66 450.9ZM283.35 453.96L286.45 459.54L280.25 459.54ZM278.38 452.93L281.48 458.51L275.28 458.51ZM278.25 444.11L281.35 449.69L275.15 449.69ZM277.97 453.75L281.07 459.33L274.87 459.33ZM282.91 449.51L286.01 455.09L279.81 455.09ZM270.92 392.61L274.02 398.19L267.82 398.19ZM282.14 447.3L285.24 452.88L279.04 452.88ZM277.66 438.75L280.76 444.33L274.56 444.33ZM282.18 441.35L285.28 446.93L279.08 446.93ZM274.38 440.32L277.48 445.9L271.28 445.9ZM278.35 437.93L281.45 443.51L275.25 443.51ZM274.82 425.08L277.92 430.66L271.72 430.66ZM277.6 446.9L280.7 452.48L274.5 452.48ZM273.43 451.2L276.53 456.78L270.33 456.78ZM274.57 450.26L277.67 455.84L271.47 455.84ZM276.18 450.48L279.28 456.06L273.08 456.06ZM282.24 437.6L285.34 443.18L279.14 443.18ZM273.53 446.91L276.63 452.49L270.43 452.49ZM273.56 443.31L276.66 448.89L270.46 448.89ZM279.93 452.27L283.03 457.85L276.83 457.85ZM276.75 451.02L279.85 456.6L273.65 456.6ZM275.1 445.66L278.2 451.24L272 451.24ZM276.07 439.25L279.17 444.83L272.97 444.83ZM274.54 452.29L277.64 457.87L271.44 457.87ZM271.94 449.21L275.04 454.79L268.84 454.79ZM271.81 450.49L274.91 456.07L268.71 456.07ZM276.36 448.79L279.46 454.37L273.26 454.37ZM273.8 453.62L276.9 459.2L270.7 459.2ZM274.91 448.88L278.01 454.46L271.81 454.46ZM277.73 441.59L280.83 447.17L274.63 447.17ZM272 442.09L275.1 447.67L268.9 447.67ZM275.47 448.04L278.57 453.62L272.37 453.62ZM279.61 452.38L282.71 457.96L276.51 457.96ZM277.44 449.14L280.54 454.72L274.34 454.72ZM282.56 450.71L285.66 456.29L279.46 456.29ZM283 453.55L286.1 459.13L279.9 459.13ZM270.94 454.38L274.04 459.96L267.84 459.96ZM270.8 448.1L273.9 453.68L267.7 453.68ZM277.19 445L280.29 450.58L274.09 450.58ZM275.67 448.54L278.77 454.12L272.57 454.12ZM281.98 446.13L285.08 451.71L278.88 451.71ZM279.41 448.04L282.51 453.62L276.31 453.62ZM276.3 447.87L279.4 453.45L273.2 453.45ZM278.71 450.06L281.81 455.64L275.61 455.64ZM280.96 437.53L284.06 443.11L277.86 443.11ZM281.08 454.15L284.18 459.73L277.98 459.73ZM279.63 433.68L282.73 439.26L276.53 439.26ZM282.36 442.24L285.46 447.82L279.26 447.82ZM272.49 440.73L275.59 446.31L269.39 446.31ZM280.32 439.3L283.42 444.88L277.22 444.88ZM275.27 443.04L278.37 448.62L272.17 448.62ZM284.04 443.79L287.14 449.37L280.94 449.37ZM276.73 447.61L279.83 453.19L273.63 453.19ZM282.79 454.33L285.89 459.91L279.69 459.91ZM277.42 451.56L280.52 457.14L274.32 457.14ZM273.12 452.22L276.22 457.8L270.02 457.8ZM282.31 446.77L285.41 452.35L279.21 452.35ZM283.76 451.3L286.86 456.88L280.66 456.88ZM272.13 454.42L275.23 460L269.03 460ZM274.14 440.65L277.24 446.23L271.04 446.23ZM276.5 440.74L279.6 446.32L273.4 446.32ZM271.08 450.65L274.18 456.23L267.98 456.23ZM280.12 452.41L283.22 457.99L277.02 457.99ZM278.36 449.67L281.46 455.25L275.26 455.25ZM270.9 449.85L274 455.43L267.8 455.43ZM277.1 451.89L280.2 457.47L274 457.47ZM282.52 426.31L285.62 431.89L279.42 431.89ZM282.14 451.62L285.24 457.2L279.04 457.2ZM272.88 451.72L275.98 457.3L269.78 457.3ZM280.08 431.86L283.18 437.44L276.98 437.44ZM283.28 448.68L286.38 454.26L280.18 454.26ZM282.79 438.33L285.89 443.91L279.69 443.91ZM282.18 450.16L285.28 455.74L279.08 455.74ZM272.27 449.25L275.37 454.83L269.17 454.83ZM276.53 454.25L279.63 459.83L273.43 459.83ZM278.36 447.05L281.46 452.63L275.26 452.63ZM278.35 449.4L281.45 454.98L275.25 454.98ZM271.97 446.65L275.07 452.23L268.87 452.23ZM277.48 433.31L280.58 438.89L274.38 438.89ZM280.62 442.49L283.72 448.07L277.52 448.07ZM283.24 443.36L286.34 448.94L280.14 448.94ZM283.22 432.04L286.32 437.62L280.12 437.62ZM276.61 448.58L279.71 454.16L273.51 454.16ZM273.47 442.93L276.57 448.51L270.37 448.51ZM271.93 448.52L275.03 454.1L268.83 454.1ZM283.14 446.19L286.24 451.77L280.04 451.77ZM272.03 450.47L275.13 456.05L268.93 456.05ZM273.88 451.72L276.98 457.3L270.78 457.3ZM275.34 447.03L278.44 452.61L272.24 452.61ZM278.06 443.47L281.16 449.05L274.96 449.05ZM281.04 443.94L284.14 449.52L277.94 449.52ZM281.65 447.06L284.75 452.64L278.55 452.64ZM283.08 447.94L286.18 453.52L279.98 453.52ZM271.27 453.46L274.37 459.04L268.17 459.04ZM275.59 444.87L278.69 450.45L272.49 450.45ZM276.92 432.18L280.02 437.76L273.82 437.76ZM282.6 441.43L285.7 447.01L279.5 447.01ZM273.51 449.11L276.61 454.69L270.41 454.69ZM279.38 454.53L282.48 460.11L276.28 460.11ZM278.69 439.45L281.79 445.03L275.59 445.03ZM278.31 420.06L281.41 425.64L275.21 425.64ZM278.14 453.96L281.24 459.54L275.04 459.54ZM271.9 439.21L275 444.79L268.8 444.79ZM270.7 430.95L273.8 436.53L267.6 436.53ZM279.23 447.31L282.33 452.89L276.13 452.89ZM279.1 452.41L282.2 457.99L276 457.99ZM273.16 445.78L276.26 451.36L270.06 451.36ZM275.06 439.81L278.16 445.39L271.96 445.39ZM273.11 442.02L276.21 447.6L270.01 447.6ZM283.22 450.14L286.32 455.72L280.12 455.72ZM282.14 452.7L285.24 458.28L279.04 458.28ZM277.08 445.64L280.18 451.22L273.98 451.22ZM270.69 444.91L273.79 450.49L267.59 450.49ZM272.49 451.79L275.59 457.37L269.39 457.37ZM283.78 451.64L286.88 457.22L280.68 457.22ZM282.3 449.6L285.4 455.18L279.2 455.18ZM282.65 452.86L285.75 458.44L279.55 458.44ZM283.67 449.71L286.77 455.29L280.57 455.29ZM275.21 452.33L278.31 457.91L272.11 457.91ZM283.47 451.34L286.57 456.92L280.37 456.92ZM272.94 453.65L276.04 459.23L269.84 459.23ZM282.27 441.09L285.37 446.67L279.17 446.67ZM273.85 399.98L276.95 405.56L270.75 405.56ZM275.7 441.18L278.8 446.76L272.6 446.76ZM276.32 442.41L279.42 447.99L273.22 447.99ZM279.94 454.21L283.04 459.79L276.84 459.79ZM276.16 449.45L279.26 455.03L273.06 455.03ZM278.05 451.86L281.15 457.44L274.95 457.44ZM272.67 436.22L275.77 441.8L269.57 441.8ZM278.3 436.25L281.4 441.83L275.2 441.83ZM280.13 453.4L283.23 458.98L277.03 458.98ZM277.1 449.47L280.2 455.05L274 455.05ZM271.54 449.28L274.64 454.86L268.44 454.86ZM278.2 427.82L281.3 433.4L275.1 433.4ZM278.13 450.86L281.23 456.44L275.03 456.44ZM272.4 453.28L275.5 458.86L269.3 458.86ZM277.83 443.74L280.93 449.32L274.73 449.32ZM280.66 438.13L283.76 443.71L277.56 443.71ZM281.61 453.68L284.71 459.26L278.51 459.26Z" fill="none" stroke="#ED7D31" stroke-width="1.3"/>
<path d="M295.78 449.78a2.6 2.6 0 1 0 5.2 0a2.6 2.6 0 1 0 -5.2 0M291.99 454.94a2.6 2.6 0 1 0 5.2 0a2.6 2.6 0 1 0 -5.2 0M295.13 441.16a2.6 2.6 0 1 0 5.2 0a2.6 2.6 0 1 0 -5.2 0M293.9 448.76a2.6 2.6 0 1 0 5.2 0a2.6 2.6 0 1 0 -5.2 0M291.91 457.05a2.6 2.6 0 1 0 5.2 0a2.6 2.6 0 1 0 -5.2 0M293.42 443.46a2.6 2.6 0 1 0 5.2 0a2.6 2.6 0 1 0 -5.2 0M287.86 450.09a2.6 2.6 0 1 0 5.2 0a2.6 2.6 0 1 0 -5.2 0M292.68 452.47a2.6 2.6 0 1 0 5.2 0a2.6 2.6 0 1 0 -5.2 0M288.36 455.6a2.6 2.6 0 1 0 5.2 0a2.6 2.6 0 1 0 -5.2 0M285.76 450.29a2.6 2.6 0 1 0 5.2 0a2.6 2.6 0 1 0 -5.2 0M287.03 451.14a2.6 2.6 0 1 0 5.2 0a2.6 2.6 0 1 0 -5.2 0M288.63 445a2.6 2.6 0 1 0 5.2 0a2.6 2.6 0 1 0 -5.2 0M290.82 453.53a2.6 2.6 0 1 0 5.2 0a2.6 2.6 0 1 0 -5.2 0M290.15 454.31a2.6 2.6 0 1 0 5.2 0a2.6 2.6 0 1 0 -5.2 0M291.69 443.65a2.6 2.6 0 1 0 5.2 0a2.6 2.6 0 1 0 -5.2 0M294.22 446.42a2.6 2.6 0 1 0 5.2 0a2.6 2.6 0 1 0 -5.2 0M286.56 455.95a2.6 2.6 0 1 0 5.2 0a2.6 2.6 0 1 0 -5.2 0M285.34 448.05a2.6 2.6 0 1 0 5.2 0a2.6 2.6 0 1 0 -5.2 0M295.32 452.07a2.6 2.6 0 1 0 5.2 0a2.6 2.6 0 1 0 -5.2 0M293.33 453.18a2.6 2.6 0 1 0 5.2 0a2.6 2.6 0 1 0 -5.2 0M285.77 451.09a2.6 2.6 0 1 0 5.2 0a2.6 2.6 0 1 0 -5.2 0M293.13 453.01a2.6 2.6 0 1 0 5.2 0a2.6 2.6 0 1 0 -5.2 0M290.74 449.71a2.6 2.6 0 1 0 5.2 0a2.6 2.6 0 1 0 -5.2 0M285.14 449.95a2.6 2.6 0 1 0 5.2 0a2.6 2.6 0 1 0 -5.2 0M288.82 452.82a2.6 2.6 0 1 0 5.2 0a2.6 2.6 0 1 0 -5.2 0M294.27 457.05a2.6 2.6 0 1 0 5.2 0a2.6 2.6 0 1 0 -5.2 0M287.4 449.6a2.6 2.6 0 1 0 5.2 0a2.6 2.6 0 1 0 -5.2 0M291.72 455.13a2.6 2.6 0 1 0 5.2 0a2.6 2.6 0 1 0 -5.2 0M285.84 444.22a2.6 2.6 0 1 0 5.2 0a2.6 2.6 0 1 0 -5.2 0M285.39 452.86a2.6 2.6 0 1 0 5.2 0a2.6 2.6 0 1 0 -5.2 0M287.73 451.32a2.6 2.6 0 1 0 5.2 0a2.6 2.6 0 1 0 -5.2 0M292.04 453.05a2.6 2.6 0 1 0 5.2 0a2.6 2.6 0 1 0 -5.2 0M291.01 449.71a2.6 2.6 0 1 0 5.2 0a2.6 2.6 0 1 0 -5.2 0M286.79 446.95a2.6 2.6 0 1 0 5.2 0a2.6 2.6 0 1 0 -5.2 0M288.52 454.96a2.6 2.6 0 1 0 5.2 0a2.6 2.6 0 1 0 -5.2 0M288.21 454.66a2.6 2.6 0 1 0 5.2 0a2.6 2.6 0 1 0 -5.2 0M287.17 440.93a2.6 2.6 0 1 0 5.2 0a2.6 2.6 0 1 0 -5.2 0M292.42 453.83a2.6 2.6 0 1 0 5.2 0a2.6 2.6 0 1 0 -5.2 0M294.38 449.4a2.6 2.6 0 1 0 5.2 0a2.6 2.6 0 1 0 -5.2 0M294.29 453.68a2.6 2.6 0 1 0 5.2 0a2.6 2.6 0 1 0 -5.2 0M284.75 455.51a2.6 2.6 0 1 0 5.2 0a2.6 2.6 0 1 0 -5.2 0M284.71 456.96a2.6 2.6 0 1 0 5.2 0a2.6 2.6 0 1 0 -5.2 0M285.8 456.43a2.6 2.6 0 1 0 5.2 0a2.6 2.6 0 1 0 -5.2 0M285.99 453.98a2.6 2.6 0 1 0 5.2 0a2.6 2.6 0 1 0 -5.2 0M294.12 452.46a2.6 2.6 0 1 0 5.2 0a2.6 2.6 0 1 0 -5.2 0M288.86 453.45a2.6 2.6 0 1 0 5.2 0a2.6 2.6 0 1 0 -5.2 0M295.9 455.21a2.6 2.6 0 1 0 5.2 0a2.6 2.6 0 1 0 -5.2 0M287.86 447.44a2.6 2.6 0 1 0 5.2 0a2.6 2.6 0 1 0 -5.2 0M286.29 456.29a2.6 2.6 0 1 0 5.2 0a2.6 2.6 0 1 0 -5.2 0M288.38 449.21a2.6 2.6 0 1 0 5.2 0a2.6 2.6 0 1 0 -5.2 0M288.54 452.41a2.6 2.6 0 1 0 5.2 0a2.6 2.6 0 1 0 -5.2 0M286.22 449.3a2.6 2.6 0 1 0 5.2 0a2.6 2.6 0 1 0 -5.2 0M290.17 445.23a2.6 2.6 0 1 0 5.2 0a2.6 2.6 0 1 0 -5.2 0M287.57 454.72a2.6 2.6 0 1 0 5.2 0a2.6 2.6 0 1 0 -5.2 0M288.86 447.63a2.6 2.6 0 1 0 5.2 0a2.6 2.6 0 1 0 -5.2 0M284.63 453.07a2.6 2.6 0 1 0 5.2 0a2.6 2.6 0 1 0 -5.2 0M286.78 441.7a2.6 2.6 0 1 0 5.2 0a2.6 2.6 0 1 0 -5.2 0M286.8 436.28a2.6 2.6 0 1 0 5.2 0a2.6 2.6 0 1 0 -5.2 0M292.78 451.38a2.6 2.6 0 1 0 5.2 0a2.6 2.6 0 1 0 -5.2 0M295.61 453.64a2.6 2.6 0 1 0 5.2 0a2.6 2.6 0 1 0 -5.2 0M294.91 449.01a2.6 2.6 0 1 0 5.2 0a2.6 2.6 0 1 0 -5.2 0M286.61 443.35a2.6 2.6 0 1 0 5.2 0a2.6 2.6 0 1 0 -5.2 0M293.44 448.35a2.6 2.6 0 1 0 5.2 0a2.6 2.6 0 1 0 -5.2 0M292.43 434.13a2.6 2.6 0 1 0 5.2 0a2.6 2.6 0 1 0 -5.2 0M291.8 449.66a2.6 2.6 0 1 0 5.2 0a2.6 2.6 0 1 0 -5.2 0M294.5 435.34a2.6 2.6 0 1 0 5.2 0a2.6 2.6 0 1 0 -5.2 0M286.28 429.29a2.6 2.6 0 1 0 5.2 0a2.6 2.6 0 1 0 -5.2 0M295.89 455.86a2.6 2.6 0 1 0 5.2 0a2.6 2.6 0 1 0 -5.2 0M289.1 450.13a2.6 2.6 0 1 0 5.2 0a2.6 2.6 0 1 0 -5.2 0M286.64 450.44a2.6 2.6 0 1 0 5.2 0a2.6 2.6 0 1 0 -5.2 0M293.44 443.77a2.6 2.6 0 1 0 5.2 0a2.6 2.6 0 1 0 -5.2 0M293.59 440.31a2.6 2.6 0 1 0 5.2 0a2.6 2.6 0 1 0 -5.2 0M286.96 452.6a2.6 2.6 0 1 0 5.2 0a2.6 2.6 0 1 0 -5.2 0M290.94 451.59a2.6 2.6 0 1 0 5.2 0a2.6 2.6 0 1 0 -5.2 0M295 444.67a2.6 2.6 0 1 0 5.2 0a2.6 2.6 0 1 0 -5.2 0M285.57 455.2a2.6 2.6 0 1 0 5.2 0a2.6 2.6 0 1 0 -5.2 0M287.68 444.44a2.6 2.6 0 1 0 5.2 0a2.6 2.6 0 1 0 -5.2 0M284.93 448.69a2.6 2.6 0 1 0 5.2 0a2.6 2.6 0 1 0 -5.2 0M294.21 435.68a2.6 2.6 0 1 0 5.2 0a2.6 2.6 0 1 0 -5.2 0M291.22 452.77a2.6 2.6 0 1 0 5.2 0a2.6 2.6 0 1 0 -5.2 0M292.23 444.39a2.6 2.6 0 1 0 5.2 0a2.6 2.6 0 1 0 -5.2 0M292.26 450.45a2.6 2.6 0 1 0 5.2 0a2.6 2.6 0 1 0 -5.2 0M288.97 456.78a2.6 2.6 0 1 0 5.2 0a2.6 2.6 0 1 0 -5.2 0M290.31 450.15a2.6 2.6 0 1 0 5.2 0a2.6 2.6 0 1 0 -5.2 0M292.99 451.33a2.6 2.6 0 1 0 5.2 0a2.6 2.6 0 1 0 -5.2 0M285.81 455.91a2.6 2.6 0 1 0 5.2 0a2.6 2.6 0 1 0 -5.2 0M295.69 452.32a2.6 2.6 0 1 0 5.2 0a2.6 2.6 0 1 0 -5.2 0M294.89 453.87a2.6 2.6 0 1 0 5.2 0a2.6 2.6 0 1 0 -5.2 0M285.1 448.34a2.6 2.6 0 1 0 5.2 0a2.6 2.6 0 1 0 -5.2 0M286.87 448.35a2.6 2.6 0 1 0 5.2 0a2.6 2.6 0 1 0 -5.2 0M290.15 455.13a2.6 2.6 0 1 0 5.2 0a2.6 2.6 0 1 0 -5.2 0M284.93 430.96a2.6 2.6 0 1 0 5.2 0a2.6 2.6 0 1 0 -5.2 0M286.25 452.89a2.6 2.6 0 1 0 5.2 0a2.6 2.6 0 1 0 -5.2 0M294.29 450.64a2.6 2.6 0 1 0 5.2 0a2.6 2.6 0 1 0 -5.2 0M285.12 453.28a2.6 2.6 0 1 0 5.2 0a2.6 2.6 0 1 0 -5.2 0M285.61 456.73a2.6 2.6 0 1 0 5.2 0a2.6 2.6 0 1 0 -5.2 0M286.35 454.52a2.6 2.6 0 1 0 5.2 0a2.6 2.6 0 1 0 -5.2 0M295.81 450.58a2.6 2.6 0 1 0 5.2 0a2.6 2.6 0 1 0 -5.2 0M292.5 452.84a2.6 2.6 0 1 0 5.2 0a2.6 2.6 0 1 0 -5.2 0M287.23 446.7a2.6 2.6 0 1 0 5.2 0a2.6 2.6 0 1 0 -5.2 0M285.3 452.24a2.6 2.6 0 1 0 5.2 0a2.6 2.6 0 1 0 -5.2 0M292.6 448.03a2.6 2.6 0 1 0 5.2 0a2.6 2.6 0 1 0 -5.2 0M285.67 452.42a2.6 2.6 0 1 0 5.2 0a2.6 2.6 0 1 0 -5.2 0M286.09 454.02a2.6 2.6 0 1 0 5.2 0a2.6 2.6 0 1 0 -5.2 0M288.58 445.27a2.6 2.6 0 1 0 5.2 0a2.6 2.6 0 1 0 -5.2 0M294.86 455.23a2.6 2.6 0 1 0 5.2 0a2.6 2.6 0 1 0 -5.2 0M289.65 443.74a2.6 2.6 0 1 0 5.2 0a2.6 2.6 0 1 0 -5.2 0M291.57 446.6a2.6 2.6 0 1 0 5.2 0a2.6 2.6 0 1 0 -5.2 0M291.87 452.3a2.6 2.6 0 1 0 5.2 0a2.6 2.6 0 1 0 -5.2 0M294.47 450.8a2.6 2.6 0 1 0 5.2 0a2.6 2.6 0 1 0 -5.2 0M294.75 457.34a2.6 2.6 0 1 0 5.2 0a2.6 2.6 0 1 0 -5.2 0M292.81 449.63a2.6 2.6 0 1 0 5.2 0a2.6 2.6 0 1 0 -5.2 0M286.07 446.71a2.6 2.6 0 1 0 5.2 0a2.6 2.6 0 1 0 -5.2 0M290.92 456.75a2.6 2.6 0 1 0 5.2 0a2.6 2.6 0 1 0 -5.2 0M295.91 452.61a2.6 2.6 0 1 0 5.2 0a2.6 2.6 0 1 0 -5.2 0M284.91 453.05a2.6 2.6 0 1 0 5.2 0a2.6 2.6 0 1 0 -5.2 0M293.26 439.31a2.6 2.6 0 1 0 5.2 0a2.6 2.6 0 1 0 -5.2 0M291.88 452.24a2.6 2.6 0 1 0 5.2 0a2.6 2.6 0 1 0 -5.2 0M287.83 453.37a2.6 2.6 0 1 0 5.2 0a2.6 2.6 0 1 0 -5.2 0M286.28 448.61a2.6 2.6 0 1 0 5.2 0a2.6 2.6 0 1 0 -5.2 0M294.48 453.84a2.6 2.6 0 1 0 5.2 0a2.6 2.6 0 1 0 -5.2 0M288.08 451.83a2.6 2.6 0 1 0 5.2 0a2.6 2.6 0 1 0 -5.2 0M292.81 450.26a2.6 2.6 0 1 0 5.2 0a2.6 2.6 0 1 0 -5.2 0M295.39 428.75a2.6 2.6 0 1 0 5.2 0a2.6 2.6 0 1 0 -5.2 0M291.13 445.31a2.6 2.6 0 1 0 5.2 0a2.6 2.6 0 1 0 -5.2 0M294.57 449.1a2.6 2.6 0 1 0 5.2 0a2.6 2.6 0 1 0 -5.2 0M295.67 446.47a2.6 2.6 0 1 0 5.2 0a2.6 2.6 0 1 0 -5.2 0M287.9 438.07a2.6 2.6 0 1 0 5.2 0a2.6 2.6 0 1 0 -5.2 0M288.1 457.23a2.6 2.6 0 1 0 5.2 0a2.6 2.6 0 1 0 -5.2 0M288.91 445.54a2.6 2.6 0 1 0 5.2 0a2.6 2.6 0 1 0 -5.2 0M289.75 449.13a2.6 2.6 0 1 0 5.2 0a2.6 2.6 0 1 0 -5.2 0M288.06 449.4a2.6 2.6 0 1 0 5.2 0a2.6 2.6 0 1 0 -5.2 0M292.4 447.44a2.6 2.6 0 1 0 5.2 0a2.6 2.6 0 1 0 -5.2 0M286.07 442.17a2.6 2.6 0 1 0 5.2 0a2.6 2.6 0 1 0 -5.2 0M286.03 452.97a2.6 2.6 0 1 0 5.2 0a2.6 2.6 0 1 0 -5.2 0M294.23 454.27a2.6 2.6 0 1 0 5.2 0a2.6 2.6 0 1 0 -5.2 0M295.5 442.09a2.6 2.6 0 1 0 5.2 0a2.6 2.6 0 1 0 -5.2 0M294.11 454.92a2.6 2.6 0 1 0 5.2 0a2.6 2.6 0 1 0 -5.2 0M293.56 453.18a2.6 2.6 0 1 0 5.2 0a2.6 2.6 0 1 0 -5.2 0M292.91 454.43a2.6 2.6 0 1 0 5.2 0a2.6 2.6 0 1 0 -5.2 0M288.09 446.32a2.6 2.6 0 1 0 5.2 0a2.6 2.6 0 1 0 -5.2 0M292.89 437.82a2.6 2.6 0 1 0 5.2 0a2.6 2.6 0 1 0 -5.2 0M288.91 452a2.6 2.6 0 1 0 5.2 0a2.6 2.6 0 1 0 -5.2 0M295.08 451.79a2.6 2.6 0 1 0 5.2 0a2.6 2.6 0 1 0 -5.2 0M295.02 456.46a2.6 2.6 0 1 0 5.2 0a2.6 2.6 0 1 0 -5.2 0M293.02 451.55a2.6 2.6 0 1 0 5.2 0a2.6 2.6 0 1 0 -5.2 0M288.96 455.13a2.6 2.6 0 1 0 5.2 0a2.6 2.6 0 1 0 -5.2 0M288.08 448.62a2.6 2.6 0 1 0 5.2 0a2.6 2.6 0 1 0 -5.2 0M289.19 451.09a2.6 2.6 0 1 0 5.2 0a2.6 2.6 0 1 0 -5.2 0M285.04 439.03a2.6 2.6 0 1 0 5.2 0a2.6 2.6 0 1 0 -5.2 0M293.07 455.75a2.6 2.6 0 1 0 5.2 0a2.6 2.6 0 1 0 -5.2 0M295.68 420.37a2.6 2.6 0 1 0 5.2 0a2.6 2.6 0 1 0 -5.2 0M285.75 457.01a2.6 2.6 0 1 0 5.2 0a2.6 2.6 0 1 0 -5.2 0M287.53 455.7a2.6 2.6 0 1 0 5.2 0a2.6 2.6 0 1 0 -5.2 0M286.44 453.27a2.6 2.6 0 1 0 5.2 0a2.6 2.6 0 1 0 -5.2 0M293.37 457.02a2.6 2.6 0 1 0 5.2 0a2.6 2.6 0 1 0 -5.2 0M294.67 452.71a2.6 2.6 0 1 0 5.2 0a2.6 2.6 0 1 0 -5.2 0M295.03 452.58a2.6 2.6 0 1 0 5.2 0a2.6 2.6 0 1 0 -5.2 0M294.05 450.97a2.6 2.6 0 1 0 5.2 0a2.6 2.6 0 1 0 -5.2 0M284.76 454.85a2.6 2.6 0 1 0 5.2 0a2.6 2.6 0 1 0 -5.2 0M289.48 447.86a2.6 2.6 0 1 0 5.2 0a2.6 2.6 0 1 0 -5.2 0M286.75 451.36a2.6 2.6 0 1 0 5.2 0a2.6 2.6 0 1 0 -5.2 0M285.4 457.6a2.6 2.6 0 1 0 5.2 0a2.6 2.6 0 1 0 -5.2 0M286.83 452.18a2.6 2.6 0 1 0 5.2 0a2.6 2.6 0 1 0 -5.2 0M295.67 454.64a2.6 2.6 0 1 0 5.2 0a2.6 2.6 0 1 0 -5.2 0M288.04 452.15a2.6 2.6 0 1 0 5.2 0a2.6 2.6 0 1 0 -5.2 0M290.07 434.44a2.6 2.6 0 1 0 5.2 0a2.6 2.6 0 1 0 -5.2 0M292.82 449.84a2.6 2.6 0 1 0 5.2 0a2.6 2.6 0 1 0 -5.2 0M285.66 447.34a2.6 2.6 0 1 0 5.2 0a2.6 2.6 0 1 0 -5.2 0M292.99 451.26a2.6 2.6 0 1 0 5.2 0a2.6 2.6 0 1 0 -5.2 0M289.62 451.45a2.6 2.6 0 1 0 5.2 0a2.6 2.6 0 1 0 -5.2 0M293.58 456.6a2.6 2.6 0 1 0 5.2 0a2.6 2.6 0 1 0 -5.2 0M288.86 452.79a2.6 2.6 0 1 0 5.2 0a2.6 2.6 0 1 0 -5.2 0M287.73 453.83a2.6 2.6 0 1 0 5.2 0a2.6 2.6 0 1 0 -5.2 0M291.17 457.67a2.6 2.6 0 1 0 5.2 0a2.6 2.6 0 1 0 -5.2 0M292.28 457.39a2.6 2.6 0 1 0 5.2 0a2.6 2.6 0 1 0 -5.2 0M294.15 453.7a2.6 2.6 0 1 0 5.2 0a2.6 2.6 0 1 0 -5.2 0M291.34 450.67a2.6 2.6 0 1 0 5.2 0a2.6 2.6 0 1 0 -5.2 0M290.57 446.56a2.6 2.6 0 1 0 5.2 0a2.6 2.6 0 1 0 -5.2 0M288.17 453.7a2.6 2.6 0 1 0 5.2 0a2.6 2.6 0 1 0 -5.2 0M291.46 451.97a2.6 2.6 0 1 0 5.2 0a2.6 2.6 0 1 0 -5.2 0M289.63 440.91a2.6 2.6 0 1 0 5.2 0a2.6 2.6 0 1 0 -5.2 0M292.33 442.31a2.6 2.6 0 1 0 5.2 0a2.6 2.6 0 1 0 -5.2 0M284.5 452.06a2.6 2.6 0 1 0 5.2 0a2.6 2.6 0 1 0 -5.2 0M291.08 450.93a2.6 2.6 0 1 0 5.2 0a2.6 2.6 0 1 0 -5.2 0M293.98 450.9a2.6 2.6 0 1 0 5.2 0a2.6 2.6 0 1 0 -5.2 0M284.76 443.54a2.6 2.6 0 1 0 5.2 0a2.6 2.6 0 1 0 -5.2 0M290.53 449.73a2.6 2.6 0 1 0 5.2 0a2.6 2.6 0 1 0 -5.2 0M291.67 445.75a2.6 2.6 0 1 0 5.2 0a2.6 2.6 0 1 0 -5.2 0M295.01 454.87a2.6 2.6 0 1 0 5.2 0a2.6 2.6 0 1 0 -5.2 0M290.06 450.15a2.6 2.6 0 1 0 5.2 0a2.6 2.6 0 1 0 -5.2 0M288.95 446.74a2.6 2.6 0 1 0 5.2 0a2.6 2.6 0 1 0 -5.2 0M294.4 457.57a2.6 2.6 0 1 0 5.2 0a2.6 2.6 0 1 0 -5.2 0M291.39 448.06a2.6 2.6 0 1 0 5.2 0a2.6 2.6 0 1 0 -5.2 0M284.9 451.03a2.6 2.6 0 1 0 5.2 0a2.6 2.6 0 1 0 -5.2 0M295.34 449.74a2.6 2.6 0 1 0 5.2 0a2.6 2.6 0 1 0 -5.2 0M284.95 451.84a2.6 2.6 0 1 0 5.2 0a2.6 2.6 0 1 0 -5.2 0M293.99 439.54a2.6 2.6 0 1 0 5.2 0a2.6 2.6 0 1 0 -5.2 0M291.43 455.22a2.6 2.6 0 1 0 5.2 0a2.6 2.6 0 1 0 -5.2 0M288.75 446.38a2.6 2.6 0 1 0 5.2 0a2.6 2.6 0 1 0 -5.2 0M287.61 448.86a2.6 2.6 0 1 0 5.2 0a2.6 2.6 0 1 0 -5.2 0M293.92 456a2.6 2.6 0 1 0 5.2 0a2.6 2.6 0 1 0 -5.2 0M287.02 451.81a2.6 2.6 0 1 0 5.2 0a2.6 2.6 0 1 0 -5.2 0M295.37 456.93a2.6 2.6 0 1 0 5.2 0a2.6 2.6 0 1 0 -5.2 0M291.17 443.2a2.6 2.6 0 1 0 5.2 0a2.6 2.6 0 1 0 -5.2 0M291.87 451.04a2.6 2.6 0 1 0 5.2 0a2.6 2.6 0 1 0 -5.2 0M285.36 442.36a2.6 2.6 0 1 0 5.2 0a2.6 2.6 0 1 0 -5.2 0M295.43 450.15a2.6 2.6 0 1 0 5.2 0a2.6 2.6 0 1 0 -5.2 0M290.37 443.76a2.6 2.6 0 1 0 5.2 0a2.6 2.6 0 1 0 -5.2 0M291.95 453.05a2.6 2.6 0 1 0 5.2 0a2.6 2.6 0 1 0 -5.2 0M294.4 453.73a2.6 2.6 0 1 0 5.2 0a2.6 2.6 0 1 0 -5.2 0M288.65 452.67a2.6 2.6 0 1 0 5.2 0a2.6 2.6 0 1 0 -5.2 0M288.45 453.24a2.6 2.6 0 1 0 5.2 0a2.6 2.6 0 1 0 -5.2 0M292.87 450.91a2.6 2.6 0 1 0 5.2 0a2.6 2.6 0 1 0 -5.2 0M287.32 454.62a2.6 2.6 0 1 0 5.2 0a2.6 2.6 0 1 0 -5.2 0M288.97 447.33a2.6 2.6 0 1 0 5.2 0a2.6 2.6 0 1 0 -5.2 0M286.64 452.82a2.6 2.6 0 1 0 5.2 0a2.6 2.6 0 1 0 -5.2 0M286.34 449.4a2.6 2.6 0 1 0 5.2 0a2.6 2.6 0 1 0 -5.2 0M287.45 454.15a2.6 2.6 0 1 0 5.2 0a2.6 2.6 0 1 0 -5.2 0M285.45 445.8a2.6 2.6 0 1 0 5.2 0a2.6 2.6 0 1 0 -5.2 0M287.95 456.22a2.6 2.6 0 1 0 5.2 0a2.6 2.6 0 1 0 -5.2 0M293.73 442.37a2.6 2.6 0 1 0 5.2 0a2.6 2.6 0 1 0 -5.2 0M293.3 444.19a2.6 2.6 0 1 0 5.2 0a2.6 2.6 0 1 0 -5.2 0" fill="none" stroke="#4472C4" stroke-width="1.3"/>
<line x1="143.88" y1="291.5" x2="143.88" y2="463.2" stroke="#000" stroke-width="1.7" stroke-dasharray="3.9 2.3"/>
<line x1="179.55" y1="291.5" x2="179.55" y2="463.2" stroke="#000" stroke-width="1.7" stroke-dasharray="3.9 2.3"/>
<line x1="207.4" y1="291.5" x2="207.4" y2="463.2" stroke="#000" stroke-width="1.7" stroke-dasharray="3.9 2.3"/>
<line x1="229.88" y1="291.5" x2="229.88" y2="463.2" stroke="#000" stroke-width="1.7" stroke-dasharray="3.9 2.3"/>
<line x1="250.4" y1="291.5" x2="250.4" y2="463.2" stroke="#000" stroke-width="1.7" stroke-dasharray="3.9 2.3"/>
<line x1="268.96" y1="291.5" x2="268.96" y2="463.2" stroke="#000" stroke-width="1.7" stroke-dasharray="3.9 2.3"/>
<line x1="285.58" y1="291.5" x2="285.58" y2="463.2" stroke="#000" stroke-width="1.7" stroke-dasharray="3.9 2.3"/>
<line x1="43.5" y1="8.1" x2="226.7" y2="8.1" stroke="#000" stroke-width="1.6"/>
<line x1="225.9" y1="7.3" x2="225.9" y2="183.1" stroke="#000" stroke-width="1.6"/>
<line x1="314.6" y1="9" x2="499.1" y2="9" stroke="#000" stroke-width="1.6"/>
<line x1="498.3" y1="8.2" x2="498.3" y2="182.5" stroke="#000" stroke-width="1.6"/>
<line x1="57.4" y1="290.5" x2="302.5" y2="290.5" stroke="#000" stroke-width="1.6"/>
<line x1="301.7" y1="289.7" x2="301.7" y2="463.2" stroke="#000" stroke-width="1.6"/>
<text transform="translate(27.57 186.2) scale(1.1700 1.0000)" style="font-family:'Liberation Sans', Arial, sans-serif;font-weight:bold;font-size:9.01px" fill="#000" stroke="#000" stroke-width="0.3">0</text>
<text transform="translate(18.77 157.03) scale(1.1700 1.0000)" style="font-family:'Liberation Sans', Arial, sans-serif;font-weight:bold;font-size:9.01px" fill="#000" stroke="#000" stroke-width="0.3">0.2</text>
<text transform="translate(18.4 127.87) scale(1.1700 1.0000)" style="font-family:'Liberation Sans', Arial, sans-serif;font-weight:bold;font-size:9.01px" fill="#000" stroke="#000" stroke-width="0.3">0.4</text>
<text transform="translate(18.72 98.7) scale(1.1700 1.0000)" style="font-family:'Liberation Sans', Arial, sans-serif;font-weight:bold;font-size:9.01px" fill="#000" stroke="#000" stroke-width="0.3">0.6</text>
<text transform="translate(18.67 69.53) scale(1.1700 1.0000)" style="font-family:'Liberation Sans', Arial, sans-serif;font-weight:bold;font-size:9.01px" fill="#000" stroke="#000" stroke-width="0.3">0.8</text>
<text transform="translate(27.43 40.37) scale(1.1700 1.0000)" style="font-family:'Liberation Sans', Arial, sans-serif;font-weight:bold;font-size:9.01px" fill="#000" stroke="#000" stroke-width="0.3">1</text>
<text transform="translate(18.77 11.2) scale(1.1700 1.0000)" style="font-family:'Liberation Sans', Arial, sans-serif;font-weight:bold;font-size:9.01px" fill="#000" stroke="#000" stroke-width="0.3">1.2</text>
<text transform="translate(40.57 197) scale(1.1700 1.0000)" style="font-family:'Liberation Sans', Arial, sans-serif;font-weight:bold;font-size:9.01px" fill="#000" stroke="#000" stroke-width="0.3">0</text>
<text transform="translate(311.67 196.7) scale(1.1700 1.0000)" style="font-family:'Liberation Sans', Arial, sans-serif;font-weight:bold;font-size:9.01px" fill="#000" stroke="#000" stroke-width="0.3">0</text>
<text transform="translate(95.56 197) scale(1.1700 1.0000)" style="font-family:'Liberation Sans', Arial, sans-serif;font-weight:bold;font-size:9.01px" fill="#000" stroke="#000" stroke-width="0.3">500</text>
<text transform="translate(367.09 196.7) scale(1.1700 1.0000)" style="font-family:'Liberation Sans', Arial, sans-serif;font-weight:bold;font-size:9.01px" fill="#000" stroke="#000" stroke-width="0.3">500</text>
<text transform="translate(153.26 197) scale(1.1700 1.0000)" style="font-family:'Liberation Sans', Arial, sans-serif;font-weight:bold;font-size:9.01px" fill="#000" stroke="#000" stroke-width="0.3">1000</text>
<text transform="translate(425.23 196.7) scale(1.1700 1.0000)" style="font-family:'Liberation Sans', Arial, sans-serif;font-weight:bold;font-size:9.01px" fill="#000" stroke="#000" stroke-width="0.3">1000</text>
<text transform="translate(214.06 197) scale(1.1700 1.0000)" style="font-family:'Liberation Sans', Arial, sans-serif;font-weight:bold;font-size:9.01px" fill="#000" stroke="#000" stroke-width="0.3">1500</text>
<text transform="translate(486.46 196.7) scale(1.1700 1.0000)" style="font-family:'Liberation Sans', Arial, sans-serif;font-weight:bold;font-size:9.01px" fill="#000" stroke="#000" stroke-width="0.3">1500</text>
<rect x="72" y="11" width="120" height="13" fill="#fff"/>
<rect x="345" y="11" width="121" height="13.3" fill="#fff"/>
<text transform="translate(73.66 21.9) scale(1.1903 1.0000)" style="font-family:'Liberation Sans', Arial, sans-serif;font-weight:bold;font-size:9.3px" fill="#000" stroke="#000" stroke-width="0.3">Large Specimens (3D)</text>
<text transform="translate(346.25 22.2) scale(1.1713 1.0000)" style="font-family:'Liberation Sans', Arial, sans-serif;font-weight:bold;font-size:9.59px" fill="#000" stroke="#000" stroke-width="0.3">Large Specimens (2D)</text>
<text transform="translate(94.66 210.6) scale(1.0957 1.0000)" style="font-family:'Liberation Sans', Arial, sans-serif;font-weight:bold;font-size:10.03px" fill="#000" stroke="#000" stroke-width="0.3">Defect size, µm</text>
<text transform="translate(365.96 209.4) scale(1.1070 1.0000)" style="font-family:'Liberation Sans', Arial, sans-serif;font-weight:bold;font-size:10.03px" fill="#000" stroke="#000" stroke-width="0.3">Defect size, µm</text>
<text transform="translate(12.9 145.37) rotate(-90) scale(0.9430 1)" style="font-family:'Liberation Sans', Arial, sans-serif;font-weight:bold;font-size:9.59px" fill="#000" stroke="#000" stroke-width="0.3">Cumulative Probability</text>
<text transform="translate(42.76 466.75) scale(1.0800 1.0000)" style="font-family:'Liberation Sans', Arial, sans-serif;font-weight:bold;font-size:10.32px" fill="#000" stroke="#000" stroke-width="0.3">0</text>
<text transform="translate(30.37 443.72) scale(1.0800 1.0000)" style="font-family:'Liberation Sans', Arial, sans-serif;font-weight:bold;font-size:10.32px" fill="#000" stroke="#000" stroke-width="0.3">200</text>
<text transform="translate(30.37 420.7) scale(1.0800 1.0000)" style="font-family:'Liberation Sans', Arial, sans-serif;font-weight:bold;font-size:10.32px" fill="#000" stroke="#000" stroke-width="0.3">400</text>
<text transform="translate(30.37 397.67) scale(1.0800 1.0000)" style="font-family:'Liberation Sans', Arial, sans-serif;font-weight:bold;font-size:10.32px" fill="#000" stroke="#000" stroke-width="0.3">600</text>
<text transform="translate(30.37 374.64) scale(1.0800 1.0000)" style="font-family:'Liberation Sans', Arial, sans-serif;font-weight:bold;font-size:10.32px" fill="#000" stroke="#000" stroke-width="0.3">800</text>
<text transform="translate(24.17 351.62) scale(1.0800 1.0000)" style="font-family:'Liberation Sans', Arial, sans-serif;font-weight:bold;font-size:10.32px" fill="#000" stroke="#000" stroke-width="0.3">1000</text>
<text transform="translate(24.17 328.59) scale(1.0800 1.0000)" style="font-family:'Liberation Sans', Arial, sans-serif;font-weight:bold;font-size:10.32px" fill="#000" stroke="#000" stroke-width="0.3">1200</text>
<text transform="translate(24.17 305.56) scale(1.0800 1.0000)" style="font-family:'Liberation Sans', Arial, sans-serif;font-weight:bold;font-size:10.32px" fill="#000" stroke="#000" stroke-width="0.3">1400</text>
<text transform="translate(54.35 479.7) scale(1.0800 1.0000)" style="font-family:'Liberation Sans', Arial, sans-serif;font-weight:bold;font-size:10.17px" fill="#000" stroke="#000" stroke-width="0.3">0</text>
<text transform="translate(103.01 479.7) scale(1.0800 1.0000)" style="font-family:'Liberation Sans', Arial, sans-serif;font-weight:bold;font-size:10.17px" fill="#000" stroke="#000" stroke-width="0.3">1</text>
<text transform="translate(152.09 479.7) scale(1.0800 1.0000)" style="font-family:'Liberation Sans', Arial, sans-serif;font-weight:bold;font-size:10.17px" fill="#000" stroke="#000" stroke-width="0.3">2</text>
<text transform="translate(201 479.7) scale(1.0800 1.0000)" style="font-family:'Liberation Sans', Arial, sans-serif;font-weight:bold;font-size:10.17px" fill="#000" stroke="#000" stroke-width="0.3">3</text>
<text transform="translate(249.73 479.7) scale(1.0800 1.0000)" style="font-family:'Liberation Sans', Arial, sans-serif;font-weight:bold;font-size:10.17px" fill="#000" stroke="#000" stroke-width="0.3">4</text>
<text transform="translate(298.63 479.7) scale(1.0800 1.0000)" style="font-family:'Liberation Sans', Arial, sans-serif;font-weight:bold;font-size:10.17px" fill="#000" stroke="#000" stroke-width="0.3">5</text>
<text transform="translate(103.17 495.8) scale(0.9800 1.0000)" style="font-family:'Liberation Sans', Arial, sans-serif;font-weight:bold;font-size:11.05px" fill="#000" stroke="#000" stroke-width="0.3">Distance from the center, mm</text>
<text transform="translate(19.2 439.82) rotate(-90) scale(1.0703 1)" style="font-family:'Liberation Sans', Arial, sans-serif;font-weight:bold;font-size:10.17px" fill="#000" stroke="#000" stroke-width="0.3">Square Root of Area, µm</text>
<text transform="translate(62.47 302.3) scale(1.0437 1.0000)" style="font-family:'Liberation Sans', Arial, sans-serif;font-weight:bold;font-size:10.47px" fill="#000" stroke="#000" stroke-width="0.3">Rings:</text>
<text transform="translate(107.91 302.5) scale(1.0597 1.0000)" style="font-family:'Liberation Sans', Arial, sans-serif;font-weight:bold;font-size:10.47px" fill="#000" stroke="#000" stroke-width="0.3">#8</text>
<text transform="translate(155.81 302.5) scale(1.0547 1.0000)" style="font-family:'Liberation Sans', Arial, sans-serif;font-weight:bold;font-size:10.47px" fill="#000" stroke="#000" stroke-width="0.3">#7</text>
<text transform="translate(188.21 302.5) scale(1.0467 1.0000)" style="font-family:'Liberation Sans', Arial, sans-serif;font-weight:bold;font-size:10.47px" fill="#000" stroke="#000" stroke-width="0.3">#6</text>
<text transform="translate(212.5 302.5) scale(1.1463 1.0000)" style="font-family:'Liberation Sans', Arial, sans-serif;font-weight:bold;font-size:10.47px" fill="#000" stroke="#000" stroke-width="0.3">#5</text>
<text transform="translate(233.82 302.5) scale(1.0169 1.0000)" style="font-family:'Liberation Sans', Arial, sans-serif;font-weight:bold;font-size:10.47px" fill="#000" stroke="#000" stroke-width="0.3">#4</text>
<text transform="translate(254.62 302.5) scale(1.0286 1.0000)" style="font-family:'Liberation Sans', Arial, sans-serif;font-weight:bold;font-size:10.47px" fill="#000" stroke="#000" stroke-width="0.3">#3</text>
<text transform="translate(272.81 302.5) scale(1.0507 1.0000)" style="font-family:'Liberation Sans', Arial, sans-serif;font-weight:bold;font-size:10.47px" fill="#000" stroke="#000" stroke-width="0.3">#2</text>
<text transform="translate(286.83 302.5) scale(0.9762 1.0000)" style="font-family:'Liberation Sans', Arial, sans-serif;font-weight:bold;font-size:10.47px" fill="#000" stroke="#000" stroke-width="0.3">#1</text>
<text transform="translate(112.16 258) scale(1.0380 1.0000)" style="font-family:'Liberation Serif', 'Times New Roman', serif;font-weight:normal;font-size:14.05px" fill="#000" stroke="#000" stroke-width="0.25">(a)</text>
<text transform="translate(384.54 258) scale(1.0699 1.0000)" style="font-family:'Liberation Serif', 'Times New Roman', serif;font-weight:normal;font-size:14.05px" fill="#000" stroke="#000" stroke-width="0.25">(b)</text>
<text transform="translate(249.18 544.5) scale(1.0101 1.0000)" style="font-family:'Liberation Serif', 'Times New Roman', serif;font-weight:normal;font-size:14.05px" fill="#000" stroke="#000" stroke-width="0.25">(c)</text>
<circle cx="387" cy="381.2" r="75.6" fill="#efefef" stroke="#a8a8a8" stroke-width="1.2"/>
<circle cx="387" cy="381.2" r="70.6" fill="none" stroke="#a8a8a8" stroke-width="1.2"/>
<circle cx="387" cy="381.2" r="65.4" fill="none" stroke="#a8a8a8" stroke-width="1.2"/>
<circle cx="387" cy="381.2" r="59.8" fill="none" stroke="#a8a8a8" stroke-width="1.2"/>
<circle cx="387" cy="381.2" r="53.5" fill="none" stroke="#a8a8a8" stroke-width="1.2"/>
<circle cx="387" cy="381.2" r="46.2" fill="none" stroke="#a8a8a8" stroke-width="1.2"/>
<circle cx="387" cy="381.2" r="38.2" fill="none" stroke="#a8a8a8" stroke-width="1.2"/>
<circle cx="387" cy="381.2" r="26.8" fill="none" stroke="#a8a8a8" stroke-width="1.2"/>
<path d="M410 311.6l4.4 -2.1v4.2Z" fill="#111"/>
<line x1="415" y1="311.6" x2="483.5" y2="311.6" stroke="#222" stroke-width="1.05" stroke-dasharray="1.9 1.8"/>
<text transform="translate(488.04 313.4) scale(0.3087 0.2500)" style="font-family:'NanumGothic', 'Liberation Sans', sans-serif;font-weight:normal;font-size:30.15px" fill="#111" stroke="#111" stroke-width="1.2">Ring 1</text>
<path d="M416.4 321.3l4.4 -2.1v4.2Z" fill="#111"/>
<line x1="421.4" y1="321.3" x2="484" y2="321.3" stroke="#222" stroke-width="1.05" stroke-dasharray="1.9 1.8"/>
<text transform="translate(488.09 323.03) scale(0.2927 0.2500)" style="font-family:'NanumGothic', 'Liberation Sans', sans-serif;font-weight:normal;font-size:30.15px" fill="#111" stroke="#111" stroke-width="1.2">Ring 2</text>
<path d="M418.9 330.9l4.4 -2.1v4.2Z" fill="#111"/>
<line x1="423.9" y1="330.9" x2="483.5" y2="330.9" stroke="#222" stroke-width="1.05" stroke-dasharray="1.9 1.8"/>
<text transform="translate(488.09 332.66) scale(0.2921 0.2500)" style="font-family:'NanumGothic', 'Liberation Sans', sans-serif;font-weight:normal;font-size:30.15px" fill="#111" stroke="#111" stroke-width="1.2">Ring 3</text>
<path d="M425.1 340.5l4.4 -2.1v4.2Z" fill="#111"/>
<line x1="430.1" y1="340.5" x2="484" y2="340.5" stroke="#222" stroke-width="1.05" stroke-dasharray="1.9 1.8"/>
<text transform="translate(488.11 342.29) scale(0.2864 0.2500)" style="font-family:'NanumGothic', 'Liberation Sans', sans-serif;font-weight:normal;font-size:30.15px" fill="#111" stroke="#111" stroke-width="1.2">Ring 4</text>
<path d="M426.6 350.4l4.4 -2.1v4.2Z" fill="#111"/>
<line x1="431.6" y1="350.4" x2="483" y2="350.4" stroke="#222" stroke-width="1.05" stroke-dasharray="1.9 1.8"/>
<text transform="translate(488.1 351.92) scale(0.2905 0.2500)" style="font-family:'NanumGothic', 'Liberation Sans', sans-serif;font-weight:normal;font-size:30.15px" fill="#111" stroke="#111" stroke-width="1.2">Ring 5</text>
<path d="M422.6 360.1l4.4 -2.1v4.2Z" fill="#111"/>
<line x1="427.6" y1="360.1" x2="483" y2="360.1" stroke="#222" stroke-width="1.05" stroke-dasharray="1.9 1.8"/>
<text transform="translate(488.1 361.55) scale(0.2886 0.2500)" style="font-family:'NanumGothic', 'Liberation Sans', sans-serif;font-weight:normal;font-size:30.15px" fill="#111" stroke="#111" stroke-width="1.2">Ring 6</text>
<path d="M415.1 369.7l4.4 -2.1v4.2Z" fill="#111"/>
<line x1="420.1" y1="369.7" x2="485" y2="369.7" stroke="#222" stroke-width="1.05" stroke-dasharray="1.9 1.8"/>
<text transform="translate(488.1 371.18) scale(0.2911 0.2500)" style="font-family:'NanumGothic', 'Liberation Sans', sans-serif;font-weight:normal;font-size:30.15px" fill="#111" stroke="#111" stroke-width="1.2">Ring 7</text>
<path d="M389.1 379.4l4.4 -2.1v4.2Z" fill="#111"/>
<line x1="394.1" y1="379.4" x2="483.5" y2="379.4" stroke="#222" stroke-width="1.05" stroke-dasharray="1.9 1.8"/>
<text transform="translate(488.1 380.81) scale(0.2882 0.2500)" style="font-family:'NanumGothic', 'Liberation Sans', sans-serif;font-weight:normal;font-size:30.15px" fill="#111" stroke="#111" stroke-width="1.2">Ring 8</text></svg>
</body></html>
